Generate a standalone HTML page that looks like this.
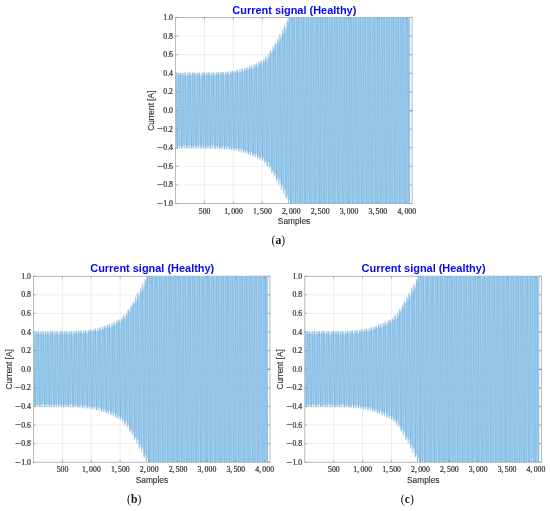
<!DOCTYPE html>
<html><head><meta charset="utf-8"><title>Current signal (Healthy)</title>
<style>
html,body{margin:0;padding:0;background:#fff;}
body{width:550px;height:511px;overflow:hidden;}
svg{display:block;}
.tk{font-family:"Liberation Serif","DejaVu Serif",serif;font-size:7.8px;fill:#2e2e2e;stroke:#2e2e2e;stroke-width:0.2;}
.lb{font-family:"Liberation Sans","DejaVu Sans",sans-serif;font-size:8.35px;fill:#2c2c2c;stroke:#2c2c2c;stroke-width:0.1;}
.tt{font-family:"Liberation Sans","DejaVu Sans",sans-serif;font-size:10.95px;font-weight:bold;fill:#0606fa;}
.cp{font-family:"Liberation Serif","DejaVu Serif",serif;font-size:11.7px;fill:#111;}
</style></head><body>
<svg width="550" height="511" viewBox="0 0 550 511">
<rect width="550" height="511" fill="#fff"/>
<g>
<path d="M204.47 17.50V203.50M233.34 17.50V203.50M262.21 17.50V203.50M291.08 17.50V203.50M319.95 17.50V203.50M348.82 17.50V203.50M377.69 17.50V203.50M406.56 17.50V203.50M175.60 36.10H412.10M175.60 54.70H412.10M175.60 73.30H412.10M175.60 91.90H412.10M175.60 110.50H412.10M175.60 129.10H412.10M175.60 147.70H412.10M175.60 166.30H412.10M175.60 184.90H412.10" stroke="#e9e9e9" stroke-width="0.6" fill="none"/>
<rect x="175.60" y="17.50" width="236.50" height="186.00" fill="none" stroke="#9c9c9c" stroke-width="0.7"/>
<clipPath id="clip1"><rect x="175.60" y="17.10" width="236.50" height="186.80"/></clipPath>
<g clip-path="url(#clip1)" stroke-linejoin="round"><polygon points="175.6,73.7 175.7,73.2 175.8,72.6 175.9,72.1 176.1,72.5 176.2,73.0 176.3,73.5 176.4,74.0 176.5,74.5 176.6,74.8 176.8,74.8 176.9,74.8 177.0,74.9 177.1,74.9 177.2,74.9 177.3,74.9 177.4,75.0 177.6,75.0 177.7,75.0 177.8,74.6 177.9,74.1 178.0,73.6 178.1,73.1 178.3,72.6 178.4,72.5 178.5,73.1 178.6,73.6 178.7,74.1 178.8,74.7 178.9,75.2 179.1,75.2 179.2,75.2 179.3,75.2 179.4,75.2 179.5,75.2 179.6,75.1 179.8,75.1 179.9,75.1 180.0,75.0 180.1,74.8 180.2,74.2 180.3,73.7 180.5,73.1 180.6,72.6 180.7,72.0 180.8,72.4 180.9,72.9 181.0,73.4 181.1,73.9 181.3,74.5 181.4,74.8 181.5,74.8 181.6,74.8 181.7,74.8 181.8,74.8 182.0,74.9 182.1,74.9 182.2,74.9 182.3,75.0 182.4,75.0 182.5,74.6 182.6,74.1 182.8,73.7 182.9,73.2 183.0,72.8 183.1,72.8 183.2,73.4 183.3,74.0 183.5,74.5 183.6,75.1 183.7,75.7 183.8,75.8 183.9,75.8 184.0,75.9 184.1,75.9 184.3,75.9 184.4,76.0 184.5,76.0 184.6,76.0 184.7,76.0 184.8,75.8 185.0,75.2 185.1,74.7 185.2,74.2 185.3,73.6 185.4,73.1 185.5,73.5 185.6,74.0 185.8,74.4 185.9,74.9 186.0,75.4 186.1,75.6 186.2,75.6 186.3,75.5 186.5,75.5 186.6,75.4 186.7,75.4 186.8,75.4 186.9,75.3 187.0,75.3 187.1,75.3 187.3,74.8 187.4,74.2 187.5,73.7 187.6,73.2 187.7,72.7 187.8,72.6 188.0,73.1 188.1,73.6 188.2,74.2 188.3,74.7 188.4,75.2 188.5,75.3 188.6,75.3 188.8,75.4 188.9,75.4 189.0,75.4 189.1,75.4 189.2,75.5 189.3,75.5 189.5,75.5 189.6,75.2 189.7,74.7 189.8,74.2 189.9,73.7 190.0,73.2 190.2,72.6 190.3,73.0 190.4,73.5 190.5,74.0 190.6,74.5 190.7,74.9 190.8,75.2 191.0,75.2 191.1,75.1 191.2,75.0 191.3,75.0 191.4,74.9 191.5,74.9 191.7,74.8 191.8,74.8 191.9,74.7 192.0,74.2 192.1,73.6 192.2,73.0 192.3,72.5 192.5,71.9 192.6,71.8 192.7,72.3 192.8,72.8 192.9,73.4 193.0,73.9 193.2,74.4 193.3,74.5 193.4,74.5 193.5,74.6 193.6,74.6 193.7,74.7 193.8,74.7 194.0,74.8 194.1,74.8 194.2,74.9 194.3,74.7 194.4,74.2 194.5,73.8 194.7,73.3 194.8,72.9 194.9,72.4 195.0,72.9 195.1,73.5 195.2,74.0 195.3,74.6 195.5,75.1 195.6,75.5 195.7,75.5 195.8,75.5 195.9,75.6 196.0,75.6 196.2,75.6 196.3,75.6 196.4,75.6 196.5,75.5 196.6,75.5 196.7,75.0 196.8,74.5 197.0,73.9 197.1,73.4 197.2,72.9 197.3,72.8 197.4,73.2 197.5,73.7 197.7,74.2 197.8,74.7 197.9,75.2 198.0,75.3 198.1,75.2 198.2,75.2 198.3,75.2 198.5,75.2 198.6,75.3 198.7,75.3 198.8,75.3 198.9,75.3 199.0,75.1 199.2,74.6 199.3,74.1 199.4,73.7 199.5,73.2 199.6,72.7 199.7,73.2 199.9,73.8 200.0,74.3 200.1,74.9 200.2,75.4 200.3,75.8 200.4,75.8 200.5,75.8 200.7,75.8 200.8,75.8 200.9,75.9 201.0,75.9 201.1,75.9 201.2,75.8 201.4,75.8 201.5,75.3 201.6,74.8 201.7,74.2 201.8,73.7 201.9,73.1 202.0,73.0 202.2,73.4 202.3,73.9 202.4,74.3 202.5,74.8 202.6,75.2 202.7,75.2 202.9,75.1 203.0,75.1 203.1,75.0 203.2,75.0 203.3,74.9 203.4,74.8 203.5,74.8 203.7,74.7 203.8,74.5 203.9,73.9 204.0,73.3 204.1,72.8 204.2,72.2 204.4,71.7 204.5,72.2 204.6,72.7 204.7,73.2 204.8,73.8 204.9,74.3 205.0,74.7 205.2,74.7 205.3,74.7 205.4,74.8 205.5,74.8 205.6,74.8 205.7,74.9 205.9,74.9 206.0,74.9 206.1,75.0 206.2,74.5 206.3,74.0 206.4,73.5 206.5,73.0 206.7,72.5 206.8,72.5 206.9,73.0 207.0,73.5 207.1,74.0 207.2,74.6 207.4,75.1 207.5,75.1 207.6,75.1 207.7,75.1 207.8,75.0 207.9,75.0 208.0,75.0 208.2,75.0 208.3,74.9 208.4,74.9 208.5,74.6 208.6,74.1 208.7,73.6 208.9,73.0 209.0,72.5 209.1,71.9 209.2,72.4 209.3,72.9 209.4,73.4 209.6,74.0 209.7,74.5 209.8,74.8 209.9,74.9 210.0,74.9 210.1,74.9 210.2,75.0 210.4,75.0 210.5,75.1 210.6,75.2 210.7,75.2 210.8,75.3 210.9,74.8 211.1,74.4 211.2,73.9 211.3,73.5 211.4,73.0 211.5,73.0 211.6,73.6 211.7,74.2 211.9,74.7 212.0,75.3 212.1,75.8 212.2,75.9 212.3,75.9 212.4,75.9 212.6,75.9 212.7,75.9 212.8,75.9 212.9,75.9 213.0,75.9 213.1,75.9 213.2,75.6 213.4,75.0 213.5,74.5 213.6,73.9 213.7,73.4 213.8,72.8 213.9,73.2 214.1,73.6 214.2,74.1 214.3,74.5 214.4,75.0 214.5,75.3 214.6,75.2 214.7,75.2 214.9,75.1 215.0,75.1 215.1,75.1 215.2,75.0 215.3,75.0 215.4,75.0 215.6,75.0 215.7,74.5 215.8,74.0 215.9,73.4 216.0,72.9 216.1,72.4 216.2,72.4 216.4,72.9 216.5,73.4 216.6,74.0 216.7,74.5 216.8,75.1 216.9,75.1 217.1,75.2 217.2,75.2 217.3,75.2 217.4,75.2 217.5,75.2 217.6,75.2 217.8,75.2 217.9,75.2 218.0,74.9 218.1,74.4 218.2,73.8 218.3,73.3 218.4,72.7 218.6,72.1 218.7,72.5 218.8,73.0 218.9,73.5 219.0,73.9 219.1,74.4 219.3,74.7 219.4,74.6 219.5,74.5 219.6,74.5 219.7,74.4 219.8,74.4 219.9,74.3 220.1,74.3 220.2,74.2 220.3,74.2 220.4,73.6 220.5,73.1 220.6,72.5 220.8,72.0 220.9,71.4 221.0,71.4 221.1,71.9 221.2,72.5 221.3,73.0 221.4,73.6 221.6,74.1 221.7,74.2 221.8,74.3 221.9,74.3 222.0,74.4 222.1,74.4 222.3,74.5 222.4,74.5 222.5,74.6 222.6,74.7 222.7,74.5 222.8,74.0 222.9,73.5 223.1,73.1 223.2,72.6 223.3,72.1 223.4,72.6 223.5,73.1 223.6,73.7 223.8,74.2 223.9,74.7 224.0,75.0 224.1,75.0 224.2,75.0 224.3,75.0 224.4,75.0 224.6,75.0 224.7,74.9 224.8,74.9 224.9,74.9 225.0,74.8 225.1,74.3 225.3,73.7 225.4,73.1 225.5,72.6 225.6,72.0 225.7,71.9 225.8,72.4 225.9,72.9 226.1,73.4 226.2,73.9 226.3,74.4 226.4,74.4 226.5,74.4 226.6,74.4 226.8,74.4 226.9,74.4 227.0,74.4 227.1,74.4 227.2,74.5 227.3,74.5 227.5,74.3 227.6,73.7 227.7,73.2 227.8,72.7 227.9,72.2 228.0,71.7 228.1,72.2 228.3,72.8 228.4,73.3 228.5,73.8 228.6,74.4 228.7,74.7 228.8,74.7 229.0,74.7 229.1,74.7 229.2,74.7 229.3,74.6 229.4,74.6 229.5,74.6 229.6,74.5 229.8,74.5 229.9,73.9 230.0,73.3 230.1,72.7 230.2,72.1 230.3,71.5 230.5,71.3 230.6,71.8 230.7,72.2 230.8,72.7 230.9,73.1 231.0,73.6 231.1,73.6 231.3,73.5 231.4,73.4 231.5,73.4 231.6,73.3 231.7,73.3 231.8,73.2 232.0,73.2 232.1,73.2 232.2,72.9 232.3,72.3 232.4,71.8 232.5,71.2 232.6,70.7 232.8,70.1 232.9,70.6 233.0,71.2 233.1,71.8 233.2,72.3 233.3,72.9 233.5,73.3 233.6,73.3 233.7,73.3 233.8,73.3 233.9,73.4 234.0,73.4 234.1,73.4 234.3,73.4 234.4,73.4 234.5,73.4 234.6,72.9 234.7,72.4 234.8,71.8 235.0,71.2 235.1,70.7 235.2,70.6 235.3,71.1 235.4,71.6 235.5,72.1 235.6,72.6 235.8,73.1 235.9,73.1 236.0,73.1 236.1,73.0 236.2,73.0 236.3,72.9 236.5,72.9 236.6,72.8 236.7,72.8 236.8,72.7 236.9,72.4 237.0,71.8 237.2,71.2 237.3,70.6 237.4,70.1 237.5,69.5 237.6,69.9 237.7,70.5 237.8,71.0 238.0,71.6 238.1,72.2 238.2,72.5 238.3,72.5 238.4,72.6 238.5,72.6 238.7,72.6 238.8,72.7 238.9,72.7 239.0,72.7 239.1,72.8 239.2,72.8 239.3,72.3 239.5,71.8 239.6,71.2 239.7,70.7 239.8,70.2 239.9,70.1 240.0,70.7 240.2,71.2 240.3,71.8 240.4,72.3 240.5,72.8 240.6,72.9 240.7,72.8 240.8,72.8 241.0,72.7 241.1,72.6 241.2,72.6 241.3,72.5 241.4,72.4 241.5,72.3 241.7,72.0 241.8,71.3 241.9,70.7 242.0,70.0 242.1,69.4 242.2,68.7 242.3,69.1 242.5,69.5 242.6,70.0 242.7,70.5 242.8,71.0 242.9,71.3 243.0,71.2 243.2,71.1 243.3,71.1 243.4,71.0 243.5,71.0 243.6,70.9 243.7,70.9 243.8,70.9 244.0,70.9 244.1,70.3 244.2,69.7 244.3,69.1 244.4,68.5 244.5,67.9 244.7,67.8 244.8,68.4 244.9,69.0 245.0,69.6 245.1,70.2 245.2,70.7 245.3,70.8 245.5,70.8 245.6,70.8 245.7,70.8 245.8,70.7 245.9,70.7 246.0,70.7 246.2,70.6 246.3,70.6 246.4,70.2 246.5,69.6 246.6,68.9 246.7,68.2 246.9,67.5 247.0,66.9 247.1,67.3 247.2,67.8 247.3,68.2 247.4,68.7 247.5,69.2 247.7,69.5 247.8,69.4 247.9,69.3 248.0,69.2 248.1,69.2 248.2,69.1 248.4,69.0 248.5,69.0 248.6,68.9 248.7,68.9 248.8,68.2 248.9,67.6 249.0,66.9 249.2,66.3 249.3,65.7 249.4,65.6 249.5,66.2 249.6,66.8 249.7,67.5 249.9,68.1 250.0,68.7 250.1,68.8 250.2,68.9 250.3,68.9 250.4,68.9 250.5,69.0 250.7,69.0 250.8,69.0 250.9,69.0 251.0,69.1 251.1,68.8 251.2,68.2 251.4,67.6 251.5,67.0 251.6,66.4 251.7,65.7 251.8,66.2 251.9,66.8 252.0,67.4 252.2,67.9 252.3,68.5 252.4,68.8 252.5,68.7 252.6,68.6 252.7,68.6 252.9,68.5 253.0,68.4 253.1,68.3 253.2,68.2 253.3,68.1 253.4,68.0 253.5,67.3 253.7,66.6 253.8,65.9 253.9,65.2 254.0,64.5 254.1,64.3 254.2,64.8 254.4,65.4 254.5,66.0 254.6,66.6 254.7,67.1 254.8,67.2 254.9,67.1 255.1,67.1 255.2,67.1 255.3,67.0 255.4,67.0 255.5,67.0 255.6,67.0 255.7,67.0 255.9,66.7 256.0,66.0 256.1,65.4 256.2,64.7 256.3,64.1 256.4,63.4 256.6,63.9 256.7,64.5 256.8,65.1 256.9,65.7 257.0,66.3 257.1,66.6 257.2,66.6 257.4,66.5 257.5,66.4 257.6,66.3 257.7,66.2 257.8,66.1 257.9,66.0 258.1,65.9 258.2,65.8 258.3,65.0 258.4,64.2 258.5,63.4 258.6,62.6 258.7,61.8 258.9,61.6 259.0,62.1 259.1,62.7 259.2,63.2 259.3,63.8 259.4,64.3 259.6,64.3 259.7,64.2 259.8,64.1 259.9,64.1 260.0,64.0 260.1,63.9 260.2,63.9 260.4,63.8 260.5,63.8 260.6,63.5 260.7,62.8 260.8,62.1 260.9,61.4 261.1,60.7 261.2,60.0 261.3,60.6 261.4,61.3 261.5,62.0 261.6,62.7 261.7,63.4 261.9,63.9 262.0,63.9 262.1,63.9 262.2,63.9 262.3,63.9 262.4,63.8 262.6,63.7 262.7,63.7 262.8,63.6 262.9,63.5 263.0,62.7 263.1,61.9 263.2,61.1 263.4,60.3 263.5,59.5 263.6,59.2 263.7,59.8 263.8,60.4 263.9,60.9 264.1,61.5 264.2,62.0 264.3,62.0 264.4,61.8 264.5,61.7 264.6,61.5 264.8,61.4 264.9,61.2 265.0,61.1 265.1,60.9 265.2,60.8 265.3,60.4 265.4,59.5 265.6,58.7 265.7,57.8 265.8,57.0 265.9,56.2 266.0,56.7 266.1,57.4 266.3,58.0 266.4,58.7 266.5,59.4 266.6,59.8 266.7,59.8 266.8,59.7 266.9,59.7 267.1,59.6 267.2,59.6 267.3,59.5 267.4,59.5 267.5,59.4 267.6,59.4 267.8,58.6 267.9,57.8 268.0,56.9 268.1,56.1 268.2,55.2 268.3,55.0 268.4,55.6 268.6,56.3 268.7,56.9 268.8,57.5 268.9,58.1 269.0,58.0 269.1,57.8 269.3,57.6 269.4,57.4 269.5,57.2 269.6,57.0 269.7,56.7 269.8,56.4 269.9,56.1 270.1,55.5 270.2,54.4 270.3,53.3 270.4,52.2 270.5,51.1 270.6,50.0 270.8,50.5 270.9,51.0 271.0,51.6 271.1,52.2 271.2,52.8 271.3,53.1 271.4,52.9 271.6,52.7 271.7,52.5 271.8,52.3 271.9,52.1 272.0,52.0 272.1,51.8 272.3,51.7 272.4,51.5 272.5,50.6 272.6,49.6 272.7,48.6 272.8,47.6 272.9,46.6 273.1,46.3 273.2,47.0 273.3,47.8 273.4,48.5 273.5,49.2 273.6,50.0 273.8,49.9 273.9,49.8 274.0,49.6 274.1,49.4 274.2,49.2 274.3,49.1 274.5,48.9 274.6,48.6 274.7,48.4 274.8,47.8 274.9,46.6 275.0,45.5 275.1,44.3 275.3,43.1 275.4,41.9 275.5,42.5 275.6,43.1 275.7,43.8 275.8,44.4 276.0,45.1 276.1,45.5 276.2,45.2 276.3,45.0 276.4,44.8 276.5,44.5 276.6,44.3 276.8,44.1 276.9,44.0 277.0,43.8 277.1,43.6 277.2,42.6 277.3,41.4 277.5,40.3 277.6,39.2 277.7,38.1 277.8,37.9 277.9,38.8 278.0,39.7 278.1,40.6 278.3,41.5 278.4,42.4 278.5,42.5 278.6,42.4 278.7,42.3 278.8,42.2 279.0,42.1 279.1,42.0 279.2,41.9 279.3,41.8 279.4,41.7 279.5,41.1 279.6,39.9 279.8,38.7 279.9,37.5 280.0,36.3 280.1,35.0 280.2,35.7 280.3,36.4 280.5,37.2 280.6,38.0 280.7,38.7 280.8,39.1 280.9,38.8 281.0,38.5 281.1,38.2 281.3,37.9 281.4,37.7 281.5,37.4 281.6,37.1 281.7,36.8 281.8,36.5 282.0,35.2 282.1,33.9 282.2,32.5 282.3,31.1 282.4,29.8 282.5,29.4 282.6,30.3 282.8,31.1 282.9,32.1 283.0,33.0 283.1,33.9 283.2,33.9 283.3,33.7 283.5,33.6 283.6,33.4 283.7,33.3 283.8,33.1 283.9,33.0 284.0,32.8 284.2,32.7 284.3,32.0 284.4,30.7 284.5,29.4 284.6,28.1 284.7,26.8 284.8,25.4 285.0,26.2 285.1,27.1 285.2,28.1 285.3,29.0 285.4,29.9 285.5,30.3 285.7,30.0 285.8,29.7 285.9,29.4 286.0,29.1 286.1,28.8 286.2,28.4 286.3,28.1 286.5,27.7 286.6,27.3 286.7,25.8 286.8,24.2 286.9,22.6 287.0,21.0 287.2,19.4 287.3,18.9 287.4,19.8 287.5,20.7 287.6,21.6 287.7,22.6 287.8,23.6 288.0,23.5 288.1,23.3 288.2,23.0 288.3,22.8 288.4,22.6 288.5,22.4 288.7,22.2 288.8,22.0 288.9,21.8 289.0,21.0 289.1,19.5 289.2,18.0 289.3,17.5 289.5,17.5 289.6,17.5 289.7,17.5 289.8,17.5 289.9,17.5 290.0,18.1 290.2,19.2 290.3,19.9 290.4,19.7 290.5,19.5 290.6,19.3 290.7,19.1 290.8,18.9 291.0,18.7 291.1,18.4 291.2,18.2 291.3,17.9 291.4,17.5 291.5,17.5 291.7,17.5 291.8,17.5 291.9,17.5 292.0,17.5 292.1,17.5 292.2,17.5 292.4,17.5 292.5,17.5 292.6,17.5 292.7,17.5 292.8,17.5 292.9,17.5 293.0,17.5 293.2,17.5 293.3,17.5 293.4,17.5 293.5,17.5 293.6,17.5 293.7,17.5 293.9,17.5 294.0,17.5 294.1,17.5 294.2,17.5 294.3,17.5 294.4,17.5 294.5,17.5 294.7,17.5 294.8,17.5 294.9,17.5 295.0,17.5 295.1,17.5 295.2,17.5 295.4,17.5 295.5,17.5 295.6,17.5 295.7,17.5 295.8,17.5 295.9,17.5 296.0,17.5 296.2,17.5 296.3,17.5 296.4,17.5 296.5,17.5 296.6,17.5 296.7,17.5 296.9,17.5 297.0,17.5 297.1,17.5 297.2,17.5 297.3,17.5 297.4,17.5 297.5,17.5 297.7,17.5 297.8,17.5 297.9,17.5 298.0,17.5 298.1,17.5 298.2,17.5 298.4,17.5 298.5,17.5 298.6,17.5 298.7,17.5 298.8,17.5 298.9,17.5 299.0,17.5 299.2,17.5 299.3,17.5 299.4,17.5 299.5,17.5 299.6,17.5 299.7,17.5 299.9,17.5 300.0,17.5 300.1,17.5 300.2,17.5 300.3,17.5 300.4,17.5 300.5,17.5 300.7,17.5 300.8,17.5 300.9,17.5 301.0,17.5 301.1,17.5 301.2,17.5 301.4,17.5 301.5,17.5 301.6,17.5 301.7,17.5 301.8,17.5 301.9,17.5 302.1,17.5 302.2,17.5 302.3,17.5 302.4,17.5 302.5,17.5 302.6,17.5 302.7,17.5 302.9,17.5 303.0,17.5 303.1,17.5 303.2,17.5 303.3,17.5 303.4,17.5 303.6,17.5 303.7,17.5 303.8,17.5 303.9,17.5 304.0,17.5 304.1,17.5 304.2,17.5 304.4,17.5 304.5,17.5 304.6,17.5 304.7,17.5 304.8,17.5 304.9,17.5 305.1,17.5 305.2,17.5 305.3,17.5 305.4,17.5 305.5,17.5 305.6,17.5 305.7,17.5 305.9,17.5 306.0,17.5 306.1,17.5 306.2,17.5 306.3,17.5 306.4,17.5 306.6,17.5 306.7,17.5 306.8,17.5 306.9,17.5 307.0,17.5 307.1,17.5 307.2,17.5 307.4,17.5 307.5,17.5 307.6,17.5 307.7,17.5 307.8,17.5 307.9,17.5 308.1,17.5 308.2,17.5 308.3,17.5 308.4,17.5 308.5,17.5 308.6,17.5 308.7,17.5 308.9,17.5 309.0,17.5 309.1,17.5 309.2,17.5 309.3,17.5 309.4,17.5 309.6,17.5 309.7,17.5 309.8,17.5 309.9,17.5 310.0,17.5 310.1,17.5 310.2,17.5 310.4,17.5 310.5,17.5 310.6,17.5 310.7,17.5 310.8,17.5 310.9,17.5 311.1,17.5 311.2,17.5 311.3,17.5 311.4,17.5 311.5,17.5 311.6,17.5 311.8,17.5 311.9,17.5 312.0,17.5 312.1,17.5 312.2,17.5 312.3,17.5 312.4,17.5 312.6,17.5 312.7,17.5 312.8,17.5 312.9,17.5 313.0,17.5 313.1,17.5 313.3,17.5 313.4,17.5 313.5,17.5 313.6,17.5 313.7,17.5 313.8,17.5 313.9,17.5 314.1,17.5 314.2,17.5 314.3,17.5 314.4,17.5 314.5,17.5 314.6,17.5 314.8,17.5 314.9,17.5 315.0,17.5 315.1,17.5 315.2,17.5 315.3,17.5 315.4,17.5 315.6,17.5 315.7,17.5 315.8,17.5 315.9,17.5 316.0,17.5 316.1,17.5 316.3,17.5 316.4,17.5 316.5,17.5 316.6,17.5 316.7,17.5 316.8,17.5 316.9,17.5 317.1,17.5 317.2,17.5 317.3,17.5 317.4,17.5 317.5,17.5 317.6,17.5 317.8,17.5 317.9,17.5 318.0,17.5 318.1,17.5 318.2,17.5 318.3,17.5 318.4,17.5 318.6,17.5 318.7,17.5 318.8,17.5 318.9,17.5 319.0,17.5 319.1,17.5 319.3,17.5 319.4,17.5 319.5,17.5 319.6,17.5 319.7,17.5 319.8,17.5 319.9,17.5 320.1,17.5 320.2,17.5 320.3,17.5 320.4,17.5 320.5,17.5 320.6,17.5 320.8,17.5 320.9,17.5 321.0,17.5 321.1,17.5 321.2,17.5 321.3,17.5 321.5,17.5 321.6,17.5 321.7,17.5 321.8,17.5 321.9,17.5 322.0,17.5 322.1,17.5 322.3,17.5 322.4,17.5 322.5,17.5 322.6,17.5 322.7,17.5 322.8,17.5 323.0,17.5 323.1,17.5 323.2,17.5 323.3,17.5 323.4,17.5 323.5,17.5 323.6,17.5 323.8,17.5 323.9,17.5 324.0,17.5 324.1,17.5 324.2,17.5 324.3,17.5 324.5,17.5 324.6,17.5 324.7,17.5 324.8,17.5 324.9,17.5 325.0,17.5 325.1,17.5 325.3,17.5 325.4,17.5 325.5,17.5 325.6,17.5 325.7,17.5 325.8,17.5 326.0,17.5 326.1,17.5 326.2,17.5 326.3,17.5 326.4,17.5 326.5,17.5 326.6,17.5 326.8,17.5 326.9,17.5 327.0,17.5 327.1,17.5 327.2,17.5 327.3,17.5 327.5,17.5 327.6,17.5 327.7,17.5 327.8,17.5 327.9,17.5 328.0,17.5 328.1,17.5 328.3,17.5 328.4,17.5 328.5,17.5 328.6,17.5 328.7,17.5 328.8,17.5 329.0,17.5 329.1,17.5 329.2,17.5 329.3,17.5 329.4,17.5 329.5,17.5 329.7,17.5 329.8,17.5 329.9,17.5 330.0,17.5 330.1,17.5 330.2,17.5 330.3,17.5 330.5,17.5 330.6,17.5 330.7,17.5 330.8,17.5 330.9,17.5 331.0,17.5 331.2,17.5 331.3,17.5 331.4,17.5 331.5,17.5 331.6,17.5 331.7,17.5 331.8,17.5 332.0,17.5 332.1,17.5 332.2,17.5 332.3,17.5 332.4,17.5 332.5,17.5 332.7,17.5 332.8,17.5 332.9,17.5 333.0,17.5 333.1,17.5 333.2,17.5 333.3,17.5 333.5,17.5 333.6,17.5 333.7,17.5 333.8,17.5 333.9,17.5 334.0,17.5 334.2,17.5 334.3,17.5 334.4,17.5 334.5,17.5 334.6,17.5 334.7,17.5 334.8,17.5 335.0,17.5 335.1,17.5 335.2,17.5 335.3,17.5 335.4,17.5 335.5,17.5 335.7,17.5 335.8,17.5 335.9,17.5 336.0,17.5 336.1,17.5 336.2,17.5 336.3,17.5 336.5,17.5 336.6,17.5 336.7,17.5 336.8,17.5 336.9,17.5 337.0,17.5 337.2,17.5 337.3,17.5 337.4,17.5 337.5,17.5 337.6,17.5 337.7,17.5 337.8,17.5 338.0,17.5 338.1,17.5 338.2,17.5 338.3,17.5 338.4,17.5 338.5,17.5 338.7,17.5 338.8,17.5 338.9,17.5 339.0,17.5 339.1,17.5 339.2,17.5 339.4,17.5 339.5,17.5 339.6,17.5 339.7,17.5 339.8,17.5 339.9,17.5 340.0,17.5 340.2,17.5 340.3,17.5 340.4,17.5 340.5,17.5 340.6,17.5 340.7,17.5 340.9,17.5 341.0,17.5 341.1,17.5 341.2,17.5 341.3,17.5 341.4,17.5 341.5,17.5 341.7,17.5 341.8,17.5 341.9,17.5 342.0,17.5 342.1,17.5 342.2,17.5 342.4,17.5 342.5,17.5 342.6,17.5 342.7,17.5 342.8,17.5 342.9,17.5 343.0,17.5 343.2,17.5 343.3,17.5 343.4,17.5 343.5,17.5 343.6,17.5 343.7,17.5 343.9,17.5 344.0,17.5 344.1,17.5 344.2,17.5 344.3,17.5 344.4,17.5 344.5,17.5 344.7,17.5 344.8,17.5 344.9,17.5 345.0,17.5 345.1,17.5 345.2,17.5 345.4,17.5 345.5,17.5 345.6,17.5 345.7,17.5 345.8,17.5 345.9,17.5 346.0,17.5 346.2,17.5 346.3,17.5 346.4,17.5 346.5,17.5 346.6,17.5 346.7,17.5 346.9,17.5 347.0,17.5 347.1,17.5 347.2,17.5 347.3,17.5 347.4,17.5 347.5,17.5 347.7,17.5 347.8,17.5 347.9,17.5 348.0,17.5 348.1,17.5 348.2,17.5 348.4,17.5 348.5,17.5 348.6,17.5 348.7,17.5 348.8,17.5 348.9,17.5 349.1,17.5 349.2,17.5 349.3,17.5 349.4,17.5 349.5,17.5 349.6,17.5 349.7,17.5 349.9,17.5 350.0,17.5 350.1,17.5 350.2,17.5 350.3,17.5 350.4,17.5 350.6,17.5 350.7,17.5 350.8,17.5 350.9,17.5 351.0,17.5 351.1,17.5 351.2,17.5 351.4,17.5 351.5,17.5 351.6,17.5 351.7,17.5 351.8,17.5 351.9,17.5 352.1,17.5 352.2,17.5 352.3,17.5 352.4,17.5 352.5,17.5 352.6,17.5 352.7,17.5 352.9,17.5 353.0,17.5 353.1,17.5 353.2,17.5 353.3,17.5 353.4,17.5 353.6,17.5 353.7,17.5 353.8,17.5 353.9,17.5 354.0,17.5 354.1,17.5 354.2,17.5 354.4,17.5 354.5,17.5 354.6,17.5 354.7,17.5 354.8,17.5 354.9,17.5 355.1,17.5 355.2,17.5 355.3,17.5 355.4,17.5 355.5,17.5 355.6,17.5 355.7,17.5 355.9,17.5 356.0,17.5 356.1,17.5 356.2,17.5 356.3,17.5 356.4,17.5 356.6,17.5 356.7,17.5 356.8,17.5 356.9,17.5 357.0,17.5 357.1,17.5 357.3,17.5 357.4,17.5 357.5,17.5 357.6,17.5 357.7,17.5 357.8,17.5 357.9,17.5 358.1,17.5 358.2,17.5 358.3,17.5 358.4,17.5 358.5,17.5 358.6,17.5 358.8,17.5 358.9,17.5 359.0,17.5 359.1,17.5 359.2,17.5 359.3,17.5 359.4,17.5 359.6,17.5 359.7,17.5 359.8,17.5 359.9,17.5 360.0,17.5 360.1,17.5 360.3,17.5 360.4,17.5 360.5,17.5 360.6,17.5 360.7,17.5 360.8,17.5 360.9,17.5 361.1,17.5 361.2,17.5 361.3,17.5 361.4,17.5 361.5,17.5 361.6,17.5 361.8,17.5 361.9,17.5 362.0,17.5 362.1,17.5 362.2,17.5 362.3,17.5 362.4,17.5 362.6,17.5 362.7,17.5 362.8,17.5 362.9,17.5 363.0,17.5 363.1,17.5 363.3,17.5 363.4,17.5 363.5,17.5 363.6,17.5 363.7,17.5 363.8,17.5 363.9,17.5 364.1,17.5 364.2,17.5 364.3,17.5 364.4,17.5 364.5,17.5 364.6,17.5 364.8,17.5 364.9,17.5 365.0,17.5 365.1,17.5 365.2,17.5 365.3,17.5 365.4,17.5 365.6,17.5 365.7,17.5 365.8,17.5 365.9,17.5 366.0,17.5 366.1,17.5 366.3,17.5 366.4,17.5 366.5,17.5 366.6,17.5 366.7,17.5 366.8,17.5 367.0,17.5 367.1,17.5 367.2,17.5 367.3,17.5 367.4,17.5 367.5,17.5 367.6,17.5 367.8,17.5 367.9,17.5 368.0,17.5 368.1,17.5 368.2,17.5 368.3,17.5 368.5,17.5 368.6,17.5 368.7,17.5 368.8,17.5 368.9,17.5 369.0,17.5 369.1,17.5 369.3,17.5 369.4,17.5 369.5,17.5 369.6,17.5 369.7,17.5 369.8,17.5 370.0,17.5 370.1,17.5 370.2,17.5 370.3,17.5 370.4,17.5 370.5,17.5 370.6,17.5 370.8,17.5 370.9,17.5 371.0,17.5 371.1,17.5 371.2,17.5 371.3,17.5 371.5,17.5 371.6,17.5 371.7,17.5 371.8,17.5 371.9,17.5 372.0,17.5 372.1,17.5 372.3,17.5 372.4,17.5 372.5,17.5 372.6,17.5 372.7,17.5 372.8,17.5 373.0,17.5 373.1,17.5 373.2,17.5 373.3,17.5 373.4,17.5 373.5,17.5 373.6,17.5 373.8,17.5 373.9,17.5 374.0,17.5 374.1,17.5 374.2,17.5 374.3,17.5 374.5,17.5 374.6,17.5 374.7,17.5 374.8,17.5 374.9,17.5 375.0,17.5 375.1,17.5 375.3,17.5 375.4,17.5 375.5,17.5 375.6,17.5 375.7,17.5 375.8,17.5 376.0,17.5 376.1,17.5 376.2,17.5 376.3,17.5 376.4,17.5 376.5,17.5 376.7,17.5 376.8,17.5 376.9,17.5 377.0,17.5 377.1,17.5 377.2,17.5 377.3,17.5 377.5,17.5 377.6,17.5 377.7,17.5 377.8,17.5 377.9,17.5 378.0,17.5 378.2,17.5 378.3,17.5 378.4,17.5 378.5,17.5 378.6,17.5 378.7,17.5 378.8,17.5 379.0,17.5 379.1,17.5 379.2,17.5 379.3,17.5 379.4,17.5 379.5,17.5 379.7,17.5 379.8,17.5 379.9,17.5 380.0,17.5 380.1,17.5 380.2,17.5 380.3,17.5 380.5,17.5 380.6,17.5 380.7,17.5 380.8,17.5 380.9,17.5 381.0,17.5 381.2,17.5 381.3,17.5 381.4,17.5 381.5,17.5 381.6,17.5 381.7,17.5 381.8,17.5 382.0,17.5 382.1,17.5 382.2,17.5 382.3,17.5 382.4,17.5 382.5,17.5 382.7,17.5 382.8,17.5 382.9,17.5 383.0,17.5 383.1,17.5 383.2,17.5 383.3,17.5 383.5,17.5 383.6,17.5 383.7,17.5 383.8,17.5 383.9,17.5 384.0,17.5 384.2,17.5 384.3,17.5 384.4,17.5 384.5,17.5 384.6,17.5 384.7,17.5 384.8,17.5 385.0,17.5 385.1,17.5 385.2,17.5 385.3,17.5 385.4,17.5 385.5,17.5 385.7,17.5 385.8,17.5 385.9,17.5 386.0,17.5 386.1,17.5 386.2,17.5 386.4,17.5 386.5,17.5 386.6,17.5 386.7,17.5 386.8,17.5 386.9,17.5 387.0,17.5 387.2,17.5 387.3,17.5 387.4,17.5 387.5,17.5 387.6,17.5 387.7,17.5 387.9,17.5 388.0,17.5 388.1,17.5 388.2,17.5 388.3,17.5 388.4,17.5 388.5,17.5 388.7,17.5 388.8,17.5 388.9,17.5 389.0,17.5 389.1,17.5 389.2,17.5 389.4,17.5 389.5,17.5 389.6,17.5 389.7,17.5 389.8,17.5 389.9,17.5 390.0,17.5 390.2,17.5 390.3,17.5 390.4,17.5 390.5,17.5 390.6,17.5 390.7,17.5 390.9,17.5 391.0,17.5 391.1,17.5 391.2,17.5 391.3,17.5 391.4,17.5 391.5,17.5 391.7,17.5 391.8,17.5 391.9,17.5 392.0,17.5 392.1,17.5 392.2,17.5 392.4,17.5 392.5,17.5 392.6,17.5 392.7,17.5 392.8,17.5 392.9,17.5 393.0,17.5 393.2,17.5 393.3,17.5 393.4,17.5 393.5,17.5 393.6,17.5 393.7,17.5 393.9,17.5 394.0,17.5 394.1,17.5 394.2,17.5 394.3,17.5 394.4,17.5 394.6,17.5 394.7,17.5 394.8,17.5 394.9,17.5 395.0,17.5 395.1,17.5 395.2,17.5 395.4,17.5 395.5,17.5 395.6,17.5 395.7,17.5 395.8,17.5 395.9,17.5 396.1,17.5 396.2,17.5 396.3,17.5 396.4,17.5 396.5,17.5 396.6,17.5 396.7,17.5 396.9,17.5 397.0,17.5 397.1,17.5 397.2,17.5 397.3,17.5 397.4,17.5 397.6,17.5 397.7,17.5 397.8,17.5 397.9,17.5 398.0,17.5 398.1,17.5 398.2,17.5 398.4,17.5 398.5,17.5 398.6,17.5 398.7,17.5 398.8,17.5 398.9,17.5 399.1,17.5 399.2,17.5 399.3,17.5 399.4,17.5 399.5,17.5 399.6,17.5 399.7,17.5 399.9,17.5 400.0,17.5 400.1,17.5 400.2,17.5 400.3,17.5 400.4,17.5 400.6,17.5 400.7,17.5 400.8,17.5 400.9,17.5 401.0,17.5 401.1,17.5 401.2,17.5 401.4,17.5 401.5,17.5 401.6,17.5 401.7,17.5 401.8,17.5 401.9,17.5 402.1,17.5 402.2,17.5 402.3,17.5 402.4,17.5 402.5,17.5 402.6,17.5 402.7,17.5 402.9,17.5 403.0,17.5 403.1,17.5 403.2,17.5 403.3,17.5 403.4,17.5 403.6,17.5 403.7,17.5 403.8,17.5 403.9,17.5 404.0,17.5 404.1,17.5 404.3,17.5 404.4,17.5 404.5,17.5 404.6,17.5 404.7,17.5 404.8,17.5 404.9,17.5 405.1,17.5 405.2,17.5 405.3,17.5 405.4,17.5 405.5,17.5 405.6,17.5 405.8,17.5 405.9,17.5 406.0,17.5 406.1,17.5 406.2,17.5 406.3,17.5 406.4,17.5 406.6,17.5 406.7,17.5 406.8,17.5 406.9,17.5 407.0,17.5 407.1,17.5 407.3,17.5 407.4,17.5 407.5,17.5 407.6,17.5 407.7,17.5 407.8,17.5 407.9,17.5 408.1,17.5 408.2,17.5 408.3,17.5 408.4,17.5 408.5,17.5 408.6,17.5 408.8,17.5 408.9,17.5 409.0,17.5 409.1,17.5 409.2,17.5 409.3,17.5 409.4,17.5 409.6,17.5 409.7,17.5 409.8,17.5 409.9,17.5 410.0,17.5 410.1,203.5 410.0,203.5 409.9,203.5 409.7,203.5 409.6,203.5 409.5,203.5 409.4,203.5 409.3,203.5 409.2,203.5 409.0,203.5 408.9,203.5 408.8,203.5 408.7,203.5 408.6,203.5 408.5,203.5 408.3,203.5 408.2,203.5 408.1,203.5 408.0,203.5 407.9,203.5 407.8,203.5 407.7,203.5 407.5,203.5 407.4,203.5 407.3,203.5 407.2,203.5 407.1,203.5 407.0,203.5 406.8,203.5 406.7,203.5 406.6,203.5 406.5,203.5 406.4,203.5 406.3,203.5 406.2,203.5 406.0,203.5 405.9,203.5 405.8,203.5 405.7,203.5 405.6,203.5 405.5,203.5 405.3,203.5 405.2,203.5 405.1,203.5 405.0,203.5 404.9,203.5 404.8,203.5 404.7,203.5 404.5,203.5 404.4,203.5 404.3,203.5 404.2,203.5 404.1,203.5 404.0,203.5 403.8,203.5 403.7,203.5 403.6,203.5 403.5,203.5 403.4,203.5 403.3,203.5 403.2,203.5 403.0,203.5 402.9,203.5 402.8,203.5 402.7,203.5 402.6,203.5 402.5,203.5 402.3,203.5 402.2,203.5 402.1,203.5 402.0,203.5 401.9,203.5 401.8,203.5 401.7,203.5 401.5,203.5 401.4,203.5 401.3,203.5 401.2,203.5 401.1,203.5 401.0,203.5 400.8,203.5 400.7,203.5 400.6,203.5 400.5,203.5 400.4,203.5 400.3,203.5 400.2,203.5 400.0,203.5 399.9,203.5 399.8,203.5 399.7,203.5 399.6,203.5 399.5,203.5 399.3,203.5 399.2,203.5 399.1,203.5 399.0,203.5 398.9,203.5 398.8,203.5 398.6,203.5 398.5,203.5 398.4,203.5 398.3,203.5 398.2,203.5 398.1,203.5 398.0,203.5 397.8,203.5 397.7,203.5 397.6,203.5 397.5,203.5 397.4,203.5 397.3,203.5 397.1,203.5 397.0,203.5 396.9,203.5 396.8,203.5 396.7,203.5 396.6,203.5 396.5,203.5 396.3,203.5 396.2,203.5 396.1,203.5 396.0,203.5 395.9,203.5 395.8,203.5 395.6,203.5 395.5,203.5 395.4,203.5 395.3,203.5 395.2,203.5 395.1,203.5 395.0,203.5 394.8,203.5 394.7,203.5 394.6,203.5 394.5,203.5 394.4,203.5 394.3,203.5 394.1,203.5 394.0,203.5 393.9,203.5 393.8,203.5 393.7,203.5 393.6,203.5 393.5,203.5 393.3,203.5 393.2,203.5 393.1,203.5 393.0,203.5 392.9,203.5 392.8,203.5 392.6,203.5 392.5,203.5 392.4,203.5 392.3,203.5 392.2,203.5 392.1,203.5 392.0,203.5 391.8,203.5 391.7,203.5 391.6,203.5 391.5,203.5 391.4,203.5 391.3,203.5 391.1,203.5 391.0,203.5 390.9,203.5 390.8,203.5 390.7,203.5 390.6,203.5 390.5,203.5 390.3,203.5 390.2,203.5 390.1,203.5 390.0,203.5 389.9,203.5 389.8,203.5 389.6,203.5 389.5,203.5 389.4,203.5 389.3,203.5 389.2,203.5 389.1,203.5 388.9,203.5 388.8,203.5 388.7,203.5 388.6,203.5 388.5,203.5 388.4,203.5 388.3,203.5 388.1,203.5 388.0,203.5 387.9,203.5 387.8,203.5 387.7,203.5 387.6,203.5 387.4,203.5 387.3,203.5 387.2,203.5 387.1,203.5 387.0,203.5 386.9,203.5 386.8,203.5 386.6,203.5 386.5,203.5 386.4,203.5 386.3,203.5 386.2,203.5 386.1,203.5 385.9,203.5 385.8,203.5 385.7,203.5 385.6,203.5 385.5,203.5 385.4,203.5 385.3,203.5 385.1,203.5 385.0,203.5 384.9,203.5 384.8,203.5 384.7,203.5 384.6,203.5 384.4,203.5 384.3,203.5 384.2,203.5 384.1,203.5 384.0,203.5 383.9,203.5 383.8,203.5 383.6,203.5 383.5,203.5 383.4,203.5 383.3,203.5 383.2,203.5 383.1,203.5 382.9,203.5 382.8,203.5 382.7,203.5 382.6,203.5 382.5,203.5 382.4,203.5 382.3,203.5 382.1,203.5 382.0,203.5 381.9,203.5 381.8,203.5 381.7,203.5 381.6,203.5 381.4,203.5 381.3,203.5 381.2,203.5 381.1,203.5 381.0,203.5 380.9,203.5 380.8,203.5 380.6,203.5 380.5,203.5 380.4,203.5 380.3,203.5 380.2,203.5 380.1,203.5 379.9,203.5 379.8,203.5 379.7,203.5 379.6,203.5 379.5,203.5 379.4,203.5 379.2,203.5 379.1,203.5 379.0,203.5 378.9,203.5 378.8,203.5 378.7,203.5 378.6,203.5 378.4,203.5 378.3,203.5 378.2,203.5 378.1,203.5 378.0,203.5 377.9,203.5 377.7,203.5 377.6,203.5 377.5,203.5 377.4,203.5 377.3,203.5 377.2,203.5 377.1,203.5 376.9,203.5 376.8,203.5 376.7,203.5 376.6,203.5 376.5,203.5 376.4,203.5 376.2,203.5 376.1,203.5 376.0,203.5 375.9,203.5 375.8,203.5 375.7,203.5 375.6,203.5 375.4,203.5 375.3,203.5 375.2,203.5 375.1,203.5 375.0,203.5 374.9,203.5 374.7,203.5 374.6,203.5 374.5,203.5 374.4,203.5 374.3,203.5 374.2,203.5 374.1,203.5 373.9,203.5 373.8,203.5 373.7,203.5 373.6,203.5 373.5,203.5 373.4,203.5 373.2,203.5 373.1,203.5 373.0,203.5 372.9,203.5 372.8,203.5 372.7,203.5 372.6,203.5 372.4,203.5 372.3,203.5 372.2,203.5 372.1,203.5 372.0,203.5 371.9,203.5 371.7,203.5 371.6,203.5 371.5,203.5 371.4,203.5 371.3,203.5 371.2,203.5 371.0,203.5 370.9,203.5 370.8,203.5 370.7,203.5 370.6,203.5 370.5,203.5 370.4,203.5 370.2,203.5 370.1,203.5 370.0,203.5 369.9,203.5 369.8,203.5 369.7,203.5 369.5,203.5 369.4,203.5 369.3,203.5 369.2,203.5 369.1,203.5 369.0,203.5 368.9,203.5 368.7,203.5 368.6,203.5 368.5,203.5 368.4,203.5 368.3,203.5 368.2,203.5 368.0,203.5 367.9,203.5 367.8,203.5 367.7,203.5 367.6,203.5 367.5,203.5 367.4,203.5 367.2,203.5 367.1,203.5 367.0,203.5 366.9,203.5 366.8,203.5 366.7,203.5 366.5,203.5 366.4,203.5 366.3,203.5 366.2,203.5 366.1,203.5 366.0,203.5 365.9,203.5 365.7,203.5 365.6,203.5 365.5,203.5 365.4,203.5 365.3,203.5 365.2,203.5 365.0,203.5 364.9,203.5 364.8,203.5 364.7,203.5 364.6,203.5 364.5,203.5 364.4,203.5 364.2,203.5 364.1,203.5 364.0,203.5 363.9,203.5 363.8,203.5 363.7,203.5 363.5,203.5 363.4,203.5 363.3,203.5 363.2,203.5 363.1,203.5 363.0,203.5 362.9,203.5 362.7,203.5 362.6,203.5 362.5,203.5 362.4,203.5 362.3,203.5 362.2,203.5 362.0,203.5 361.9,203.5 361.8,203.5 361.7,203.5 361.6,203.5 361.5,203.5 361.3,203.5 361.2,203.5 361.1,203.5 361.0,203.5 360.9,203.5 360.8,203.5 360.7,203.5 360.5,203.5 360.4,203.5 360.3,203.5 360.2,203.5 360.1,203.5 360.0,203.5 359.8,203.5 359.7,203.5 359.6,203.5 359.5,203.5 359.4,203.5 359.3,203.5 359.2,203.5 359.0,203.5 358.9,203.5 358.8,203.5 358.7,203.5 358.6,203.5 358.5,203.5 358.3,203.5 358.2,203.5 358.1,203.5 358.0,203.5 357.9,203.5 357.8,203.5 357.7,203.5 357.5,203.5 357.4,203.5 357.3,203.5 357.2,203.5 357.1,203.5 357.0,203.5 356.8,203.5 356.7,203.5 356.6,203.5 356.5,203.5 356.4,203.5 356.3,203.5 356.2,203.5 356.0,203.5 355.9,203.5 355.8,203.5 355.7,203.5 355.6,203.5 355.5,203.5 355.3,203.5 355.2,203.5 355.1,203.5 355.0,203.5 354.9,203.5 354.8,203.5 354.7,203.5 354.5,203.5 354.4,203.5 354.3,203.5 354.2,203.5 354.1,203.5 354.0,203.5 353.8,203.5 353.7,203.5 353.6,203.5 353.5,203.5 353.4,203.5 353.3,203.5 353.2,203.5 353.0,203.5 352.9,203.5 352.8,203.5 352.7,203.5 352.6,203.5 352.5,203.5 352.3,203.5 352.2,203.5 352.1,203.5 352.0,203.5 351.9,203.5 351.8,203.5 351.6,203.5 351.5,203.5 351.4,203.5 351.3,203.5 351.2,203.5 351.1,203.5 351.0,203.5 350.8,203.5 350.7,203.5 350.6,203.5 350.5,203.5 350.4,203.5 350.3,203.5 350.1,203.5 350.0,203.5 349.9,203.5 349.8,203.5 349.7,203.5 349.6,203.5 349.5,203.5 349.3,203.5 349.2,203.5 349.1,203.5 349.0,203.5 348.9,203.5 348.8,203.5 348.6,203.5 348.5,203.5 348.4,203.5 348.3,203.5 348.2,203.5 348.1,203.5 348.0,203.5 347.8,203.5 347.7,203.5 347.6,203.5 347.5,203.5 347.4,203.5 347.3,203.5 347.1,203.5 347.0,203.5 346.9,203.5 346.8,203.5 346.7,203.5 346.6,203.5 346.5,203.5 346.3,203.5 346.2,203.5 346.1,203.5 346.0,203.5 345.9,203.5 345.8,203.5 345.6,203.5 345.5,203.5 345.4,203.5 345.3,203.5 345.2,203.5 345.1,203.5 345.0,203.5 344.8,203.5 344.7,203.5 344.6,203.5 344.5,203.5 344.4,203.5 344.3,203.5 344.1,203.5 344.0,203.5 343.9,203.5 343.8,203.5 343.7,203.5 343.6,203.5 343.5,203.5 343.3,203.5 343.2,203.5 343.1,203.5 343.0,203.5 342.9,203.5 342.8,203.5 342.6,203.5 342.5,203.5 342.4,203.5 342.3,203.5 342.2,203.5 342.1,203.5 341.9,203.5 341.8,203.5 341.7,203.5 341.6,203.5 341.5,203.5 341.4,203.5 341.3,203.5 341.1,203.5 341.0,203.5 340.9,203.5 340.8,203.5 340.7,203.5 340.6,203.5 340.4,203.5 340.3,203.5 340.2,203.5 340.1,203.5 340.0,203.5 339.9,203.5 339.8,203.5 339.6,203.5 339.5,203.5 339.4,203.5 339.3,203.5 339.2,203.5 339.1,203.5 338.9,203.5 338.8,203.5 338.7,203.5 338.6,203.5 338.5,203.5 338.4,203.5 338.3,203.5 338.1,203.5 338.0,203.5 337.9,203.5 337.8,203.5 337.7,203.5 337.6,203.5 337.4,203.5 337.3,203.5 337.2,203.5 337.1,203.5 337.0,203.5 336.9,203.5 336.8,203.5 336.6,203.5 336.5,203.5 336.4,203.5 336.3,203.5 336.2,203.5 336.1,203.5 335.9,203.5 335.8,203.5 335.7,203.5 335.6,203.5 335.5,203.5 335.4,203.5 335.3,203.5 335.1,203.5 335.0,203.5 334.9,203.5 334.8,203.5 334.7,203.5 334.6,203.5 334.4,203.5 334.3,203.5 334.2,203.5 334.1,203.5 334.0,203.5 333.9,203.5 333.7,203.5 333.6,203.5 333.5,203.5 333.4,203.5 333.3,203.5 333.2,203.5 333.1,203.5 332.9,203.5 332.8,203.5 332.7,203.5 332.6,203.5 332.5,203.5 332.4,203.5 332.2,203.5 332.1,203.5 332.0,203.5 331.9,203.5 331.8,203.5 331.7,203.5 331.6,203.5 331.4,203.5 331.3,203.5 331.2,203.5 331.1,203.5 331.0,203.5 330.9,203.5 330.7,203.5 330.6,203.5 330.5,203.5 330.4,203.5 330.3,203.5 330.2,203.5 330.1,203.5 329.9,203.5 329.8,203.5 329.7,203.5 329.6,203.5 329.5,203.5 329.4,203.5 329.2,203.5 329.1,203.5 329.0,203.5 328.9,203.5 328.8,203.5 328.7,203.5 328.6,203.5 328.4,203.5 328.3,203.5 328.2,203.5 328.1,203.5 328.0,203.5 327.9,203.5 327.7,203.5 327.6,203.5 327.5,203.5 327.4,203.5 327.3,203.5 327.2,203.5 327.1,203.5 326.9,203.5 326.8,203.5 326.7,203.5 326.6,203.5 326.5,203.5 326.4,203.5 326.2,203.5 326.1,203.5 326.0,203.5 325.9,203.5 325.8,203.5 325.7,203.5 325.6,203.5 325.4,203.5 325.3,203.5 325.2,203.5 325.1,203.5 325.0,203.5 324.9,203.5 324.7,203.5 324.6,203.5 324.5,203.5 324.4,203.5 324.3,203.5 324.2,203.5 324.0,203.5 323.9,203.5 323.8,203.5 323.7,203.5 323.6,203.5 323.5,203.5 323.4,203.5 323.2,203.5 323.1,203.5 323.0,203.5 322.9,203.5 322.8,203.5 322.7,203.5 322.5,203.5 322.4,203.5 322.3,203.5 322.2,203.5 322.1,203.5 322.0,203.5 321.9,203.5 321.7,203.5 321.6,203.5 321.5,203.5 321.4,203.5 321.3,203.5 321.2,203.5 321.0,203.5 320.9,203.5 320.8,203.5 320.7,203.5 320.6,203.5 320.5,203.5 320.4,203.5 320.2,203.5 320.1,203.5 320.0,203.5 319.9,203.5 319.8,203.5 319.7,203.5 319.5,203.5 319.4,203.5 319.3,203.5 319.2,203.5 319.1,203.5 319.0,203.5 318.9,203.5 318.7,203.5 318.6,203.5 318.5,203.5 318.4,203.5 318.3,203.5 318.2,203.5 318.0,203.5 317.9,203.5 317.8,203.5 317.7,203.5 317.6,203.5 317.5,203.5 317.4,203.5 317.2,203.5 317.1,203.5 317.0,203.5 316.9,203.5 316.8,203.5 316.7,203.5 316.5,203.5 316.4,203.5 316.3,203.5 316.2,203.5 316.1,203.5 316.0,203.5 315.9,203.5 315.7,203.5 315.6,203.5 315.5,203.5 315.4,203.5 315.3,203.5 315.2,203.5 315.0,203.5 314.9,203.5 314.8,203.5 314.7,203.5 314.6,203.5 314.5,203.5 314.3,203.5 314.2,203.5 314.1,203.5 314.0,203.5 313.9,203.5 313.8,203.5 313.7,203.5 313.5,203.5 313.4,203.5 313.3,203.5 313.2,203.5 313.1,203.5 313.0,203.5 312.8,203.5 312.7,203.5 312.6,203.5 312.5,203.5 312.4,203.5 312.3,203.5 312.2,203.5 312.0,203.5 311.9,203.5 311.8,203.5 311.7,203.5 311.6,203.5 311.5,203.5 311.3,203.5 311.2,203.5 311.1,203.5 311.0,203.5 310.9,203.5 310.8,203.5 310.7,203.5 310.5,203.5 310.4,203.5 310.3,203.5 310.2,203.5 310.1,203.5 310.0,203.5 309.8,203.5 309.7,203.5 309.6,203.5 309.5,203.5 309.4,203.5 309.3,203.5 309.2,203.5 309.0,203.5 308.9,203.5 308.8,203.5 308.7,203.5 308.6,203.5 308.5,203.5 308.3,203.5 308.2,203.5 308.1,203.5 308.0,203.5 307.9,203.5 307.8,203.5 307.7,203.5 307.5,203.5 307.4,203.5 307.3,203.5 307.2,203.5 307.1,203.5 307.0,203.5 306.8,203.5 306.7,203.5 306.6,203.5 306.5,203.5 306.4,203.5 306.3,203.5 306.2,203.5 306.0,203.5 305.9,203.5 305.8,203.5 305.7,203.5 305.6,203.5 305.5,203.5 305.3,203.5 305.2,203.5 305.1,203.5 305.0,203.5 304.9,203.5 304.8,203.5 304.6,203.5 304.5,203.5 304.4,203.5 304.3,203.5 304.2,203.5 304.1,203.5 304.0,203.5 303.8,203.5 303.7,203.5 303.6,203.5 303.5,203.5 303.4,203.5 303.3,203.5 303.1,203.5 303.0,203.5 302.9,203.5 302.8,203.5 302.7,203.5 302.6,203.5 302.5,203.5 302.3,203.5 302.2,203.5 302.1,203.5 302.0,203.5 301.9,203.5 301.8,203.5 301.6,203.5 301.5,203.5 301.4,203.5 301.3,203.5 301.2,203.5 301.1,203.5 301.0,203.5 300.8,203.5 300.7,203.5 300.6,203.5 300.5,203.5 300.4,203.5 300.3,203.5 300.1,203.5 300.0,203.5 299.9,203.5 299.8,203.5 299.7,203.5 299.6,203.5 299.5,203.5 299.3,203.5 299.2,203.5 299.1,203.5 299.0,203.5 298.9,203.5 298.8,203.5 298.6,203.5 298.5,203.5 298.4,203.5 298.3,203.5 298.2,203.5 298.1,203.5 298.0,203.5 297.8,203.5 297.7,203.5 297.6,203.5 297.5,203.5 297.4,203.5 297.3,203.5 297.1,203.5 297.0,203.5 296.9,203.5 296.8,203.5 296.7,203.5 296.6,203.5 296.4,203.5 296.3,203.5 296.2,203.5 296.1,203.5 296.0,203.5 295.9,203.5 295.8,203.5 295.6,203.5 295.5,203.5 295.4,203.5 295.3,203.5 295.2,203.5 295.1,203.5 294.9,203.5 294.8,203.5 294.7,203.5 294.6,203.5 294.5,203.5 294.4,203.5 294.3,203.5 294.1,203.5 294.0,203.5 293.9,203.5 293.8,203.5 293.7,203.5 293.6,203.5 293.4,203.5 293.3,203.5 293.2,203.5 293.1,203.5 293.0,203.5 292.9,203.5 292.8,203.5 292.6,203.5 292.5,203.5 292.4,203.5 292.3,203.5 292.2,203.5 292.1,203.5 291.9,203.5 291.8,203.5 291.7,203.5 291.6,203.5 291.5,203.5 291.4,203.5 291.3,203.5 291.1,203.5 291.0,203.5 290.9,203.5 290.8,203.5 290.7,203.5 290.6,203.5 290.4,203.5 290.3,203.5 290.2,202.0 290.1,200.9 290.0,200.7 289.9,200.6 289.8,200.4 289.6,200.3 289.5,200.1 289.4,200.0 289.3,199.8 289.2,199.7 289.1,199.5 288.9,200.5 288.8,201.6 288.7,202.6 288.6,203.5 288.5,203.5 288.4,203.5 288.3,203.5 288.1,202.0 288.0,200.4 287.9,198.9 287.8,197.4 287.7,196.8 287.6,196.5 287.4,196.2 287.3,195.9 287.2,195.6 287.1,195.3 287.0,194.9 286.9,194.6 286.7,194.2 286.6,194.3 286.5,195.1 286.4,196.0 286.3,196.8 286.2,197.7 286.1,198.5 285.9,197.4 285.8,195.8 285.7,194.3 285.6,192.8 285.5,191.3 285.4,190.3 285.2,190.0 285.1,189.8 285.0,189.6 284.9,189.4 284.8,189.2 284.7,189.0 284.6,188.8 284.4,188.7 284.3,188.5 284.2,189.3 284.1,190.3 284.0,191.3 283.9,192.3 283.7,193.3 283.6,193.5 283.5,192.3 283.4,191.0 283.3,189.7 283.2,188.4 283.1,187.1 282.9,186.7 282.8,186.5 282.7,186.3 282.6,186.1 282.5,185.9 282.4,185.6 282.2,185.4 282.1,185.1 282.0,184.9 281.9,185.0 281.8,185.8 281.7,186.6 281.6,187.4 281.4,188.1 281.3,188.9 281.2,187.9 281.1,186.5 281.0,185.2 280.9,183.8 280.7,182.5 280.6,181.5 280.5,181.2 280.4,181.0 280.3,180.7 280.2,180.5 280.1,180.3 279.9,180.1 279.8,179.9 279.7,179.7 279.6,179.5 279.5,180.3 279.4,181.1 279.2,182.0 279.1,182.9 279.0,183.8 278.9,184.0 278.8,182.9 278.7,181.9 278.6,180.8 278.4,179.7 278.3,178.6 278.2,178.3 278.1,178.3 278.0,178.2 277.9,178.1 277.7,178.0 277.6,177.9 277.5,177.8 277.4,177.7 277.3,177.6 277.2,177.8 277.0,178.6 276.9,179.4 276.8,180.2 276.7,181.0 276.6,181.8 276.5,180.9 276.4,179.7 276.2,178.5 276.1,177.3 276.0,176.1 275.9,175.2 275.8,174.9 275.7,174.6 275.5,174.4 275.4,174.1 275.3,173.8 275.2,173.6 275.1,173.4 275.0,173.1 274.9,172.9 274.7,173.5 274.6,174.1 274.5,174.8 274.4,175.5 274.3,176.2 274.2,176.3 274.0,175.2 273.9,174.2 273.8,173.1 273.7,172.1 273.6,171.0 273.5,170.7 273.4,170.6 273.2,170.4 273.1,170.3 273.0,170.2 272.9,170.0 272.8,169.9 272.7,169.8 272.5,169.7 272.4,169.8 272.3,170.6 272.2,171.3 272.1,172.0 272.0,172.7 271.9,173.4 271.7,172.6 271.6,171.6 271.5,170.5 271.4,169.5 271.3,168.4 271.2,167.6 271.0,167.4 270.9,167.1 270.8,166.9 270.7,166.6 270.6,166.4 270.5,166.1 270.4,165.8 270.2,165.5 270.1,165.3 270.0,165.7 269.9,166.2 269.8,166.7 269.7,167.2 269.5,167.7 269.4,167.7 269.3,166.7 269.2,165.8 269.1,164.8 269.0,163.8 268.9,162.9 268.7,162.6 268.6,162.5 268.5,162.3 268.4,162.2 268.3,162.1 268.2,162.0 268.0,161.9 267.9,161.8 267.8,161.7 267.7,161.9 267.6,162.6 267.5,163.3 267.3,164.0 267.2,164.7 267.1,165.4 267.0,164.9 266.9,164.1 266.8,163.3 266.7,162.5 266.5,161.7 266.4,161.1 266.3,161.1 266.2,161.0 266.1,160.9 266.0,160.9 265.8,160.8 265.7,160.7 265.6,160.6 265.5,160.5 265.4,160.4 265.3,160.9 265.2,161.5 265.0,162.1 264.9,162.6 264.8,163.2 264.7,163.3 264.6,162.4 264.5,161.6 264.3,160.7 264.2,159.8 264.1,159.0 264.0,158.7 263.9,158.5 263.8,158.4 263.7,158.2 263.5,158.1 263.4,158.0 263.3,157.9 263.2,157.8 263.1,157.7 263.0,157.8 262.8,158.4 262.7,159.0 262.6,159.6 262.5,160.2 262.4,160.8 262.3,160.3 262.2,159.6 262.0,158.9 261.9,158.3 261.8,157.6 261.7,157.2 261.6,157.2 261.5,157.2 261.3,157.2 261.2,157.2 261.1,157.2 261.0,157.3 260.9,157.3 260.8,157.3 260.7,157.2 260.5,157.8 260.4,158.5 260.3,159.1 260.2,159.7 260.1,160.4 260.0,160.5 259.8,159.8 259.7,159.0 259.6,158.2 259.5,157.5 259.4,156.7 259.3,156.4 259.1,156.3 259.0,156.2 258.9,156.1 258.8,155.9 258.7,155.8 258.6,155.7 258.5,155.5 258.3,155.4 258.2,155.5 258.1,156.1 258.0,156.6 257.9,157.1 257.8,157.7 257.6,158.2 257.5,157.7 257.4,156.9 257.3,156.2 257.2,155.5 257.1,154.8 257.0,154.3 256.8,154.2 256.7,154.2 256.6,154.2 256.5,154.1 256.4,154.1 256.3,154.1 256.1,154.1 256.0,154.0 255.9,154.0 255.8,154.6 255.7,155.2 255.6,155.8 255.5,156.4 255.3,157.1 255.2,157.3 255.1,156.6 255.0,155.9 254.9,155.3 254.8,154.6 254.6,153.9 254.5,153.7 254.4,153.7 254.3,153.6 254.2,153.5 254.1,153.5 254.0,153.4 253.8,153.3 253.7,153.2 253.6,153.1 253.5,153.3 253.4,153.8 253.3,154.3 253.1,154.8 253.0,155.3 252.9,155.9 252.8,155.4 252.7,154.7 252.6,154.0 252.5,153.3 252.3,152.6 252.2,152.1 252.1,152.1 252.0,152.0 251.9,152.0 251.8,152.0 251.6,151.9 251.5,151.9 251.4,151.9 251.3,151.9 251.2,151.9 251.1,152.4 251.0,153.1 250.8,153.7 250.7,154.3 250.6,155.0 250.5,155.2 250.4,154.6 250.3,154.1 250.1,153.5 250.0,152.9 249.9,152.3 249.8,152.2 249.7,152.2 249.6,152.3 249.4,152.3 249.3,152.3 249.2,152.3 249.1,152.3 249.0,152.2 248.9,152.2 248.8,152.4 248.6,152.9 248.5,153.5 248.4,154.1 248.3,154.6 248.2,155.1 248.1,154.6 247.9,153.9 247.8,153.3 247.7,152.6 247.6,151.9 247.5,151.3 247.4,151.2 247.3,151.1 247.1,151.1 247.0,151.0 246.9,150.9 246.8,150.8 246.7,150.7 246.6,150.6 246.4,150.5 246.3,151.0 246.2,151.5 246.1,152.0 246.0,152.6 245.9,153.1 245.8,153.3 245.6,152.7 245.5,152.1 245.4,151.5 245.3,150.9 245.2,150.3 245.1,150.2 244.9,150.2 244.8,150.2 244.7,150.2 244.6,150.2 244.5,150.2 244.4,150.2 244.3,150.2 244.1,150.2 244.0,150.4 243.9,150.9 243.8,151.5 243.7,152.0 243.6,152.6 243.4,153.1 243.3,152.7 243.2,152.0 243.1,151.4 243.0,150.8 242.9,150.1 242.8,149.6 242.6,149.5 242.5,149.4 242.4,149.4 242.3,149.3 242.2,149.2 242.1,149.1 241.9,149.0 241.8,148.9 241.7,148.8 241.6,149.2 241.5,149.7 241.4,150.1 241.3,150.6 241.1,151.1 241.0,151.2 240.9,150.6 240.8,150.0 240.7,149.4 240.6,148.8 240.4,148.2 240.3,148.1 240.2,148.1 240.1,148.1 240.0,148.1 239.9,148.1 239.7,148.1 239.6,148.1 239.5,148.1 239.4,148.2 239.3,148.4 239.2,149.0 239.1,149.6 238.9,150.2 238.8,150.7 238.7,151.3 238.6,151.0 238.5,150.5 238.4,150.0 238.2,149.4 238.1,148.9 238.0,148.5 237.9,148.5 237.8,148.5 237.7,148.5 237.6,148.5 237.4,148.5 237.3,148.5 237.2,148.4 237.1,148.4 237.0,148.4 236.9,148.8 236.7,149.3 236.6,149.8 236.5,150.3 236.4,150.8 236.3,150.9 236.2,150.3 236.1,149.7 235.9,149.1 235.8,148.5 235.7,147.9 235.6,147.8 235.5,147.7 235.4,147.7 235.2,147.7 235.1,147.6 235.0,147.6 234.9,147.6 234.8,147.6 234.7,147.6 234.6,147.8 234.4,148.3 234.3,148.9 234.2,149.4 234.1,150.0 234.0,150.6 233.9,150.2 233.7,149.7 233.6,149.2 233.5,148.6 233.4,148.1 233.3,147.8 233.2,147.8 233.1,147.8 232.9,147.8 232.8,147.9 232.7,147.9 232.6,147.9 232.5,147.9 232.4,147.9 232.2,147.9 232.1,148.3 232.0,148.8 231.9,149.4 231.8,149.9 231.7,150.3 231.6,150.5 231.4,149.9 231.3,149.3 231.2,148.7 231.1,148.0 231.0,147.4 230.9,147.2 230.7,147.1 230.6,147.1 230.5,147.0 230.4,146.9 230.3,146.8 230.2,146.8 230.0,146.7 229.9,146.6 229.8,146.8 229.7,147.2 229.6,147.7 229.5,148.2 229.4,148.7 229.2,149.2 229.1,148.8 229.0,148.3 228.9,147.7 228.8,147.2 228.7,146.7 228.5,146.3 228.4,146.3 228.3,146.3 228.2,146.3 228.1,146.4 228.0,146.4 227.9,146.4 227.7,146.4 227.6,146.5 227.5,146.5 227.4,147.0 227.3,147.5 227.2,148.1 227.0,148.6 226.9,149.1 226.8,149.3 226.7,148.8 226.6,148.3 226.5,147.7 226.4,147.2 226.2,146.7 226.1,146.5 226.0,146.5 225.9,146.5 225.8,146.4 225.7,146.4 225.5,146.4 225.4,146.3 225.3,146.3 225.2,146.2 225.1,146.4 225.0,146.9 224.9,147.4 224.7,147.8 224.6,148.3 224.5,148.8 224.4,148.5 224.3,147.9 224.2,147.4 224.0,146.9 223.9,146.3 223.8,146.0 223.7,146.0 223.6,146.0 223.5,146.0 223.4,146.0 223.2,146.1 223.1,146.1 223.0,146.2 222.9,146.2 222.8,146.3 222.7,146.8 222.5,147.3 222.4,147.9 222.3,148.5 222.2,149.1 222.1,149.4 222.0,148.9 221.8,148.4 221.7,147.9 221.6,147.4 221.5,146.9 221.4,146.9 221.3,146.9 221.2,146.9 221.0,146.9 220.9,146.9 220.8,146.9 220.7,146.9 220.6,146.9 220.5,146.9 220.3,147.0 220.2,147.5 220.1,148.0 220.0,148.5 219.9,149.0 219.8,149.4 219.7,149.0 219.5,148.4 219.4,147.9 219.3,147.3 219.2,146.7 219.1,146.3 219.0,146.2 218.8,146.1 218.7,146.1 218.6,146.0 218.5,146.0 218.4,146.0 218.3,145.9 218.2,145.9 218.0,145.9 217.9,146.3 217.8,146.8 217.7,147.3 217.6,147.8 217.5,148.3 217.3,148.5 217.2,148.0 217.1,147.5 217.0,147.0 216.9,146.5 216.8,146.0 216.7,145.9 216.5,145.9 216.4,146.0 216.3,146.0 216.2,146.0 216.1,146.0 216.0,146.0 215.8,146.0 215.7,146.0 215.6,146.2 215.5,146.7 215.4,147.2 215.3,147.7 215.2,148.2 215.0,148.7 214.9,148.3 214.8,147.8 214.7,147.2 214.6,146.6 214.5,146.1 214.3,145.7 214.2,145.6 214.1,145.5 214.0,145.5 213.9,145.4 213.8,145.4 213.7,145.3 213.5,145.3 213.4,145.2 213.3,145.2 213.2,145.6 213.1,146.1 213.0,146.6 212.8,147.0 212.7,147.5 212.6,147.7 212.5,147.2 212.4,146.7 212.3,146.2 212.1,145.7 212.0,145.3 211.9,145.2 211.8,145.2 211.7,145.3 211.6,145.3 211.5,145.4 211.3,145.4 211.2,145.5 211.1,145.6 211.0,145.6 210.9,145.9 210.8,146.5 210.6,147.0 210.5,147.6 210.4,148.2 210.3,148.8 210.2,148.5 210.1,148.0 210.0,147.5 209.8,147.0 209.7,146.5 209.6,146.2 209.5,146.2 209.4,146.2 209.3,146.2 209.1,146.2 209.0,146.2 208.9,146.2 208.8,146.2 208.7,146.1 208.6,146.1 208.5,146.5 208.3,147.0 208.2,147.5 208.1,148.0 208.0,148.5 207.9,148.7 207.8,148.1 207.6,147.6 207.5,147.0 207.4,146.5 207.3,146.0 207.2,145.9 207.1,145.9 207.0,145.9 206.8,145.9 206.7,145.9 206.6,145.9 206.5,145.9 206.4,145.9 206.3,146.0 206.1,146.2 206.0,146.7 205.9,147.3 205.8,147.9 205.7,148.4 205.6,149.0 205.5,148.7 205.3,148.2 205.2,147.7 205.1,147.2 205.0,146.7 204.9,146.4 204.8,146.4 204.6,146.4 204.5,146.4 204.4,146.4 204.3,146.4 204.2,146.4 204.1,146.4 204.0,146.4 203.8,146.3 203.7,146.7 203.6,147.2 203.5,147.7 203.4,148.2 203.3,148.6 203.1,148.7 203.0,148.1 202.9,147.6 202.8,147.0 202.7,146.4 202.6,145.8 202.4,145.6 202.3,145.5 202.2,145.5 202.1,145.4 202.0,145.4 201.9,145.3 201.8,145.3 201.6,145.2 201.5,145.2 201.4,145.4 201.3,145.8 201.2,146.3 201.1,146.8 200.9,147.4 200.8,147.9 200.7,147.5 200.6,147.1 200.5,146.6 200.4,146.1 200.3,145.6 200.1,145.3 200.0,145.3 199.9,145.4 199.8,145.4 199.7,145.5 199.6,145.5 199.4,145.5 199.3,145.6 199.2,145.6 199.1,145.6 199.0,146.1 198.9,146.7 198.8,147.2 198.6,147.7 198.5,148.3 198.4,148.4 198.3,147.9 198.2,147.4 198.1,146.9 197.9,146.4 197.8,145.8 197.7,145.7 197.6,145.7 197.5,145.7 197.4,145.6 197.3,145.6 197.1,145.6 197.0,145.6 196.9,145.5 196.8,145.5 196.7,145.7 196.6,146.2 196.4,146.7 196.3,147.2 196.2,147.7 196.1,148.2 196.0,147.9 195.9,147.4 195.8,146.9 195.6,146.4 195.5,145.9 195.4,145.6 195.3,145.6 195.2,145.6 195.1,145.7 194.9,145.7 194.8,145.8 194.7,145.9 194.6,145.9 194.5,146.0 194.4,146.0 194.3,146.5 194.1,147.1 194.0,147.7 193.9,148.3 193.8,148.9 193.7,149.1 193.6,148.6 193.4,148.1 193.3,147.6 193.2,147.1 193.1,146.6 193.0,146.5 192.9,146.5 192.7,146.5 192.6,146.5 192.5,146.5 192.4,146.5 192.3,146.4 192.2,146.4 192.1,146.4 191.9,146.5 191.8,147.0 191.7,147.4 191.6,147.9 191.5,148.4 191.4,148.8 191.2,148.4 191.1,147.9 191.0,147.3 190.9,146.7 190.8,146.1 190.7,145.7 190.6,145.7 190.4,145.6 190.3,145.6 190.2,145.6 190.1,145.6 190.0,145.5 189.9,145.5 189.7,145.5 189.6,145.5 189.5,146.0 189.4,146.5 189.3,147.0 189.2,147.5 189.1,148.1 188.9,148.3 188.8,147.8 188.7,147.3 188.6,146.8 188.5,146.3 188.4,145.8 188.2,145.7 188.1,145.7 188.0,145.8 187.9,145.8 187.8,145.8 187.7,145.8 187.6,145.8 187.4,145.8 187.3,145.8 187.2,145.9 187.1,146.4 187.0,146.9 186.9,147.4 186.7,147.9 186.6,148.3 186.5,148.0 186.4,147.4 186.3,146.8 186.2,146.3 186.1,145.7 185.9,145.3 185.8,145.3 185.7,145.2 185.6,145.2 185.5,145.1 185.4,145.1 185.2,145.1 185.1,145.1 185.0,145.0 184.9,145.0 184.8,145.4 184.7,146.0 184.5,146.5 184.4,147.0 184.3,147.5 184.2,147.7 184.1,147.2 184.0,146.8 183.9,146.3 183.7,145.9 183.6,145.4 183.5,145.4 183.4,145.4 183.3,145.5 183.2,145.6 183.0,145.6 182.9,145.7 182.8,145.7 182.7,145.8 182.6,145.9 182.5,146.1 182.4,146.7 182.2,147.3 182.1,147.8 182.0,148.4 181.9,149.0 181.8,148.6 181.7,148.1 181.5,147.6 181.4,147.1 181.3,146.6 181.2,146.2 181.1,146.2 181.0,146.2 180.9,146.2 180.7,146.2 180.6,146.1 180.5,146.1 180.4,146.1 180.3,146.0 180.2,146.0 180.0,146.4 179.9,146.9 179.8,147.4 179.7,147.9 179.6,148.4 179.5,148.5 179.4,148.0 179.2,147.5 179.1,146.9 179.0,146.4 178.9,145.9 178.8,145.8 178.7,145.8 178.5,145.8 178.4,145.8 178.3,145.8 178.2,145.8 178.1,145.9 178.0,145.9 177.9,145.9 177.7,146.1 177.6,146.7 177.5,147.2 177.4,147.8 177.3,148.3 177.2,148.9 177.0,148.6 176.9,148.1 176.8,147.6 176.7,147.1 176.6,146.5 176.5,146.2 176.4,146.2 176.2,146.2 176.1,146.1 176.0,146.1 175.9,146.1 175.8,146.0 175.7,146.0" fill="#add7f2"/>
<polyline points="175.6,88.1 175.7,79.9 175.8,74.5 175.9,72.5 176.1,74.0 176.2,78.9 176.3,86.7 176.4,96.8 176.5,108.2 176.6,119.7 176.8,130.4 176.9,139.3 177.0,145.4 177.1,148.4 177.2,147.7 177.3,143.6 177.4,136.5 177.6,126.9 177.7,115.7 177.8,104.1 177.9,93.1 178.0,83.7 178.1,76.8 178.3,73.0 178.4,72.8 178.5,76.0 178.6,82.5 178.7,91.6 178.8,102.4 178.9,114.0 179.1,125.3 179.2,135.2 179.3,142.8 179.4,147.3 179.5,148.5 179.6,146.1 179.8,140.4 179.9,131.9 180.0,121.4 180.1,109.9 180.2,98.5 180.3,88.1 180.5,79.9 180.6,74.5 180.7,72.5 180.8,74.0 180.9,78.9 181.0,86.7 181.1,96.8 181.3,108.2 181.4,119.7 181.5,130.5 181.6,139.3 181.7,145.5 181.8,148.4 182.0,147.8 182.1,143.7 182.2,136.5 182.3,126.9 182.4,115.7 182.5,104.1 182.6,93.1 182.8,83.7 182.9,76.8 183.0,73.0 183.1,72.8 183.2,76.0 183.3,82.5 183.5,91.5 183.6,102.4 183.7,114.0 183.8,125.3 183.9,135.2 184.0,142.8 184.1,147.4 184.3,148.5 184.4,146.1 184.5,140.4 184.6,131.9 184.7,121.4 184.8,109.9 185.0,98.5 185.1,88.1 185.2,79.9 185.3,74.5 185.4,72.4 185.5,73.9 185.6,78.9 185.8,86.7 185.9,96.8 186.0,108.2 186.1,119.7 186.2,130.5 186.3,139.3 186.5,145.5 186.6,148.4 186.7,147.8 186.8,143.7 186.9,136.5 187.0,126.9 187.1,115.7 187.3,104.1 187.4,93.1 187.5,83.7 187.6,76.8 187.7,73.0 187.8,72.7 188.0,76.0 188.1,82.5 188.2,91.5 188.3,102.4 188.4,114.0 188.5,125.3 188.6,135.2 188.8,142.8 188.9,147.4 189.0,148.5 189.1,146.2 189.2,140.4 189.3,131.9 189.5,121.4 189.6,109.9 189.7,98.4 189.8,88.1 189.9,79.8 190.0,74.4 190.2,72.4 190.3,73.9 190.4,78.8 190.5,86.7 190.6,96.8 190.7,108.2 190.8,119.7 191.0,130.5 191.1,139.3 191.2,145.5 191.3,148.4 191.4,147.8 191.5,143.7 191.7,136.5 191.8,126.9 191.9,115.7 192.0,104.1 192.1,93.1 192.2,83.7 192.3,76.7 192.5,73.0 192.6,72.7 192.7,76.0 192.8,82.4 192.9,91.5 193.0,102.4 193.2,114.0 193.3,125.3 193.4,135.2 193.5,142.8 193.6,147.4 193.7,148.6 193.8,146.2 194.0,140.5 194.1,132.0 194.2,121.4 194.3,109.9 194.4,98.4 194.5,88.1 194.7,79.8 194.8,74.4 194.9,72.4 195.0,73.9 195.1,78.8 195.2,86.7 195.3,96.8 195.5,108.2 195.6,119.8 195.7,130.5 195.8,139.3 195.9,145.5 196.0,148.4 196.2,147.8 196.3,143.7 196.4,136.5 196.5,126.9 196.6,115.7 196.7,104.1 196.8,93.1 197.0,83.6 197.1,76.7 197.2,73.0 197.3,72.7 197.4,75.9 197.5,82.4 197.7,91.5 197.8,102.4 197.9,114.0 198.0,125.3 198.1,135.2 198.2,142.8 198.3,147.4 198.5,148.6 198.6,146.2 198.7,140.5 198.8,132.0 198.9,121.4 199.0,109.9 199.2,98.4 199.3,88.1 199.4,79.8 199.5,74.4 199.6,72.4 199.7,73.9 199.9,78.8 200.0,86.7 200.1,96.8 200.2,108.2 200.3,119.8 200.4,130.5 200.5,139.4 200.7,145.5 200.8,148.5 200.9,147.8 201.0,143.7 201.1,136.5 201.2,126.9 201.4,115.7 201.5,104.1 201.6,93.0 201.7,83.6 201.8,76.7 201.9,72.9 202.0,72.7 202.2,75.9 202.3,82.4 202.4,91.5 202.5,102.4 202.6,114.0 202.7,125.3 202.9,135.2 203.0,142.8 203.1,147.4 203.2,148.6 203.3,146.2 203.4,140.5 203.5,132.0 203.7,121.5 203.8,109.9 203.9,98.4 204.0,88.1 204.1,79.8 204.2,74.4 204.4,72.3 204.5,73.9 204.6,78.8 204.7,86.7 204.8,96.8 204.9,108.2 205.0,119.8 205.2,130.5 205.3,139.4 205.4,145.6 205.5,148.5 205.6,147.9 205.7,143.8 205.9,136.5 206.0,126.9 206.1,115.7 206.2,104.1 206.3,93.0 206.4,83.6 206.5,76.7 206.7,72.9 206.8,72.6 206.9,75.9 207.0,82.4 207.1,91.5 207.2,102.4 207.4,114.0 207.5,125.3 207.6,135.2 207.7,142.9 207.8,147.5 207.9,148.6 208.0,146.2 208.2,140.5 208.3,132.0 208.4,121.5 208.5,109.9 208.6,98.4 208.7,88.1 208.9,79.8 209.0,74.4 209.1,72.3 209.2,73.8 209.3,78.8 209.4,86.7 209.6,96.8 209.7,108.2 209.8,119.8 209.9,130.5 210.0,139.4 210.1,145.6 210.2,148.5 210.4,147.9 210.5,143.8 210.6,136.6 210.7,126.9 210.8,115.8 210.9,104.1 211.1,93.0 211.2,83.6 211.3,76.7 211.4,72.9 211.5,72.6 211.6,75.9 211.7,82.4 211.9,91.5 212.0,102.4 212.1,114.0 212.2,125.3 212.3,135.3 212.4,142.9 212.6,147.5 212.7,148.6 212.8,146.3 212.9,140.5 213.0,132.0 213.1,121.5 213.2,109.9 213.4,98.4 213.5,88.0 213.6,79.8 213.7,74.3 213.8,72.3 213.9,73.8 214.1,78.8 214.2,86.6 214.3,96.8 214.4,108.2 214.5,119.8 214.6,130.5 214.7,139.4 214.9,145.6 215.0,148.5 215.1,147.9 215.2,143.8 215.3,136.6 215.4,126.9 215.6,115.8 215.7,104.1 215.8,93.0 215.9,83.6 216.0,76.6 216.1,72.9 216.2,72.6 216.4,75.9 216.5,82.4 216.6,91.5 216.7,102.4 216.8,114.0 216.9,125.3 217.1,135.3 217.2,142.9 217.3,147.5 217.4,148.7 217.5,146.3 217.6,140.6 217.8,132.0 217.9,121.5 218.0,109.9 218.1,98.4 218.2,88.0 218.3,79.7 218.4,74.2 218.6,72.2 218.7,73.7 218.8,78.6 218.9,86.5 219.0,96.7 219.1,108.1 219.3,119.8 219.4,130.6 219.5,139.6 219.6,145.8 219.7,148.8 219.8,148.2 219.9,144.0 220.1,136.8 220.2,127.1 220.3,115.8 220.4,104.0 220.5,92.9 220.6,83.3 220.8,76.3 220.9,72.5 221.0,72.2 221.1,75.5 221.2,82.1 221.3,91.3 221.4,102.3 221.6,114.0 221.7,125.5 221.8,135.5 221.9,143.3 222.0,147.9 222.1,149.1 222.3,146.7 222.4,140.9 222.5,132.3 222.6,121.6 222.7,109.9 222.8,98.2 222.9,87.7 223.1,79.3 223.2,73.8 223.3,71.7 223.4,73.2 223.5,78.3 223.6,86.3 223.8,96.5 223.9,108.1 224.0,119.9 224.1,130.9 224.2,139.9 224.3,146.2 224.4,149.2 224.6,148.6 224.7,144.4 224.8,137.1 224.9,127.2 225.0,115.9 225.1,104.0 225.3,92.7 225.4,83.0 225.5,76.0 225.6,72.1 225.7,71.8 225.8,75.1 225.9,81.8 226.1,91.1 226.2,102.2 226.3,114.1 226.4,125.7 226.5,135.8 226.6,143.6 226.8,148.4 226.9,149.6 227.0,147.1 227.1,141.3 227.2,132.5 227.3,121.7 227.5,109.9 227.6,98.1 227.7,87.5 227.8,79.0 227.9,73.4 228.0,71.3 228.1,72.8 228.3,77.9 228.4,86.0 228.5,96.4 228.6,108.1 228.7,120.0 228.8,131.1 229.0,140.2 229.1,146.6 229.2,149.6 229.3,149.0 229.4,144.8 229.5,137.4 229.6,127.4 229.8,115.9 229.9,103.9 230.0,92.5 230.1,82.7 230.2,75.6 230.3,71.7 230.5,71.4 230.6,74.7 230.7,81.4 230.8,90.8 230.9,102.1 231.0,114.1 231.1,125.8 231.3,136.1 231.4,144.0 231.5,148.8 231.6,150.0 231.7,147.5 231.8,141.6 232.0,132.8 232.1,121.9 232.2,109.9 232.3,98.0 232.4,87.2 232.5,78.6 232.6,73.0 232.8,70.9 232.9,72.4 233.0,77.5 233.1,85.7 233.2,96.2 233.3,108.1 233.5,120.1 233.6,131.3 233.7,140.6 233.8,147.1 233.9,150.2 234.0,149.5 234.1,145.3 234.3,137.8 234.4,127.7 234.5,116.0 234.6,103.8 234.7,92.2 234.8,82.3 235.0,75.0 235.1,71.0 235.2,70.6 235.3,74.1 235.4,80.9 235.5,90.4 235.6,101.9 235.8,114.2 235.9,126.2 236.0,136.7 236.1,144.8 236.2,149.7 236.3,150.9 236.5,148.4 236.6,142.4 236.7,133.3 236.8,122.2 236.9,109.9 237.0,97.6 237.2,86.6 237.3,77.7 237.4,71.9 237.5,69.7 237.6,71.3 237.7,76.6 237.8,85.0 238.0,95.8 238.1,108.0 238.2,120.4 238.3,132.0 238.4,141.6 238.5,148.2 238.7,151.4 238.8,150.8 238.9,146.4 239.0,138.6 239.1,128.2 239.2,116.2 239.3,103.6 239.5,91.6 239.6,81.4 239.7,73.9 239.8,69.7 239.9,69.4 240.0,72.9 240.2,80.0 240.3,89.8 240.4,101.7 240.5,114.3 240.6,126.6 240.7,137.5 240.8,145.8 241.0,150.9 241.1,152.2 241.2,149.6 241.3,143.3 241.4,134.0 241.5,122.5 241.7,109.9 241.8,97.2 241.9,85.8 242.0,76.7 242.1,70.8 242.2,68.5 242.3,70.1 242.5,75.5 242.6,84.2 242.7,95.3 242.8,107.9 242.9,120.7 243.0,132.6 243.2,142.5 243.3,149.4 243.4,152.6 243.5,152.0 243.6,147.4 243.7,139.4 243.8,128.8 244.0,116.3 244.1,103.4 244.2,91.0 244.3,80.5 244.4,72.8 244.5,68.5 244.7,68.2 244.8,71.8 244.9,79.0 245.0,89.2 245.1,101.4 245.2,114.4 245.3,127.1 245.5,138.3 245.6,146.9 245.7,152.1 245.8,153.4 245.9,150.7 246.0,144.3 246.2,134.7 246.3,122.9 246.4,109.8 246.5,96.8 246.6,85.1 246.7,75.7 246.9,69.5 247.0,67.1 247.1,68.8 247.2,74.3 247.3,83.3 247.4,94.8 247.5,107.8 247.7,121.1 247.8,133.4 247.9,143.7 248.0,150.8 248.1,154.2 248.2,153.5 248.4,148.9 248.5,140.6 248.6,129.5 248.7,116.6 248.8,103.1 248.9,90.2 249.0,79.3 249.2,71.2 249.3,66.7 249.4,66.4 249.5,70.1 249.6,77.7 249.7,88.3 249.9,101.0 250.0,114.6 250.1,127.9 250.2,139.6 250.3,148.6 250.4,154.0 250.5,155.5 250.7,152.7 250.8,146.0 250.9,135.9 251.0,123.5 251.1,109.8 251.2,96.2 251.4,83.8 251.5,74.0 251.6,67.5 251.7,65.0 251.8,66.7 251.9,72.6 252.0,82.0 252.2,94.1 252.3,107.7 252.4,121.6 252.5,134.6 252.6,145.3 252.7,152.8 252.9,156.3 253.0,155.6 253.1,150.7 253.2,142.0 253.3,130.4 253.4,116.9 253.5,102.7 253.7,89.3 253.8,77.8 253.9,69.3 254.0,64.7 254.1,64.3 254.2,68.2 254.4,76.1 254.5,87.2 254.6,100.5 254.7,114.8 254.8,128.7 254.9,140.9 255.1,150.4 255.2,156.1 255.3,157.6 255.4,154.7 255.5,147.6 255.6,137.1 255.7,124.1 255.9,109.8 256.0,95.5 256.1,82.6 256.2,72.3 256.3,65.5 256.4,62.9 256.6,64.7 256.7,70.8 256.8,80.7 256.9,93.3 257.0,107.6 257.1,122.1 257.2,135.7 257.4,146.9 257.5,154.7 257.6,158.4 257.7,157.7 257.8,152.5 257.9,143.5 258.1,131.3 258.2,117.2 258.3,102.4 258.4,88.3 258.5,76.3 258.6,67.4 258.7,62.6 258.9,62.2 259.0,66.3 259.1,74.5 259.2,86.2 259.3,100.1 259.4,115.0 259.6,129.5 259.7,142.3 259.8,152.1 259.9,158.1 260.0,159.7 260.1,156.6 260.2,149.3 260.4,138.3 260.5,124.7 260.6,109.7 260.7,94.8 260.8,81.3 260.9,70.6 261.1,63.5 261.2,60.8 261.3,62.7 261.4,69.1 261.5,79.3 261.6,92.5 261.7,107.4 261.9,122.7 262.0,136.8 262.1,148.5 262.2,156.6 262.3,160.6 262.4,159.9 262.6,154.6 262.7,145.1 262.8,132.4 262.9,117.5 263.0,101.9 263.1,87.1 263.2,74.3 263.4,64.9 263.5,59.7 263.6,59.2 263.7,63.5 263.8,72.2 263.9,84.5 264.1,99.4 264.2,115.3 264.3,130.9 264.4,144.6 264.5,155.2 264.6,161.7 264.8,163.5 264.9,160.3 265.0,152.4 265.1,140.6 265.2,125.9 265.3,109.7 265.4,93.5 265.6,78.8 265.7,67.0 265.8,59.2 265.9,56.2 266.0,58.2 266.1,65.1 266.3,76.3 266.4,90.8 266.5,107.1 266.6,123.9 266.7,139.4 266.8,152.4 266.9,161.5 267.1,165.8 267.2,165.1 267.3,159.2 267.4,148.7 267.5,134.6 267.6,118.2 267.8,101.0 267.9,84.7 268.0,70.6 268.1,60.2 268.2,54.5 268.3,54.0 268.4,58.7 268.6,68.3 268.7,81.9 268.8,98.2 268.9,115.8 269.0,132.9 269.1,148.0 269.3,159.7 269.4,166.8 269.5,168.7 269.6,165.2 269.7,156.6 269.8,143.6 269.9,127.5 270.1,109.6 270.2,91.7 270.3,75.4 270.4,62.4 270.5,53.7 270.6,50.3 270.8,52.5 270.9,60.2 271.0,72.6 271.1,88.6 271.2,106.8 271.3,125.4 271.4,142.8 271.6,157.2 271.7,167.4 271.8,172.3 271.9,171.5 272.0,164.9 272.1,153.3 272.3,137.5 272.4,119.2 272.5,99.9 272.6,81.5 272.7,65.7 272.8,54.0 272.9,47.5 273.1,46.9 273.2,52.2 273.3,63.0 273.4,78.3 273.5,96.7 273.6,116.5 273.8,135.8 273.9,153.0 274.0,166.2 274.1,174.3 274.2,176.5 274.3,172.5 274.5,162.7 274.6,148.0 274.7,129.7 274.8,109.5 274.9,89.2 275.0,70.9 275.1,56.1 275.3,46.4 275.4,42.5 275.5,45.0 275.6,53.6 275.7,67.6 275.8,85.7 276.0,106.3 276.1,127.3 276.2,147.0 276.3,163.3 276.4,174.8 276.5,180.4 276.6,179.4 276.8,172.0 276.9,158.9 277.0,141.1 277.1,120.3 277.2,98.5 277.3,77.7 277.5,59.8 277.6,46.6 277.7,39.2 277.8,38.5 277.9,44.5 278.0,56.7 278.1,74.0 278.3,94.8 278.4,117.3 278.5,139.2 278.6,158.6 278.7,173.6 278.8,182.8 279.0,185.2 279.1,180.8 279.2,169.7 279.3,153.0 279.4,132.2 279.5,109.3 279.6,86.4 279.8,65.6 279.9,48.9 280.0,37.8 280.1,33.5 280.2,36.3 280.3,46.1 280.5,62.0 280.6,82.5 280.7,105.7 280.8,129.5 280.9,151.7 281.0,170.1 281.1,183.1 281.3,189.4 281.4,188.3 281.5,179.9 281.6,165.0 281.7,144.9 281.8,121.5 282.0,97.0 282.1,73.6 282.2,53.5 282.3,38.6 282.4,30.4 282.5,29.6 282.6,36.4 282.8,50.1 282.9,69.6 283.0,93.0 283.1,118.1 283.2,142.6 283.3,164.3 283.5,181.1 283.6,191.3 283.7,194.1 283.8,189.0 283.9,176.6 284.0,157.9 284.2,134.8 284.3,109.2 284.4,83.6 284.5,60.4 284.6,41.8 284.7,29.5 284.8,24.7 285.0,27.9 285.1,38.9 285.2,56.5 285.3,79.3 285.4,105.2 285.5,131.6 285.7,156.3 285.8,176.7 285.9,191.1 286.0,198.1 286.1,196.9 286.2,187.6 286.3,171.0 286.5,148.8 286.6,122.8 286.7,95.5 286.8,69.5 286.9,47.2 287.0,30.6 287.2,21.5 287.3,20.6 287.4,28.2 287.5,43.4 287.6,65.0 287.7,91.0 287.8,118.9 288.0,146.2 288.1,170.3 288.2,188.9 288.3,200.3 288.4,203.4 288.5,197.8 288.7,184.1 288.8,163.4 288.9,137.6 289.0,109.1 289.1,80.5 289.2,54.5 289.3,33.6 289.5,19.8 289.6,17.5 289.7,17.8 289.8,30.0 289.9,49.9 290.0,75.5 290.2,104.5 290.3,134.3 290.4,162.1 290.5,185.2 290.6,201.5 290.7,203.5 290.8,203.5 291.0,197.6 291.1,179.0 291.2,153.8 291.3,124.4 291.4,93.5 291.5,64.0 291.7,38.7 291.8,19.9 291.9,17.5 292.0,17.5 292.1,17.5 292.2,34.3 292.4,58.8 292.5,88.3 292.6,120.1 292.7,151.2 292.8,178.6 292.9,199.9 293.0,203.5 293.2,203.5 293.3,203.5 293.4,194.4 293.5,170.7 293.6,141.3 293.7,108.9 293.9,76.3 294.0,46.9 294.1,23.1 294.2,17.5 294.3,17.5 294.4,17.5 294.5,19.2 294.7,41.7 294.8,70.8 294.9,103.7 295.0,137.5 295.1,168.9 295.2,195.1 295.4,203.5 295.5,203.5 295.6,203.5 295.7,203.5 295.8,187.9 295.9,159.4 296.0,126.2 296.2,91.3 296.3,58.1 296.4,29.5 296.5,17.5 296.6,17.5 296.7,17.5 296.9,17.5 297.0,24.7 297.1,52.4 297.2,85.6 297.3,121.3 297.4,156.0 297.5,186.7 297.7,203.5 297.8,203.5 297.9,203.5 298.0,203.5 298.1,203.5 298.2,177.4 298.4,144.7 298.5,108.7 298.6,72.7 298.7,40.1 298.8,17.5 298.9,17.5 299.0,17.5 299.2,17.5 299.3,17.5 299.4,34.9 299.5,66.9 299.6,103.1 299.7,140.0 299.9,174.4 300.0,202.9 300.1,203.5 300.2,203.5 300.3,203.5 300.4,203.5 300.5,194.6 300.7,163.6 300.8,127.5 300.9,89.7 301.0,53.8 301.1,23.0 301.2,17.5 301.4,17.5 301.5,17.5 301.6,17.5 301.7,18.2 301.8,48.0 301.9,83.7 302.1,122.1 302.2,159.5 302.3,192.4 302.4,203.5 302.5,203.5 302.6,203.5 302.7,203.5 302.9,203.5 303.0,182.4 303.1,147.2 303.2,108.5 303.3,69.9 303.4,34.9 303.6,17.5 303.7,17.5 303.8,17.5 303.9,17.5 304.0,17.5 304.1,29.4 304.2,63.7 304.4,102.5 304.5,142.2 304.6,179.1 304.7,203.5 304.8,203.5 304.9,203.5 305.1,203.5 305.2,203.5 305.3,200.6 305.4,167.4 305.5,128.7 305.6,88.2 305.7,49.7 305.9,17.5 306.0,17.5 306.1,17.5 306.2,17.5 306.3,17.5 306.4,17.5 306.6,43.6 306.7,81.8 306.8,122.9 306.9,162.9 307.0,198.2 307.1,203.5 307.2,203.5 307.4,203.5 307.5,203.5 307.6,203.5 307.7,187.4 307.8,149.8 307.9,108.4 308.1,67.1 308.2,29.7 308.3,17.5 308.4,17.5 308.5,17.5 308.6,17.5 308.7,17.5 308.9,23.8 309.0,60.5 309.1,102.0 309.2,144.4 309.3,183.7 309.4,203.5 309.6,203.5 309.7,203.5 309.8,203.5 309.9,203.5 310.0,203.5 310.1,171.2 310.2,129.9 310.4,86.7 310.5,45.6 310.6,17.5 310.7,17.5 310.8,17.5 310.9,17.5 311.1,17.5 311.2,17.5 311.3,39.1 311.4,79.9 311.5,123.7 311.6,166.4 311.8,203.5 311.9,203.5 312.0,203.5 312.1,203.5 312.2,203.5 312.3,203.5 312.4,192.4 312.6,152.3 312.7,108.3 312.8,64.3 312.9,24.4 313.0,17.5 313.1,17.5 313.3,17.5 313.4,17.5 313.5,17.5 313.6,18.3 313.7,57.3 313.8,101.4 313.9,146.5 314.1,188.4 314.2,203.5 314.3,203.5 314.4,203.5 314.5,203.5 314.6,203.5 314.8,203.5 314.9,174.5 315.0,131.0 315.1,85.5 315.2,42.4 315.3,17.5 315.4,17.5 315.6,17.5 315.7,17.5 315.8,17.5 315.9,17.5 316.0,36.4 316.1,78.8 316.3,124.2 316.4,168.2 316.5,203.5 316.6,203.5 316.7,203.5 316.8,203.5 316.9,203.5 317.1,203.5 317.2,194.2 317.3,153.2 317.4,108.2 317.5,63.4 317.6,23.0 317.8,17.5 317.9,17.5 318.0,17.5 318.1,17.5 318.2,17.5 318.3,17.6 318.4,57.0 318.6,101.4 318.7,146.6 318.8,188.5 318.9,203.5 319.0,203.5 319.1,203.5 319.3,203.5 319.4,203.5 319.5,203.5 319.6,174.5 319.7,131.0 319.8,85.5 319.9,42.4 320.1,17.5 320.2,17.5 320.3,17.5 320.4,17.5 320.5,17.5 320.6,17.5 320.8,36.4 320.9,78.8 321.0,124.2 321.1,168.2 321.2,203.5 321.3,203.5 321.5,203.5 321.6,203.5 321.7,203.5 321.8,203.5 321.9,194.2 322.0,153.2 322.1,108.2 322.3,63.4 322.4,23.0 322.5,17.5 322.6,17.5 322.7,17.5 322.8,17.5 323.0,17.5 323.1,17.6 323.2,57.0 323.3,101.4 323.4,146.6 323.5,188.5 323.6,203.5 323.8,203.5 323.9,203.5 324.0,203.5 324.1,203.5 324.2,203.5 324.3,174.5 324.5,131.0 324.6,85.5 324.7,42.4 324.8,17.5 324.9,17.5 325.0,17.5 325.1,17.5 325.3,17.5 325.4,17.5 325.5,36.4 325.6,78.8 325.7,124.2 325.8,168.2 326.0,203.5 326.1,203.5 326.2,203.5 326.3,203.5 326.4,203.5 326.5,203.5 326.6,194.2 326.8,153.2 326.9,108.2 327.0,63.4 327.1,23.0 327.2,17.5 327.3,17.5 327.5,17.5 327.6,17.5 327.7,17.5 327.8,17.6 327.9,57.0 328.0,101.4 328.1,146.6 328.3,188.5 328.4,203.5 328.5,203.5 328.6,203.5 328.7,203.5 328.8,203.5 329.0,203.5 329.1,174.5 329.2,131.0 329.3,85.5 329.4,42.4 329.5,17.5 329.7,17.5 329.8,17.5 329.9,17.5 330.0,17.5 330.1,17.5 330.2,36.4 330.3,78.8 330.5,124.2 330.6,168.2 330.7,203.5 330.8,203.5 330.9,203.5 331.0,203.5 331.2,203.5 331.3,203.5 331.4,194.2 331.5,153.2 331.6,108.2 331.7,63.4 331.8,23.0 332.0,17.5 332.1,17.5 332.2,17.5 332.3,17.5 332.4,17.5 332.5,17.6 332.7,57.0 332.8,101.4 332.9,146.6 333.0,188.5 333.1,203.5 333.2,203.5 333.3,203.5 333.5,203.5 333.6,203.5 333.7,203.5 333.8,174.5 333.9,131.0 334.0,85.5 334.2,42.4 334.3,17.5 334.4,17.5 334.5,17.5 334.6,17.5 334.7,17.5 334.8,17.5 335.0,36.4 335.1,78.8 335.2,124.2 335.3,168.2 335.4,203.5 335.5,203.5 335.7,203.5 335.8,203.5 335.9,203.5 336.0,203.5 336.1,194.2 336.2,153.2 336.3,108.2 336.5,63.4 336.6,23.0 336.7,17.5 336.8,17.5 336.9,17.5 337.0,17.5 337.2,17.5 337.3,17.6 337.4,57.0 337.5,101.4 337.6,146.6 337.7,188.5 337.8,203.5 338.0,203.5 338.1,203.5 338.2,203.5 338.3,203.5 338.4,203.5 338.5,174.5 338.7,131.0 338.8,85.5 338.9,42.4 339.0,17.5 339.1,17.5 339.2,17.5 339.4,17.5 339.5,17.5 339.6,17.5 339.7,36.4 339.8,78.8 339.9,124.2 340.0,168.2 340.2,203.5 340.3,203.5 340.4,203.5 340.5,203.5 340.6,203.5 340.7,203.5 340.9,194.2 341.0,153.2 341.1,108.2 341.2,63.4 341.3,23.0 341.4,17.5 341.5,17.5 341.7,17.5 341.8,17.5 341.9,17.5 342.0,17.6 342.1,57.0 342.2,101.4 342.4,146.6 342.5,188.5 342.6,203.5 342.7,203.5 342.8,203.5 342.9,203.5 343.0,203.5 343.2,203.5 343.3,174.5 343.4,131.0 343.5,85.5 343.6,42.4 343.7,17.5 343.9,17.5 344.0,17.5 344.1,17.5 344.2,17.5 344.3,17.5 344.4,36.4 344.5,78.8 344.7,124.2 344.8,168.2 344.9,203.5 345.0,203.5 345.1,203.5 345.2,203.5 345.4,203.5 345.5,203.5 345.6,194.2 345.7,153.2 345.8,108.2 345.9,63.4 346.0,23.0 346.2,17.5 346.3,17.5 346.4,17.5 346.5,17.5 346.6,17.5 346.7,17.6 346.9,57.0 347.0,101.4 347.1,146.6 347.2,188.5 347.3,203.5 347.4,203.5 347.5,203.5 347.7,203.5 347.8,203.5 347.9,203.5 348.0,174.5 348.1,131.0 348.2,85.5 348.4,42.4 348.5,17.5 348.6,17.5 348.7,17.5 348.8,17.5 348.9,17.5 349.1,17.5 349.2,36.4 349.3,78.8 349.4,124.2 349.5,168.2 349.6,203.5 349.7,203.5 349.9,203.5 350.0,203.5 350.1,203.5 350.2,203.5 350.3,194.2 350.4,153.2 350.6,108.2 350.7,63.4 350.8,23.0 350.9,17.5 351.0,17.5 351.1,17.5 351.2,17.5 351.4,17.5 351.5,17.6 351.6,57.0 351.7,101.4 351.8,146.6 351.9,188.5 352.1,203.5 352.2,203.5 352.3,203.5 352.4,203.5 352.5,203.5 352.6,203.5 352.7,174.5 352.9,131.0 353.0,85.5 353.1,42.4 353.2,17.5 353.3,17.5 353.4,17.5 353.6,17.5 353.7,17.5 353.8,17.5 353.9,36.4 354.0,78.8 354.1,124.2 354.2,168.2 354.4,203.5 354.5,203.5 354.6,203.5 354.7,203.5 354.8,203.5 354.9,203.5 355.1,194.2 355.2,153.2 355.3,108.2 355.4,63.4 355.5,23.0 355.6,17.5 355.7,17.5 355.9,17.5 356.0,17.5 356.1,17.5 356.2,17.6 356.3,57.0 356.4,101.4 356.6,146.6 356.7,188.5 356.8,203.5 356.9,203.5 357.0,203.5 357.1,203.5 357.3,203.5 357.4,203.5 357.5,174.5 357.6,131.0 357.7,85.5 357.8,42.4 357.9,17.5 358.1,17.5 358.2,17.5 358.3,17.5 358.4,17.5 358.5,17.5 358.6,36.4 358.8,78.8 358.9,124.2 359.0,168.2 359.1,203.5 359.2,203.5 359.3,203.5 359.4,203.5 359.6,203.5 359.7,203.5 359.8,194.2 359.9,153.2 360.0,108.2 360.1,63.4 360.3,23.0 360.4,17.5 360.5,17.5 360.6,17.5 360.7,17.5 360.8,17.5 360.9,17.6 361.1,57.0 361.2,101.4 361.3,146.6 361.4,188.5 361.5,203.5 361.6,203.5 361.8,203.5 361.9,203.5 362.0,203.5 362.1,203.5 362.2,174.5 362.3,131.0 362.4,85.5 362.6,42.4 362.7,17.5 362.8,17.5 362.9,17.5 363.0,17.5 363.1,17.5 363.3,17.5 363.4,36.4 363.5,78.8 363.6,124.2 363.7,168.2 363.8,203.5 363.9,203.5 364.1,203.5 364.2,203.5 364.3,203.5 364.4,203.5 364.5,194.2 364.6,153.2 364.8,108.2 364.9,63.4 365.0,23.0 365.1,17.5 365.2,17.5 365.3,17.5 365.4,17.5 365.6,17.5 365.7,17.6 365.8,57.0 365.9,101.4 366.0,146.6 366.1,188.5 366.3,203.5 366.4,203.5 366.5,203.5 366.6,203.5 366.7,203.5 366.8,203.5 367.0,174.5 367.1,131.0 367.2,85.5 367.3,42.4 367.4,17.5 367.5,17.5 367.6,17.5 367.8,17.5 367.9,17.5 368.0,17.5 368.1,36.4 368.2,78.8 368.3,124.2 368.5,168.2 368.6,203.5 368.7,203.5 368.8,203.5 368.9,203.5 369.0,203.5 369.1,203.5 369.3,194.2 369.4,153.2 369.5,108.2 369.6,63.4 369.7,23.0 369.8,17.5 370.0,17.5 370.1,17.5 370.2,17.5 370.3,17.5 370.4,17.6 370.5,57.0 370.6,101.4 370.8,146.6 370.9,188.5 371.0,203.5 371.1,203.5 371.2,203.5 371.3,203.5 371.5,203.5 371.6,203.5 371.7,174.5 371.8,131.0 371.9,85.5 372.0,42.4 372.1,17.5 372.3,17.5 372.4,17.5 372.5,17.5 372.6,17.5 372.7,17.5 372.8,36.4 373.0,78.8 373.1,124.2 373.2,168.2 373.3,203.5 373.4,203.5 373.5,203.5 373.6,203.5 373.8,203.5 373.9,203.5 374.0,194.2 374.1,153.2 374.2,108.2 374.3,63.4 374.5,23.0 374.6,17.5 374.7,17.5 374.8,17.5 374.9,17.5 375.0,17.5 375.1,17.6 375.3,57.0 375.4,101.4 375.5,146.6 375.6,188.5 375.7,203.5 375.8,203.5 376.0,203.5 376.1,203.5 376.2,203.5 376.3,203.5 376.4,174.5 376.5,131.0 376.7,85.5 376.8,42.4 376.9,17.5 377.0,17.5 377.1,17.5 377.2,17.5 377.3,17.5 377.5,17.5 377.6,36.4 377.7,78.8 377.8,124.2 377.9,168.2 378.0,203.5 378.2,203.5 378.3,203.5 378.4,203.5 378.5,203.5 378.6,203.5 378.7,194.2 378.8,153.2 379.0,108.2 379.1,63.4 379.2,23.0 379.3,17.5 379.4,17.5 379.5,17.5 379.7,17.5 379.8,17.5 379.9,17.6 380.0,57.0 380.1,101.4 380.2,146.6 380.3,188.5 380.5,203.5 380.6,203.5 380.7,203.5 380.8,203.5 380.9,203.5 381.0,203.5 381.2,174.5 381.3,131.0 381.4,85.5 381.5,42.4 381.6,17.5 381.7,17.5 381.8,17.5 382.0,17.5 382.1,17.5 382.2,17.5 382.3,36.4 382.4,78.8 382.5,124.2 382.7,168.2 382.8,203.5 382.9,203.5 383.0,203.5 383.1,203.5 383.2,203.5 383.3,203.5 383.5,194.2 383.6,153.2 383.7,108.2 383.8,63.4 383.9,23.0 384.0,17.5 384.2,17.5 384.3,17.5 384.4,17.5 384.5,17.5 384.6,17.6 384.7,57.0 384.8,101.4 385.0,146.6 385.1,188.5 385.2,203.5 385.3,203.5 385.4,203.5 385.5,203.5 385.7,203.5 385.8,203.5 385.9,174.5 386.0,131.0 386.1,85.5 386.2,42.4 386.4,17.5 386.5,17.5 386.6,17.5 386.7,17.5 386.8,17.5 386.9,17.5 387.0,36.4 387.2,78.8 387.3,124.2 387.4,168.2 387.5,203.5 387.6,203.5 387.7,203.5 387.9,203.5 388.0,203.5 388.1,203.5 388.2,194.2 388.3,153.2 388.4,108.2 388.5,63.4 388.7,23.0 388.8,17.5 388.9,17.5 389.0,17.5 389.1,17.5 389.2,17.5 389.4,17.6 389.5,57.0 389.6,101.4 389.7,146.6 389.8,188.5 389.9,203.5 390.0,203.5 390.2,203.5 390.3,203.5 390.4,203.5 390.5,203.5 390.6,174.5 390.7,131.0 390.9,85.5 391.0,42.4 391.1,17.5 391.2,17.5 391.3,17.5 391.4,17.5 391.5,17.5 391.7,17.5 391.8,36.4 391.9,78.8 392.0,124.2 392.1,168.2 392.2,203.5 392.4,203.5 392.5,203.5 392.6,203.5 392.7,203.5 392.8,203.5 392.9,194.2 393.0,153.2 393.2,108.2 393.3,63.4 393.4,23.0 393.5,17.5 393.6,17.5 393.7,17.5 393.9,17.5 394.0,17.5 394.1,17.6 394.2,57.0 394.3,101.4 394.4,146.6 394.6,188.5 394.7,203.5 394.8,203.5 394.9,203.5 395.0,203.5 395.1,203.5 395.2,203.5 395.4,174.5 395.5,131.0 395.6,85.5 395.7,42.4 395.8,17.5 395.9,17.5 396.1,17.5 396.2,17.5 396.3,17.5 396.4,17.5 396.5,36.4 396.6,78.8 396.7,124.2 396.9,168.2 397.0,203.5 397.1,203.5 397.2,203.5 397.3,203.5 397.4,203.5 397.6,203.5 397.7,194.2 397.8,153.2 397.9,108.2 398.0,63.4 398.1,23.0 398.2,17.5 398.4,17.5 398.5,17.5 398.6,17.5 398.7,17.5 398.8,17.6 398.9,57.0 399.1,101.4 399.2,146.6 399.3,188.5 399.4,203.5 399.5,203.5 399.6,203.5 399.7,203.5 399.9,203.5 400.0,203.5 400.1,174.5 400.2,131.0 400.3,85.5 400.4,42.4 400.6,17.5 400.7,17.5 400.8,17.5 400.9,17.5 401.0,17.5 401.1,17.5 401.2,36.4 401.4,78.8 401.5,124.2 401.6,168.2 401.7,203.5 401.8,203.5 401.9,203.5 402.1,203.5 402.2,203.5 402.3,203.5 402.4,194.2 402.5,153.2 402.6,108.2 402.7,63.4 402.9,23.0 403.0,17.5 403.1,17.5 403.2,17.5 403.3,17.5 403.4,17.5 403.6,17.6 403.7,57.0 403.8,101.4 403.9,146.6 404.0,188.5 404.1,203.5 404.3,203.5 404.4,203.5 404.5,203.5 404.6,203.5 404.7,203.5 404.8,174.5 404.9,131.0 405.1,85.5 405.2,42.4 405.3,17.5 405.4,17.5 405.5,17.5 405.6,17.5 405.8,17.5 405.9,17.5 406.0,36.4 406.1,78.8 406.2,124.2 406.3,168.2 406.4,203.5 406.6,203.5 406.7,203.5 406.8,203.5 406.9,203.5 407.0,203.5 407.1,194.2 407.3,153.2 407.4,108.2 407.5,63.4 407.6,23.0 407.7,17.5 407.8,17.5 407.9,17.5 408.1,17.5 408.2,17.5 408.3,17.6 408.4,57.0 408.5,101.4 408.6,146.6 408.8,188.5 408.9,203.5 409.0,203.5 409.1,203.5 409.2,203.5 409.3,203.5 409.4,203.5 409.6,174.5 409.7,131.0 409.8,85.5 409.9,42.4 410.0,17.5" fill="none" stroke="#5f9fd4" stroke-opacity="0.85" stroke-width="0.32"/>
<polyline points="175.6,79.7 175.8,87.9 176.1,98.2 176.3,109.6 176.5,121.1 176.8,131.7 177.0,140.2 177.2,146.0 177.4,148.5 177.7,147.4 177.9,142.9 178.1,135.4 178.4,125.5 178.6,114.3 178.8,102.7 179.1,91.8 179.3,82.7 179.5,76.1 179.8,72.8 180.0,73.0 180.2,76.7 180.5,83.5 180.7,92.8 180.9,103.8 181.1,115.4 181.4,126.6 181.6,136.3 181.8,143.5 182.1,147.7 182.3,148.4 182.5,145.6 182.8,139.5 183.0,130.7 183.2,120.0 183.5,108.5 183.7,97.1 183.9,87.0 184.1,79.0 184.4,74.0 184.6,72.4 184.8,74.4 185.1,79.7 185.3,87.9 185.5,98.2 185.8,109.6 186.0,121.2 186.2,131.7 186.5,140.3 186.7,146.0 186.9,148.5 187.1,147.4 187.4,142.9 187.6,135.4 187.8,125.5 188.1,114.3 188.3,102.7 188.5,91.8 188.8,82.6 189.0,76.1 189.2,72.8 189.5,72.9 189.7,76.6 189.9,83.5 190.2,92.8 190.4,103.8 190.6,115.4 190.8,126.6 191.1,136.3 191.3,143.6 191.5,147.7 191.8,148.4 192.0,145.6 192.2,139.5 192.5,130.7 192.7,120.0 192.9,108.5 193.2,97.1 193.4,86.9 193.6,79.0 193.8,74.0 194.1,72.4 194.3,74.3 194.5,79.7 194.8,87.9 195.0,98.2 195.2,109.6 195.5,121.2 195.7,131.7 195.9,140.3 196.2,146.1 196.4,148.6 196.6,147.5 196.8,143.0 197.1,135.4 197.3,125.6 197.5,114.3 197.8,102.7 198.0,91.8 198.2,82.6 198.5,76.1 198.7,72.7 198.9,72.9 199.2,76.6 199.4,83.4 199.6,92.8 199.9,103.8 200.1,115.5 200.3,126.6 200.5,136.3 200.8,143.6 201.0,147.8 201.2,148.5 201.5,145.7 201.7,139.6 201.9,130.7 202.2,120.0 202.4,108.5 202.6,97.1 202.9,86.9 203.1,79.0 203.3,73.9 203.5,72.3 203.8,74.3 204.0,79.6 204.2,87.8 204.5,98.2 204.7,109.6 204.9,121.2 205.2,131.7 205.4,140.3 205.6,146.1 205.9,148.6 206.1,147.5 206.3,143.0 206.5,135.5 206.8,125.6 207.0,114.3 207.2,102.7 207.5,91.7 207.7,82.6 207.9,76.0 208.2,72.7 208.4,72.9 208.6,76.5 208.9,83.4 209.1,92.8 209.3,103.8 209.6,115.5 209.8,126.7 210.0,136.3 210.2,143.6 210.5,147.8 210.7,148.5 210.9,145.7 211.2,139.6 211.4,130.8 211.6,120.1 211.9,108.5 212.1,97.0 212.3,86.9 212.6,78.9 212.8,73.9 213.0,72.3 213.2,74.3 213.5,79.6 213.7,87.8 213.9,98.1 214.2,109.6 214.4,121.2 214.6,131.8 214.9,140.3 215.1,146.2 215.3,148.6 215.6,147.6 215.8,143.0 216.0,135.5 216.2,125.6 216.5,114.3 216.7,102.6 216.9,91.7 217.2,82.6 217.4,76.0 217.6,72.6 217.9,72.8 218.1,76.4 218.3,83.3 218.6,92.7 218.8,103.8 219.0,115.5 219.3,126.8 219.5,136.5 219.7,143.9 219.9,148.1 220.2,148.8 220.4,146.0 220.6,139.9 220.9,131.0 221.1,120.2 221.3,108.4 221.6,96.9 221.8,86.6 222.0,78.5 222.3,73.4 222.5,71.8 222.7,73.8 222.9,79.1 223.2,87.5 223.4,97.9 223.6,109.6 223.9,121.4 224.1,132.1 224.3,140.9 224.6,146.8 224.8,149.4 225.0,148.3 225.3,143.7 225.5,136.0 225.7,125.9 225.9,114.4 226.2,102.5 226.4,91.3 226.6,81.9 226.9,75.2 227.1,71.7 227.3,71.9 227.6,75.7 227.8,82.7 228.0,92.3 228.3,103.6 228.5,115.6 228.7,127.1 229.0,137.1 229.2,144.6 229.4,148.9 229.6,149.7 229.9,146.8 230.1,140.5 230.3,131.4 230.6,120.4 230.8,108.4 231.0,96.6 231.3,86.1 231.5,77.8 231.7,72.6 232.0,70.9 232.2,72.9 232.4,78.4 232.6,87.0 232.9,97.7 233.1,109.6 233.3,121.6 233.6,132.6 233.8,141.6 234.0,147.7 234.3,150.4 234.5,149.3 234.7,144.6 235.0,136.7 235.2,126.4 235.4,114.5 235.6,102.2 235.9,90.7 236.1,80.9 236.3,73.9 236.6,70.3 236.8,70.5 237.0,74.3 237.3,81.6 237.5,91.6 237.7,103.3 238.0,115.8 238.2,127.8 238.4,138.3 238.7,146.1 238.9,150.7 239.1,151.5 239.3,148.5 239.6,142.0 239.8,132.5 240.0,120.9 240.3,108.3 240.5,95.8 240.7,84.8 241.0,76.0 241.2,70.5 241.4,68.7 241.7,70.8 241.9,76.6 242.1,85.6 242.3,96.9 242.6,109.5 242.8,122.3 243.0,134.0 243.3,143.5 243.5,150.0 243.7,152.8 244.0,151.7 244.2,146.7 244.4,138.4 244.7,127.4 244.9,114.7 245.1,101.7 245.3,89.5 245.6,79.1 245.8,71.7 246.0,67.9 246.3,68.0 246.5,72.1 246.7,79.8 247.0,90.3 247.2,102.9 247.4,116.2 247.7,129.0 247.9,140.2 248.1,148.6 248.4,153.5 248.6,154.5 248.8,151.3 249.0,144.3 249.3,134.1 249.5,121.6 249.7,108.1 250.0,94.7 250.2,82.8 250.4,73.3 250.7,67.3 250.9,65.3 251.1,67.6 251.4,73.8 251.6,83.5 251.8,95.8 252.0,109.4 252.3,123.3 252.5,136.0 252.7,146.4 253.0,153.5 253.2,156.6 253.4,155.4 253.7,150.0 253.9,140.9 254.1,128.9 254.4,115.1 254.6,100.9 254.8,87.5 255.1,76.1 255.3,67.9 255.5,63.7 255.7,63.8 256.0,68.3 256.2,76.8 256.4,88.4 256.7,102.1 256.9,116.7 257.1,130.8 257.4,143.0 257.6,152.3 257.8,157.7 258.1,158.7 258.3,155.2 258.5,147.5 258.7,136.3 259.0,122.7 259.2,107.9 259.4,93.2 259.7,80.1 259.9,69.8 260.1,63.3 260.4,61.1 260.6,63.5 260.8,70.4 261.1,81.0 261.3,94.4 261.5,109.4 261.7,124.5 262.0,138.4 262.2,149.7 262.4,157.6 262.7,161.1 262.9,160.0 263.1,154.1 263.4,144.2 263.6,130.9 263.8,115.7 264.1,99.8 264.3,84.7 264.5,71.9 264.8,62.6 265.0,57.7 265.2,57.7 265.4,62.6 265.7,72.1 265.9,85.3 266.1,100.9 266.4,117.6 266.6,133.8 266.8,148.0 267.1,158.7 267.3,165.1 267.5,166.4 267.8,162.5 268.0,153.6 268.2,140.7 268.4,124.8 268.7,107.4 268.9,90.2 269.1,74.7 269.4,62.4 269.6,54.5 269.8,51.6 270.1,54.3 270.3,62.3 270.5,74.9 270.8,91.0 271.0,109.1 271.2,127.6 271.4,144.7 271.7,158.9 271.9,168.6 272.1,173.1 272.4,171.7 272.6,164.5 272.8,152.2 273.1,135.9 273.3,116.9 273.5,97.2 273.8,78.4 274.0,62.5 274.2,50.8 274.5,44.7 274.7,44.6 274.9,50.7 275.1,62.5 275.4,78.9 275.6,98.5 275.8,119.4 276.1,139.8 276.3,157.7 276.5,171.4 276.8,179.5 277.0,181.3 277.2,176.4 277.5,165.3 277.7,148.9 277.9,128.7 278.1,106.6 278.4,84.5 278.6,64.6 278.8,48.8 279.1,38.6 279.3,35.0 279.5,38.4 279.8,48.7 280.0,64.9 280.2,85.5 280.5,108.7 280.7,132.4 280.9,154.2 281.1,172.2 281.4,184.7 281.6,190.2 281.8,188.4 282.1,179.3 282.3,163.6 282.5,142.7 282.8,118.7 283.0,93.6 283.2,69.8 283.5,49.6 283.7,34.9 283.9,27.2 284.2,27.2 284.4,35.0 284.6,49.9 284.8,70.7 285.1,95.4 285.3,121.8 285.5,147.3 285.8,169.7 286.0,186.8 286.2,197.0 286.5,199.1 286.7,192.9 286.9,179.0 287.2,158.5 287.4,133.2 287.6,105.6 287.8,78.1 288.1,53.4 288.3,33.8 288.5,21.1 288.8,17.5 289.0,20.8 289.2,33.5 289.5,53.6 289.7,79.3 289.9,108.3 290.2,137.9 290.4,165.3 290.6,187.9 290.8,203.5 291.1,203.5 291.3,203.5 291.5,197.0 291.8,177.3 292.0,151.1 292.2,120.8 292.5,89.1 292.7,59.0 292.9,33.4 293.2,17.5 293.4,17.5 293.6,17.5 293.9,17.5 294.1,33.4 294.3,59.8 294.5,91.2 294.8,124.9 295.0,157.5 295.2,186.1 295.5,203.5 295.7,203.5 295.9,203.5 296.2,203.5 296.4,198.1 296.6,171.8 296.9,139.6 297.1,104.2 297.3,69.2 297.5,37.8 297.8,17.5 298.0,17.5 298.2,17.5 298.5,17.5 298.7,17.5 298.9,39.1 299.2,71.5 299.4,107.7 299.6,144.5 299.9,178.3 300.1,203.5 300.3,203.5 300.5,203.5 300.8,203.5 301.0,203.5 301.2,191.9 301.5,159.9 301.7,123.0 301.9,84.7 302.2,48.5 302.4,17.9 302.6,17.5 302.9,17.5 303.1,17.5 303.3,17.5 303.6,19.1 303.8,50.5 304.0,87.8 304.2,127.4 304.5,165.7 304.7,199.2 304.9,203.5 305.2,203.5 305.4,203.5 305.6,203.5 305.9,203.5 306.1,181.4 306.3,144.0 306.6,103.3 306.8,63.0 307.0,26.8 307.2,17.5 307.5,17.5 307.7,17.5 307.9,17.5 308.2,17.5 308.4,28.6 308.6,65.7 308.9,107.3 309.1,149.5 309.3,188.2 309.6,203.5 309.8,203.5 310.0,203.5 310.2,203.5 310.5,203.5 310.7,203.5 310.9,166.9 311.2,124.7 311.4,81.0 311.6,39.8 311.9,17.5 312.1,17.5 312.3,17.5 312.6,17.5 312.8,17.5 313.0,17.5 313.3,42.2 313.5,84.6 313.7,129.7 313.9,173.3 314.2,203.5 314.4,203.5 314.6,203.5 314.9,203.5 315.1,203.5 315.3,203.5 315.6,189.5 315.8,147.7 316.0,102.5 316.3,58.1 316.5,18.5 316.7,17.5 316.9,17.5 317.2,17.5 317.4,17.5 317.6,17.5 317.9,22.1 318.1,62.4 318.3,107.1 318.6,152.1 318.8,193.3 319.0,203.5 319.3,203.5 319.5,203.5 319.7,203.5 319.9,203.5 320.2,203.5 320.4,169.3 320.6,125.3 320.9,79.9 321.1,37.4 321.3,17.5 321.6,17.5 321.8,17.5 322.0,17.5 322.3,17.5 322.5,17.5 322.7,41.4 323.0,84.4 323.2,129.8 323.4,173.4 323.6,203.5 323.9,203.5 324.1,203.5 324.3,203.5 324.6,203.5 324.8,203.5 325.0,189.5 325.3,147.7 325.5,102.5 325.7,58.1 326.0,18.5 326.2,17.5 326.4,17.5 326.6,17.5 326.9,17.5 327.1,17.5 327.3,22.1 327.6,62.4 327.8,107.1 328.0,152.1 328.3,193.3 328.5,203.5 328.7,203.5 329.0,203.5 329.2,203.5 329.4,203.5 329.7,203.5 329.9,169.3 330.1,125.3 330.3,79.9 330.6,37.4 330.8,17.5 331.0,17.5 331.3,17.5 331.5,17.5 331.7,17.5 332.0,17.5 332.2,41.4 332.4,84.4 332.7,129.8 332.9,173.4 333.1,203.5 333.3,203.5 333.6,203.5 333.8,203.5 334.0,203.5 334.3,203.5 334.5,189.5 334.7,147.7 335.0,102.5 335.2,58.1 335.4,18.5 335.7,17.5 335.9,17.5 336.1,17.5 336.3,17.5 336.6,17.5 336.8,22.1 337.0,62.4 337.3,107.1 337.5,152.1 337.7,193.3 338.0,203.5 338.2,203.5 338.4,203.5 338.7,203.5 338.9,203.5 339.1,203.5 339.4,169.3 339.6,125.3 339.8,79.9 340.0,37.4 340.3,17.5 340.5,17.5 340.7,17.5 341.0,17.5 341.2,17.5 341.4,17.5 341.7,41.4 341.9,84.4 342.1,129.8 342.4,173.4 342.6,203.5 342.8,203.5 343.0,203.5 343.3,203.5 343.5,203.5 343.7,203.5 344.0,189.5 344.2,147.7 344.4,102.5 344.7,58.1 344.9,18.5 345.1,17.5 345.4,17.5 345.6,17.5 345.8,17.5 346.0,17.5 346.3,22.1 346.5,62.4 346.7,107.1 347.0,152.1 347.2,193.3 347.4,203.5 347.7,203.5 347.9,203.5 348.1,203.5 348.4,203.5 348.6,203.5 348.8,169.3 349.1,125.3 349.3,79.9 349.5,37.4 349.7,17.5 350.0,17.5 350.2,17.5 350.4,17.5 350.7,17.5 350.9,17.5 351.1,41.4 351.4,84.4 351.6,129.8 351.8,173.4 352.1,203.5 352.3,203.5 352.5,203.5 352.7,203.5 353.0,203.5 353.2,203.5 353.4,189.5 353.7,147.7 353.9,102.5 354.1,58.1 354.4,18.5 354.6,17.5 354.8,17.5 355.1,17.5 355.3,17.5 355.5,17.5 355.7,22.1 356.0,62.4 356.2,107.1 356.4,152.1 356.7,193.3 356.9,203.5 357.1,203.5 357.4,203.5 357.6,203.5 357.8,203.5 358.1,203.5 358.3,169.3 358.5,125.3 358.8,79.9 359.0,37.4 359.2,17.5 359.4,17.5 359.7,17.5 359.9,17.5 360.1,17.5 360.4,17.5 360.6,41.4 360.8,84.4 361.1,129.8 361.3,173.4 361.5,203.5 361.8,203.5 362.0,203.5 362.2,203.5 362.4,203.5 362.7,203.5 362.9,189.5 363.1,147.7 363.4,102.5 363.6,58.1 363.8,18.5 364.1,17.5 364.3,17.5 364.5,17.5 364.8,17.5 365.0,17.5 365.2,22.1 365.4,62.4 365.7,107.1 365.9,152.1 366.1,193.3 366.4,203.5 366.6,203.5 366.8,203.5 367.1,203.5 367.3,203.5 367.5,203.5 367.8,169.3 368.0,125.3 368.2,79.9 368.5,37.4 368.7,17.5 368.9,17.5 369.1,17.5 369.4,17.5 369.6,17.5 369.8,17.5 370.1,41.4 370.3,84.4 370.5,129.8 370.8,173.4 371.0,203.5 371.2,203.5 371.5,203.5 371.7,203.5 371.9,203.5 372.1,203.5 372.4,189.5 372.6,147.7 372.8,102.5 373.1,58.1 373.3,18.5 373.5,17.5 373.8,17.5 374.0,17.5 374.2,17.5 374.5,17.5 374.7,22.1 374.9,62.4 375.1,107.1 375.4,152.1 375.6,193.3 375.8,203.5 376.1,203.5 376.3,203.5 376.5,203.5 376.8,203.5 377.0,203.5 377.2,169.3 377.5,125.3 377.7,79.9 377.9,37.4 378.2,17.5 378.4,17.5 378.6,17.5 378.8,17.5 379.1,17.5 379.3,17.5 379.5,41.4 379.8,84.4 380.0,129.8 380.2,173.4 380.5,203.5 380.7,203.5 380.9,203.5 381.2,203.5 381.4,203.5 381.6,203.5 381.8,189.5 382.1,147.7 382.3,102.5 382.5,58.1 382.8,18.5 383.0,17.5 383.2,17.5 383.5,17.5 383.7,17.5 383.9,17.5 384.2,22.1 384.4,62.4 384.6,107.1 384.8,152.1 385.1,193.3 385.3,203.5 385.5,203.5 385.8,203.5 386.0,203.5 386.2,203.5 386.5,203.5 386.7,169.3 386.9,125.3 387.2,79.9 387.4,37.4 387.6,17.5 387.9,17.5 388.1,17.5 388.3,17.5 388.5,17.5 388.8,17.5 389.0,41.4 389.2,84.4 389.5,129.8 389.7,173.4 389.9,203.5 390.2,203.5 390.4,203.5 390.6,203.5 390.9,203.5 391.1,203.5 391.3,189.5 391.5,147.7 391.8,102.5 392.0,58.1 392.2,18.5 392.5,17.5 392.7,17.5 392.9,17.5 393.2,17.5 393.4,17.5 393.6,22.1 393.9,62.4 394.1,107.1 394.3,152.1 394.6,193.3 394.8,203.5 395.0,203.5 395.2,203.5 395.5,203.5 395.7,203.5 395.9,203.5 396.2,169.3 396.4,125.3 396.6,79.9 396.9,37.4 397.1,17.5 397.3,17.5 397.6,17.5 397.8,17.5 398.0,17.5 398.2,17.5 398.5,41.4 398.7,84.4 398.9,129.8 399.2,173.4 399.4,203.5 399.6,203.5 399.9,203.5 400.1,203.5 400.3,203.5 400.6,203.5 400.8,189.5 401.0,147.7 401.2,102.5 401.5,58.1 401.7,18.5 401.9,17.5 402.2,17.5 402.4,17.5 402.6,17.5 402.9,17.5 403.1,22.1 403.3,62.4 403.6,107.1 403.8,152.1 404.0,193.3 404.3,203.5 404.5,203.5 404.7,203.5 404.9,203.5 405.2,203.5 405.4,203.5 405.6,169.3 405.9,125.3 406.1,79.9 406.3,37.4 406.6,17.5 406.8,17.5 407.0,17.5 407.3,17.5 407.5,17.5 407.7,17.5 407.9,41.4 408.2,84.4 408.4,129.8 408.6,173.4 408.9,203.5 409.1,203.5 409.3,203.5 409.6,203.5 409.8,203.5 410.0,203.5" fill="none" stroke="#5f9fd4" stroke-opacity="0.45" stroke-width="0.5"/>
</g>
<path clip-path="url(#clip1)" d="M204.47 17.50V203.50M233.34 17.50V203.50M262.21 17.50V203.50M291.08 17.50V203.50M319.95 17.50V203.50M348.82 17.50V203.50M377.69 17.50V203.50M406.56 17.50V203.50M175.60 36.10H412.10M175.60 54.70H412.10M175.60 73.30H412.10M175.60 91.90H412.10M175.60 110.50H412.10M175.60 129.10H412.10M175.60 147.70H412.10M175.60 166.30H412.10M175.60 184.90H412.10" stroke="#3c78aa" stroke-opacity="0.05" stroke-width="0.6" fill="none"/>
<path d="M204.47 203.50v-2.3M204.47 17.50v2.3M233.34 203.50v-2.3M233.34 17.50v2.3M262.21 203.50v-2.3M262.21 17.50v2.3M291.08 203.50v-2.3M291.08 17.50v2.3M319.95 203.50v-2.3M319.95 17.50v2.3M348.82 203.50v-2.3M348.82 17.50v2.3M377.69 203.50v-2.3M377.69 17.50v2.3M406.56 203.50v-2.3M406.56 17.50v2.3M175.60 17.50h2.3M412.10 17.50h-2.3M175.60 36.10h2.3M412.10 36.10h-2.3M175.60 54.70h2.3M412.10 54.70h-2.3M175.60 73.30h2.3M412.10 73.30h-2.3M175.60 91.90h2.3M412.10 91.90h-2.3M175.60 110.50h2.3M412.10 110.50h-2.3M175.60 129.10h2.3M412.10 129.10h-2.3M175.60 147.70h2.3M412.10 147.70h-2.3M175.60 166.30h2.3M412.10 166.30h-2.3M175.60 184.90h2.3M412.10 184.90h-2.3M175.60 203.50h2.3M412.10 203.50h-2.3" stroke="#8c8c8c" stroke-width="0.7" fill="none"/>
<rect x="410.20" y="110.20" width="1.9" height="1.1" fill="#4a8fc8"/>
<g class="tk" text-anchor="end">
<text x="173.00" y="20.05">1.0</text>
<text x="173.00" y="38.65">0.8</text>
<text x="173.00" y="57.25">0.6</text>
<text x="173.00" y="75.85">0.4</text>
<text x="173.00" y="94.45">0.2</text>
<text x="173.00" y="113.05">0.0</text>
<text x="173.00" y="131.65"><tspan font-size="10.6px" dy="0.75">−</tspan><tspan dy="-0.75">0.2</tspan></text>
<text x="173.00" y="150.25"><tspan font-size="10.6px" dy="0.75">−</tspan><tspan dy="-0.75">0.4</tspan></text>
<text x="173.00" y="168.85"><tspan font-size="10.6px" dy="0.75">−</tspan><tspan dy="-0.75">0.6</tspan></text>
<text x="173.00" y="187.45"><tspan font-size="10.6px" dy="0.75">−</tspan><tspan dy="-0.75">0.8</tspan></text>
<text x="173.00" y="206.05"><tspan font-size="10.6px" dy="0.75">−</tspan><tspan dy="-0.75">1.0</tspan></text>
</g>
<g class="tk" text-anchor="middle">
<text x="204.67" y="213.50">500</text>
<text x="233.54" y="213.50">1,<tspan dx="1.2">000</tspan></text>
<text x="262.41" y="213.50">1,<tspan dx="1.2">500</tspan></text>
<text x="291.28" y="213.50">2,<tspan dx="1.2">000</tspan></text>
<text x="320.15" y="213.50">2,<tspan dx="1.2">500</tspan></text>
<text x="349.02" y="213.50">3,<tspan dx="1.2">000</tspan></text>
<text x="377.89" y="213.50">3,<tspan dx="1.2">500</tspan></text>
<text x="406.76" y="213.50">4,<tspan dx="1.2">000</tspan></text>
</g>
<text class="lb" text-anchor="middle" x="294.05" y="224.40">Samples</text>
<text class="lb" text-anchor="middle" transform="translate(154.10 110.70) rotate(-90)">Current [A]</text>
<text class="tt" text-anchor="middle" x="294.35" y="13.50">Current signal (Healthy)</text>
<text class="cp" text-anchor="middle" x="278.40" y="243.90">(<tspan font-weight="bold">a</tspan>)</text>
</g>
<g>
<path d="M62.37 276.20V462.20M91.24 276.20V462.20M120.11 276.20V462.20M148.98 276.20V462.20M177.85 276.20V462.20M206.72 276.20V462.20M235.59 276.20V462.20M264.46 276.20V462.20M33.50 294.80H270.00M33.50 313.40H270.00M33.50 332.00H270.00M33.50 350.60H270.00M33.50 369.20H270.00M33.50 387.80H270.00M33.50 406.40H270.00M33.50 425.00H270.00M33.50 443.60H270.00" stroke="#e9e9e9" stroke-width="0.6" fill="none"/>
<rect x="33.50" y="276.20" width="236.50" height="186.00" fill="none" stroke="#9c9c9c" stroke-width="0.7"/>
<clipPath id="clip2"><rect x="33.50" y="275.80" width="236.50" height="186.80"/></clipPath>
<g clip-path="url(#clip2)" stroke-linejoin="round"><polygon points="33.5,332.4 33.6,331.9 33.7,331.3 33.8,330.8 34.0,331.2 34.1,331.7 34.2,332.2 34.3,332.7 34.4,333.2 34.5,333.5 34.7,333.5 34.8,333.5 34.9,333.6 35.0,333.6 35.1,333.6 35.2,333.6 35.3,333.7 35.5,333.7 35.6,333.7 35.7,333.3 35.8,332.8 35.9,332.3 36.0,331.8 36.2,331.3 36.3,331.2 36.4,331.8 36.5,332.3 36.6,332.8 36.7,333.4 36.8,333.9 37.0,333.9 37.1,333.9 37.2,333.9 37.3,333.9 37.4,333.9 37.5,333.8 37.7,333.8 37.8,333.8 37.9,333.7 38.0,333.5 38.1,332.9 38.2,332.4 38.4,331.8 38.5,331.3 38.6,330.7 38.7,331.1 38.8,331.6 38.9,332.1 39.0,332.6 39.2,333.2 39.3,333.5 39.4,333.5 39.5,333.5 39.6,333.5 39.7,333.5 39.9,333.6 40.0,333.6 40.1,333.6 40.2,333.7 40.3,333.7 40.4,333.3 40.5,332.8 40.7,332.4 40.8,331.9 40.9,331.5 41.0,331.5 41.1,332.1 41.2,332.7 41.4,333.2 41.5,333.8 41.6,334.4 41.7,334.5 41.8,334.5 41.9,334.6 42.0,334.6 42.2,334.6 42.3,334.7 42.4,334.7 42.5,334.7 42.6,334.7 42.7,334.5 42.9,333.9 43.0,333.4 43.1,332.9 43.2,332.3 43.3,331.8 43.4,332.2 43.5,332.7 43.7,333.1 43.8,333.6 43.9,334.1 44.0,334.3 44.1,334.3 44.2,334.2 44.4,334.2 44.5,334.1 44.6,334.1 44.7,334.1 44.8,334.0 44.9,334.0 45.0,334.0 45.2,333.5 45.3,332.9 45.4,332.4 45.5,331.9 45.6,331.4 45.7,331.3 45.9,331.8 46.0,332.3 46.1,332.9 46.2,333.4 46.3,333.9 46.4,334.0 46.5,334.0 46.7,334.1 46.8,334.1 46.9,334.1 47.0,334.1 47.1,334.2 47.2,334.2 47.4,334.2 47.5,333.9 47.6,333.4 47.7,332.9 47.8,332.4 47.9,331.9 48.1,331.3 48.2,331.7 48.3,332.2 48.4,332.7 48.5,333.2 48.6,333.6 48.7,333.9 48.9,333.9 49.0,333.8 49.1,333.7 49.2,333.7 49.3,333.6 49.4,333.6 49.6,333.5 49.7,333.5 49.8,333.4 49.9,332.9 50.0,332.3 50.1,331.7 50.2,331.2 50.4,330.6 50.5,330.5 50.6,331.0 50.7,331.5 50.8,332.1 50.9,332.6 51.1,333.1 51.2,333.2 51.3,333.2 51.4,333.3 51.5,333.3 51.6,333.4 51.7,333.4 51.9,333.5 52.0,333.5 52.1,333.6 52.2,333.4 52.3,332.9 52.4,332.5 52.6,332.0 52.7,331.6 52.8,331.1 52.9,331.6 53.0,332.2 53.1,332.7 53.2,333.3 53.4,333.8 53.5,334.2 53.6,334.2 53.7,334.2 53.8,334.3 53.9,334.3 54.1,334.3 54.2,334.3 54.3,334.3 54.4,334.2 54.5,334.2 54.6,333.7 54.7,333.2 54.9,332.6 55.0,332.1 55.1,331.6 55.2,331.5 55.3,331.9 55.4,332.4 55.6,332.9 55.7,333.4 55.8,333.9 55.9,334.0 56.0,333.9 56.1,333.9 56.2,333.9 56.4,333.9 56.5,334.0 56.6,334.0 56.7,334.0 56.8,334.0 56.9,333.8 57.1,333.3 57.2,332.8 57.3,332.4 57.4,331.9 57.5,331.4 57.6,331.9 57.8,332.5 57.9,333.0 58.0,333.6 58.1,334.1 58.2,334.5 58.3,334.5 58.4,334.5 58.6,334.5 58.7,334.5 58.8,334.6 58.9,334.6 59.0,334.6 59.1,334.5 59.3,334.5 59.4,334.0 59.5,333.5 59.6,332.9 59.7,332.4 59.8,331.8 59.9,331.7 60.1,332.1 60.2,332.6 60.3,333.0 60.4,333.5 60.5,333.9 60.6,333.9 60.8,333.8 60.9,333.8 61.0,333.7 61.1,333.7 61.2,333.6 61.3,333.5 61.4,333.5 61.6,333.4 61.7,333.2 61.8,332.6 61.9,332.0 62.0,331.5 62.1,330.9 62.3,330.4 62.4,330.9 62.5,331.4 62.6,331.9 62.7,332.5 62.8,333.0 62.9,333.4 63.1,333.4 63.2,333.4 63.3,333.5 63.4,333.5 63.5,333.5 63.6,333.6 63.8,333.6 63.9,333.6 64.0,333.7 64.1,333.2 64.2,332.7 64.3,332.2 64.4,331.7 64.6,331.2 64.7,331.2 64.8,331.7 64.9,332.2 65.0,332.7 65.1,333.3 65.3,333.8 65.4,333.8 65.5,333.8 65.6,333.8 65.7,333.7 65.8,333.7 65.9,333.7 66.1,333.7 66.2,333.6 66.3,333.6 66.4,333.3 66.5,332.8 66.6,332.3 66.8,331.7 66.9,331.2 67.0,330.6 67.1,331.1 67.2,331.6 67.3,332.1 67.5,332.7 67.6,333.2 67.7,333.5 67.8,333.6 67.9,333.6 68.0,333.6 68.1,333.7 68.3,333.7 68.4,333.8 68.5,333.9 68.6,333.9 68.7,334.0 68.8,333.5 69.0,333.1 69.1,332.6 69.2,332.2 69.3,331.7 69.4,331.7 69.5,332.3 69.6,332.9 69.8,333.4 69.9,334.0 70.0,334.5 70.1,334.6 70.2,334.6 70.3,334.6 70.5,334.6 70.6,334.6 70.7,334.6 70.8,334.6 70.9,334.6 71.0,334.6 71.1,334.3 71.3,333.7 71.4,333.2 71.5,332.6 71.6,332.1 71.7,331.5 71.8,331.9 72.0,332.3 72.1,332.8 72.2,333.2 72.3,333.7 72.4,334.0 72.5,333.9 72.6,333.9 72.8,333.8 72.9,333.8 73.0,333.8 73.1,333.7 73.2,333.7 73.3,333.7 73.5,333.7 73.6,333.2 73.7,332.7 73.8,332.1 73.9,331.6 74.0,331.1 74.1,331.1 74.3,331.6 74.4,332.1 74.5,332.7 74.6,333.2 74.7,333.8 74.8,333.8 75.0,333.9 75.1,333.9 75.2,333.9 75.3,333.9 75.4,333.9 75.5,333.9 75.7,333.9 75.8,333.9 75.9,333.6 76.0,333.1 76.1,332.5 76.2,332.0 76.3,331.4 76.5,330.8 76.6,331.2 76.7,331.7 76.8,332.2 76.9,332.6 77.0,333.1 77.2,333.4 77.3,333.3 77.4,333.2 77.5,333.2 77.6,333.1 77.7,333.1 77.8,333.0 78.0,333.0 78.1,332.9 78.2,332.9 78.3,332.3 78.4,331.8 78.5,331.2 78.7,330.7 78.8,330.1 78.9,330.1 79.0,330.6 79.1,331.2 79.2,331.7 79.3,332.3 79.5,332.8 79.6,332.9 79.7,333.0 79.8,333.0 79.9,333.1 80.0,333.1 80.2,333.2 80.3,333.2 80.4,333.3 80.5,333.4 80.6,333.2 80.7,332.7 80.8,332.2 81.0,331.8 81.1,331.3 81.2,330.8 81.3,331.3 81.4,331.8 81.5,332.4 81.7,332.9 81.8,333.4 81.9,333.7 82.0,333.7 82.1,333.7 82.2,333.7 82.3,333.7 82.5,333.7 82.6,333.6 82.7,333.6 82.8,333.6 82.9,333.5 83.0,333.0 83.2,332.4 83.3,331.8 83.4,331.3 83.5,330.7 83.6,330.6 83.7,331.1 83.8,331.6 84.0,332.1 84.1,332.6 84.2,333.1 84.3,333.1 84.4,333.1 84.5,333.1 84.7,333.1 84.8,333.1 84.9,333.1 85.0,333.1 85.1,333.2 85.2,333.2 85.4,333.0 85.5,332.4 85.6,331.9 85.7,331.4 85.8,330.9 85.9,330.4 86.0,330.9 86.2,331.5 86.3,332.0 86.4,332.5 86.5,333.1 86.6,333.4 86.7,333.4 86.9,333.4 87.0,333.4 87.1,333.4 87.2,333.3 87.3,333.3 87.4,333.3 87.5,333.2 87.7,333.2 87.8,332.6 87.9,332.0 88.0,331.4 88.1,330.8 88.2,330.2 88.4,330.0 88.5,330.5 88.6,330.9 88.7,331.4 88.8,331.8 88.9,332.3 89.0,332.3 89.2,332.2 89.3,332.1 89.4,332.1 89.5,332.0 89.6,332.0 89.7,331.9 89.9,331.9 90.0,331.9 90.1,331.6 90.2,331.0 90.3,330.5 90.4,329.9 90.5,329.4 90.7,328.8 90.8,329.3 90.9,329.9 91.0,330.5 91.1,331.0 91.2,331.6 91.4,332.0 91.5,332.0 91.6,332.0 91.7,332.0 91.8,332.1 91.9,332.1 92.0,332.1 92.2,332.1 92.3,332.1 92.4,332.1 92.5,331.6 92.6,331.1 92.7,330.5 92.9,329.9 93.0,329.4 93.1,329.3 93.2,329.8 93.3,330.3 93.4,330.8 93.5,331.3 93.7,331.8 93.8,331.8 93.9,331.8 94.0,331.7 94.1,331.7 94.2,331.6 94.4,331.6 94.5,331.5 94.6,331.5 94.7,331.4 94.8,331.1 94.9,330.5 95.1,329.9 95.2,329.3 95.3,328.8 95.4,328.2 95.5,328.6 95.6,329.2 95.7,329.7 95.9,330.3 96.0,330.9 96.1,331.2 96.2,331.2 96.3,331.3 96.4,331.3 96.6,331.3 96.7,331.4 96.8,331.4 96.9,331.4 97.0,331.5 97.1,331.5 97.2,331.0 97.4,330.5 97.5,329.9 97.6,329.4 97.7,328.9 97.8,328.8 97.9,329.4 98.1,329.9 98.2,330.5 98.3,331.0 98.4,331.5 98.5,331.6 98.6,331.5 98.7,331.5 98.9,331.4 99.0,331.3 99.1,331.3 99.2,331.2 99.3,331.1 99.4,331.0 99.6,330.7 99.7,330.0 99.8,329.4 99.9,328.7 100.0,328.1 100.1,327.4 100.2,327.8 100.4,328.2 100.5,328.7 100.6,329.2 100.7,329.7 100.8,330.0 100.9,329.9 101.1,329.8 101.2,329.8 101.3,329.7 101.4,329.7 101.5,329.6 101.6,329.6 101.7,329.6 101.9,329.6 102.0,329.0 102.1,328.4 102.2,327.8 102.3,327.2 102.4,326.6 102.6,326.5 102.7,327.1 102.8,327.7 102.9,328.3 103.0,328.9 103.1,329.4 103.2,329.5 103.4,329.5 103.5,329.5 103.6,329.5 103.7,329.4 103.8,329.4 103.9,329.4 104.1,329.3 104.2,329.3 104.3,328.9 104.4,328.3 104.5,327.6 104.6,326.9 104.8,326.2 104.9,325.6 105.0,326.0 105.1,326.5 105.2,326.9 105.3,327.4 105.4,327.9 105.6,328.2 105.7,328.1 105.8,328.0 105.9,327.9 106.0,327.9 106.1,327.8 106.3,327.7 106.4,327.7 106.5,327.6 106.6,327.6 106.7,326.9 106.8,326.3 106.9,325.6 107.1,325.0 107.2,324.4 107.3,324.3 107.4,324.9 107.5,325.5 107.6,326.2 107.8,326.8 107.9,327.4 108.0,327.5 108.1,327.6 108.2,327.6 108.3,327.6 108.4,327.7 108.6,327.7 108.7,327.7 108.8,327.7 108.9,327.8 109.0,327.5 109.1,326.9 109.3,326.3 109.4,325.7 109.5,325.1 109.6,324.4 109.7,324.9 109.8,325.5 109.9,326.1 110.1,326.6 110.2,327.2 110.3,327.5 110.4,327.4 110.5,327.3 110.6,327.3 110.8,327.2 110.9,327.1 111.0,327.0 111.1,326.9 111.2,326.8 111.3,326.7 111.4,326.0 111.6,325.3 111.7,324.6 111.8,323.9 111.9,323.2 112.0,323.0 112.1,323.5 112.3,324.1 112.4,324.7 112.5,325.3 112.6,325.8 112.7,325.9 112.8,325.8 113.0,325.8 113.1,325.8 113.2,325.7 113.3,325.7 113.4,325.7 113.5,325.7 113.6,325.7 113.8,325.4 113.9,324.7 114.0,324.1 114.1,323.4 114.2,322.8 114.3,322.1 114.5,322.6 114.6,323.2 114.7,323.8 114.8,324.4 114.9,325.0 115.0,325.3 115.1,325.3 115.3,325.2 115.4,325.1 115.5,325.0 115.6,324.9 115.7,324.8 115.8,324.7 116.0,324.6 116.1,324.5 116.2,323.7 116.3,322.9 116.4,322.1 116.5,321.3 116.6,320.5 116.8,320.3 116.9,320.8 117.0,321.4 117.1,321.9 117.2,322.5 117.3,323.0 117.5,323.0 117.6,322.9 117.7,322.8 117.8,322.8 117.9,322.7 118.0,322.6 118.1,322.6 118.3,322.5 118.4,322.5 118.5,322.2 118.6,321.5 118.7,320.8 118.8,320.1 119.0,319.4 119.1,318.7 119.2,319.3 119.3,320.0 119.4,320.7 119.5,321.4 119.6,322.1 119.8,322.6 119.9,322.6 120.0,322.6 120.1,322.6 120.2,322.6 120.3,322.5 120.5,322.4 120.6,322.4 120.7,322.3 120.8,322.2 120.9,321.4 121.0,320.6 121.1,319.8 121.3,319.0 121.4,318.2 121.5,317.9 121.6,318.5 121.7,319.1 121.8,319.6 122.0,320.2 122.1,320.7 122.2,320.7 122.3,320.5 122.4,320.4 122.5,320.2 122.7,320.1 122.8,319.9 122.9,319.8 123.0,319.6 123.1,319.5 123.2,319.1 123.3,318.2 123.5,317.4 123.6,316.5 123.7,315.7 123.8,314.9 123.9,315.4 124.0,316.1 124.2,316.7 124.3,317.4 124.4,318.1 124.5,318.5 124.6,318.5 124.7,318.4 124.8,318.4 125.0,318.3 125.1,318.3 125.2,318.2 125.3,318.2 125.4,318.1 125.5,318.1 125.7,317.3 125.8,316.5 125.9,315.6 126.0,314.8 126.1,313.9 126.2,313.7 126.3,314.3 126.5,315.0 126.6,315.6 126.7,316.2 126.8,316.8 126.9,316.7 127.0,316.5 127.2,316.3 127.3,316.1 127.4,315.9 127.5,315.7 127.6,315.4 127.7,315.1 127.8,314.8 128.0,314.2 128.1,313.1 128.2,312.0 128.3,310.9 128.4,309.8 128.5,308.7 128.7,309.2 128.8,309.7 128.9,310.3 129.0,310.9 129.1,311.5 129.2,311.8 129.3,311.6 129.5,311.4 129.6,311.2 129.7,311.0 129.8,310.8 129.9,310.7 130.0,310.5 130.2,310.4 130.3,310.2 130.4,309.3 130.5,308.3 130.6,307.3 130.7,306.3 130.8,305.3 131.0,305.0 131.1,305.7 131.2,306.5 131.3,307.2 131.4,307.9 131.5,308.7 131.7,308.6 131.8,308.5 131.9,308.3 132.0,308.1 132.1,307.9 132.2,307.8 132.4,307.6 132.5,307.3 132.6,307.1 132.7,306.5 132.8,305.3 132.9,304.2 133.0,303.0 133.2,301.8 133.3,300.6 133.4,301.2 133.5,301.8 133.6,302.5 133.7,303.1 133.9,303.8 134.0,304.2 134.1,303.9 134.2,303.7 134.3,303.5 134.4,303.2 134.5,303.0 134.7,302.8 134.8,302.7 134.9,302.5 135.0,302.3 135.1,301.3 135.2,300.1 135.4,299.0 135.5,297.9 135.6,296.8 135.7,296.6 135.8,297.5 135.9,298.4 136.0,299.3 136.2,300.2 136.3,301.1 136.4,301.2 136.5,301.1 136.6,301.0 136.7,300.9 136.9,300.8 137.0,300.7 137.1,300.6 137.2,300.5 137.3,300.4 137.4,299.8 137.5,298.6 137.7,297.4 137.8,296.2 137.9,295.0 138.0,293.7 138.1,294.4 138.2,295.1 138.4,295.9 138.5,296.7 138.6,297.4 138.7,297.8 138.8,297.5 138.9,297.2 139.0,296.9 139.2,296.6 139.3,296.4 139.4,296.1 139.5,295.8 139.6,295.5 139.7,295.2 139.9,293.9 140.0,292.6 140.1,291.2 140.2,289.8 140.3,288.5 140.4,288.1 140.5,289.0 140.7,289.8 140.8,290.8 140.9,291.7 141.0,292.6 141.1,292.6 141.2,292.4 141.4,292.3 141.5,292.1 141.6,292.0 141.7,291.8 141.8,291.7 141.9,291.5 142.1,291.4 142.2,290.7 142.3,289.4 142.4,288.1 142.5,286.8 142.6,285.5 142.7,284.1 142.9,284.9 143.0,285.8 143.1,286.8 143.2,287.7 143.3,288.6 143.4,289.0 143.6,288.7 143.7,288.4 143.8,288.1 143.9,287.8 144.0,287.5 144.1,287.1 144.2,286.8 144.4,286.4 144.5,286.0 144.6,284.5 144.7,282.9 144.8,281.3 144.9,279.7 145.1,278.1 145.2,277.6 145.3,278.5 145.4,279.4 145.5,280.3 145.6,281.3 145.7,282.3 145.9,282.2 146.0,282.0 146.1,281.7 146.2,281.5 146.3,281.3 146.4,281.1 146.6,280.9 146.7,280.7 146.8,280.5 146.9,279.7 147.0,278.2 147.1,276.7 147.2,276.2 147.4,276.2 147.5,276.2 147.6,276.2 147.7,276.2 147.8,276.2 147.9,276.8 148.1,277.9 148.2,278.6 148.3,278.4 148.4,278.2 148.5,278.0 148.6,277.8 148.7,277.6 148.9,277.4 149.0,277.1 149.1,276.9 149.2,276.6 149.3,276.2 149.4,276.2 149.6,276.2 149.7,276.2 149.8,276.2 149.9,276.2 150.0,276.2 150.1,276.2 150.3,276.2 150.4,276.2 150.5,276.2 150.6,276.2 150.7,276.2 150.8,276.2 150.9,276.2 151.1,276.2 151.2,276.2 151.3,276.2 151.4,276.2 151.5,276.2 151.6,276.2 151.8,276.2 151.9,276.2 152.0,276.2 152.1,276.2 152.2,276.2 152.3,276.2 152.4,276.2 152.6,276.2 152.7,276.2 152.8,276.2 152.9,276.2 153.0,276.2 153.1,276.2 153.3,276.2 153.4,276.2 153.5,276.2 153.6,276.2 153.7,276.2 153.8,276.2 153.9,276.2 154.1,276.2 154.2,276.2 154.3,276.2 154.4,276.2 154.5,276.2 154.6,276.2 154.8,276.2 154.9,276.2 155.0,276.2 155.1,276.2 155.2,276.2 155.3,276.2 155.4,276.2 155.6,276.2 155.7,276.2 155.8,276.2 155.9,276.2 156.0,276.2 156.1,276.2 156.3,276.2 156.4,276.2 156.5,276.2 156.6,276.2 156.7,276.2 156.8,276.2 156.9,276.2 157.1,276.2 157.2,276.2 157.3,276.2 157.4,276.2 157.5,276.2 157.6,276.2 157.8,276.2 157.9,276.2 158.0,276.2 158.1,276.2 158.2,276.2 158.3,276.2 158.4,276.2 158.6,276.2 158.7,276.2 158.8,276.2 158.9,276.2 159.0,276.2 159.1,276.2 159.3,276.2 159.4,276.2 159.5,276.2 159.6,276.2 159.7,276.2 159.8,276.2 160.0,276.2 160.1,276.2 160.2,276.2 160.3,276.2 160.4,276.2 160.5,276.2 160.6,276.2 160.8,276.2 160.9,276.2 161.0,276.2 161.1,276.2 161.2,276.2 161.3,276.2 161.5,276.2 161.6,276.2 161.7,276.2 161.8,276.2 161.9,276.2 162.0,276.2 162.1,276.2 162.3,276.2 162.4,276.2 162.5,276.2 162.6,276.2 162.7,276.2 162.8,276.2 163.0,276.2 163.1,276.2 163.2,276.2 163.3,276.2 163.4,276.2 163.5,276.2 163.6,276.2 163.8,276.2 163.9,276.2 164.0,276.2 164.1,276.2 164.2,276.2 164.3,276.2 164.5,276.2 164.6,276.2 164.7,276.2 164.8,276.2 164.9,276.2 165.0,276.2 165.1,276.2 165.3,276.2 165.4,276.2 165.5,276.2 165.6,276.2 165.7,276.2 165.8,276.2 166.0,276.2 166.1,276.2 166.2,276.2 166.3,276.2 166.4,276.2 166.5,276.2 166.6,276.2 166.8,276.2 166.9,276.2 167.0,276.2 167.1,276.2 167.2,276.2 167.3,276.2 167.5,276.2 167.6,276.2 167.7,276.2 167.8,276.2 167.9,276.2 168.0,276.2 168.1,276.2 168.3,276.2 168.4,276.2 168.5,276.2 168.6,276.2 168.7,276.2 168.8,276.2 169.0,276.2 169.1,276.2 169.2,276.2 169.3,276.2 169.4,276.2 169.5,276.2 169.7,276.2 169.8,276.2 169.9,276.2 170.0,276.2 170.1,276.2 170.2,276.2 170.3,276.2 170.5,276.2 170.6,276.2 170.7,276.2 170.8,276.2 170.9,276.2 171.0,276.2 171.2,276.2 171.3,276.2 171.4,276.2 171.5,276.2 171.6,276.2 171.7,276.2 171.8,276.2 172.0,276.2 172.1,276.2 172.2,276.2 172.3,276.2 172.4,276.2 172.5,276.2 172.7,276.2 172.8,276.2 172.9,276.2 173.0,276.2 173.1,276.2 173.2,276.2 173.3,276.2 173.5,276.2 173.6,276.2 173.7,276.2 173.8,276.2 173.9,276.2 174.0,276.2 174.2,276.2 174.3,276.2 174.4,276.2 174.5,276.2 174.6,276.2 174.7,276.2 174.8,276.2 175.0,276.2 175.1,276.2 175.2,276.2 175.3,276.2 175.4,276.2 175.5,276.2 175.7,276.2 175.8,276.2 175.9,276.2 176.0,276.2 176.1,276.2 176.2,276.2 176.3,276.2 176.5,276.2 176.6,276.2 176.7,276.2 176.8,276.2 176.9,276.2 177.0,276.2 177.2,276.2 177.3,276.2 177.4,276.2 177.5,276.2 177.6,276.2 177.7,276.2 177.8,276.2 178.0,276.2 178.1,276.2 178.2,276.2 178.3,276.2 178.4,276.2 178.5,276.2 178.7,276.2 178.8,276.2 178.9,276.2 179.0,276.2 179.1,276.2 179.2,276.2 179.4,276.2 179.5,276.2 179.6,276.2 179.7,276.2 179.8,276.2 179.9,276.2 180.0,276.2 180.2,276.2 180.3,276.2 180.4,276.2 180.5,276.2 180.6,276.2 180.7,276.2 180.9,276.2 181.0,276.2 181.1,276.2 181.2,276.2 181.3,276.2 181.4,276.2 181.5,276.2 181.7,276.2 181.8,276.2 181.9,276.2 182.0,276.2 182.1,276.2 182.2,276.2 182.4,276.2 182.5,276.2 182.6,276.2 182.7,276.2 182.8,276.2 182.9,276.2 183.0,276.2 183.2,276.2 183.3,276.2 183.4,276.2 183.5,276.2 183.6,276.2 183.7,276.2 183.9,276.2 184.0,276.2 184.1,276.2 184.2,276.2 184.3,276.2 184.4,276.2 184.5,276.2 184.7,276.2 184.8,276.2 184.9,276.2 185.0,276.2 185.1,276.2 185.2,276.2 185.4,276.2 185.5,276.2 185.6,276.2 185.7,276.2 185.8,276.2 185.9,276.2 186.0,276.2 186.2,276.2 186.3,276.2 186.4,276.2 186.5,276.2 186.6,276.2 186.7,276.2 186.9,276.2 187.0,276.2 187.1,276.2 187.2,276.2 187.3,276.2 187.4,276.2 187.6,276.2 187.7,276.2 187.8,276.2 187.9,276.2 188.0,276.2 188.1,276.2 188.2,276.2 188.4,276.2 188.5,276.2 188.6,276.2 188.7,276.2 188.8,276.2 188.9,276.2 189.1,276.2 189.2,276.2 189.3,276.2 189.4,276.2 189.5,276.2 189.6,276.2 189.7,276.2 189.9,276.2 190.0,276.2 190.1,276.2 190.2,276.2 190.3,276.2 190.4,276.2 190.6,276.2 190.7,276.2 190.8,276.2 190.9,276.2 191.0,276.2 191.1,276.2 191.2,276.2 191.4,276.2 191.5,276.2 191.6,276.2 191.7,276.2 191.8,276.2 191.9,276.2 192.1,276.2 192.2,276.2 192.3,276.2 192.4,276.2 192.5,276.2 192.6,276.2 192.7,276.2 192.9,276.2 193.0,276.2 193.1,276.2 193.2,276.2 193.3,276.2 193.4,276.2 193.6,276.2 193.7,276.2 193.8,276.2 193.9,276.2 194.0,276.2 194.1,276.2 194.2,276.2 194.4,276.2 194.5,276.2 194.6,276.2 194.7,276.2 194.8,276.2 194.9,276.2 195.1,276.2 195.2,276.2 195.3,276.2 195.4,276.2 195.5,276.2 195.6,276.2 195.7,276.2 195.9,276.2 196.0,276.2 196.1,276.2 196.2,276.2 196.3,276.2 196.4,276.2 196.6,276.2 196.7,276.2 196.8,276.2 196.9,276.2 197.0,276.2 197.1,276.2 197.3,276.2 197.4,276.2 197.5,276.2 197.6,276.2 197.7,276.2 197.8,276.2 197.9,276.2 198.1,276.2 198.2,276.2 198.3,276.2 198.4,276.2 198.5,276.2 198.6,276.2 198.8,276.2 198.9,276.2 199.0,276.2 199.1,276.2 199.2,276.2 199.3,276.2 199.4,276.2 199.6,276.2 199.7,276.2 199.8,276.2 199.9,276.2 200.0,276.2 200.1,276.2 200.3,276.2 200.4,276.2 200.5,276.2 200.6,276.2 200.7,276.2 200.8,276.2 200.9,276.2 201.1,276.2 201.2,276.2 201.3,276.2 201.4,276.2 201.5,276.2 201.6,276.2 201.8,276.2 201.9,276.2 202.0,276.2 202.1,276.2 202.2,276.2 202.3,276.2 202.4,276.2 202.6,276.2 202.7,276.2 202.8,276.2 202.9,276.2 203.0,276.2 203.1,276.2 203.3,276.2 203.4,276.2 203.5,276.2 203.6,276.2 203.7,276.2 203.8,276.2 203.9,276.2 204.1,276.2 204.2,276.2 204.3,276.2 204.4,276.2 204.5,276.2 204.6,276.2 204.8,276.2 204.9,276.2 205.0,276.2 205.1,276.2 205.2,276.2 205.3,276.2 205.4,276.2 205.6,276.2 205.7,276.2 205.8,276.2 205.9,276.2 206.0,276.2 206.1,276.2 206.3,276.2 206.4,276.2 206.5,276.2 206.6,276.2 206.7,276.2 206.8,276.2 207.0,276.2 207.1,276.2 207.2,276.2 207.3,276.2 207.4,276.2 207.5,276.2 207.6,276.2 207.8,276.2 207.9,276.2 208.0,276.2 208.1,276.2 208.2,276.2 208.3,276.2 208.5,276.2 208.6,276.2 208.7,276.2 208.8,276.2 208.9,276.2 209.0,276.2 209.1,276.2 209.3,276.2 209.4,276.2 209.5,276.2 209.6,276.2 209.7,276.2 209.8,276.2 210.0,276.2 210.1,276.2 210.2,276.2 210.3,276.2 210.4,276.2 210.5,276.2 210.6,276.2 210.8,276.2 210.9,276.2 211.0,276.2 211.1,276.2 211.2,276.2 211.3,276.2 211.5,276.2 211.6,276.2 211.7,276.2 211.8,276.2 211.9,276.2 212.0,276.2 212.1,276.2 212.3,276.2 212.4,276.2 212.5,276.2 212.6,276.2 212.7,276.2 212.8,276.2 213.0,276.2 213.1,276.2 213.2,276.2 213.3,276.2 213.4,276.2 213.5,276.2 213.6,276.2 213.8,276.2 213.9,276.2 214.0,276.2 214.1,276.2 214.2,276.2 214.3,276.2 214.5,276.2 214.6,276.2 214.7,276.2 214.8,276.2 214.9,276.2 215.0,276.2 215.2,276.2 215.3,276.2 215.4,276.2 215.5,276.2 215.6,276.2 215.7,276.2 215.8,276.2 216.0,276.2 216.1,276.2 216.2,276.2 216.3,276.2 216.4,276.2 216.5,276.2 216.7,276.2 216.8,276.2 216.9,276.2 217.0,276.2 217.1,276.2 217.2,276.2 217.3,276.2 217.5,276.2 217.6,276.2 217.7,276.2 217.8,276.2 217.9,276.2 218.0,276.2 218.2,276.2 218.3,276.2 218.4,276.2 218.5,276.2 218.6,276.2 218.7,276.2 218.8,276.2 219.0,276.2 219.1,276.2 219.2,276.2 219.3,276.2 219.4,276.2 219.5,276.2 219.7,276.2 219.8,276.2 219.9,276.2 220.0,276.2 220.1,276.2 220.2,276.2 220.3,276.2 220.5,276.2 220.6,276.2 220.7,276.2 220.8,276.2 220.9,276.2 221.0,276.2 221.2,276.2 221.3,276.2 221.4,276.2 221.5,276.2 221.6,276.2 221.7,276.2 221.8,276.2 222.0,276.2 222.1,276.2 222.2,276.2 222.3,276.2 222.4,276.2 222.5,276.2 222.7,276.2 222.8,276.2 222.9,276.2 223.0,276.2 223.1,276.2 223.2,276.2 223.3,276.2 223.5,276.2 223.6,276.2 223.7,276.2 223.8,276.2 223.9,276.2 224.0,276.2 224.2,276.2 224.3,276.2 224.4,276.2 224.5,276.2 224.6,276.2 224.7,276.2 224.9,276.2 225.0,276.2 225.1,276.2 225.2,276.2 225.3,276.2 225.4,276.2 225.5,276.2 225.7,276.2 225.8,276.2 225.9,276.2 226.0,276.2 226.1,276.2 226.2,276.2 226.4,276.2 226.5,276.2 226.6,276.2 226.7,276.2 226.8,276.2 226.9,276.2 227.0,276.2 227.2,276.2 227.3,276.2 227.4,276.2 227.5,276.2 227.6,276.2 227.7,276.2 227.9,276.2 228.0,276.2 228.1,276.2 228.2,276.2 228.3,276.2 228.4,276.2 228.5,276.2 228.7,276.2 228.8,276.2 228.9,276.2 229.0,276.2 229.1,276.2 229.2,276.2 229.4,276.2 229.5,276.2 229.6,276.2 229.7,276.2 229.8,276.2 229.9,276.2 230.0,276.2 230.2,276.2 230.3,276.2 230.4,276.2 230.5,276.2 230.6,276.2 230.7,276.2 230.9,276.2 231.0,276.2 231.1,276.2 231.2,276.2 231.3,276.2 231.4,276.2 231.5,276.2 231.7,276.2 231.8,276.2 231.9,276.2 232.0,276.2 232.1,276.2 232.2,276.2 232.4,276.2 232.5,276.2 232.6,276.2 232.7,276.2 232.8,276.2 232.9,276.2 233.0,276.2 233.2,276.2 233.3,276.2 233.4,276.2 233.5,276.2 233.6,276.2 233.7,276.2 233.9,276.2 234.0,276.2 234.1,276.2 234.2,276.2 234.3,276.2 234.4,276.2 234.6,276.2 234.7,276.2 234.8,276.2 234.9,276.2 235.0,276.2 235.1,276.2 235.2,276.2 235.4,276.2 235.5,276.2 235.6,276.2 235.7,276.2 235.8,276.2 235.9,276.2 236.1,276.2 236.2,276.2 236.3,276.2 236.4,276.2 236.5,276.2 236.6,276.2 236.7,276.2 236.9,276.2 237.0,276.2 237.1,276.2 237.2,276.2 237.3,276.2 237.4,276.2 237.6,276.2 237.7,276.2 237.8,276.2 237.9,276.2 238.0,276.2 238.1,276.2 238.2,276.2 238.4,276.2 238.5,276.2 238.6,276.2 238.7,276.2 238.8,276.2 238.9,276.2 239.1,276.2 239.2,276.2 239.3,276.2 239.4,276.2 239.5,276.2 239.6,276.2 239.7,276.2 239.9,276.2 240.0,276.2 240.1,276.2 240.2,276.2 240.3,276.2 240.4,276.2 240.6,276.2 240.7,276.2 240.8,276.2 240.9,276.2 241.0,276.2 241.1,276.2 241.2,276.2 241.4,276.2 241.5,276.2 241.6,276.2 241.7,276.2 241.8,276.2 241.9,276.2 242.1,276.2 242.2,276.2 242.3,276.2 242.4,276.2 242.5,276.2 242.6,276.2 242.7,276.2 242.9,276.2 243.0,276.2 243.1,276.2 243.2,276.2 243.3,276.2 243.4,276.2 243.6,276.2 243.7,276.2 243.8,276.2 243.9,276.2 244.0,276.2 244.1,276.2 244.3,276.2 244.4,276.2 244.5,276.2 244.6,276.2 244.7,276.2 244.8,276.2 244.9,276.2 245.1,276.2 245.2,276.2 245.3,276.2 245.4,276.2 245.5,276.2 245.6,276.2 245.8,276.2 245.9,276.2 246.0,276.2 246.1,276.2 246.2,276.2 246.3,276.2 246.4,276.2 246.6,276.2 246.7,276.2 246.8,276.2 246.9,276.2 247.0,276.2 247.1,276.2 247.3,276.2 247.4,276.2 247.5,276.2 247.6,276.2 247.7,276.2 247.8,276.2 247.9,276.2 248.1,276.2 248.2,276.2 248.3,276.2 248.4,276.2 248.5,276.2 248.6,276.2 248.8,276.2 248.9,276.2 249.0,276.2 249.1,276.2 249.2,276.2 249.3,276.2 249.4,276.2 249.6,276.2 249.7,276.2 249.8,276.2 249.9,276.2 250.0,276.2 250.1,276.2 250.3,276.2 250.4,276.2 250.5,276.2 250.6,276.2 250.7,276.2 250.8,276.2 250.9,276.2 251.1,276.2 251.2,276.2 251.3,276.2 251.4,276.2 251.5,276.2 251.6,276.2 251.8,276.2 251.9,276.2 252.0,276.2 252.1,276.2 252.2,276.2 252.3,276.2 252.5,276.2 252.6,276.2 252.7,276.2 252.8,276.2 252.9,276.2 253.0,276.2 253.1,276.2 253.3,276.2 253.4,276.2 253.5,276.2 253.6,276.2 253.7,276.2 253.8,276.2 254.0,276.2 254.1,276.2 254.2,276.2 254.3,276.2 254.4,276.2 254.5,276.2 254.6,276.2 254.8,276.2 254.9,276.2 255.0,276.2 255.1,276.2 255.2,276.2 255.3,276.2 255.5,276.2 255.6,276.2 255.7,276.2 255.8,276.2 255.9,276.2 256.0,276.2 256.1,276.2 256.3,276.2 256.4,276.2 256.5,276.2 256.6,276.2 256.7,276.2 256.8,276.2 257.0,276.2 257.1,276.2 257.2,276.2 257.3,276.2 257.4,276.2 257.5,276.2 257.6,276.2 257.8,276.2 257.9,276.2 258.0,276.2 258.1,276.2 258.2,276.2 258.3,276.2 258.5,276.2 258.6,276.2 258.7,276.2 258.8,276.2 258.9,276.2 259.0,276.2 259.1,276.2 259.3,276.2 259.4,276.2 259.5,276.2 259.6,276.2 259.7,276.2 259.8,276.2 260.0,276.2 260.1,276.2 260.2,276.2 260.3,276.2 260.4,276.2 260.5,276.2 260.6,276.2 260.8,276.2 260.9,276.2 261.0,276.2 261.1,276.2 261.2,276.2 261.3,276.2 261.5,276.2 261.6,276.2 261.7,276.2 261.8,276.2 261.9,276.2 262.0,276.2 262.2,276.2 262.3,276.2 262.4,276.2 262.5,276.2 262.6,276.2 262.7,276.2 262.8,276.2 263.0,276.2 263.1,276.2 263.2,276.2 263.3,276.2 263.4,276.2 263.5,276.2 263.7,276.2 263.8,276.2 263.9,276.2 264.0,276.2 264.1,276.2 264.2,276.2 264.3,276.2 264.5,276.2 264.6,276.2 264.7,276.2 264.8,276.2 264.9,276.2 265.0,276.2 265.2,276.2 265.3,276.2 265.4,276.2 265.5,276.2 265.6,276.2 265.7,276.2 265.8,276.2 266.0,276.2 266.1,276.2 266.2,276.2 266.3,276.2 266.4,276.2 266.5,276.2 266.7,276.2 266.8,276.2 266.9,276.2 267.0,276.2 267.1,276.2 267.2,276.2 267.3,276.2 267.5,276.2 267.6,276.2 267.7,276.2 267.8,276.2 267.9,276.2 268.0,462.2 267.9,462.2 267.8,462.2 267.6,462.2 267.5,462.2 267.4,462.2 267.3,462.2 267.2,462.2 267.1,462.2 266.9,462.2 266.8,462.2 266.7,462.2 266.6,462.2 266.5,462.2 266.4,462.2 266.2,462.2 266.1,462.2 266.0,462.2 265.9,462.2 265.8,462.2 265.7,462.2 265.6,462.2 265.4,462.2 265.3,462.2 265.2,462.2 265.1,462.2 265.0,462.2 264.9,462.2 264.7,462.2 264.6,462.2 264.5,462.2 264.4,462.2 264.3,462.2 264.2,462.2 264.1,462.2 263.9,462.2 263.8,462.2 263.7,462.2 263.6,462.2 263.5,462.2 263.4,462.2 263.2,462.2 263.1,462.2 263.0,462.2 262.9,462.2 262.8,462.2 262.7,462.2 262.6,462.2 262.4,462.2 262.3,462.2 262.2,462.2 262.1,462.2 262.0,462.2 261.9,462.2 261.7,462.2 261.6,462.2 261.5,462.2 261.4,462.2 261.3,462.2 261.2,462.2 261.1,462.2 260.9,462.2 260.8,462.2 260.7,462.2 260.6,462.2 260.5,462.2 260.4,462.2 260.2,462.2 260.1,462.2 260.0,462.2 259.9,462.2 259.8,462.2 259.7,462.2 259.6,462.2 259.4,462.2 259.3,462.2 259.2,462.2 259.1,462.2 259.0,462.2 258.9,462.2 258.7,462.2 258.6,462.2 258.5,462.2 258.4,462.2 258.3,462.2 258.2,462.2 258.1,462.2 257.9,462.2 257.8,462.2 257.7,462.2 257.6,462.2 257.5,462.2 257.4,462.2 257.2,462.2 257.1,462.2 257.0,462.2 256.9,462.2 256.8,462.2 256.7,462.2 256.5,462.2 256.4,462.2 256.3,462.2 256.2,462.2 256.1,462.2 256.0,462.2 255.9,462.2 255.7,462.2 255.6,462.2 255.5,462.2 255.4,462.2 255.3,462.2 255.2,462.2 255.0,462.2 254.9,462.2 254.8,462.2 254.7,462.2 254.6,462.2 254.5,462.2 254.4,462.2 254.2,462.2 254.1,462.2 254.0,462.2 253.9,462.2 253.8,462.2 253.7,462.2 253.5,462.2 253.4,462.2 253.3,462.2 253.2,462.2 253.1,462.2 253.0,462.2 252.9,462.2 252.7,462.2 252.6,462.2 252.5,462.2 252.4,462.2 252.3,462.2 252.2,462.2 252.0,462.2 251.9,462.2 251.8,462.2 251.7,462.2 251.6,462.2 251.5,462.2 251.4,462.2 251.2,462.2 251.1,462.2 251.0,462.2 250.9,462.2 250.8,462.2 250.7,462.2 250.5,462.2 250.4,462.2 250.3,462.2 250.2,462.2 250.1,462.2 250.0,462.2 249.9,462.2 249.7,462.2 249.6,462.2 249.5,462.2 249.4,462.2 249.3,462.2 249.2,462.2 249.0,462.2 248.9,462.2 248.8,462.2 248.7,462.2 248.6,462.2 248.5,462.2 248.4,462.2 248.2,462.2 248.1,462.2 248.0,462.2 247.9,462.2 247.8,462.2 247.7,462.2 247.5,462.2 247.4,462.2 247.3,462.2 247.2,462.2 247.1,462.2 247.0,462.2 246.8,462.2 246.7,462.2 246.6,462.2 246.5,462.2 246.4,462.2 246.3,462.2 246.2,462.2 246.0,462.2 245.9,462.2 245.8,462.2 245.7,462.2 245.6,462.2 245.5,462.2 245.3,462.2 245.2,462.2 245.1,462.2 245.0,462.2 244.9,462.2 244.8,462.2 244.7,462.2 244.5,462.2 244.4,462.2 244.3,462.2 244.2,462.2 244.1,462.2 244.0,462.2 243.8,462.2 243.7,462.2 243.6,462.2 243.5,462.2 243.4,462.2 243.3,462.2 243.2,462.2 243.0,462.2 242.9,462.2 242.8,462.2 242.7,462.2 242.6,462.2 242.5,462.2 242.3,462.2 242.2,462.2 242.1,462.2 242.0,462.2 241.9,462.2 241.8,462.2 241.7,462.2 241.5,462.2 241.4,462.2 241.3,462.2 241.2,462.2 241.1,462.2 241.0,462.2 240.8,462.2 240.7,462.2 240.6,462.2 240.5,462.2 240.4,462.2 240.3,462.2 240.2,462.2 240.0,462.2 239.9,462.2 239.8,462.2 239.7,462.2 239.6,462.2 239.5,462.2 239.3,462.2 239.2,462.2 239.1,462.2 239.0,462.2 238.9,462.2 238.8,462.2 238.7,462.2 238.5,462.2 238.4,462.2 238.3,462.2 238.2,462.2 238.1,462.2 238.0,462.2 237.8,462.2 237.7,462.2 237.6,462.2 237.5,462.2 237.4,462.2 237.3,462.2 237.1,462.2 237.0,462.2 236.9,462.2 236.8,462.2 236.7,462.2 236.6,462.2 236.5,462.2 236.3,462.2 236.2,462.2 236.1,462.2 236.0,462.2 235.9,462.2 235.8,462.2 235.6,462.2 235.5,462.2 235.4,462.2 235.3,462.2 235.2,462.2 235.1,462.2 235.0,462.2 234.8,462.2 234.7,462.2 234.6,462.2 234.5,462.2 234.4,462.2 234.3,462.2 234.1,462.2 234.0,462.2 233.9,462.2 233.8,462.2 233.7,462.2 233.6,462.2 233.5,462.2 233.3,462.2 233.2,462.2 233.1,462.2 233.0,462.2 232.9,462.2 232.8,462.2 232.6,462.2 232.5,462.2 232.4,462.2 232.3,462.2 232.2,462.2 232.1,462.2 232.0,462.2 231.8,462.2 231.7,462.2 231.6,462.2 231.5,462.2 231.4,462.2 231.3,462.2 231.1,462.2 231.0,462.2 230.9,462.2 230.8,462.2 230.7,462.2 230.6,462.2 230.5,462.2 230.3,462.2 230.2,462.2 230.1,462.2 230.0,462.2 229.9,462.2 229.8,462.2 229.6,462.2 229.5,462.2 229.4,462.2 229.3,462.2 229.2,462.2 229.1,462.2 228.9,462.2 228.8,462.2 228.7,462.2 228.6,462.2 228.5,462.2 228.4,462.2 228.3,462.2 228.1,462.2 228.0,462.2 227.9,462.2 227.8,462.2 227.7,462.2 227.6,462.2 227.4,462.2 227.3,462.2 227.2,462.2 227.1,462.2 227.0,462.2 226.9,462.2 226.8,462.2 226.6,462.2 226.5,462.2 226.4,462.2 226.3,462.2 226.2,462.2 226.1,462.2 225.9,462.2 225.8,462.2 225.7,462.2 225.6,462.2 225.5,462.2 225.4,462.2 225.3,462.2 225.1,462.2 225.0,462.2 224.9,462.2 224.8,462.2 224.7,462.2 224.6,462.2 224.4,462.2 224.3,462.2 224.2,462.2 224.1,462.2 224.0,462.2 223.9,462.2 223.8,462.2 223.6,462.2 223.5,462.2 223.4,462.2 223.3,462.2 223.2,462.2 223.1,462.2 222.9,462.2 222.8,462.2 222.7,462.2 222.6,462.2 222.5,462.2 222.4,462.2 222.3,462.2 222.1,462.2 222.0,462.2 221.9,462.2 221.8,462.2 221.7,462.2 221.6,462.2 221.4,462.2 221.3,462.2 221.2,462.2 221.1,462.2 221.0,462.2 220.9,462.2 220.8,462.2 220.6,462.2 220.5,462.2 220.4,462.2 220.3,462.2 220.2,462.2 220.1,462.2 219.9,462.2 219.8,462.2 219.7,462.2 219.6,462.2 219.5,462.2 219.4,462.2 219.2,462.2 219.1,462.2 219.0,462.2 218.9,462.2 218.8,462.2 218.7,462.2 218.6,462.2 218.4,462.2 218.3,462.2 218.2,462.2 218.1,462.2 218.0,462.2 217.9,462.2 217.7,462.2 217.6,462.2 217.5,462.2 217.4,462.2 217.3,462.2 217.2,462.2 217.1,462.2 216.9,462.2 216.8,462.2 216.7,462.2 216.6,462.2 216.5,462.2 216.4,462.2 216.2,462.2 216.1,462.2 216.0,462.2 215.9,462.2 215.8,462.2 215.7,462.2 215.6,462.2 215.4,462.2 215.3,462.2 215.2,462.2 215.1,462.2 215.0,462.2 214.9,462.2 214.7,462.2 214.6,462.2 214.5,462.2 214.4,462.2 214.3,462.2 214.2,462.2 214.1,462.2 213.9,462.2 213.8,462.2 213.7,462.2 213.6,462.2 213.5,462.2 213.4,462.2 213.2,462.2 213.1,462.2 213.0,462.2 212.9,462.2 212.8,462.2 212.7,462.2 212.6,462.2 212.4,462.2 212.3,462.2 212.2,462.2 212.1,462.2 212.0,462.2 211.9,462.2 211.7,462.2 211.6,462.2 211.5,462.2 211.4,462.2 211.3,462.2 211.2,462.2 211.1,462.2 210.9,462.2 210.8,462.2 210.7,462.2 210.6,462.2 210.5,462.2 210.4,462.2 210.2,462.2 210.1,462.2 210.0,462.2 209.9,462.2 209.8,462.2 209.7,462.2 209.5,462.2 209.4,462.2 209.3,462.2 209.2,462.2 209.1,462.2 209.0,462.2 208.9,462.2 208.7,462.2 208.6,462.2 208.5,462.2 208.4,462.2 208.3,462.2 208.2,462.2 208.0,462.2 207.9,462.2 207.8,462.2 207.7,462.2 207.6,462.2 207.5,462.2 207.4,462.2 207.2,462.2 207.1,462.2 207.0,462.2 206.9,462.2 206.8,462.2 206.7,462.2 206.5,462.2 206.4,462.2 206.3,462.2 206.2,462.2 206.1,462.2 206.0,462.2 205.9,462.2 205.7,462.2 205.6,462.2 205.5,462.2 205.4,462.2 205.3,462.2 205.2,462.2 205.0,462.2 204.9,462.2 204.8,462.2 204.7,462.2 204.6,462.2 204.5,462.2 204.4,462.2 204.2,462.2 204.1,462.2 204.0,462.2 203.9,462.2 203.8,462.2 203.7,462.2 203.5,462.2 203.4,462.2 203.3,462.2 203.2,462.2 203.1,462.2 203.0,462.2 202.9,462.2 202.7,462.2 202.6,462.2 202.5,462.2 202.4,462.2 202.3,462.2 202.2,462.2 202.0,462.2 201.9,462.2 201.8,462.2 201.7,462.2 201.6,462.2 201.5,462.2 201.4,462.2 201.2,462.2 201.1,462.2 201.0,462.2 200.9,462.2 200.8,462.2 200.7,462.2 200.5,462.2 200.4,462.2 200.3,462.2 200.2,462.2 200.1,462.2 200.0,462.2 199.8,462.2 199.7,462.2 199.6,462.2 199.5,462.2 199.4,462.2 199.3,462.2 199.2,462.2 199.0,462.2 198.9,462.2 198.8,462.2 198.7,462.2 198.6,462.2 198.5,462.2 198.3,462.2 198.2,462.2 198.1,462.2 198.0,462.2 197.9,462.2 197.8,462.2 197.7,462.2 197.5,462.2 197.4,462.2 197.3,462.2 197.2,462.2 197.1,462.2 197.0,462.2 196.8,462.2 196.7,462.2 196.6,462.2 196.5,462.2 196.4,462.2 196.3,462.2 196.2,462.2 196.0,462.2 195.9,462.2 195.8,462.2 195.7,462.2 195.6,462.2 195.5,462.2 195.3,462.2 195.2,462.2 195.1,462.2 195.0,462.2 194.9,462.2 194.8,462.2 194.7,462.2 194.5,462.2 194.4,462.2 194.3,462.2 194.2,462.2 194.1,462.2 194.0,462.2 193.8,462.2 193.7,462.2 193.6,462.2 193.5,462.2 193.4,462.2 193.3,462.2 193.2,462.2 193.0,462.2 192.9,462.2 192.8,462.2 192.7,462.2 192.6,462.2 192.5,462.2 192.3,462.2 192.2,462.2 192.1,462.2 192.0,462.2 191.9,462.2 191.8,462.2 191.6,462.2 191.5,462.2 191.4,462.2 191.3,462.2 191.2,462.2 191.1,462.2 191.0,462.2 190.8,462.2 190.7,462.2 190.6,462.2 190.5,462.2 190.4,462.2 190.3,462.2 190.1,462.2 190.0,462.2 189.9,462.2 189.8,462.2 189.7,462.2 189.6,462.2 189.5,462.2 189.3,462.2 189.2,462.2 189.1,462.2 189.0,462.2 188.9,462.2 188.8,462.2 188.6,462.2 188.5,462.2 188.4,462.2 188.3,462.2 188.2,462.2 188.1,462.2 188.0,462.2 187.8,462.2 187.7,462.2 187.6,462.2 187.5,462.2 187.4,462.2 187.3,462.2 187.1,462.2 187.0,462.2 186.9,462.2 186.8,462.2 186.7,462.2 186.6,462.2 186.5,462.2 186.3,462.2 186.2,462.2 186.1,462.2 186.0,462.2 185.9,462.2 185.8,462.2 185.6,462.2 185.5,462.2 185.4,462.2 185.3,462.2 185.2,462.2 185.1,462.2 185.0,462.2 184.8,462.2 184.7,462.2 184.6,462.2 184.5,462.2 184.4,462.2 184.3,462.2 184.1,462.2 184.0,462.2 183.9,462.2 183.8,462.2 183.7,462.2 183.6,462.2 183.5,462.2 183.3,462.2 183.2,462.2 183.1,462.2 183.0,462.2 182.9,462.2 182.8,462.2 182.6,462.2 182.5,462.2 182.4,462.2 182.3,462.2 182.2,462.2 182.1,462.2 181.9,462.2 181.8,462.2 181.7,462.2 181.6,462.2 181.5,462.2 181.4,462.2 181.3,462.2 181.1,462.2 181.0,462.2 180.9,462.2 180.8,462.2 180.7,462.2 180.6,462.2 180.4,462.2 180.3,462.2 180.2,462.2 180.1,462.2 180.0,462.2 179.9,462.2 179.8,462.2 179.6,462.2 179.5,462.2 179.4,462.2 179.3,462.2 179.2,462.2 179.1,462.2 178.9,462.2 178.8,462.2 178.7,462.2 178.6,462.2 178.5,462.2 178.4,462.2 178.3,462.2 178.1,462.2 178.0,462.2 177.9,462.2 177.8,462.2 177.7,462.2 177.6,462.2 177.4,462.2 177.3,462.2 177.2,462.2 177.1,462.2 177.0,462.2 176.9,462.2 176.8,462.2 176.6,462.2 176.5,462.2 176.4,462.2 176.3,462.2 176.2,462.2 176.1,462.2 175.9,462.2 175.8,462.2 175.7,462.2 175.6,462.2 175.5,462.2 175.4,462.2 175.3,462.2 175.1,462.2 175.0,462.2 174.9,462.2 174.8,462.2 174.7,462.2 174.6,462.2 174.4,462.2 174.3,462.2 174.2,462.2 174.1,462.2 174.0,462.2 173.9,462.2 173.8,462.2 173.6,462.2 173.5,462.2 173.4,462.2 173.3,462.2 173.2,462.2 173.1,462.2 172.9,462.2 172.8,462.2 172.7,462.2 172.6,462.2 172.5,462.2 172.4,462.2 172.2,462.2 172.1,462.2 172.0,462.2 171.9,462.2 171.8,462.2 171.7,462.2 171.6,462.2 171.4,462.2 171.3,462.2 171.2,462.2 171.1,462.2 171.0,462.2 170.9,462.2 170.7,462.2 170.6,462.2 170.5,462.2 170.4,462.2 170.3,462.2 170.2,462.2 170.1,462.2 169.9,462.2 169.8,462.2 169.7,462.2 169.6,462.2 169.5,462.2 169.4,462.2 169.2,462.2 169.1,462.2 169.0,462.2 168.9,462.2 168.8,462.2 168.7,462.2 168.6,462.2 168.4,462.2 168.3,462.2 168.2,462.2 168.1,462.2 168.0,462.2 167.9,462.2 167.7,462.2 167.6,462.2 167.5,462.2 167.4,462.2 167.3,462.2 167.2,462.2 167.1,462.2 166.9,462.2 166.8,462.2 166.7,462.2 166.6,462.2 166.5,462.2 166.4,462.2 166.2,462.2 166.1,462.2 166.0,462.2 165.9,462.2 165.8,462.2 165.7,462.2 165.6,462.2 165.4,462.2 165.3,462.2 165.2,462.2 165.1,462.2 165.0,462.2 164.9,462.2 164.7,462.2 164.6,462.2 164.5,462.2 164.4,462.2 164.3,462.2 164.2,462.2 164.1,462.2 163.9,462.2 163.8,462.2 163.7,462.2 163.6,462.2 163.5,462.2 163.4,462.2 163.2,462.2 163.1,462.2 163.0,462.2 162.9,462.2 162.8,462.2 162.7,462.2 162.5,462.2 162.4,462.2 162.3,462.2 162.2,462.2 162.1,462.2 162.0,462.2 161.9,462.2 161.7,462.2 161.6,462.2 161.5,462.2 161.4,462.2 161.3,462.2 161.2,462.2 161.0,462.2 160.9,462.2 160.8,462.2 160.7,462.2 160.6,462.2 160.5,462.2 160.4,462.2 160.2,462.2 160.1,462.2 160.0,462.2 159.9,462.2 159.8,462.2 159.7,462.2 159.5,462.2 159.4,462.2 159.3,462.2 159.2,462.2 159.1,462.2 159.0,462.2 158.9,462.2 158.7,462.2 158.6,462.2 158.5,462.2 158.4,462.2 158.3,462.2 158.2,462.2 158.0,462.2 157.9,462.2 157.8,462.2 157.7,462.2 157.6,462.2 157.5,462.2 157.4,462.2 157.2,462.2 157.1,462.2 157.0,462.2 156.9,462.2 156.8,462.2 156.7,462.2 156.5,462.2 156.4,462.2 156.3,462.2 156.2,462.2 156.1,462.2 156.0,462.2 155.9,462.2 155.7,462.2 155.6,462.2 155.5,462.2 155.4,462.2 155.3,462.2 155.2,462.2 155.0,462.2 154.9,462.2 154.8,462.2 154.7,462.2 154.6,462.2 154.5,462.2 154.3,462.2 154.2,462.2 154.1,462.2 154.0,462.2 153.9,462.2 153.8,462.2 153.7,462.2 153.5,462.2 153.4,462.2 153.3,462.2 153.2,462.2 153.1,462.2 153.0,462.2 152.8,462.2 152.7,462.2 152.6,462.2 152.5,462.2 152.4,462.2 152.3,462.2 152.2,462.2 152.0,462.2 151.9,462.2 151.8,462.2 151.7,462.2 151.6,462.2 151.5,462.2 151.3,462.2 151.2,462.2 151.1,462.2 151.0,462.2 150.9,462.2 150.8,462.2 150.7,462.2 150.5,462.2 150.4,462.2 150.3,462.2 150.2,462.2 150.1,462.2 150.0,462.2 149.8,462.2 149.7,462.2 149.6,462.2 149.5,462.2 149.4,462.2 149.3,462.2 149.2,462.2 149.0,462.2 148.9,462.2 148.8,462.2 148.7,462.2 148.6,462.2 148.5,462.2 148.3,462.2 148.2,462.2 148.1,460.7 148.0,459.6 147.9,459.4 147.8,459.3 147.7,459.1 147.5,459.0 147.4,458.8 147.3,458.7 147.2,458.5 147.1,458.4 147.0,458.2 146.8,459.2 146.7,460.3 146.6,461.3 146.5,462.2 146.4,462.2 146.3,462.2 146.2,462.2 146.0,460.7 145.9,459.1 145.8,457.6 145.7,456.1 145.6,455.5 145.5,455.2 145.3,454.9 145.2,454.6 145.1,454.3 145.0,454.0 144.9,453.6 144.8,453.3 144.6,452.9 144.5,453.0 144.4,453.8 144.3,454.7 144.2,455.5 144.1,456.4 144.0,457.2 143.8,456.1 143.7,454.5 143.6,453.0 143.5,451.5 143.4,450.0 143.3,449.0 143.1,448.7 143.0,448.5 142.9,448.3 142.8,448.1 142.7,447.9 142.6,447.7 142.5,447.5 142.3,447.4 142.2,447.2 142.1,448.0 142.0,449.0 141.9,450.0 141.8,451.0 141.6,452.0 141.5,452.2 141.4,451.0 141.3,449.7 141.2,448.4 141.1,447.1 141.0,445.8 140.8,445.4 140.7,445.2 140.6,445.0 140.5,444.8 140.4,444.6 140.3,444.3 140.1,444.1 140.0,443.8 139.9,443.6 139.8,443.7 139.7,444.5 139.6,445.3 139.5,446.1 139.3,446.8 139.2,447.6 139.1,446.6 139.0,445.2 138.9,443.9 138.8,442.5 138.6,441.2 138.5,440.2 138.4,439.9 138.3,439.7 138.2,439.4 138.1,439.2 138.0,439.0 137.8,438.8 137.7,438.6 137.6,438.4 137.5,438.2 137.4,439.0 137.3,439.8 137.1,440.7 137.0,441.6 136.9,442.5 136.8,442.7 136.7,441.6 136.6,440.6 136.5,439.5 136.3,438.4 136.2,437.3 136.1,437.0 136.0,437.0 135.9,436.9 135.8,436.8 135.6,436.7 135.5,436.6 135.4,436.5 135.3,436.4 135.2,436.3 135.1,436.5 134.9,437.3 134.8,438.1 134.7,438.9 134.6,439.7 134.5,440.5 134.4,439.6 134.3,438.4 134.1,437.2 134.0,436.0 133.9,434.8 133.8,433.9 133.7,433.6 133.6,433.3 133.4,433.1 133.3,432.8 133.2,432.5 133.1,432.3 133.0,432.1 132.9,431.8 132.8,431.6 132.6,432.2 132.5,432.8 132.4,433.5 132.3,434.2 132.2,434.9 132.1,435.0 131.9,433.9 131.8,432.9 131.7,431.8 131.6,430.8 131.5,429.7 131.4,429.4 131.3,429.3 131.1,429.1 131.0,429.0 130.9,428.9 130.8,428.7 130.7,428.6 130.6,428.5 130.4,428.4 130.3,428.5 130.2,429.3 130.1,430.0 130.0,430.7 129.9,431.4 129.8,432.1 129.6,431.3 129.5,430.3 129.4,429.2 129.3,428.2 129.2,427.1 129.1,426.3 128.9,426.1 128.8,425.8 128.7,425.6 128.6,425.3 128.5,425.1 128.4,424.8 128.3,424.5 128.1,424.2 128.0,424.0 127.9,424.4 127.8,424.9 127.7,425.4 127.6,425.9 127.4,426.4 127.3,426.4 127.2,425.4 127.1,424.5 127.0,423.5 126.9,422.5 126.8,421.6 126.6,421.3 126.5,421.2 126.4,421.0 126.3,420.9 126.2,420.8 126.1,420.7 125.9,420.6 125.8,420.5 125.7,420.4 125.6,420.6 125.5,421.3 125.4,422.0 125.2,422.7 125.1,423.4 125.0,424.1 124.9,423.6 124.8,422.8 124.7,422.0 124.6,421.2 124.4,420.4 124.3,419.8 124.2,419.8 124.1,419.7 124.0,419.6 123.9,419.6 123.7,419.5 123.6,419.4 123.5,419.3 123.4,419.2 123.3,419.1 123.2,419.6 123.1,420.2 122.9,420.8 122.8,421.3 122.7,421.9 122.6,422.0 122.5,421.1 122.4,420.3 122.2,419.4 122.1,418.5 122.0,417.7 121.9,417.4 121.8,417.2 121.7,417.1 121.6,416.9 121.4,416.8 121.3,416.7 121.2,416.6 121.1,416.5 121.0,416.4 120.9,416.5 120.7,417.1 120.6,417.7 120.5,418.3 120.4,418.9 120.3,419.5 120.2,419.0 120.1,418.3 119.9,417.6 119.8,417.0 119.7,416.3 119.6,415.9 119.5,415.9 119.4,415.9 119.2,415.9 119.1,415.9 119.0,415.9 118.9,416.0 118.8,416.0 118.7,416.0 118.6,415.9 118.4,416.5 118.3,417.2 118.2,417.8 118.1,418.4 118.0,419.1 117.9,419.2 117.7,418.5 117.6,417.7 117.5,416.9 117.4,416.2 117.3,415.4 117.2,415.1 117.0,415.0 116.9,414.9 116.8,414.8 116.7,414.6 116.6,414.5 116.5,414.4 116.4,414.2 116.2,414.1 116.1,414.2 116.0,414.8 115.9,415.3 115.8,415.8 115.7,416.4 115.5,416.9 115.4,416.4 115.3,415.6 115.2,414.9 115.1,414.2 115.0,413.5 114.9,413.0 114.7,412.9 114.6,412.9 114.5,412.9 114.4,412.8 114.3,412.8 114.2,412.8 114.0,412.8 113.9,412.7 113.8,412.7 113.7,413.3 113.6,413.9 113.5,414.5 113.4,415.1 113.2,415.8 113.1,416.0 113.0,415.3 112.9,414.6 112.8,414.0 112.7,413.3 112.5,412.6 112.4,412.4 112.3,412.4 112.2,412.3 112.1,412.2 112.0,412.2 111.9,412.1 111.7,412.0 111.6,411.9 111.5,411.8 111.4,412.0 111.3,412.5 111.2,413.0 111.0,413.5 110.9,414.0 110.8,414.6 110.7,414.1 110.6,413.4 110.5,412.7 110.4,412.0 110.2,411.3 110.1,410.8 110.0,410.8 109.9,410.7 109.8,410.7 109.7,410.7 109.5,410.6 109.4,410.6 109.3,410.6 109.2,410.6 109.1,410.6 109.0,411.1 108.9,411.8 108.7,412.4 108.6,413.0 108.5,413.7 108.4,413.9 108.3,413.3 108.2,412.8 108.0,412.2 107.9,411.6 107.8,411.0 107.7,410.9 107.6,410.9 107.5,411.0 107.3,411.0 107.2,411.0 107.1,411.0 107.0,411.0 106.9,410.9 106.8,410.9 106.7,411.1 106.5,411.6 106.4,412.2 106.3,412.8 106.2,413.3 106.1,413.8 106.0,413.3 105.8,412.6 105.7,412.0 105.6,411.3 105.5,410.6 105.4,410.0 105.3,409.9 105.2,409.8 105.0,409.8 104.9,409.7 104.8,409.6 104.7,409.5 104.6,409.4 104.5,409.3 104.3,409.2 104.2,409.7 104.1,410.2 104.0,410.7 103.9,411.3 103.8,411.8 103.7,412.0 103.5,411.4 103.4,410.8 103.3,410.2 103.2,409.6 103.1,409.0 103.0,408.9 102.8,408.9 102.7,408.9 102.6,408.9 102.5,408.9 102.4,408.9 102.3,408.9 102.2,408.9 102.0,408.9 101.9,409.1 101.8,409.6 101.7,410.2 101.6,410.7 101.5,411.3 101.3,411.8 101.2,411.4 101.1,410.7 101.0,410.1 100.9,409.5 100.8,408.8 100.7,408.3 100.5,408.2 100.4,408.1 100.3,408.1 100.2,408.0 100.1,407.9 100.0,407.8 99.8,407.7 99.7,407.6 99.6,407.5 99.5,407.9 99.4,408.4 99.3,408.8 99.2,409.3 99.0,409.8 98.9,409.9 98.8,409.3 98.7,408.7 98.6,408.1 98.5,407.5 98.3,406.9 98.2,406.8 98.1,406.8 98.0,406.8 97.9,406.8 97.8,406.8 97.6,406.8 97.5,406.8 97.4,406.8 97.3,406.9 97.2,407.1 97.1,407.7 97.0,408.3 96.8,408.9 96.7,409.4 96.6,410.0 96.5,409.7 96.4,409.2 96.3,408.7 96.1,408.1 96.0,407.6 95.9,407.2 95.8,407.2 95.7,407.2 95.6,407.2 95.5,407.2 95.3,407.2 95.2,407.2 95.1,407.1 95.0,407.1 94.9,407.1 94.8,407.5 94.6,408.0 94.5,408.5 94.4,409.0 94.3,409.5 94.2,409.6 94.1,409.0 94.0,408.4 93.8,407.8 93.7,407.2 93.6,406.6 93.5,406.5 93.4,406.4 93.3,406.4 93.1,406.4 93.0,406.3 92.9,406.3 92.8,406.3 92.7,406.3 92.6,406.3 92.5,406.5 92.3,407.0 92.2,407.6 92.1,408.1 92.0,408.7 91.9,409.3 91.8,408.9 91.6,408.4 91.5,407.9 91.4,407.3 91.3,406.8 91.2,406.5 91.1,406.5 91.0,406.5 90.8,406.5 90.7,406.6 90.6,406.6 90.5,406.6 90.4,406.6 90.3,406.6 90.1,406.6 90.0,407.0 89.9,407.5 89.8,408.1 89.7,408.6 89.6,409.0 89.5,409.2 89.3,408.6 89.2,408.0 89.1,407.4 89.0,406.7 88.9,406.1 88.8,405.9 88.6,405.8 88.5,405.8 88.4,405.7 88.3,405.6 88.2,405.5 88.1,405.5 87.9,405.4 87.8,405.3 87.7,405.5 87.6,405.9 87.5,406.4 87.4,406.9 87.3,407.4 87.1,407.9 87.0,407.5 86.9,407.0 86.8,406.4 86.7,405.9 86.6,405.4 86.4,405.0 86.3,405.0 86.2,405.0 86.1,405.0 86.0,405.1 85.9,405.1 85.8,405.1 85.6,405.1 85.5,405.2 85.4,405.2 85.3,405.7 85.2,406.2 85.1,406.8 84.9,407.3 84.8,407.8 84.7,408.0 84.6,407.5 84.5,407.0 84.4,406.4 84.3,405.9 84.1,405.4 84.0,405.2 83.9,405.2 83.8,405.2 83.7,405.1 83.6,405.1 83.4,405.1 83.3,405.0 83.2,405.0 83.1,404.9 83.0,405.1 82.9,405.6 82.8,406.1 82.6,406.5 82.5,407.0 82.4,407.5 82.3,407.2 82.2,406.6 82.1,406.1 81.9,405.6 81.8,405.0 81.7,404.7 81.6,404.7 81.5,404.7 81.4,404.7 81.3,404.7 81.1,404.8 81.0,404.8 80.9,404.9 80.8,404.9 80.7,405.0 80.6,405.5 80.4,406.0 80.3,406.6 80.2,407.2 80.1,407.8 80.0,408.1 79.9,407.6 79.7,407.1 79.6,406.6 79.5,406.1 79.4,405.6 79.3,405.6 79.2,405.6 79.1,405.6 78.9,405.6 78.8,405.6 78.7,405.6 78.6,405.6 78.5,405.6 78.4,405.6 78.2,405.7 78.1,406.2 78.0,406.7 77.9,407.2 77.8,407.7 77.7,408.1 77.6,407.7 77.4,407.1 77.3,406.6 77.2,406.0 77.1,405.4 77.0,405.0 76.9,404.9 76.7,404.8 76.6,404.8 76.5,404.7 76.4,404.7 76.3,404.7 76.2,404.6 76.1,404.6 75.9,404.6 75.8,405.0 75.7,405.5 75.6,406.0 75.5,406.5 75.4,407.0 75.2,407.2 75.1,406.7 75.0,406.2 74.9,405.7 74.8,405.2 74.7,404.7 74.6,404.6 74.4,404.6 74.3,404.7 74.2,404.7 74.1,404.7 74.0,404.7 73.9,404.7 73.7,404.7 73.6,404.7 73.5,404.9 73.4,405.4 73.3,405.9 73.2,406.4 73.1,406.9 72.9,407.4 72.8,407.0 72.7,406.5 72.6,405.9 72.5,405.3 72.4,404.8 72.2,404.4 72.1,404.3 72.0,404.2 71.9,404.2 71.8,404.1 71.7,404.1 71.6,404.0 71.4,404.0 71.3,403.9 71.2,403.9 71.1,404.3 71.0,404.8 70.9,405.3 70.7,405.7 70.6,406.2 70.5,406.4 70.4,405.9 70.3,405.4 70.2,404.9 70.0,404.4 69.9,404.0 69.8,403.9 69.7,403.9 69.6,404.0 69.5,404.0 69.4,404.1 69.2,404.1 69.1,404.2 69.0,404.3 68.9,404.3 68.8,404.6 68.7,405.2 68.5,405.7 68.4,406.3 68.3,406.9 68.2,407.5 68.1,407.2 68.0,406.7 67.9,406.2 67.7,405.7 67.6,405.2 67.5,404.9 67.4,404.9 67.3,404.9 67.2,404.9 67.0,404.9 66.9,404.9 66.8,404.9 66.7,404.9 66.6,404.8 66.5,404.8 66.4,405.2 66.2,405.7 66.1,406.2 66.0,406.7 65.9,407.2 65.8,407.4 65.7,406.8 65.5,406.3 65.4,405.7 65.3,405.2 65.2,404.7 65.1,404.6 65.0,404.6 64.9,404.6 64.7,404.6 64.6,404.6 64.5,404.6 64.4,404.6 64.3,404.6 64.2,404.7 64.0,404.9 63.9,405.4 63.8,406.0 63.7,406.6 63.6,407.1 63.5,407.7 63.4,407.4 63.2,406.9 63.1,406.4 63.0,405.9 62.9,405.4 62.8,405.1 62.7,405.1 62.5,405.1 62.4,405.1 62.3,405.1 62.2,405.1 62.1,405.1 62.0,405.1 61.9,405.1 61.7,405.0 61.6,405.4 61.5,405.9 61.4,406.4 61.3,406.9 61.2,407.3 61.0,407.4 60.9,406.8 60.8,406.3 60.7,405.7 60.6,405.1 60.5,404.5 60.3,404.3 60.2,404.2 60.1,404.2 60.0,404.1 59.9,404.1 59.8,404.0 59.7,404.0 59.5,403.9 59.4,403.9 59.3,404.1 59.2,404.5 59.1,405.0 59.0,405.5 58.8,406.1 58.7,406.6 58.6,406.2 58.5,405.8 58.4,405.3 58.3,404.8 58.2,404.3 58.0,404.0 57.9,404.0 57.8,404.1 57.7,404.1 57.6,404.2 57.5,404.2 57.3,404.2 57.2,404.3 57.1,404.3 57.0,404.3 56.9,404.8 56.8,405.4 56.7,405.9 56.5,406.4 56.4,407.0 56.3,407.1 56.2,406.6 56.1,406.1 56.0,405.6 55.8,405.1 55.7,404.5 55.6,404.4 55.5,404.4 55.4,404.4 55.3,404.3 55.2,404.3 55.0,404.3 54.9,404.3 54.8,404.2 54.7,404.2 54.6,404.4 54.5,404.9 54.3,405.4 54.2,405.9 54.1,406.4 54.0,406.9 53.9,406.6 53.8,406.1 53.7,405.6 53.5,405.1 53.4,404.6 53.3,404.3 53.2,404.3 53.1,404.3 53.0,404.4 52.8,404.4 52.7,404.5 52.6,404.6 52.5,404.6 52.4,404.7 52.3,404.7 52.2,405.2 52.0,405.8 51.9,406.4 51.8,407.0 51.7,407.6 51.6,407.8 51.5,407.3 51.3,406.8 51.2,406.3 51.1,405.8 51.0,405.3 50.9,405.2 50.8,405.2 50.6,405.2 50.5,405.2 50.4,405.2 50.3,405.2 50.2,405.1 50.1,405.1 50.0,405.1 49.8,405.2 49.7,405.7 49.6,406.1 49.5,406.6 49.4,407.1 49.3,407.5 49.1,407.1 49.0,406.6 48.9,406.0 48.8,405.4 48.7,404.8 48.6,404.4 48.5,404.4 48.3,404.3 48.2,404.3 48.1,404.3 48.0,404.3 47.9,404.2 47.8,404.2 47.6,404.2 47.5,404.2 47.4,404.7 47.3,405.2 47.2,405.7 47.1,406.2 47.0,406.8 46.8,407.0 46.7,406.5 46.6,406.0 46.5,405.5 46.4,405.0 46.3,404.5 46.1,404.4 46.0,404.4 45.9,404.5 45.8,404.5 45.7,404.5 45.6,404.5 45.5,404.5 45.3,404.5 45.2,404.5 45.1,404.6 45.0,405.1 44.9,405.6 44.8,406.1 44.6,406.6 44.5,407.0 44.4,406.7 44.3,406.1 44.2,405.5 44.1,405.0 44.0,404.4 43.8,404.0 43.7,404.0 43.6,403.9 43.5,403.9 43.4,403.8 43.3,403.8 43.1,403.8 43.0,403.8 42.9,403.7 42.8,403.7 42.7,404.1 42.6,404.7 42.4,405.2 42.3,405.7 42.2,406.2 42.1,406.4 42.0,405.9 41.9,405.5 41.8,405.0 41.6,404.6 41.5,404.1 41.4,404.1 41.3,404.1 41.2,404.2 41.1,404.3 40.9,404.3 40.8,404.4 40.7,404.4 40.6,404.5 40.5,404.6 40.4,404.8 40.3,405.4 40.1,406.0 40.0,406.5 39.9,407.1 39.8,407.7 39.7,407.3 39.6,406.8 39.4,406.3 39.3,405.8 39.2,405.3 39.1,404.9 39.0,404.9 38.9,404.9 38.8,404.9 38.6,404.9 38.5,404.8 38.4,404.8 38.3,404.8 38.2,404.7 38.1,404.7 37.9,405.1 37.8,405.6 37.7,406.1 37.6,406.6 37.5,407.1 37.4,407.2 37.3,406.7 37.1,406.2 37.0,405.6 36.9,405.1 36.8,404.6 36.7,404.5 36.6,404.5 36.4,404.5 36.3,404.5 36.2,404.5 36.1,404.5 36.0,404.6 35.9,404.6 35.8,404.6 35.6,404.8 35.5,405.4 35.4,405.9 35.3,406.5 35.2,407.0 35.1,407.6 34.9,407.3 34.8,406.8 34.7,406.3 34.6,405.8 34.5,405.2 34.4,404.9 34.3,404.9 34.1,404.9 34.0,404.8 33.9,404.8 33.8,404.8 33.7,404.7 33.6,404.7" fill="#add7f2"/>
<polyline points="33.5,346.8 33.6,338.6 33.7,333.2 33.8,331.2 34.0,332.7 34.1,337.6 34.2,345.4 34.3,355.5 34.4,366.9 34.5,378.4 34.7,389.1 34.8,398.0 34.9,404.1 35.0,407.1 35.1,406.4 35.2,402.3 35.3,395.2 35.5,385.6 35.6,374.4 35.7,362.8 35.8,351.8 35.9,342.4 36.0,335.5 36.2,331.7 36.3,331.5 36.4,334.7 36.5,341.2 36.6,350.3 36.7,361.1 36.8,372.7 37.0,384.0 37.1,393.9 37.2,401.5 37.3,406.0 37.4,407.2 37.5,404.8 37.7,399.1 37.8,390.6 37.9,380.1 38.0,368.6 38.1,357.2 38.2,346.8 38.4,338.6 38.5,333.2 38.6,331.2 38.7,332.7 38.8,337.6 38.9,345.4 39.0,355.5 39.2,366.9 39.3,378.4 39.4,389.2 39.5,398.0 39.6,404.2 39.7,407.1 39.9,406.5 40.0,402.4 40.1,395.2 40.2,385.6 40.3,374.4 40.4,362.8 40.5,351.8 40.7,342.4 40.8,335.5 40.9,331.7 41.0,331.5 41.1,334.7 41.2,341.2 41.4,350.2 41.5,361.1 41.6,372.7 41.7,384.0 41.8,393.9 41.9,401.5 42.0,406.1 42.2,407.2 42.3,404.8 42.4,399.1 42.5,390.6 42.6,380.1 42.7,368.6 42.9,357.2 43.0,346.8 43.1,338.6 43.2,333.2 43.3,331.1 43.4,332.6 43.5,337.6 43.7,345.4 43.8,355.5 43.9,366.9 44.0,378.4 44.1,389.2 44.2,398.0 44.4,404.2 44.5,407.1 44.6,406.5 44.7,402.4 44.8,395.2 44.9,385.6 45.0,374.4 45.2,362.8 45.3,351.8 45.4,342.4 45.5,335.5 45.6,331.7 45.7,331.4 45.9,334.7 46.0,341.2 46.1,350.2 46.2,361.1 46.3,372.7 46.4,384.0 46.5,393.9 46.7,401.5 46.8,406.1 46.9,407.2 47.0,404.9 47.1,399.1 47.2,390.6 47.4,380.1 47.5,368.6 47.6,357.1 47.7,346.8 47.8,338.5 47.9,333.1 48.1,331.1 48.2,332.6 48.3,337.5 48.4,345.4 48.5,355.5 48.6,366.9 48.7,378.4 48.9,389.2 49.0,398.0 49.1,404.2 49.2,407.1 49.3,406.5 49.4,402.4 49.6,395.2 49.7,385.6 49.8,374.4 49.9,362.8 50.0,351.8 50.1,342.4 50.2,335.4 50.4,331.7 50.5,331.4 50.6,334.7 50.7,341.1 50.8,350.2 50.9,361.1 51.1,372.7 51.2,384.0 51.3,393.9 51.4,401.5 51.5,406.1 51.6,407.3 51.7,404.9 51.9,399.2 52.0,390.7 52.1,380.1 52.2,368.6 52.3,357.1 52.4,346.8 52.6,338.5 52.7,333.1 52.8,331.1 52.9,332.6 53.0,337.5 53.1,345.4 53.2,355.5 53.4,366.9 53.5,378.5 53.6,389.2 53.7,398.0 53.8,404.2 53.9,407.1 54.1,406.5 54.2,402.4 54.3,395.2 54.4,385.6 54.5,374.4 54.6,362.8 54.7,351.8 54.9,342.3 55.0,335.4 55.1,331.7 55.2,331.4 55.3,334.6 55.4,341.1 55.6,350.2 55.7,361.1 55.8,372.7 55.9,384.0 56.0,393.9 56.1,401.5 56.2,406.1 56.4,407.3 56.5,404.9 56.6,399.2 56.7,390.7 56.8,380.1 56.9,368.6 57.1,357.1 57.2,346.8 57.3,338.5 57.4,333.1 57.5,331.1 57.6,332.6 57.8,337.5 57.9,345.4 58.0,355.5 58.1,366.9 58.2,378.5 58.3,389.2 58.4,398.1 58.6,404.2 58.7,407.2 58.8,406.5 58.9,402.4 59.0,395.2 59.1,385.6 59.3,374.4 59.4,362.8 59.5,351.7 59.6,342.3 59.7,335.4 59.8,331.6 59.9,331.4 60.1,334.6 60.2,341.1 60.3,350.2 60.4,361.1 60.5,372.7 60.6,384.0 60.8,393.9 60.9,401.5 61.0,406.1 61.1,407.3 61.2,404.9 61.3,399.2 61.4,390.7 61.6,380.2 61.7,368.6 61.8,357.1 61.9,346.8 62.0,338.5 62.1,333.1 62.3,331.0 62.4,332.6 62.5,337.5 62.6,345.4 62.7,355.5 62.8,366.9 62.9,378.5 63.1,389.2 63.2,398.1 63.3,404.3 63.4,407.2 63.5,406.6 63.6,402.5 63.8,395.2 63.9,385.6 64.0,374.4 64.1,362.8 64.2,351.7 64.3,342.3 64.4,335.4 64.6,331.6 64.7,331.3 64.8,334.6 64.9,341.1 65.0,350.2 65.1,361.1 65.3,372.7 65.4,384.0 65.5,393.9 65.6,401.6 65.7,406.2 65.8,407.3 65.9,404.9 66.1,399.2 66.2,390.7 66.3,380.2 66.4,368.6 66.5,357.1 66.6,346.8 66.8,338.5 66.9,333.1 67.0,331.0 67.1,332.5 67.2,337.5 67.3,345.4 67.5,355.5 67.6,366.9 67.7,378.5 67.8,389.2 67.9,398.1 68.0,404.3 68.1,407.2 68.3,406.6 68.4,402.5 68.5,395.3 68.6,385.6 68.7,374.5 68.8,362.8 69.0,351.7 69.1,342.3 69.2,335.4 69.3,331.6 69.4,331.3 69.5,334.6 69.6,341.1 69.8,350.2 69.9,361.1 70.0,372.7 70.1,384.0 70.2,394.0 70.3,401.6 70.5,406.2 70.6,407.3 70.7,405.0 70.8,399.2 70.9,390.7 71.0,380.2 71.1,368.6 71.3,357.1 71.4,346.7 71.5,338.5 71.6,333.0 71.7,331.0 71.8,332.5 72.0,337.5 72.1,345.3 72.2,355.5 72.3,366.9 72.4,378.5 72.5,389.2 72.6,398.1 72.8,404.3 72.9,407.2 73.0,406.6 73.1,402.5 73.2,395.3 73.3,385.6 73.5,374.5 73.6,362.8 73.7,351.7 73.8,342.3 73.9,335.3 74.0,331.6 74.1,331.3 74.3,334.6 74.4,341.1 74.5,350.2 74.6,361.1 74.7,372.7 74.8,384.0 75.0,394.0 75.1,401.6 75.2,406.2 75.3,407.4 75.4,405.0 75.5,399.3 75.7,390.7 75.8,380.2 75.9,368.6 76.0,357.1 76.1,346.7 76.2,338.4 76.3,332.9 76.5,330.9 76.6,332.4 76.7,337.3 76.8,345.2 76.9,355.4 77.0,366.8 77.2,378.5 77.3,389.3 77.4,398.3 77.5,404.5 77.6,407.5 77.7,406.9 77.8,402.7 78.0,395.5 78.1,385.8 78.2,374.5 78.3,362.7 78.4,351.6 78.5,342.0 78.7,335.0 78.8,331.2 78.9,330.9 79.0,334.2 79.1,340.8 79.2,350.0 79.3,361.0 79.5,372.7 79.6,384.2 79.7,394.2 79.8,402.0 79.9,406.6 80.0,407.8 80.2,405.4 80.3,399.6 80.4,391.0 80.5,380.3 80.6,368.6 80.7,356.9 80.8,346.4 81.0,338.0 81.1,332.5 81.2,330.4 81.3,331.9 81.4,337.0 81.5,345.0 81.7,355.2 81.8,366.8 81.9,378.6 82.0,389.6 82.1,398.6 82.2,404.9 82.3,407.9 82.5,407.3 82.6,403.1 82.7,395.8 82.8,385.9 82.9,374.6 83.0,362.7 83.2,351.4 83.3,341.7 83.4,334.7 83.5,330.8 83.6,330.5 83.7,333.8 83.8,340.5 84.0,349.8 84.1,360.9 84.2,372.8 84.3,384.4 84.4,394.5 84.5,402.3 84.7,407.1 84.8,408.3 84.9,405.8 85.0,400.0 85.1,391.2 85.2,380.4 85.4,368.6 85.5,356.8 85.6,346.2 85.7,337.7 85.8,332.1 85.9,330.0 86.0,331.5 86.2,336.6 86.3,344.7 86.4,355.1 86.5,366.8 86.6,378.7 86.7,389.8 86.9,398.9 87.0,405.3 87.1,408.3 87.2,407.7 87.3,403.5 87.4,396.1 87.5,386.1 87.7,374.6 87.8,362.6 87.9,351.2 88.0,341.4 88.1,334.3 88.2,330.4 88.4,330.1 88.5,333.4 88.6,340.1 88.7,349.5 88.8,360.8 88.9,372.8 89.0,384.5 89.2,394.8 89.3,402.7 89.4,407.5 89.5,408.7 89.6,406.2 89.7,400.3 89.9,391.5 90.0,380.6 90.1,368.6 90.2,356.7 90.3,345.9 90.4,337.3 90.5,331.7 90.7,329.6 90.8,331.1 90.9,336.2 91.0,344.4 91.1,354.9 91.2,366.8 91.4,378.8 91.5,390.0 91.6,399.3 91.7,405.8 91.8,408.9 91.9,408.2 92.0,404.0 92.2,396.5 92.3,386.4 92.4,374.7 92.5,362.5 92.6,350.9 92.7,341.0 92.9,333.7 93.0,329.7 93.1,329.3 93.2,332.8 93.3,339.6 93.4,349.1 93.5,360.6 93.7,372.9 93.8,384.9 93.9,395.4 94.0,403.5 94.1,408.4 94.2,409.6 94.4,407.1 94.5,401.1 94.6,392.0 94.7,380.9 94.8,368.6 94.9,356.3 95.1,345.3 95.2,336.4 95.3,330.6 95.4,328.4 95.5,330.0 95.6,335.3 95.7,343.7 95.9,354.5 96.0,366.7 96.1,379.1 96.2,390.7 96.3,400.3 96.4,406.9 96.6,410.1 96.7,409.5 96.8,405.1 96.9,397.3 97.0,386.9 97.1,374.9 97.2,362.3 97.4,350.3 97.5,340.1 97.6,332.6 97.7,328.4 97.8,328.1 97.9,331.6 98.1,338.7 98.2,348.5 98.3,360.4 98.4,373.0 98.5,385.3 98.6,396.2 98.7,404.5 98.9,409.6 99.0,410.9 99.1,408.3 99.2,402.0 99.3,392.7 99.4,381.2 99.6,368.6 99.7,355.9 99.8,344.5 99.9,335.4 100.0,329.5 100.1,327.2 100.2,328.8 100.4,334.2 100.5,342.9 100.6,354.0 100.7,366.6 100.8,379.4 100.9,391.3 101.1,401.2 101.2,408.1 101.3,411.3 101.4,410.7 101.5,406.1 101.6,398.1 101.7,387.5 101.9,375.0 102.0,362.1 102.1,349.7 102.2,339.2 102.3,331.5 102.4,327.2 102.6,326.9 102.7,330.5 102.8,337.7 102.9,347.9 103.0,360.1 103.1,373.1 103.2,385.8 103.4,397.0 103.5,405.6 103.6,410.8 103.7,412.1 103.8,409.4 103.9,403.0 104.1,393.4 104.2,381.6 104.3,368.5 104.4,355.5 104.5,343.8 104.6,334.4 104.8,328.2 104.9,325.8 105.0,327.5 105.1,333.0 105.2,342.0 105.3,353.5 105.4,366.5 105.6,379.8 105.7,392.1 105.8,402.4 105.9,409.5 106.0,412.9 106.1,412.2 106.3,407.6 106.4,399.3 106.5,388.2 106.6,375.3 106.7,361.8 106.8,348.9 106.9,338.0 107.1,329.9 107.2,325.4 107.3,325.1 107.4,328.8 107.5,336.4 107.6,347.0 107.8,359.7 107.9,373.3 108.0,386.6 108.1,398.3 108.2,407.3 108.3,412.7 108.4,414.2 108.6,411.4 108.7,404.7 108.8,394.6 108.9,382.2 109.0,368.5 109.1,354.9 109.3,342.5 109.4,332.7 109.5,326.2 109.6,323.7 109.7,325.4 109.8,331.3 109.9,340.7 110.1,352.8 110.2,366.4 110.3,380.3 110.4,393.3 110.5,404.0 110.6,411.5 110.8,415.0 110.9,414.3 111.0,409.4 111.1,400.7 111.2,389.1 111.3,375.6 111.4,361.4 111.6,348.0 111.7,336.5 111.8,328.0 111.9,323.4 112.0,323.0 112.1,326.9 112.3,334.8 112.4,345.9 112.5,359.2 112.6,373.5 112.7,387.4 112.8,399.6 113.0,409.1 113.1,414.8 113.2,416.3 113.3,413.4 113.4,406.3 113.5,395.8 113.6,382.8 113.8,368.5 113.9,354.2 114.0,341.3 114.1,331.0 114.2,324.2 114.3,321.6 114.5,323.4 114.6,329.5 114.7,339.4 114.8,352.0 114.9,366.3 115.0,380.8 115.1,394.4 115.3,405.6 115.4,413.4 115.5,417.1 115.6,416.4 115.7,411.2 115.8,402.2 116.0,390.0 116.1,375.9 116.2,361.1 116.3,347.0 116.4,335.0 116.5,326.1 116.6,321.3 116.8,320.9 116.9,325.0 117.0,333.2 117.1,344.9 117.2,358.8 117.3,373.7 117.5,388.2 117.6,401.0 117.7,410.8 117.8,416.8 117.9,418.4 118.0,415.3 118.1,408.0 118.3,397.0 118.4,383.4 118.5,368.4 118.6,353.5 118.7,340.0 118.8,329.3 119.0,322.2 119.1,319.5 119.2,321.4 119.3,327.8 119.4,338.0 119.5,351.2 119.6,366.1 119.8,381.4 119.9,395.5 120.0,407.2 120.1,415.3 120.2,419.3 120.3,418.6 120.5,413.3 120.6,403.8 120.7,391.1 120.8,376.2 120.9,360.6 121.0,345.8 121.1,333.0 121.3,323.6 121.4,318.4 121.5,317.9 121.6,322.2 121.7,330.9 121.8,343.2 122.0,358.1 122.1,374.0 122.2,389.6 122.3,403.3 122.4,413.9 122.5,420.4 122.7,422.2 122.8,419.0 122.9,411.1 123.0,399.3 123.1,384.6 123.2,368.4 123.3,352.2 123.5,337.5 123.6,325.7 123.7,317.9 123.8,314.9 123.9,316.9 124.0,323.8 124.2,335.0 124.3,349.5 124.4,365.8 124.5,382.6 124.6,398.1 124.7,411.1 124.8,420.2 125.0,424.5 125.1,423.8 125.2,417.9 125.3,407.4 125.4,393.3 125.5,376.9 125.7,359.7 125.8,343.4 125.9,329.3 126.0,318.9 126.1,313.2 126.2,312.7 126.3,317.4 126.5,327.0 126.6,340.6 126.7,356.9 126.8,374.5 126.9,391.6 127.0,406.7 127.2,418.4 127.3,425.5 127.4,427.4 127.5,423.9 127.6,415.3 127.7,402.3 127.8,386.2 128.0,368.3 128.1,350.4 128.2,334.1 128.3,321.1 128.4,312.4 128.5,309.0 128.7,311.2 128.8,318.9 128.9,331.3 129.0,347.3 129.1,365.5 129.2,384.1 129.3,401.5 129.5,415.9 129.6,426.1 129.7,431.0 129.8,430.2 129.9,423.6 130.0,412.0 130.2,396.2 130.3,377.9 130.4,358.6 130.5,340.2 130.6,324.4 130.7,312.7 130.8,306.2 131.0,305.6 131.1,310.9 131.2,321.7 131.3,337.0 131.4,355.4 131.5,375.2 131.7,394.5 131.8,411.7 131.9,424.9 132.0,433.0 132.1,435.2 132.2,431.2 132.4,421.4 132.5,406.7 132.6,388.4 132.7,368.2 132.8,347.9 132.9,329.6 133.0,314.8 133.2,305.1 133.3,301.2 133.4,303.7 133.5,312.3 133.6,326.3 133.7,344.4 133.9,365.0 134.0,386.0 134.1,405.7 134.2,422.0 134.3,433.5 134.4,439.1 134.5,438.1 134.7,430.7 134.8,417.6 134.9,399.8 135.0,379.0 135.1,357.2 135.2,336.4 135.4,318.5 135.5,305.3 135.6,297.9 135.7,297.2 135.8,303.2 135.9,315.4 136.0,332.7 136.2,353.5 136.3,376.0 136.4,397.9 136.5,417.3 136.6,432.3 136.7,441.5 136.9,443.9 137.0,439.5 137.1,428.4 137.2,411.7 137.3,390.9 137.4,368.0 137.5,345.1 137.7,324.3 137.8,307.6 137.9,296.5 138.0,292.2 138.1,295.0 138.2,304.8 138.4,320.7 138.5,341.2 138.6,364.4 138.7,388.2 138.8,410.4 138.9,428.8 139.0,441.8 139.2,448.1 139.3,447.0 139.4,438.6 139.5,423.7 139.6,403.6 139.7,380.2 139.9,355.7 140.0,332.3 140.1,312.2 140.2,297.3 140.3,289.1 140.4,288.3 140.5,295.1 140.7,308.8 140.8,328.3 140.9,351.7 141.0,376.8 141.1,401.3 141.2,423.0 141.4,439.8 141.5,450.0 141.6,452.8 141.7,447.7 141.8,435.3 141.9,416.6 142.1,393.5 142.2,367.9 142.3,342.3 142.4,319.1 142.5,300.5 142.6,288.2 142.7,283.4 142.9,286.6 143.0,297.6 143.1,315.2 143.2,338.0 143.3,363.9 143.4,390.3 143.6,415.0 143.7,435.4 143.8,449.8 143.9,456.8 144.0,455.6 144.1,446.3 144.2,429.7 144.4,407.5 144.5,381.5 144.6,354.2 144.7,328.2 144.8,305.9 144.9,289.3 145.1,280.2 145.2,279.3 145.3,286.9 145.4,302.1 145.5,323.7 145.6,349.7 145.7,377.6 145.9,404.9 146.0,429.0 146.1,447.6 146.2,459.0 146.3,462.1 146.4,456.5 146.6,442.8 146.7,422.1 146.8,396.3 146.9,367.8 147.0,339.2 147.1,313.2 147.2,292.3 147.4,278.5 147.5,276.2 147.6,276.5 147.7,288.7 147.8,308.6 147.9,334.2 148.1,363.2 148.2,393.0 148.3,420.8 148.4,443.9 148.5,460.2 148.6,462.2 148.7,462.2 148.9,456.3 149.0,437.7 149.1,412.5 149.2,383.1 149.3,352.2 149.4,322.7 149.6,297.4 149.7,278.6 149.8,276.2 149.9,276.2 150.0,276.2 150.1,293.0 150.3,317.5 150.4,347.0 150.5,378.8 150.6,409.9 150.7,437.3 150.8,458.6 150.9,462.2 151.1,462.2 151.2,462.2 151.3,453.1 151.4,429.4 151.5,400.0 151.6,367.6 151.8,335.0 151.9,305.6 152.0,281.8 152.1,276.2 152.2,276.2 152.3,276.2 152.4,277.9 152.6,300.4 152.7,329.5 152.8,362.4 152.9,396.2 153.0,427.6 153.1,453.8 153.3,462.2 153.4,462.2 153.5,462.2 153.6,462.2 153.7,446.6 153.8,418.1 153.9,384.9 154.1,350.0 154.2,316.8 154.3,288.2 154.4,276.2 154.5,276.2 154.6,276.2 154.8,276.2 154.9,283.4 155.0,311.1 155.1,344.3 155.2,380.0 155.3,414.7 155.4,445.4 155.6,462.2 155.7,462.2 155.8,462.2 155.9,462.2 156.0,462.2 156.1,436.1 156.3,403.4 156.4,367.4 156.5,331.4 156.6,298.8 156.7,276.2 156.8,276.2 156.9,276.2 157.1,276.2 157.2,276.2 157.3,293.6 157.4,325.6 157.5,361.8 157.6,398.7 157.8,433.1 157.9,461.6 158.0,462.2 158.1,462.2 158.2,462.2 158.3,462.2 158.4,453.3 158.6,422.3 158.7,386.2 158.8,348.4 158.9,312.5 159.0,281.7 159.1,276.2 159.3,276.2 159.4,276.2 159.5,276.2 159.6,276.9 159.7,306.7 159.8,342.4 160.0,380.8 160.1,418.2 160.2,451.1 160.3,462.2 160.4,462.2 160.5,462.2 160.6,462.2 160.8,462.2 160.9,441.1 161.0,405.9 161.1,367.2 161.2,328.6 161.3,293.6 161.5,276.2 161.6,276.2 161.7,276.2 161.8,276.2 161.9,276.2 162.0,288.1 162.1,322.4 162.3,361.2 162.4,400.9 162.5,437.8 162.6,462.2 162.7,462.2 162.8,462.2 163.0,462.2 163.1,462.2 163.2,459.3 163.3,426.1 163.4,387.4 163.5,346.9 163.6,308.4 163.8,276.2 163.9,276.2 164.0,276.2 164.1,276.2 164.2,276.2 164.3,276.2 164.5,302.3 164.6,340.5 164.7,381.6 164.8,421.6 164.9,456.9 165.0,462.2 165.1,462.2 165.3,462.2 165.4,462.2 165.5,462.2 165.6,446.1 165.7,408.5 165.8,367.1 166.0,325.8 166.1,288.4 166.2,276.2 166.3,276.2 166.4,276.2 166.5,276.2 166.6,276.2 166.8,282.5 166.9,319.2 167.0,360.7 167.1,403.1 167.2,442.4 167.3,462.2 167.5,462.2 167.6,462.2 167.7,462.2 167.8,462.2 167.9,462.2 168.0,429.9 168.1,388.6 168.3,345.4 168.4,304.3 168.5,276.2 168.6,276.2 168.7,276.2 168.8,276.2 169.0,276.2 169.1,276.2 169.2,297.8 169.3,338.6 169.4,382.4 169.5,425.1 169.7,462.2 169.8,462.2 169.9,462.2 170.0,462.2 170.1,462.2 170.2,462.2 170.3,451.1 170.5,411.0 170.6,367.0 170.7,323.0 170.8,283.1 170.9,276.2 171.0,276.2 171.2,276.2 171.3,276.2 171.4,276.2 171.5,277.0 171.6,316.0 171.7,360.1 171.8,405.2 172.0,447.1 172.1,462.2 172.2,462.2 172.3,462.2 172.4,462.2 172.5,462.2 172.7,462.2 172.8,433.2 172.9,389.7 173.0,344.2 173.1,301.1 173.2,276.2 173.3,276.2 173.5,276.2 173.6,276.2 173.7,276.2 173.8,276.2 173.9,295.1 174.0,337.5 174.2,382.9 174.3,426.9 174.4,462.2 174.5,462.2 174.6,462.2 174.7,462.2 174.8,462.2 175.0,462.2 175.1,452.9 175.2,411.9 175.3,366.9 175.4,322.1 175.5,281.7 175.7,276.2 175.8,276.2 175.9,276.2 176.0,276.2 176.1,276.2 176.2,276.3 176.3,315.7 176.5,360.1 176.6,405.3 176.7,447.2 176.8,462.2 176.9,462.2 177.0,462.2 177.2,462.2 177.3,462.2 177.4,462.2 177.5,433.2 177.6,389.7 177.7,344.2 177.8,301.1 178.0,276.2 178.1,276.2 178.2,276.2 178.3,276.2 178.4,276.2 178.5,276.2 178.7,295.1 178.8,337.5 178.9,382.9 179.0,426.9 179.1,462.2 179.2,462.2 179.4,462.2 179.5,462.2 179.6,462.2 179.7,462.2 179.8,452.9 179.9,411.9 180.0,366.9 180.2,322.1 180.3,281.7 180.4,276.2 180.5,276.2 180.6,276.2 180.7,276.2 180.9,276.2 181.0,276.3 181.1,315.7 181.2,360.1 181.3,405.3 181.4,447.2 181.5,462.2 181.7,462.2 181.8,462.2 181.9,462.2 182.0,462.2 182.1,462.2 182.2,433.2 182.4,389.7 182.5,344.2 182.6,301.1 182.7,276.2 182.8,276.2 182.9,276.2 183.0,276.2 183.2,276.2 183.3,276.2 183.4,295.1 183.5,337.5 183.6,382.9 183.7,426.9 183.9,462.2 184.0,462.2 184.1,462.2 184.2,462.2 184.3,462.2 184.4,462.2 184.5,452.9 184.7,411.9 184.8,366.9 184.9,322.1 185.0,281.7 185.1,276.2 185.2,276.2 185.4,276.2 185.5,276.2 185.6,276.2 185.7,276.3 185.8,315.7 185.9,360.1 186.0,405.3 186.2,447.2 186.3,462.2 186.4,462.2 186.5,462.2 186.6,462.2 186.7,462.2 186.9,462.2 187.0,433.2 187.1,389.7 187.2,344.2 187.3,301.1 187.4,276.2 187.6,276.2 187.7,276.2 187.8,276.2 187.9,276.2 188.0,276.2 188.1,295.1 188.2,337.5 188.4,382.9 188.5,426.9 188.6,462.2 188.7,462.2 188.8,462.2 188.9,462.2 189.1,462.2 189.2,462.2 189.3,452.9 189.4,411.9 189.5,366.9 189.6,322.1 189.7,281.7 189.9,276.2 190.0,276.2 190.1,276.2 190.2,276.2 190.3,276.2 190.4,276.3 190.6,315.7 190.7,360.1 190.8,405.3 190.9,447.2 191.0,462.2 191.1,462.2 191.2,462.2 191.4,462.2 191.5,462.2 191.6,462.2 191.7,433.2 191.8,389.7 191.9,344.2 192.1,301.1 192.2,276.2 192.3,276.2 192.4,276.2 192.5,276.2 192.6,276.2 192.7,276.2 192.9,295.1 193.0,337.5 193.1,382.9 193.2,426.9 193.3,462.2 193.4,462.2 193.6,462.2 193.7,462.2 193.8,462.2 193.9,462.2 194.0,452.9 194.1,411.9 194.2,366.9 194.4,322.1 194.5,281.7 194.6,276.2 194.7,276.2 194.8,276.2 194.9,276.2 195.1,276.2 195.2,276.3 195.3,315.7 195.4,360.1 195.5,405.3 195.6,447.2 195.7,462.2 195.9,462.2 196.0,462.2 196.1,462.2 196.2,462.2 196.3,462.2 196.4,433.2 196.6,389.7 196.7,344.2 196.8,301.1 196.9,276.2 197.0,276.2 197.1,276.2 197.3,276.2 197.4,276.2 197.5,276.2 197.6,295.1 197.7,337.5 197.8,382.9 197.9,426.9 198.1,462.2 198.2,462.2 198.3,462.2 198.4,462.2 198.5,462.2 198.6,462.2 198.8,452.9 198.9,411.9 199.0,366.9 199.1,322.1 199.2,281.7 199.3,276.2 199.4,276.2 199.6,276.2 199.7,276.2 199.8,276.2 199.9,276.3 200.0,315.7 200.1,360.1 200.3,405.3 200.4,447.2 200.5,462.2 200.6,462.2 200.7,462.2 200.8,462.2 200.9,462.2 201.1,462.2 201.2,433.2 201.3,389.7 201.4,344.2 201.5,301.1 201.6,276.2 201.8,276.2 201.9,276.2 202.0,276.2 202.1,276.2 202.2,276.2 202.3,295.1 202.4,337.5 202.6,382.9 202.7,426.9 202.8,462.2 202.9,462.2 203.0,462.2 203.1,462.2 203.3,462.2 203.4,462.2 203.5,452.9 203.6,411.9 203.7,366.9 203.8,322.1 203.9,281.7 204.1,276.2 204.2,276.2 204.3,276.2 204.4,276.2 204.5,276.2 204.6,276.3 204.8,315.7 204.9,360.1 205.0,405.3 205.1,447.2 205.2,462.2 205.3,462.2 205.4,462.2 205.6,462.2 205.7,462.2 205.8,462.2 205.9,433.2 206.0,389.7 206.1,344.2 206.3,301.1 206.4,276.2 206.5,276.2 206.6,276.2 206.7,276.2 206.8,276.2 207.0,276.2 207.1,295.1 207.2,337.5 207.3,382.9 207.4,426.9 207.5,462.2 207.6,462.2 207.8,462.2 207.9,462.2 208.0,462.2 208.1,462.2 208.2,452.9 208.3,411.9 208.5,366.9 208.6,322.1 208.7,281.7 208.8,276.2 208.9,276.2 209.0,276.2 209.1,276.2 209.3,276.2 209.4,276.3 209.5,315.7 209.6,360.1 209.7,405.3 209.8,447.2 210.0,462.2 210.1,462.2 210.2,462.2 210.3,462.2 210.4,462.2 210.5,462.2 210.6,433.2 210.8,389.7 210.9,344.2 211.0,301.1 211.1,276.2 211.2,276.2 211.3,276.2 211.5,276.2 211.6,276.2 211.7,276.2 211.8,295.1 211.9,337.5 212.0,382.9 212.1,426.9 212.3,462.2 212.4,462.2 212.5,462.2 212.6,462.2 212.7,462.2 212.8,462.2 213.0,452.9 213.1,411.9 213.2,366.9 213.3,322.1 213.4,281.7 213.5,276.2 213.6,276.2 213.8,276.2 213.9,276.2 214.0,276.2 214.1,276.3 214.2,315.7 214.3,360.1 214.5,405.3 214.6,447.2 214.7,462.2 214.8,462.2 214.9,462.2 215.0,462.2 215.2,462.2 215.3,462.2 215.4,433.2 215.5,389.7 215.6,344.2 215.7,301.1 215.8,276.2 216.0,276.2 216.1,276.2 216.2,276.2 216.3,276.2 216.4,276.2 216.5,295.1 216.7,337.5 216.8,382.9 216.9,426.9 217.0,462.2 217.1,462.2 217.2,462.2 217.3,462.2 217.5,462.2 217.6,462.2 217.7,452.9 217.8,411.9 217.9,366.9 218.0,322.1 218.2,281.7 218.3,276.2 218.4,276.2 218.5,276.2 218.6,276.2 218.7,276.2 218.8,276.3 219.0,315.7 219.1,360.1 219.2,405.3 219.3,447.2 219.4,462.2 219.5,462.2 219.7,462.2 219.8,462.2 219.9,462.2 220.0,462.2 220.1,433.2 220.2,389.7 220.3,344.2 220.5,301.1 220.6,276.2 220.7,276.2 220.8,276.2 220.9,276.2 221.0,276.2 221.2,276.2 221.3,295.1 221.4,337.5 221.5,382.9 221.6,426.9 221.7,462.2 221.8,462.2 222.0,462.2 222.1,462.2 222.2,462.2 222.3,462.2 222.4,452.9 222.5,411.9 222.7,366.9 222.8,322.1 222.9,281.7 223.0,276.2 223.1,276.2 223.2,276.2 223.3,276.2 223.5,276.2 223.6,276.3 223.7,315.7 223.8,360.1 223.9,405.3 224.0,447.2 224.2,462.2 224.3,462.2 224.4,462.2 224.5,462.2 224.6,462.2 224.7,462.2 224.9,433.2 225.0,389.7 225.1,344.2 225.2,301.1 225.3,276.2 225.4,276.2 225.5,276.2 225.7,276.2 225.8,276.2 225.9,276.2 226.0,295.1 226.1,337.5 226.2,382.9 226.4,426.9 226.5,462.2 226.6,462.2 226.7,462.2 226.8,462.2 226.9,462.2 227.0,462.2 227.2,452.9 227.3,411.9 227.4,366.9 227.5,322.1 227.6,281.7 227.7,276.2 227.9,276.2 228.0,276.2 228.1,276.2 228.2,276.2 228.3,276.3 228.4,315.7 228.5,360.1 228.7,405.3 228.8,447.2 228.9,462.2 229.0,462.2 229.1,462.2 229.2,462.2 229.4,462.2 229.5,462.2 229.6,433.2 229.7,389.7 229.8,344.2 229.9,301.1 230.0,276.2 230.2,276.2 230.3,276.2 230.4,276.2 230.5,276.2 230.6,276.2 230.7,295.1 230.9,337.5 231.0,382.9 231.1,426.9 231.2,462.2 231.3,462.2 231.4,462.2 231.5,462.2 231.7,462.2 231.8,462.2 231.9,452.9 232.0,411.9 232.1,366.9 232.2,322.1 232.4,281.7 232.5,276.2 232.6,276.2 232.7,276.2 232.8,276.2 232.9,276.2 233.0,276.3 233.2,315.7 233.3,360.1 233.4,405.3 233.5,447.2 233.6,462.2 233.7,462.2 233.9,462.2 234.0,462.2 234.1,462.2 234.2,462.2 234.3,433.2 234.4,389.7 234.6,344.2 234.7,301.1 234.8,276.2 234.9,276.2 235.0,276.2 235.1,276.2 235.2,276.2 235.4,276.2 235.5,295.1 235.6,337.5 235.7,382.9 235.8,426.9 235.9,462.2 236.1,462.2 236.2,462.2 236.3,462.2 236.4,462.2 236.5,462.2 236.6,452.9 236.7,411.9 236.9,366.9 237.0,322.1 237.1,281.7 237.2,276.2 237.3,276.2 237.4,276.2 237.6,276.2 237.7,276.2 237.8,276.3 237.9,315.7 238.0,360.1 238.1,405.3 238.2,447.2 238.4,462.2 238.5,462.2 238.6,462.2 238.7,462.2 238.8,462.2 238.9,462.2 239.1,433.2 239.2,389.7 239.3,344.2 239.4,301.1 239.5,276.2 239.6,276.2 239.7,276.2 239.9,276.2 240.0,276.2 240.1,276.2 240.2,295.1 240.3,337.5 240.4,382.9 240.6,426.9 240.7,462.2 240.8,462.2 240.9,462.2 241.0,462.2 241.1,462.2 241.2,462.2 241.4,452.9 241.5,411.9 241.6,366.9 241.7,322.1 241.8,281.7 241.9,276.2 242.1,276.2 242.2,276.2 242.3,276.2 242.4,276.2 242.5,276.3 242.6,315.7 242.7,360.1 242.9,405.3 243.0,447.2 243.1,462.2 243.2,462.2 243.3,462.2 243.4,462.2 243.6,462.2 243.7,462.2 243.8,433.2 243.9,389.7 244.0,344.2 244.1,301.1 244.3,276.2 244.4,276.2 244.5,276.2 244.6,276.2 244.7,276.2 244.8,276.2 244.9,295.1 245.1,337.5 245.2,382.9 245.3,426.9 245.4,462.2 245.5,462.2 245.6,462.2 245.8,462.2 245.9,462.2 246.0,462.2 246.1,452.9 246.2,411.9 246.3,366.9 246.4,322.1 246.6,281.7 246.7,276.2 246.8,276.2 246.9,276.2 247.0,276.2 247.1,276.2 247.3,276.3 247.4,315.7 247.5,360.1 247.6,405.3 247.7,447.2 247.8,462.2 247.9,462.2 248.1,462.2 248.2,462.2 248.3,462.2 248.4,462.2 248.5,433.2 248.6,389.7 248.8,344.2 248.9,301.1 249.0,276.2 249.1,276.2 249.2,276.2 249.3,276.2 249.4,276.2 249.6,276.2 249.7,295.1 249.8,337.5 249.9,382.9 250.0,426.9 250.1,462.2 250.3,462.2 250.4,462.2 250.5,462.2 250.6,462.2 250.7,462.2 250.8,452.9 250.9,411.9 251.1,366.9 251.2,322.1 251.3,281.7 251.4,276.2 251.5,276.2 251.6,276.2 251.8,276.2 251.9,276.2 252.0,276.3 252.1,315.7 252.2,360.1 252.3,405.3 252.5,447.2 252.6,462.2 252.7,462.2 252.8,462.2 252.9,462.2 253.0,462.2 253.1,462.2 253.3,433.2 253.4,389.7 253.5,344.2 253.6,301.1 253.7,276.2 253.8,276.2 254.0,276.2 254.1,276.2 254.2,276.2 254.3,276.2 254.4,295.1 254.5,337.5 254.6,382.9 254.8,426.9 254.9,462.2 255.0,462.2 255.1,462.2 255.2,462.2 255.3,462.2 255.5,462.2 255.6,452.9 255.7,411.9 255.8,366.9 255.9,322.1 256.0,281.7 256.1,276.2 256.3,276.2 256.4,276.2 256.5,276.2 256.6,276.2 256.7,276.3 256.8,315.7 257.0,360.1 257.1,405.3 257.2,447.2 257.3,462.2 257.4,462.2 257.5,462.2 257.6,462.2 257.8,462.2 257.9,462.2 258.0,433.2 258.1,389.7 258.2,344.2 258.3,301.1 258.5,276.2 258.6,276.2 258.7,276.2 258.8,276.2 258.9,276.2 259.0,276.2 259.1,295.1 259.3,337.5 259.4,382.9 259.5,426.9 259.6,462.2 259.7,462.2 259.8,462.2 260.0,462.2 260.1,462.2 260.2,462.2 260.3,452.9 260.4,411.9 260.5,366.9 260.6,322.1 260.8,281.7 260.9,276.2 261.0,276.2 261.1,276.2 261.2,276.2 261.3,276.2 261.5,276.3 261.6,315.7 261.7,360.1 261.8,405.3 261.9,447.2 262.0,462.2 262.2,462.2 262.3,462.2 262.4,462.2 262.5,462.2 262.6,462.2 262.7,433.2 262.8,389.7 263.0,344.2 263.1,301.1 263.2,276.2 263.3,276.2 263.4,276.2 263.5,276.2 263.7,276.2 263.8,276.2 263.9,295.1 264.0,337.5 264.1,382.9 264.2,426.9 264.3,462.2 264.5,462.2 264.6,462.2 264.7,462.2 264.8,462.2 264.9,462.2 265.0,452.9 265.2,411.9 265.3,366.9 265.4,322.1 265.5,281.7 265.6,276.2 265.7,276.2 265.8,276.2 266.0,276.2 266.1,276.2 266.2,276.3 266.3,315.7 266.4,360.1 266.5,405.3 266.7,447.2 266.8,462.2 266.9,462.2 267.0,462.2 267.1,462.2 267.2,462.2 267.3,462.2 267.5,433.2 267.6,389.7 267.7,344.2 267.8,301.1 267.9,276.2" fill="none" stroke="#5f9fd4" stroke-opacity="0.85" stroke-width="0.32"/>
<polyline points="33.5,338.4 33.7,346.6 34.0,356.9 34.2,368.3 34.4,379.8 34.7,390.4 34.9,398.9 35.1,404.7 35.3,407.2 35.6,406.1 35.8,401.6 36.0,394.1 36.3,384.2 36.5,373.0 36.7,361.4 37.0,350.5 37.2,341.4 37.4,334.8 37.7,331.5 37.9,331.7 38.1,335.4 38.4,342.2 38.6,351.5 38.8,362.5 39.0,374.1 39.3,385.3 39.5,395.0 39.7,402.2 40.0,406.4 40.2,407.1 40.4,404.3 40.7,398.2 40.9,389.4 41.1,378.7 41.4,367.2 41.6,355.8 41.8,345.7 42.0,337.7 42.3,332.7 42.5,331.1 42.7,333.1 43.0,338.4 43.2,346.6 43.4,356.9 43.7,368.3 43.9,379.9 44.1,390.4 44.4,399.0 44.6,404.7 44.8,407.2 45.0,406.1 45.3,401.6 45.5,394.1 45.7,384.2 46.0,373.0 46.2,361.4 46.4,350.5 46.7,341.3 46.9,334.8 47.1,331.5 47.4,331.6 47.6,335.3 47.8,342.2 48.1,351.5 48.3,362.5 48.5,374.1 48.7,385.3 49.0,395.0 49.2,402.3 49.4,406.4 49.7,407.1 49.9,404.3 50.1,398.2 50.4,389.4 50.6,378.7 50.8,367.2 51.1,355.8 51.3,345.6 51.5,337.7 51.7,332.7 52.0,331.1 52.2,333.0 52.4,338.4 52.7,346.6 52.9,356.9 53.1,368.3 53.4,379.9 53.6,390.4 53.8,399.0 54.1,404.8 54.3,407.3 54.5,406.2 54.7,401.7 55.0,394.1 55.2,384.3 55.4,373.0 55.7,361.4 55.9,350.5 56.1,341.3 56.4,334.8 56.6,331.4 56.8,331.6 57.1,335.3 57.3,342.1 57.5,351.5 57.8,362.5 58.0,374.2 58.2,385.3 58.4,395.0 58.7,402.3 58.9,406.5 59.1,407.2 59.4,404.4 59.6,398.3 59.8,389.4 60.1,378.7 60.3,367.2 60.5,355.8 60.8,345.6 61.0,337.7 61.2,332.6 61.4,331.0 61.7,333.0 61.9,338.3 62.1,346.5 62.4,356.9 62.6,368.3 62.8,379.9 63.1,390.4 63.3,399.0 63.5,404.8 63.8,407.3 64.0,406.2 64.2,401.7 64.4,394.2 64.7,384.3 64.9,373.0 65.1,361.4 65.4,350.4 65.6,341.3 65.8,334.7 66.1,331.4 66.3,331.6 66.5,335.2 66.8,342.1 67.0,351.5 67.2,362.5 67.5,374.2 67.7,385.4 67.9,395.0 68.1,402.3 68.4,406.5 68.6,407.2 68.8,404.4 69.1,398.3 69.3,389.5 69.5,378.8 69.8,367.2 70.0,355.7 70.2,345.6 70.5,337.6 70.7,332.6 70.9,331.0 71.1,333.0 71.4,338.3 71.6,346.5 71.8,356.8 72.1,368.3 72.3,379.9 72.5,390.5 72.8,399.0 73.0,404.9 73.2,407.3 73.5,406.3 73.7,401.7 73.9,394.2 74.1,384.3 74.4,373.0 74.6,361.3 74.8,350.4 75.1,341.3 75.3,334.7 75.5,331.3 75.8,331.5 76.0,335.1 76.2,342.0 76.5,351.4 76.7,362.5 76.9,374.2 77.2,385.5 77.4,395.2 77.6,402.6 77.8,406.8 78.1,407.5 78.3,404.7 78.5,398.6 78.8,389.7 79.0,378.9 79.2,367.1 79.5,355.6 79.7,345.3 79.9,337.2 80.2,332.1 80.4,330.5 80.6,332.5 80.8,337.8 81.1,346.2 81.3,356.6 81.5,368.3 81.8,380.1 82.0,390.8 82.2,399.6 82.5,405.5 82.7,408.1 82.9,407.0 83.2,402.4 83.4,394.7 83.6,384.6 83.8,373.1 84.1,361.2 84.3,350.0 84.5,340.6 84.8,333.9 85.0,330.4 85.2,330.6 85.5,334.4 85.7,341.4 85.9,351.0 86.2,362.3 86.4,374.3 86.6,385.8 86.9,395.8 87.1,403.3 87.3,407.6 87.5,408.4 87.8,405.5 88.0,399.2 88.2,390.1 88.5,379.1 88.7,367.1 88.9,355.3 89.2,344.8 89.4,336.5 89.6,331.3 89.9,329.6 90.1,331.6 90.3,337.1 90.5,345.7 90.8,356.4 91.0,368.3 91.2,380.3 91.5,391.3 91.7,400.3 91.9,406.4 92.2,409.1 92.4,408.0 92.6,403.3 92.9,395.4 93.1,385.1 93.3,373.2 93.5,360.9 93.8,349.4 94.0,339.6 94.2,332.6 94.5,329.0 94.7,329.2 94.9,333.0 95.2,340.3 95.4,350.3 95.6,362.0 95.9,374.5 96.1,386.5 96.3,397.0 96.6,404.8 96.8,409.4 97.0,410.2 97.2,407.2 97.5,400.7 97.7,391.2 97.9,379.6 98.2,367.0 98.4,354.5 98.6,343.5 98.9,334.7 99.1,329.2 99.3,327.4 99.6,329.5 99.8,335.3 100.0,344.3 100.2,355.6 100.5,368.2 100.7,381.0 100.9,392.7 101.2,402.2 101.4,408.7 101.6,411.5 101.9,410.4 102.1,405.4 102.3,397.1 102.6,386.1 102.8,373.4 103.0,360.4 103.2,348.2 103.5,337.8 103.7,330.4 103.9,326.6 104.2,326.7 104.4,330.8 104.6,338.5 104.9,349.0 105.1,361.6 105.3,374.9 105.6,387.7 105.8,398.9 106.0,407.3 106.3,412.2 106.5,413.2 106.7,410.0 106.9,403.0 107.2,392.8 107.4,380.3 107.6,366.8 107.9,353.4 108.1,341.5 108.3,332.0 108.6,326.0 108.8,324.0 109.0,326.3 109.3,332.5 109.5,342.2 109.7,354.5 109.9,368.1 110.2,382.0 110.4,394.7 110.6,405.1 110.9,412.2 111.1,415.3 111.3,414.1 111.6,408.7 111.8,399.6 112.0,387.6 112.3,373.8 112.5,359.6 112.7,346.2 113.0,334.8 113.2,326.6 113.4,322.4 113.6,322.5 113.9,327.0 114.1,335.5 114.3,347.1 114.6,360.8 114.8,375.4 115.0,389.5 115.3,401.7 115.5,411.0 115.7,416.4 116.0,417.4 116.2,413.9 116.4,406.2 116.6,395.0 116.9,381.4 117.1,366.6 117.3,351.9 117.6,338.8 117.8,328.5 118.0,322.0 118.3,319.8 118.5,322.2 118.7,329.1 119.0,339.7 119.2,353.1 119.4,368.1 119.6,383.2 119.9,397.1 120.1,408.4 120.3,416.3 120.6,419.8 120.8,418.7 121.0,412.8 121.3,402.9 121.5,389.6 121.7,374.4 122.0,358.5 122.2,343.4 122.4,330.6 122.7,321.3 122.9,316.4 123.1,316.4 123.3,321.3 123.6,330.8 123.8,344.0 124.0,359.6 124.3,376.3 124.5,392.5 124.7,406.7 125.0,417.4 125.2,423.8 125.4,425.1 125.7,421.2 125.9,412.3 126.1,399.4 126.3,383.5 126.6,366.1 126.8,348.9 127.0,333.4 127.3,321.1 127.5,313.2 127.7,310.3 128.0,313.0 128.2,321.0 128.4,333.6 128.7,349.7 128.9,367.8 129.1,386.3 129.3,403.4 129.6,417.6 129.8,427.3 130.0,431.8 130.3,430.4 130.5,423.2 130.7,410.9 131.0,394.6 131.2,375.6 131.4,355.9 131.7,337.1 131.9,321.2 132.1,309.5 132.4,303.4 132.6,303.3 132.8,309.4 133.0,321.2 133.3,337.6 133.5,357.2 133.7,378.1 134.0,398.5 134.2,416.4 134.4,430.1 134.7,438.2 134.9,440.0 135.1,435.1 135.4,424.0 135.6,407.6 135.8,387.4 136.0,365.3 136.3,343.2 136.5,323.3 136.7,307.5 137.0,297.3 137.2,293.7 137.4,297.1 137.7,307.4 137.9,323.6 138.1,344.2 138.4,367.4 138.6,391.1 138.8,412.9 139.0,430.9 139.3,443.4 139.5,448.9 139.7,447.1 140.0,438.0 140.2,422.3 140.4,401.4 140.7,377.4 140.9,352.3 141.1,328.5 141.4,308.3 141.6,293.6 141.8,285.9 142.1,285.9 142.3,293.7 142.5,308.6 142.7,329.4 143.0,354.1 143.2,380.5 143.4,406.0 143.7,428.4 143.9,445.5 144.1,455.7 144.4,457.8 144.6,451.6 144.8,437.7 145.1,417.2 145.3,391.9 145.5,364.3 145.7,336.8 146.0,312.1 146.2,292.5 146.4,279.8 146.7,276.2 146.9,279.5 147.1,292.2 147.4,312.3 147.6,338.0 147.8,367.0 148.1,396.6 148.3,424.0 148.5,446.6 148.7,462.2 149.0,462.2 149.2,462.2 149.4,455.7 149.7,436.0 149.9,409.8 150.1,379.5 150.4,347.8 150.6,317.7 150.8,292.1 151.1,276.2 151.3,276.2 151.5,276.2 151.8,276.2 152.0,292.1 152.2,318.5 152.4,349.9 152.7,383.6 152.9,416.2 153.1,444.8 153.4,462.2 153.6,462.2 153.8,462.2 154.1,462.2 154.3,456.8 154.5,430.5 154.8,398.3 155.0,362.9 155.2,327.9 155.4,296.5 155.7,276.2 155.9,276.2 156.1,276.2 156.4,276.2 156.6,276.2 156.8,297.8 157.1,330.2 157.3,366.4 157.5,403.2 157.8,437.0 158.0,462.2 158.2,462.2 158.4,462.2 158.7,462.2 158.9,462.2 159.1,450.6 159.4,418.6 159.6,381.7 159.8,343.4 160.1,307.2 160.3,276.6 160.5,276.2 160.8,276.2 161.0,276.2 161.2,276.2 161.5,277.8 161.7,309.2 161.9,346.5 162.1,386.1 162.4,424.4 162.6,457.9 162.8,462.2 163.1,462.2 163.3,462.2 163.5,462.2 163.8,462.2 164.0,440.1 164.2,402.7 164.5,362.0 164.7,321.7 164.9,285.5 165.1,276.2 165.4,276.2 165.6,276.2 165.8,276.2 166.1,276.2 166.3,287.3 166.5,324.4 166.8,366.0 167.0,408.2 167.2,446.9 167.5,462.2 167.7,462.2 167.9,462.2 168.1,462.2 168.4,462.2 168.6,462.2 168.8,425.6 169.1,383.4 169.3,339.7 169.5,298.5 169.8,276.2 170.0,276.2 170.2,276.2 170.5,276.2 170.7,276.2 170.9,276.2 171.2,300.9 171.4,343.3 171.6,388.4 171.8,432.0 172.1,462.2 172.3,462.2 172.5,462.2 172.8,462.2 173.0,462.2 173.2,462.2 173.5,448.2 173.7,406.4 173.9,361.2 174.2,316.8 174.4,277.2 174.6,276.2 174.8,276.2 175.1,276.2 175.3,276.2 175.5,276.2 175.8,280.8 176.0,321.1 176.2,365.8 176.5,410.8 176.7,452.0 176.9,462.2 177.2,462.2 177.4,462.2 177.6,462.2 177.8,462.2 178.1,462.2 178.3,428.0 178.5,384.0 178.8,338.6 179.0,296.1 179.2,276.2 179.5,276.2 179.7,276.2 179.9,276.2 180.2,276.2 180.4,276.2 180.6,300.1 180.9,343.1 181.1,388.5 181.3,432.1 181.5,462.2 181.8,462.2 182.0,462.2 182.2,462.2 182.5,462.2 182.7,462.2 182.9,448.2 183.2,406.4 183.4,361.2 183.6,316.8 183.9,277.2 184.1,276.2 184.3,276.2 184.5,276.2 184.8,276.2 185.0,276.2 185.2,280.8 185.5,321.1 185.7,365.8 185.9,410.8 186.2,452.0 186.4,462.2 186.6,462.2 186.9,462.2 187.1,462.2 187.3,462.2 187.6,462.2 187.8,428.0 188.0,384.0 188.2,338.6 188.5,296.1 188.7,276.2 188.9,276.2 189.2,276.2 189.4,276.2 189.6,276.2 189.9,276.2 190.1,300.1 190.3,343.1 190.6,388.5 190.8,432.1 191.0,462.2 191.2,462.2 191.5,462.2 191.7,462.2 191.9,462.2 192.2,462.2 192.4,448.2 192.6,406.4 192.9,361.2 193.1,316.8 193.3,277.2 193.6,276.2 193.8,276.2 194.0,276.2 194.2,276.2 194.5,276.2 194.7,280.8 194.9,321.1 195.2,365.8 195.4,410.8 195.6,452.0 195.9,462.2 196.1,462.2 196.3,462.2 196.6,462.2 196.8,462.2 197.0,462.2 197.3,428.0 197.5,384.0 197.7,338.6 197.9,296.1 198.2,276.2 198.4,276.2 198.6,276.2 198.9,276.2 199.1,276.2 199.3,276.2 199.6,300.1 199.8,343.1 200.0,388.5 200.3,432.1 200.5,462.2 200.7,462.2 200.9,462.2 201.2,462.2 201.4,462.2 201.6,462.2 201.9,448.2 202.1,406.4 202.3,361.2 202.6,316.8 202.8,277.2 203.0,276.2 203.3,276.2 203.5,276.2 203.7,276.2 203.9,276.2 204.2,280.8 204.4,321.1 204.6,365.8 204.9,410.8 205.1,452.0 205.3,462.2 205.6,462.2 205.8,462.2 206.0,462.2 206.3,462.2 206.5,462.2 206.7,428.0 207.0,384.0 207.2,338.6 207.4,296.1 207.6,276.2 207.9,276.2 208.1,276.2 208.3,276.2 208.6,276.2 208.8,276.2 209.0,300.1 209.3,343.1 209.5,388.5 209.7,432.1 210.0,462.2 210.2,462.2 210.4,462.2 210.6,462.2 210.9,462.2 211.1,462.2 211.3,448.2 211.6,406.4 211.8,361.2 212.0,316.8 212.3,277.2 212.5,276.2 212.7,276.2 213.0,276.2 213.2,276.2 213.4,276.2 213.6,280.8 213.9,321.1 214.1,365.8 214.3,410.8 214.6,452.0 214.8,462.2 215.0,462.2 215.3,462.2 215.5,462.2 215.7,462.2 216.0,462.2 216.2,428.0 216.4,384.0 216.7,338.6 216.9,296.1 217.1,276.2 217.3,276.2 217.6,276.2 217.8,276.2 218.0,276.2 218.3,276.2 218.5,300.1 218.7,343.1 219.0,388.5 219.2,432.1 219.4,462.2 219.7,462.2 219.9,462.2 220.1,462.2 220.3,462.2 220.6,462.2 220.8,448.2 221.0,406.4 221.3,361.2 221.5,316.8 221.7,277.2 222.0,276.2 222.2,276.2 222.4,276.2 222.7,276.2 222.9,276.2 223.1,280.8 223.3,321.1 223.6,365.8 223.8,410.8 224.0,452.0 224.3,462.2 224.5,462.2 224.7,462.2 225.0,462.2 225.2,462.2 225.4,462.2 225.7,428.0 225.9,384.0 226.1,338.6 226.4,296.1 226.6,276.2 226.8,276.2 227.0,276.2 227.3,276.2 227.5,276.2 227.7,276.2 228.0,300.1 228.2,343.1 228.4,388.5 228.7,432.1 228.9,462.2 229.1,462.2 229.4,462.2 229.6,462.2 229.8,462.2 230.0,462.2 230.3,448.2 230.5,406.4 230.7,361.2 231.0,316.8 231.2,277.2 231.4,276.2 231.7,276.2 231.9,276.2 232.1,276.2 232.4,276.2 232.6,280.8 232.8,321.1 233.0,365.8 233.3,410.8 233.5,452.0 233.7,462.2 234.0,462.2 234.2,462.2 234.4,462.2 234.7,462.2 234.9,462.2 235.1,428.0 235.4,384.0 235.6,338.6 235.8,296.1 236.1,276.2 236.3,276.2 236.5,276.2 236.7,276.2 237.0,276.2 237.2,276.2 237.4,300.1 237.7,343.1 237.9,388.5 238.1,432.1 238.4,462.2 238.6,462.2 238.8,462.2 239.1,462.2 239.3,462.2 239.5,462.2 239.7,448.2 240.0,406.4 240.2,361.2 240.4,316.8 240.7,277.2 240.9,276.2 241.1,276.2 241.4,276.2 241.6,276.2 241.8,276.2 242.1,280.8 242.3,321.1 242.5,365.8 242.7,410.8 243.0,452.0 243.2,462.2 243.4,462.2 243.7,462.2 243.9,462.2 244.1,462.2 244.4,462.2 244.6,428.0 244.8,384.0 245.1,338.6 245.3,296.1 245.5,276.2 245.8,276.2 246.0,276.2 246.2,276.2 246.4,276.2 246.7,276.2 246.9,300.1 247.1,343.1 247.4,388.5 247.6,432.1 247.8,462.2 248.1,462.2 248.3,462.2 248.5,462.2 248.8,462.2 249.0,462.2 249.2,448.2 249.4,406.4 249.7,361.2 249.9,316.8 250.1,277.2 250.4,276.2 250.6,276.2 250.8,276.2 251.1,276.2 251.3,276.2 251.5,280.8 251.8,321.1 252.0,365.8 252.2,410.8 252.5,452.0 252.7,462.2 252.9,462.2 253.1,462.2 253.4,462.2 253.6,462.2 253.8,462.2 254.1,428.0 254.3,384.0 254.5,338.6 254.8,296.1 255.0,276.2 255.2,276.2 255.5,276.2 255.7,276.2 255.9,276.2 256.1,276.2 256.4,300.1 256.6,343.1 256.8,388.5 257.1,432.1 257.3,462.2 257.5,462.2 257.8,462.2 258.0,462.2 258.2,462.2 258.5,462.2 258.7,448.2 258.9,406.4 259.1,361.2 259.4,316.8 259.6,277.2 259.8,276.2 260.1,276.2 260.3,276.2 260.5,276.2 260.8,276.2 261.0,280.8 261.2,321.1 261.5,365.8 261.7,410.8 261.9,452.0 262.2,462.2 262.4,462.2 262.6,462.2 262.8,462.2 263.1,462.2 263.3,462.2 263.5,428.0 263.8,384.0 264.0,338.6 264.2,296.1 264.5,276.2 264.7,276.2 264.9,276.2 265.2,276.2 265.4,276.2 265.6,276.2 265.8,300.1 266.1,343.1 266.3,388.5 266.5,432.1 266.8,462.2 267.0,462.2 267.2,462.2 267.5,462.2 267.7,462.2 267.9,462.2" fill="none" stroke="#5f9fd4" stroke-opacity="0.45" stroke-width="0.5"/>
</g>
<path clip-path="url(#clip2)" d="M62.37 276.20V462.20M91.24 276.20V462.20M120.11 276.20V462.20M148.98 276.20V462.20M177.85 276.20V462.20M206.72 276.20V462.20M235.59 276.20V462.20M264.46 276.20V462.20M33.50 294.80H270.00M33.50 313.40H270.00M33.50 332.00H270.00M33.50 350.60H270.00M33.50 369.20H270.00M33.50 387.80H270.00M33.50 406.40H270.00M33.50 425.00H270.00M33.50 443.60H270.00" stroke="#3c78aa" stroke-opacity="0.05" stroke-width="0.6" fill="none"/>
<path d="M62.37 462.20v-2.3M62.37 276.20v2.3M91.24 462.20v-2.3M91.24 276.20v2.3M120.11 462.20v-2.3M120.11 276.20v2.3M148.98 462.20v-2.3M148.98 276.20v2.3M177.85 462.20v-2.3M177.85 276.20v2.3M206.72 462.20v-2.3M206.72 276.20v2.3M235.59 462.20v-2.3M235.59 276.20v2.3M264.46 462.20v-2.3M264.46 276.20v2.3M33.50 276.20h2.3M270.00 276.20h-2.3M33.50 294.80h2.3M270.00 294.80h-2.3M33.50 313.40h2.3M270.00 313.40h-2.3M33.50 332.00h2.3M270.00 332.00h-2.3M33.50 350.60h2.3M270.00 350.60h-2.3M33.50 369.20h2.3M270.00 369.20h-2.3M33.50 387.80h2.3M270.00 387.80h-2.3M33.50 406.40h2.3M270.00 406.40h-2.3M33.50 425.00h2.3M270.00 425.00h-2.3M33.50 443.60h2.3M270.00 443.60h-2.3M33.50 462.20h2.3M270.00 462.20h-2.3" stroke="#8c8c8c" stroke-width="0.7" fill="none"/>
<rect x="268.10" y="368.90" width="1.9" height="1.1" fill="#4a8fc8"/>
<g class="tk" text-anchor="end">
<text x="30.90" y="278.75">1.0</text>
<text x="30.90" y="297.35">0.8</text>
<text x="30.90" y="315.95">0.6</text>
<text x="30.90" y="334.55">0.4</text>
<text x="30.90" y="353.15">0.2</text>
<text x="30.90" y="371.75">0.0</text>
<text x="30.90" y="390.35"><tspan font-size="10.6px" dy="0.75">−</tspan><tspan dy="-0.75">0.2</tspan></text>
<text x="30.90" y="408.95"><tspan font-size="10.6px" dy="0.75">−</tspan><tspan dy="-0.75">0.4</tspan></text>
<text x="30.90" y="427.55"><tspan font-size="10.6px" dy="0.75">−</tspan><tspan dy="-0.75">0.6</tspan></text>
<text x="30.90" y="446.15"><tspan font-size="10.6px" dy="0.75">−</tspan><tspan dy="-0.75">0.8</tspan></text>
<text x="30.90" y="464.75"><tspan font-size="10.6px" dy="0.75">−</tspan><tspan dy="-0.75">1.0</tspan></text>
</g>
<g class="tk" text-anchor="middle">
<text x="62.57" y="472.20">500</text>
<text x="91.44" y="472.20">1,<tspan dx="1.2">000</tspan></text>
<text x="120.31" y="472.20">1,<tspan dx="1.2">500</tspan></text>
<text x="149.18" y="472.20">2,<tspan dx="1.2">000</tspan></text>
<text x="178.05" y="472.20">2,<tspan dx="1.2">500</tspan></text>
<text x="206.92" y="472.20">3,<tspan dx="1.2">000</tspan></text>
<text x="235.79" y="472.20">3,<tspan dx="1.2">500</tspan></text>
<text x="264.66" y="472.20">4,<tspan dx="1.2">000</tspan></text>
</g>
<text class="lb" text-anchor="middle" x="151.95" y="483.10">Samples</text>
<text class="lb" text-anchor="middle" transform="translate(12.00 369.40) rotate(-90)">Current [A]</text>
<text class="tt" text-anchor="middle" x="152.25" y="272.20">Current signal (Healthy)</text>
<text class="cp" text-anchor="middle" x="134.25" y="502.60">(<tspan font-weight="bold">b</tspan>)</text>
</g>
<g>
<path d="M333.67 276.20V462.20M362.54 276.20V462.20M391.41 276.20V462.20M420.28 276.20V462.20M449.15 276.20V462.20M478.02 276.20V462.20M506.89 276.20V462.20M535.76 276.20V462.20M304.80 294.80H541.30M304.80 313.40H541.30M304.80 332.00H541.30M304.80 350.60H541.30M304.80 369.20H541.30M304.80 387.80H541.30M304.80 406.40H541.30M304.80 425.00H541.30M304.80 443.60H541.30" stroke="#e9e9e9" stroke-width="0.6" fill="none"/>
<rect x="304.80" y="276.20" width="236.50" height="186.00" fill="none" stroke="#9c9c9c" stroke-width="0.7"/>
<clipPath id="clip3"><rect x="304.80" y="275.80" width="236.50" height="186.80"/></clipPath>
<g clip-path="url(#clip3)" stroke-linejoin="round"><polygon points="304.8,332.4 304.9,331.9 305.0,331.3 305.1,330.8 305.3,331.2 305.4,331.7 305.5,332.2 305.6,332.7 305.7,333.2 305.8,333.5 306.0,333.5 306.1,333.5 306.2,333.6 306.3,333.6 306.4,333.6 306.5,333.6 306.6,333.7 306.8,333.7 306.9,333.7 307.0,333.3 307.1,332.8 307.2,332.3 307.3,331.8 307.5,331.3 307.6,331.2 307.7,331.8 307.8,332.3 307.9,332.8 308.0,333.4 308.1,333.9 308.3,333.9 308.4,333.9 308.5,333.9 308.6,333.9 308.7,333.9 308.8,333.8 309.0,333.8 309.1,333.8 309.2,333.7 309.3,333.5 309.4,332.9 309.5,332.4 309.7,331.8 309.8,331.3 309.9,330.7 310.0,331.1 310.1,331.6 310.2,332.1 310.3,332.6 310.5,333.2 310.6,333.5 310.7,333.5 310.8,333.5 310.9,333.5 311.0,333.5 311.2,333.6 311.3,333.6 311.4,333.6 311.5,333.7 311.6,333.7 311.7,333.3 311.8,332.8 312.0,332.4 312.1,331.9 312.2,331.5 312.3,331.5 312.4,332.1 312.5,332.7 312.7,333.2 312.8,333.8 312.9,334.4 313.0,334.5 313.1,334.5 313.2,334.6 313.3,334.6 313.5,334.6 313.6,334.7 313.7,334.7 313.8,334.7 313.9,334.7 314.0,334.5 314.2,333.9 314.3,333.4 314.4,332.9 314.5,332.3 314.6,331.8 314.7,332.2 314.8,332.7 315.0,333.1 315.1,333.6 315.2,334.1 315.3,334.3 315.4,334.3 315.5,334.2 315.7,334.2 315.8,334.1 315.9,334.1 316.0,334.1 316.1,334.0 316.2,334.0 316.3,334.0 316.5,333.5 316.6,332.9 316.7,332.4 316.8,331.9 316.9,331.4 317.0,331.3 317.2,331.8 317.3,332.3 317.4,332.9 317.5,333.4 317.6,333.9 317.7,334.0 317.8,334.0 318.0,334.1 318.1,334.1 318.2,334.1 318.3,334.1 318.4,334.2 318.5,334.2 318.7,334.2 318.8,333.9 318.9,333.4 319.0,332.9 319.1,332.4 319.2,331.9 319.4,331.3 319.5,331.7 319.6,332.2 319.7,332.7 319.8,333.2 319.9,333.6 320.0,333.9 320.2,333.9 320.3,333.8 320.4,333.7 320.5,333.7 320.6,333.6 320.7,333.6 320.9,333.5 321.0,333.5 321.1,333.4 321.2,332.9 321.3,332.3 321.4,331.7 321.5,331.2 321.7,330.6 321.8,330.5 321.9,331.0 322.0,331.5 322.1,332.1 322.2,332.6 322.4,333.1 322.5,333.2 322.6,333.2 322.7,333.3 322.8,333.3 322.9,333.4 323.0,333.4 323.2,333.5 323.3,333.5 323.4,333.6 323.5,333.4 323.6,332.9 323.7,332.5 323.9,332.0 324.0,331.6 324.1,331.1 324.2,331.6 324.3,332.2 324.4,332.7 324.5,333.3 324.7,333.8 324.8,334.2 324.9,334.2 325.0,334.2 325.1,334.3 325.2,334.3 325.4,334.3 325.5,334.3 325.6,334.3 325.7,334.2 325.8,334.2 325.9,333.7 326.0,333.2 326.2,332.6 326.3,332.1 326.4,331.6 326.5,331.5 326.6,331.9 326.7,332.4 326.9,332.9 327.0,333.4 327.1,333.9 327.2,334.0 327.3,333.9 327.4,333.9 327.5,333.9 327.7,333.9 327.8,334.0 327.9,334.0 328.0,334.0 328.1,334.0 328.2,333.8 328.4,333.3 328.5,332.8 328.6,332.4 328.7,331.9 328.8,331.4 328.9,331.9 329.1,332.5 329.2,333.0 329.3,333.6 329.4,334.1 329.5,334.5 329.6,334.5 329.7,334.5 329.9,334.5 330.0,334.5 330.1,334.6 330.2,334.6 330.3,334.6 330.4,334.5 330.6,334.5 330.7,334.0 330.8,333.5 330.9,332.9 331.0,332.4 331.1,331.8 331.2,331.7 331.4,332.1 331.5,332.6 331.6,333.0 331.7,333.5 331.8,333.9 331.9,333.9 332.1,333.8 332.2,333.8 332.3,333.7 332.4,333.7 332.5,333.6 332.6,333.5 332.7,333.5 332.9,333.4 333.0,333.2 333.1,332.6 333.2,332.0 333.3,331.5 333.4,330.9 333.6,330.4 333.7,330.9 333.8,331.4 333.9,331.9 334.0,332.5 334.1,333.0 334.2,333.4 334.4,333.4 334.5,333.4 334.6,333.5 334.7,333.5 334.8,333.5 334.9,333.6 335.1,333.6 335.2,333.6 335.3,333.7 335.4,333.2 335.5,332.7 335.6,332.2 335.7,331.7 335.9,331.2 336.0,331.2 336.1,331.7 336.2,332.2 336.3,332.7 336.4,333.3 336.6,333.8 336.7,333.8 336.8,333.8 336.9,333.8 337.0,333.7 337.1,333.7 337.2,333.7 337.4,333.7 337.5,333.6 337.6,333.6 337.7,333.3 337.8,332.8 337.9,332.3 338.1,331.7 338.2,331.2 338.3,330.6 338.4,331.1 338.5,331.6 338.6,332.1 338.8,332.7 338.9,333.2 339.0,333.5 339.1,333.6 339.2,333.6 339.3,333.6 339.4,333.7 339.6,333.7 339.7,333.8 339.8,333.9 339.9,333.9 340.0,334.0 340.1,333.5 340.3,333.1 340.4,332.6 340.5,332.2 340.6,331.7 340.7,331.7 340.8,332.3 340.9,332.9 341.1,333.4 341.2,334.0 341.3,334.5 341.4,334.6 341.5,334.6 341.6,334.6 341.8,334.6 341.9,334.6 342.0,334.6 342.1,334.6 342.2,334.6 342.3,334.6 342.4,334.3 342.6,333.7 342.7,333.2 342.8,332.6 342.9,332.1 343.0,331.5 343.1,331.9 343.3,332.3 343.4,332.8 343.5,333.2 343.6,333.7 343.7,334.0 343.8,333.9 343.9,333.9 344.1,333.8 344.2,333.8 344.3,333.8 344.4,333.7 344.5,333.7 344.6,333.7 344.8,333.7 344.9,333.2 345.0,332.7 345.1,332.1 345.2,331.6 345.3,331.1 345.4,331.1 345.6,331.6 345.7,332.1 345.8,332.7 345.9,333.2 346.0,333.8 346.1,333.8 346.3,333.9 346.4,333.9 346.5,333.9 346.6,333.9 346.7,333.9 346.8,333.9 347.0,333.9 347.1,333.9 347.2,333.6 347.3,333.1 347.4,332.5 347.5,332.0 347.6,331.4 347.8,330.8 347.9,331.2 348.0,331.7 348.1,332.2 348.2,332.6 348.3,333.1 348.5,333.4 348.6,333.3 348.7,333.2 348.8,333.2 348.9,333.1 349.0,333.1 349.1,333.0 349.3,333.0 349.4,332.9 349.5,332.9 349.6,332.3 349.7,331.8 349.8,331.2 350.0,330.7 350.1,330.1 350.2,330.1 350.3,330.6 350.4,331.2 350.5,331.7 350.6,332.3 350.8,332.8 350.9,332.9 351.0,333.0 351.1,333.0 351.2,333.1 351.3,333.1 351.5,333.2 351.6,333.2 351.7,333.3 351.8,333.4 351.9,333.2 352.0,332.7 352.1,332.2 352.3,331.8 352.4,331.3 352.5,330.8 352.6,331.3 352.7,331.8 352.8,332.4 353.0,332.9 353.1,333.4 353.2,333.7 353.3,333.7 353.4,333.7 353.5,333.7 353.6,333.7 353.8,333.7 353.9,333.6 354.0,333.6 354.1,333.6 354.2,333.5 354.3,333.0 354.5,332.4 354.6,331.8 354.7,331.3 354.8,330.7 354.9,330.6 355.0,331.1 355.1,331.6 355.3,332.1 355.4,332.6 355.5,333.1 355.6,333.1 355.7,333.1 355.8,333.1 356.0,333.1 356.1,333.1 356.2,333.1 356.3,333.1 356.4,333.2 356.5,333.2 356.7,333.0 356.8,332.4 356.9,331.9 357.0,331.4 357.1,330.9 357.2,330.4 357.3,330.9 357.5,331.5 357.6,332.0 357.7,332.5 357.8,333.1 357.9,333.4 358.0,333.4 358.2,333.4 358.3,333.4 358.4,333.4 358.5,333.3 358.6,333.3 358.7,333.3 358.8,333.2 359.0,333.2 359.1,332.6 359.2,332.0 359.3,331.4 359.4,330.8 359.5,330.2 359.7,330.0 359.8,330.5 359.9,330.9 360.0,331.4 360.1,331.8 360.2,332.3 360.3,332.3 360.5,332.2 360.6,332.1 360.7,332.1 360.8,332.0 360.9,332.0 361.0,331.9 361.2,331.9 361.3,331.9 361.4,331.6 361.5,331.0 361.6,330.5 361.7,329.9 361.8,329.4 362.0,328.8 362.1,329.3 362.2,329.9 362.3,330.5 362.4,331.0 362.5,331.6 362.7,332.0 362.8,332.0 362.9,332.0 363.0,332.0 363.1,332.1 363.2,332.1 363.3,332.1 363.5,332.1 363.6,332.1 363.7,332.1 363.8,331.6 363.9,331.1 364.0,330.5 364.2,329.9 364.3,329.4 364.4,329.3 364.5,329.8 364.6,330.3 364.7,330.8 364.8,331.3 365.0,331.8 365.1,331.8 365.2,331.8 365.3,331.7 365.4,331.7 365.5,331.6 365.7,331.6 365.8,331.5 365.9,331.5 366.0,331.4 366.1,331.1 366.2,330.5 366.4,329.9 366.5,329.3 366.6,328.8 366.7,328.2 366.8,328.6 366.9,329.2 367.0,329.7 367.2,330.3 367.3,330.9 367.4,331.2 367.5,331.2 367.6,331.3 367.7,331.3 367.9,331.3 368.0,331.4 368.1,331.4 368.2,331.4 368.3,331.5 368.4,331.5 368.5,331.0 368.7,330.5 368.8,329.9 368.9,329.4 369.0,328.9 369.1,328.8 369.2,329.4 369.4,329.9 369.5,330.5 369.6,331.0 369.7,331.5 369.8,331.6 369.9,331.5 370.0,331.5 370.2,331.4 370.3,331.3 370.4,331.3 370.5,331.2 370.6,331.1 370.7,331.0 370.9,330.7 371.0,330.0 371.1,329.4 371.2,328.7 371.3,328.1 371.4,327.4 371.5,327.8 371.7,328.2 371.8,328.7 371.9,329.2 372.0,329.7 372.1,330.0 372.2,329.9 372.4,329.8 372.5,329.8 372.6,329.7 372.7,329.7 372.8,329.6 372.9,329.6 373.0,329.6 373.2,329.6 373.3,329.0 373.4,328.4 373.5,327.8 373.6,327.2 373.7,326.6 373.9,326.5 374.0,327.1 374.1,327.7 374.2,328.3 374.3,328.9 374.4,329.4 374.5,329.5 374.7,329.5 374.8,329.5 374.9,329.5 375.0,329.4 375.1,329.4 375.2,329.4 375.4,329.3 375.5,329.3 375.6,328.9 375.7,328.3 375.8,327.6 375.9,326.9 376.1,326.2 376.2,325.6 376.3,326.0 376.4,326.5 376.5,326.9 376.6,327.4 376.7,327.9 376.9,328.2 377.0,328.1 377.1,328.0 377.2,327.9 377.3,327.9 377.4,327.8 377.6,327.7 377.7,327.7 377.8,327.6 377.9,327.6 378.0,326.9 378.1,326.3 378.2,325.6 378.4,325.0 378.5,324.4 378.6,324.3 378.7,324.9 378.8,325.5 378.9,326.2 379.1,326.8 379.2,327.4 379.3,327.5 379.4,327.6 379.5,327.6 379.6,327.6 379.7,327.7 379.9,327.7 380.0,327.7 380.1,327.7 380.2,327.8 380.3,327.5 380.4,326.9 380.6,326.3 380.7,325.7 380.8,325.1 380.9,324.4 381.0,324.9 381.1,325.5 381.2,326.1 381.4,326.6 381.5,327.2 381.6,327.5 381.7,327.4 381.8,327.3 381.9,327.3 382.1,327.2 382.2,327.1 382.3,327.0 382.4,326.9 382.5,326.8 382.6,326.7 382.7,326.0 382.9,325.3 383.0,324.6 383.1,323.9 383.2,323.2 383.3,323.0 383.4,323.5 383.6,324.1 383.7,324.7 383.8,325.3 383.9,325.8 384.0,325.9 384.1,325.8 384.3,325.8 384.4,325.8 384.5,325.7 384.6,325.7 384.7,325.7 384.8,325.7 384.9,325.7 385.1,325.4 385.2,324.7 385.3,324.1 385.4,323.4 385.5,322.8 385.6,322.1 385.8,322.6 385.9,323.2 386.0,323.8 386.1,324.4 386.2,325.0 386.3,325.3 386.4,325.3 386.6,325.2 386.7,325.1 386.8,325.0 386.9,324.9 387.0,324.8 387.1,324.7 387.3,324.6 387.4,324.5 387.5,323.7 387.6,322.9 387.7,322.1 387.8,321.3 387.9,320.5 388.1,320.3 388.2,320.8 388.3,321.4 388.4,321.9 388.5,322.5 388.6,323.0 388.8,323.0 388.9,322.9 389.0,322.8 389.1,322.8 389.2,322.7 389.3,322.6 389.4,322.6 389.6,322.5 389.7,322.5 389.8,322.2 389.9,321.5 390.0,320.8 390.1,320.1 390.3,319.4 390.4,318.7 390.5,319.3 390.6,320.0 390.7,320.7 390.8,321.4 390.9,322.1 391.1,322.6 391.2,322.6 391.3,322.6 391.4,322.6 391.5,322.6 391.6,322.5 391.8,322.4 391.9,322.4 392.0,322.3 392.1,322.2 392.2,321.4 392.3,320.6 392.4,319.8 392.6,319.0 392.7,318.2 392.8,317.9 392.9,318.5 393.0,319.1 393.1,319.6 393.3,320.2 393.4,320.7 393.5,320.7 393.6,320.5 393.7,320.4 393.8,320.2 394.0,320.1 394.1,319.9 394.2,319.8 394.3,319.6 394.4,319.5 394.5,319.1 394.6,318.2 394.8,317.4 394.9,316.5 395.0,315.7 395.1,314.9 395.2,315.4 395.3,316.1 395.5,316.7 395.6,317.4 395.7,318.1 395.8,318.5 395.9,318.5 396.0,318.4 396.1,318.4 396.3,318.3 396.4,318.3 396.5,318.2 396.6,318.2 396.7,318.1 396.8,318.1 397.0,317.3 397.1,316.5 397.2,315.6 397.3,314.8 397.4,313.9 397.5,313.7 397.6,314.3 397.8,315.0 397.9,315.6 398.0,316.2 398.1,316.8 398.2,316.7 398.3,316.5 398.5,316.3 398.6,316.1 398.7,315.9 398.8,315.7 398.9,315.4 399.0,315.1 399.1,314.8 399.3,314.2 399.4,313.1 399.5,312.0 399.6,310.9 399.7,309.8 399.8,308.7 400.0,309.2 400.1,309.7 400.2,310.3 400.3,310.9 400.4,311.5 400.5,311.8 400.6,311.6 400.8,311.4 400.9,311.2 401.0,311.0 401.1,310.8 401.2,310.7 401.3,310.5 401.5,310.4 401.6,310.2 401.7,309.3 401.8,308.3 401.9,307.3 402.0,306.3 402.1,305.3 402.3,305.0 402.4,305.7 402.5,306.5 402.6,307.2 402.7,307.9 402.8,308.7 403.0,308.6 403.1,308.5 403.2,308.3 403.3,308.1 403.4,307.9 403.5,307.8 403.7,307.6 403.8,307.3 403.9,307.1 404.0,306.5 404.1,305.3 404.2,304.2 404.3,303.0 404.5,301.8 404.6,300.6 404.7,301.2 404.8,301.8 404.9,302.5 405.0,303.1 405.2,303.8 405.3,304.2 405.4,303.9 405.5,303.7 405.6,303.5 405.7,303.2 405.8,303.0 406.0,302.8 406.1,302.7 406.2,302.5 406.3,302.3 406.4,301.3 406.5,300.1 406.7,299.0 406.8,297.9 406.9,296.8 407.0,296.6 407.1,297.5 407.2,298.4 407.3,299.3 407.5,300.2 407.6,301.1 407.7,301.2 407.8,301.1 407.9,301.0 408.0,300.9 408.2,300.8 408.3,300.7 408.4,300.6 408.5,300.5 408.6,300.4 408.7,299.8 408.8,298.6 409.0,297.4 409.1,296.2 409.2,295.0 409.3,293.7 409.4,294.4 409.5,295.1 409.7,295.9 409.8,296.7 409.9,297.4 410.0,297.8 410.1,297.5 410.2,297.2 410.3,296.9 410.5,296.6 410.6,296.4 410.7,296.1 410.8,295.8 410.9,295.5 411.0,295.2 411.2,293.9 411.3,292.6 411.4,291.2 411.5,289.8 411.6,288.5 411.7,288.1 411.8,289.0 412.0,289.8 412.1,290.8 412.2,291.7 412.3,292.6 412.4,292.6 412.5,292.4 412.7,292.3 412.8,292.1 412.9,292.0 413.0,291.8 413.1,291.7 413.2,291.5 413.4,291.4 413.5,290.7 413.6,289.4 413.7,288.1 413.8,286.8 413.9,285.5 414.0,284.1 414.2,284.9 414.3,285.8 414.4,286.8 414.5,287.7 414.6,288.6 414.7,289.0 414.9,288.7 415.0,288.4 415.1,288.1 415.2,287.8 415.3,287.5 415.4,287.1 415.5,286.8 415.7,286.4 415.8,286.0 415.9,284.5 416.0,282.9 416.1,281.3 416.2,279.7 416.4,278.1 416.5,277.6 416.6,278.5 416.7,279.4 416.8,280.3 416.9,281.3 417.0,282.3 417.2,282.2 417.3,282.0 417.4,281.7 417.5,281.5 417.6,281.3 417.7,281.1 417.9,280.9 418.0,280.7 418.1,280.5 418.2,279.7 418.3,278.2 418.4,276.7 418.5,276.2 418.7,276.2 418.8,276.2 418.9,276.2 419.0,276.2 419.1,276.2 419.2,276.8 419.4,277.9 419.5,278.6 419.6,278.4 419.7,278.2 419.8,278.0 419.9,277.8 420.0,277.6 420.2,277.4 420.3,277.1 420.4,276.9 420.5,276.6 420.6,276.2 420.7,276.2 420.9,276.2 421.0,276.2 421.1,276.2 421.2,276.2 421.3,276.2 421.4,276.2 421.6,276.2 421.7,276.2 421.8,276.2 421.9,276.2 422.0,276.2 422.1,276.2 422.2,276.2 422.4,276.2 422.5,276.2 422.6,276.2 422.7,276.2 422.8,276.2 422.9,276.2 423.1,276.2 423.2,276.2 423.3,276.2 423.4,276.2 423.5,276.2 423.6,276.2 423.7,276.2 423.9,276.2 424.0,276.2 424.1,276.2 424.2,276.2 424.3,276.2 424.4,276.2 424.6,276.2 424.7,276.2 424.8,276.2 424.9,276.2 425.0,276.2 425.1,276.2 425.2,276.2 425.4,276.2 425.5,276.2 425.6,276.2 425.7,276.2 425.8,276.2 425.9,276.2 426.1,276.2 426.2,276.2 426.3,276.2 426.4,276.2 426.5,276.2 426.6,276.2 426.7,276.2 426.9,276.2 427.0,276.2 427.1,276.2 427.2,276.2 427.3,276.2 427.4,276.2 427.6,276.2 427.7,276.2 427.8,276.2 427.9,276.2 428.0,276.2 428.1,276.2 428.2,276.2 428.4,276.2 428.5,276.2 428.6,276.2 428.7,276.2 428.8,276.2 428.9,276.2 429.1,276.2 429.2,276.2 429.3,276.2 429.4,276.2 429.5,276.2 429.6,276.2 429.7,276.2 429.9,276.2 430.0,276.2 430.1,276.2 430.2,276.2 430.3,276.2 430.4,276.2 430.6,276.2 430.7,276.2 430.8,276.2 430.9,276.2 431.0,276.2 431.1,276.2 431.3,276.2 431.4,276.2 431.5,276.2 431.6,276.2 431.7,276.2 431.8,276.2 431.9,276.2 432.1,276.2 432.2,276.2 432.3,276.2 432.4,276.2 432.5,276.2 432.6,276.2 432.8,276.2 432.9,276.2 433.0,276.2 433.1,276.2 433.2,276.2 433.3,276.2 433.4,276.2 433.6,276.2 433.7,276.2 433.8,276.2 433.9,276.2 434.0,276.2 434.1,276.2 434.3,276.2 434.4,276.2 434.5,276.2 434.6,276.2 434.7,276.2 434.8,276.2 434.9,276.2 435.1,276.2 435.2,276.2 435.3,276.2 435.4,276.2 435.5,276.2 435.6,276.2 435.8,276.2 435.9,276.2 436.0,276.2 436.1,276.2 436.2,276.2 436.3,276.2 436.4,276.2 436.6,276.2 436.7,276.2 436.8,276.2 436.9,276.2 437.0,276.2 437.1,276.2 437.3,276.2 437.4,276.2 437.5,276.2 437.6,276.2 437.7,276.2 437.8,276.2 437.9,276.2 438.1,276.2 438.2,276.2 438.3,276.2 438.4,276.2 438.5,276.2 438.6,276.2 438.8,276.2 438.9,276.2 439.0,276.2 439.1,276.2 439.2,276.2 439.3,276.2 439.4,276.2 439.6,276.2 439.7,276.2 439.8,276.2 439.9,276.2 440.0,276.2 440.1,276.2 440.3,276.2 440.4,276.2 440.5,276.2 440.6,276.2 440.7,276.2 440.8,276.2 441.0,276.2 441.1,276.2 441.2,276.2 441.3,276.2 441.4,276.2 441.5,276.2 441.6,276.2 441.8,276.2 441.9,276.2 442.0,276.2 442.1,276.2 442.2,276.2 442.3,276.2 442.5,276.2 442.6,276.2 442.7,276.2 442.8,276.2 442.9,276.2 443.0,276.2 443.1,276.2 443.3,276.2 443.4,276.2 443.5,276.2 443.6,276.2 443.7,276.2 443.8,276.2 444.0,276.2 444.1,276.2 444.2,276.2 444.3,276.2 444.4,276.2 444.5,276.2 444.6,276.2 444.8,276.2 444.9,276.2 445.0,276.2 445.1,276.2 445.2,276.2 445.3,276.2 445.5,276.2 445.6,276.2 445.7,276.2 445.8,276.2 445.9,276.2 446.0,276.2 446.1,276.2 446.3,276.2 446.4,276.2 446.5,276.2 446.6,276.2 446.7,276.2 446.8,276.2 447.0,276.2 447.1,276.2 447.2,276.2 447.3,276.2 447.4,276.2 447.5,276.2 447.6,276.2 447.8,276.2 447.9,276.2 448.0,276.2 448.1,276.2 448.2,276.2 448.3,276.2 448.5,276.2 448.6,276.2 448.7,276.2 448.8,276.2 448.9,276.2 449.0,276.2 449.1,276.2 449.3,276.2 449.4,276.2 449.5,276.2 449.6,276.2 449.7,276.2 449.8,276.2 450.0,276.2 450.1,276.2 450.2,276.2 450.3,276.2 450.4,276.2 450.5,276.2 450.7,276.2 450.8,276.2 450.9,276.2 451.0,276.2 451.1,276.2 451.2,276.2 451.3,276.2 451.5,276.2 451.6,276.2 451.7,276.2 451.8,276.2 451.9,276.2 452.0,276.2 452.2,276.2 452.3,276.2 452.4,276.2 452.5,276.2 452.6,276.2 452.7,276.2 452.8,276.2 453.0,276.2 453.1,276.2 453.2,276.2 453.3,276.2 453.4,276.2 453.5,276.2 453.7,276.2 453.8,276.2 453.9,276.2 454.0,276.2 454.1,276.2 454.2,276.2 454.3,276.2 454.5,276.2 454.6,276.2 454.7,276.2 454.8,276.2 454.9,276.2 455.0,276.2 455.2,276.2 455.3,276.2 455.4,276.2 455.5,276.2 455.6,276.2 455.7,276.2 455.8,276.2 456.0,276.2 456.1,276.2 456.2,276.2 456.3,276.2 456.4,276.2 456.5,276.2 456.7,276.2 456.8,276.2 456.9,276.2 457.0,276.2 457.1,276.2 457.2,276.2 457.3,276.2 457.5,276.2 457.6,276.2 457.7,276.2 457.8,276.2 457.9,276.2 458.0,276.2 458.2,276.2 458.3,276.2 458.4,276.2 458.5,276.2 458.6,276.2 458.7,276.2 458.9,276.2 459.0,276.2 459.1,276.2 459.2,276.2 459.3,276.2 459.4,276.2 459.5,276.2 459.7,276.2 459.8,276.2 459.9,276.2 460.0,276.2 460.1,276.2 460.2,276.2 460.4,276.2 460.5,276.2 460.6,276.2 460.7,276.2 460.8,276.2 460.9,276.2 461.0,276.2 461.2,276.2 461.3,276.2 461.4,276.2 461.5,276.2 461.6,276.2 461.7,276.2 461.9,276.2 462.0,276.2 462.1,276.2 462.2,276.2 462.3,276.2 462.4,276.2 462.5,276.2 462.7,276.2 462.8,276.2 462.9,276.2 463.0,276.2 463.1,276.2 463.2,276.2 463.4,276.2 463.5,276.2 463.6,276.2 463.7,276.2 463.8,276.2 463.9,276.2 464.0,276.2 464.2,276.2 464.3,276.2 464.4,276.2 464.5,276.2 464.6,276.2 464.7,276.2 464.9,276.2 465.0,276.2 465.1,276.2 465.2,276.2 465.3,276.2 465.4,276.2 465.5,276.2 465.7,276.2 465.8,276.2 465.9,276.2 466.0,276.2 466.1,276.2 466.2,276.2 466.4,276.2 466.5,276.2 466.6,276.2 466.7,276.2 466.8,276.2 466.9,276.2 467.0,276.2 467.2,276.2 467.3,276.2 467.4,276.2 467.5,276.2 467.6,276.2 467.7,276.2 467.9,276.2 468.0,276.2 468.1,276.2 468.2,276.2 468.3,276.2 468.4,276.2 468.6,276.2 468.7,276.2 468.8,276.2 468.9,276.2 469.0,276.2 469.1,276.2 469.2,276.2 469.4,276.2 469.5,276.2 469.6,276.2 469.7,276.2 469.8,276.2 469.9,276.2 470.1,276.2 470.2,276.2 470.3,276.2 470.4,276.2 470.5,276.2 470.6,276.2 470.7,276.2 470.9,276.2 471.0,276.2 471.1,276.2 471.2,276.2 471.3,276.2 471.4,276.2 471.6,276.2 471.7,276.2 471.8,276.2 471.9,276.2 472.0,276.2 472.1,276.2 472.2,276.2 472.4,276.2 472.5,276.2 472.6,276.2 472.7,276.2 472.8,276.2 472.9,276.2 473.1,276.2 473.2,276.2 473.3,276.2 473.4,276.2 473.5,276.2 473.6,276.2 473.7,276.2 473.9,276.2 474.0,276.2 474.1,276.2 474.2,276.2 474.3,276.2 474.4,276.2 474.6,276.2 474.7,276.2 474.8,276.2 474.9,276.2 475.0,276.2 475.1,276.2 475.2,276.2 475.4,276.2 475.5,276.2 475.6,276.2 475.7,276.2 475.8,276.2 475.9,276.2 476.1,276.2 476.2,276.2 476.3,276.2 476.4,276.2 476.5,276.2 476.6,276.2 476.7,276.2 476.9,276.2 477.0,276.2 477.1,276.2 477.2,276.2 477.3,276.2 477.4,276.2 477.6,276.2 477.7,276.2 477.8,276.2 477.9,276.2 478.0,276.2 478.1,276.2 478.3,276.2 478.4,276.2 478.5,276.2 478.6,276.2 478.7,276.2 478.8,276.2 478.9,276.2 479.1,276.2 479.2,276.2 479.3,276.2 479.4,276.2 479.5,276.2 479.6,276.2 479.8,276.2 479.9,276.2 480.0,276.2 480.1,276.2 480.2,276.2 480.3,276.2 480.4,276.2 480.6,276.2 480.7,276.2 480.8,276.2 480.9,276.2 481.0,276.2 481.1,276.2 481.3,276.2 481.4,276.2 481.5,276.2 481.6,276.2 481.7,276.2 481.8,276.2 481.9,276.2 482.1,276.2 482.2,276.2 482.3,276.2 482.4,276.2 482.5,276.2 482.6,276.2 482.8,276.2 482.9,276.2 483.0,276.2 483.1,276.2 483.2,276.2 483.3,276.2 483.4,276.2 483.6,276.2 483.7,276.2 483.8,276.2 483.9,276.2 484.0,276.2 484.1,276.2 484.3,276.2 484.4,276.2 484.5,276.2 484.6,276.2 484.7,276.2 484.8,276.2 484.9,276.2 485.1,276.2 485.2,276.2 485.3,276.2 485.4,276.2 485.5,276.2 485.6,276.2 485.8,276.2 485.9,276.2 486.0,276.2 486.1,276.2 486.2,276.2 486.3,276.2 486.5,276.2 486.6,276.2 486.7,276.2 486.8,276.2 486.9,276.2 487.0,276.2 487.1,276.2 487.3,276.2 487.4,276.2 487.5,276.2 487.6,276.2 487.7,276.2 487.8,276.2 488.0,276.2 488.1,276.2 488.2,276.2 488.3,276.2 488.4,276.2 488.5,276.2 488.6,276.2 488.8,276.2 488.9,276.2 489.0,276.2 489.1,276.2 489.2,276.2 489.3,276.2 489.5,276.2 489.6,276.2 489.7,276.2 489.8,276.2 489.9,276.2 490.0,276.2 490.1,276.2 490.3,276.2 490.4,276.2 490.5,276.2 490.6,276.2 490.7,276.2 490.8,276.2 491.0,276.2 491.1,276.2 491.2,276.2 491.3,276.2 491.4,276.2 491.5,276.2 491.6,276.2 491.8,276.2 491.9,276.2 492.0,276.2 492.1,276.2 492.2,276.2 492.3,276.2 492.5,276.2 492.6,276.2 492.7,276.2 492.8,276.2 492.9,276.2 493.0,276.2 493.1,276.2 493.3,276.2 493.4,276.2 493.5,276.2 493.6,276.2 493.7,276.2 493.8,276.2 494.0,276.2 494.1,276.2 494.2,276.2 494.3,276.2 494.4,276.2 494.5,276.2 494.6,276.2 494.8,276.2 494.9,276.2 495.0,276.2 495.1,276.2 495.2,276.2 495.3,276.2 495.5,276.2 495.6,276.2 495.7,276.2 495.8,276.2 495.9,276.2 496.0,276.2 496.2,276.2 496.3,276.2 496.4,276.2 496.5,276.2 496.6,276.2 496.7,276.2 496.8,276.2 497.0,276.2 497.1,276.2 497.2,276.2 497.3,276.2 497.4,276.2 497.5,276.2 497.7,276.2 497.8,276.2 497.9,276.2 498.0,276.2 498.1,276.2 498.2,276.2 498.3,276.2 498.5,276.2 498.6,276.2 498.7,276.2 498.8,276.2 498.9,276.2 499.0,276.2 499.2,276.2 499.3,276.2 499.4,276.2 499.5,276.2 499.6,276.2 499.7,276.2 499.8,276.2 500.0,276.2 500.1,276.2 500.2,276.2 500.3,276.2 500.4,276.2 500.5,276.2 500.7,276.2 500.8,276.2 500.9,276.2 501.0,276.2 501.1,276.2 501.2,276.2 501.3,276.2 501.5,276.2 501.6,276.2 501.7,276.2 501.8,276.2 501.9,276.2 502.0,276.2 502.2,276.2 502.3,276.2 502.4,276.2 502.5,276.2 502.6,276.2 502.7,276.2 502.8,276.2 503.0,276.2 503.1,276.2 503.2,276.2 503.3,276.2 503.4,276.2 503.5,276.2 503.7,276.2 503.8,276.2 503.9,276.2 504.0,276.2 504.1,276.2 504.2,276.2 504.3,276.2 504.5,276.2 504.6,276.2 504.7,276.2 504.8,276.2 504.9,276.2 505.0,276.2 505.2,276.2 505.3,276.2 505.4,276.2 505.5,276.2 505.6,276.2 505.7,276.2 505.9,276.2 506.0,276.2 506.1,276.2 506.2,276.2 506.3,276.2 506.4,276.2 506.5,276.2 506.7,276.2 506.8,276.2 506.9,276.2 507.0,276.2 507.1,276.2 507.2,276.2 507.4,276.2 507.5,276.2 507.6,276.2 507.7,276.2 507.8,276.2 507.9,276.2 508.0,276.2 508.2,276.2 508.3,276.2 508.4,276.2 508.5,276.2 508.6,276.2 508.7,276.2 508.9,276.2 509.0,276.2 509.1,276.2 509.2,276.2 509.3,276.2 509.4,276.2 509.5,276.2 509.7,276.2 509.8,276.2 509.9,276.2 510.0,276.2 510.1,276.2 510.2,276.2 510.4,276.2 510.5,276.2 510.6,276.2 510.7,276.2 510.8,276.2 510.9,276.2 511.0,276.2 511.2,276.2 511.3,276.2 511.4,276.2 511.5,276.2 511.6,276.2 511.7,276.2 511.9,276.2 512.0,276.2 512.1,276.2 512.2,276.2 512.3,276.2 512.4,276.2 512.5,276.2 512.7,276.2 512.8,276.2 512.9,276.2 513.0,276.2 513.1,276.2 513.2,276.2 513.4,276.2 513.5,276.2 513.6,276.2 513.7,276.2 513.8,276.2 513.9,276.2 514.0,276.2 514.2,276.2 514.3,276.2 514.4,276.2 514.5,276.2 514.6,276.2 514.7,276.2 514.9,276.2 515.0,276.2 515.1,276.2 515.2,276.2 515.3,276.2 515.4,276.2 515.6,276.2 515.7,276.2 515.8,276.2 515.9,276.2 516.0,276.2 516.1,276.2 516.2,276.2 516.4,276.2 516.5,276.2 516.6,276.2 516.7,276.2 516.8,276.2 516.9,276.2 517.1,276.2 517.2,276.2 517.3,276.2 517.4,276.2 517.5,276.2 517.6,276.2 517.7,276.2 517.9,276.2 518.0,276.2 518.1,276.2 518.2,276.2 518.3,276.2 518.4,276.2 518.6,276.2 518.7,276.2 518.8,276.2 518.9,276.2 519.0,276.2 519.1,276.2 519.2,276.2 519.4,276.2 519.5,276.2 519.6,276.2 519.7,276.2 519.8,276.2 519.9,276.2 520.1,276.2 520.2,276.2 520.3,276.2 520.4,276.2 520.5,276.2 520.6,276.2 520.7,276.2 520.9,276.2 521.0,276.2 521.1,276.2 521.2,276.2 521.3,276.2 521.4,276.2 521.6,276.2 521.7,276.2 521.8,276.2 521.9,276.2 522.0,276.2 522.1,276.2 522.2,276.2 522.4,276.2 522.5,276.2 522.6,276.2 522.7,276.2 522.8,276.2 522.9,276.2 523.1,276.2 523.2,276.2 523.3,276.2 523.4,276.2 523.5,276.2 523.6,276.2 523.8,276.2 523.9,276.2 524.0,276.2 524.1,276.2 524.2,276.2 524.3,276.2 524.4,276.2 524.6,276.2 524.7,276.2 524.8,276.2 524.9,276.2 525.0,276.2 525.1,276.2 525.3,276.2 525.4,276.2 525.5,276.2 525.6,276.2 525.7,276.2 525.8,276.2 525.9,276.2 526.1,276.2 526.2,276.2 526.3,276.2 526.4,276.2 526.5,276.2 526.6,276.2 526.8,276.2 526.9,276.2 527.0,276.2 527.1,276.2 527.2,276.2 527.3,276.2 527.4,276.2 527.6,276.2 527.7,276.2 527.8,276.2 527.9,276.2 528.0,276.2 528.1,276.2 528.3,276.2 528.4,276.2 528.5,276.2 528.6,276.2 528.7,276.2 528.8,276.2 528.9,276.2 529.1,276.2 529.2,276.2 529.3,276.2 529.4,276.2 529.5,276.2 529.6,276.2 529.8,276.2 529.9,276.2 530.0,276.2 530.1,276.2 530.2,276.2 530.3,276.2 530.4,276.2 530.6,276.2 530.7,276.2 530.8,276.2 530.9,276.2 531.0,276.2 531.1,276.2 531.3,276.2 531.4,276.2 531.5,276.2 531.6,276.2 531.7,276.2 531.8,276.2 531.9,276.2 532.1,276.2 532.2,276.2 532.3,276.2 532.4,276.2 532.5,276.2 532.6,276.2 532.8,276.2 532.9,276.2 533.0,276.2 533.1,276.2 533.2,276.2 533.3,276.2 533.5,276.2 533.6,276.2 533.7,276.2 533.8,276.2 533.9,276.2 534.0,276.2 534.1,276.2 534.3,276.2 534.4,276.2 534.5,276.2 534.6,276.2 534.7,276.2 534.8,276.2 535.0,276.2 535.1,276.2 535.2,276.2 535.3,276.2 535.4,276.2 535.5,276.2 535.6,276.2 535.8,276.2 535.9,276.2 536.0,276.2 536.1,276.2 536.2,276.2 536.3,276.2 536.5,276.2 536.6,276.2 536.7,276.2 536.8,276.2 536.9,276.2 537.0,276.2 537.1,276.2 537.3,276.2 537.4,276.2 537.5,276.2 537.6,276.2 537.7,276.2 537.8,276.2 538.0,276.2 538.1,276.2 538.2,276.2 538.3,276.2 538.4,276.2 538.5,276.2 538.6,276.2 538.8,276.2 538.9,276.2 539.0,276.2 539.1,276.2 539.2,276.2 539.3,462.2 539.2,462.2 539.1,462.2 538.9,462.2 538.8,462.2 538.7,462.2 538.6,462.2 538.5,462.2 538.4,462.2 538.2,462.2 538.1,462.2 538.0,462.2 537.9,462.2 537.8,462.2 537.7,462.2 537.5,462.2 537.4,462.2 537.3,462.2 537.2,462.2 537.1,462.2 537.0,462.2 536.9,462.2 536.7,462.2 536.6,462.2 536.5,462.2 536.4,462.2 536.3,462.2 536.2,462.2 536.0,462.2 535.9,462.2 535.8,462.2 535.7,462.2 535.6,462.2 535.5,462.2 535.4,462.2 535.2,462.2 535.1,462.2 535.0,462.2 534.9,462.2 534.8,462.2 534.7,462.2 534.5,462.2 534.4,462.2 534.3,462.2 534.2,462.2 534.1,462.2 534.0,462.2 533.9,462.2 533.7,462.2 533.6,462.2 533.5,462.2 533.4,462.2 533.3,462.2 533.2,462.2 533.0,462.2 532.9,462.2 532.8,462.2 532.7,462.2 532.6,462.2 532.5,462.2 532.4,462.2 532.2,462.2 532.1,462.2 532.0,462.2 531.9,462.2 531.8,462.2 531.7,462.2 531.5,462.2 531.4,462.2 531.3,462.2 531.2,462.2 531.1,462.2 531.0,462.2 530.9,462.2 530.7,462.2 530.6,462.2 530.5,462.2 530.4,462.2 530.3,462.2 530.2,462.2 530.0,462.2 529.9,462.2 529.8,462.2 529.7,462.2 529.6,462.2 529.5,462.2 529.4,462.2 529.2,462.2 529.1,462.2 529.0,462.2 528.9,462.2 528.8,462.2 528.7,462.2 528.5,462.2 528.4,462.2 528.3,462.2 528.2,462.2 528.1,462.2 528.0,462.2 527.8,462.2 527.7,462.2 527.6,462.2 527.5,462.2 527.4,462.2 527.3,462.2 527.2,462.2 527.0,462.2 526.9,462.2 526.8,462.2 526.7,462.2 526.6,462.2 526.5,462.2 526.3,462.2 526.2,462.2 526.1,462.2 526.0,462.2 525.9,462.2 525.8,462.2 525.7,462.2 525.5,462.2 525.4,462.2 525.3,462.2 525.2,462.2 525.1,462.2 525.0,462.2 524.8,462.2 524.7,462.2 524.6,462.2 524.5,462.2 524.4,462.2 524.3,462.2 524.2,462.2 524.0,462.2 523.9,462.2 523.8,462.2 523.7,462.2 523.6,462.2 523.5,462.2 523.3,462.2 523.2,462.2 523.1,462.2 523.0,462.2 522.9,462.2 522.8,462.2 522.7,462.2 522.5,462.2 522.4,462.2 522.3,462.2 522.2,462.2 522.1,462.2 522.0,462.2 521.8,462.2 521.7,462.2 521.6,462.2 521.5,462.2 521.4,462.2 521.3,462.2 521.2,462.2 521.0,462.2 520.9,462.2 520.8,462.2 520.7,462.2 520.6,462.2 520.5,462.2 520.3,462.2 520.2,462.2 520.1,462.2 520.0,462.2 519.9,462.2 519.8,462.2 519.7,462.2 519.5,462.2 519.4,462.2 519.3,462.2 519.2,462.2 519.1,462.2 519.0,462.2 518.8,462.2 518.7,462.2 518.6,462.2 518.5,462.2 518.4,462.2 518.3,462.2 518.1,462.2 518.0,462.2 517.9,462.2 517.8,462.2 517.7,462.2 517.6,462.2 517.5,462.2 517.3,462.2 517.2,462.2 517.1,462.2 517.0,462.2 516.9,462.2 516.8,462.2 516.6,462.2 516.5,462.2 516.4,462.2 516.3,462.2 516.2,462.2 516.1,462.2 516.0,462.2 515.8,462.2 515.7,462.2 515.6,462.2 515.5,462.2 515.4,462.2 515.3,462.2 515.1,462.2 515.0,462.2 514.9,462.2 514.8,462.2 514.7,462.2 514.6,462.2 514.5,462.2 514.3,462.2 514.2,462.2 514.1,462.2 514.0,462.2 513.9,462.2 513.8,462.2 513.6,462.2 513.5,462.2 513.4,462.2 513.3,462.2 513.2,462.2 513.1,462.2 513.0,462.2 512.8,462.2 512.7,462.2 512.6,462.2 512.5,462.2 512.4,462.2 512.3,462.2 512.1,462.2 512.0,462.2 511.9,462.2 511.8,462.2 511.7,462.2 511.6,462.2 511.5,462.2 511.3,462.2 511.2,462.2 511.1,462.2 511.0,462.2 510.9,462.2 510.8,462.2 510.6,462.2 510.5,462.2 510.4,462.2 510.3,462.2 510.2,462.2 510.1,462.2 510.0,462.2 509.8,462.2 509.7,462.2 509.6,462.2 509.5,462.2 509.4,462.2 509.3,462.2 509.1,462.2 509.0,462.2 508.9,462.2 508.8,462.2 508.7,462.2 508.6,462.2 508.4,462.2 508.3,462.2 508.2,462.2 508.1,462.2 508.0,462.2 507.9,462.2 507.8,462.2 507.6,462.2 507.5,462.2 507.4,462.2 507.3,462.2 507.2,462.2 507.1,462.2 506.9,462.2 506.8,462.2 506.7,462.2 506.6,462.2 506.5,462.2 506.4,462.2 506.3,462.2 506.1,462.2 506.0,462.2 505.9,462.2 505.8,462.2 505.7,462.2 505.6,462.2 505.4,462.2 505.3,462.2 505.2,462.2 505.1,462.2 505.0,462.2 504.9,462.2 504.8,462.2 504.6,462.2 504.5,462.2 504.4,462.2 504.3,462.2 504.2,462.2 504.1,462.2 503.9,462.2 503.8,462.2 503.7,462.2 503.6,462.2 503.5,462.2 503.4,462.2 503.3,462.2 503.1,462.2 503.0,462.2 502.9,462.2 502.8,462.2 502.7,462.2 502.6,462.2 502.4,462.2 502.3,462.2 502.2,462.2 502.1,462.2 502.0,462.2 501.9,462.2 501.8,462.2 501.6,462.2 501.5,462.2 501.4,462.2 501.3,462.2 501.2,462.2 501.1,462.2 500.9,462.2 500.8,462.2 500.7,462.2 500.6,462.2 500.5,462.2 500.4,462.2 500.2,462.2 500.1,462.2 500.0,462.2 499.9,462.2 499.8,462.2 499.7,462.2 499.6,462.2 499.4,462.2 499.3,462.2 499.2,462.2 499.1,462.2 499.0,462.2 498.9,462.2 498.7,462.2 498.6,462.2 498.5,462.2 498.4,462.2 498.3,462.2 498.2,462.2 498.1,462.2 497.9,462.2 497.8,462.2 497.7,462.2 497.6,462.2 497.5,462.2 497.4,462.2 497.2,462.2 497.1,462.2 497.0,462.2 496.9,462.2 496.8,462.2 496.7,462.2 496.6,462.2 496.4,462.2 496.3,462.2 496.2,462.2 496.1,462.2 496.0,462.2 495.9,462.2 495.7,462.2 495.6,462.2 495.5,462.2 495.4,462.2 495.3,462.2 495.2,462.2 495.1,462.2 494.9,462.2 494.8,462.2 494.7,462.2 494.6,462.2 494.5,462.2 494.4,462.2 494.2,462.2 494.1,462.2 494.0,462.2 493.9,462.2 493.8,462.2 493.7,462.2 493.6,462.2 493.4,462.2 493.3,462.2 493.2,462.2 493.1,462.2 493.0,462.2 492.9,462.2 492.7,462.2 492.6,462.2 492.5,462.2 492.4,462.2 492.3,462.2 492.2,462.2 492.1,462.2 491.9,462.2 491.8,462.2 491.7,462.2 491.6,462.2 491.5,462.2 491.4,462.2 491.2,462.2 491.1,462.2 491.0,462.2 490.9,462.2 490.8,462.2 490.7,462.2 490.5,462.2 490.4,462.2 490.3,462.2 490.2,462.2 490.1,462.2 490.0,462.2 489.9,462.2 489.7,462.2 489.6,462.2 489.5,462.2 489.4,462.2 489.3,462.2 489.2,462.2 489.0,462.2 488.9,462.2 488.8,462.2 488.7,462.2 488.6,462.2 488.5,462.2 488.4,462.2 488.2,462.2 488.1,462.2 488.0,462.2 487.9,462.2 487.8,462.2 487.7,462.2 487.5,462.2 487.4,462.2 487.3,462.2 487.2,462.2 487.1,462.2 487.0,462.2 486.9,462.2 486.7,462.2 486.6,462.2 486.5,462.2 486.4,462.2 486.3,462.2 486.2,462.2 486.0,462.2 485.9,462.2 485.8,462.2 485.7,462.2 485.6,462.2 485.5,462.2 485.4,462.2 485.2,462.2 485.1,462.2 485.0,462.2 484.9,462.2 484.8,462.2 484.7,462.2 484.5,462.2 484.4,462.2 484.3,462.2 484.2,462.2 484.1,462.2 484.0,462.2 483.9,462.2 483.7,462.2 483.6,462.2 483.5,462.2 483.4,462.2 483.3,462.2 483.2,462.2 483.0,462.2 482.9,462.2 482.8,462.2 482.7,462.2 482.6,462.2 482.5,462.2 482.4,462.2 482.2,462.2 482.1,462.2 482.0,462.2 481.9,462.2 481.8,462.2 481.7,462.2 481.5,462.2 481.4,462.2 481.3,462.2 481.2,462.2 481.1,462.2 481.0,462.2 480.8,462.2 480.7,462.2 480.6,462.2 480.5,462.2 480.4,462.2 480.3,462.2 480.2,462.2 480.0,462.2 479.9,462.2 479.8,462.2 479.7,462.2 479.6,462.2 479.5,462.2 479.3,462.2 479.2,462.2 479.1,462.2 479.0,462.2 478.9,462.2 478.8,462.2 478.7,462.2 478.5,462.2 478.4,462.2 478.3,462.2 478.2,462.2 478.1,462.2 478.0,462.2 477.8,462.2 477.7,462.2 477.6,462.2 477.5,462.2 477.4,462.2 477.3,462.2 477.2,462.2 477.0,462.2 476.9,462.2 476.8,462.2 476.7,462.2 476.6,462.2 476.5,462.2 476.3,462.2 476.2,462.2 476.1,462.2 476.0,462.2 475.9,462.2 475.8,462.2 475.7,462.2 475.5,462.2 475.4,462.2 475.3,462.2 475.2,462.2 475.1,462.2 475.0,462.2 474.8,462.2 474.7,462.2 474.6,462.2 474.5,462.2 474.4,462.2 474.3,462.2 474.2,462.2 474.0,462.2 473.9,462.2 473.8,462.2 473.7,462.2 473.6,462.2 473.5,462.2 473.3,462.2 473.2,462.2 473.1,462.2 473.0,462.2 472.9,462.2 472.8,462.2 472.7,462.2 472.5,462.2 472.4,462.2 472.3,462.2 472.2,462.2 472.1,462.2 472.0,462.2 471.8,462.2 471.7,462.2 471.6,462.2 471.5,462.2 471.4,462.2 471.3,462.2 471.1,462.2 471.0,462.2 470.9,462.2 470.8,462.2 470.7,462.2 470.6,462.2 470.5,462.2 470.3,462.2 470.2,462.2 470.1,462.2 470.0,462.2 469.9,462.2 469.8,462.2 469.6,462.2 469.5,462.2 469.4,462.2 469.3,462.2 469.2,462.2 469.1,462.2 469.0,462.2 468.8,462.2 468.7,462.2 468.6,462.2 468.5,462.2 468.4,462.2 468.3,462.2 468.1,462.2 468.0,462.2 467.9,462.2 467.8,462.2 467.7,462.2 467.6,462.2 467.5,462.2 467.3,462.2 467.2,462.2 467.1,462.2 467.0,462.2 466.9,462.2 466.8,462.2 466.6,462.2 466.5,462.2 466.4,462.2 466.3,462.2 466.2,462.2 466.1,462.2 466.0,462.2 465.8,462.2 465.7,462.2 465.6,462.2 465.5,462.2 465.4,462.2 465.3,462.2 465.1,462.2 465.0,462.2 464.9,462.2 464.8,462.2 464.7,462.2 464.6,462.2 464.5,462.2 464.3,462.2 464.2,462.2 464.1,462.2 464.0,462.2 463.9,462.2 463.8,462.2 463.6,462.2 463.5,462.2 463.4,462.2 463.3,462.2 463.2,462.2 463.1,462.2 462.9,462.2 462.8,462.2 462.7,462.2 462.6,462.2 462.5,462.2 462.4,462.2 462.3,462.2 462.1,462.2 462.0,462.2 461.9,462.2 461.8,462.2 461.7,462.2 461.6,462.2 461.4,462.2 461.3,462.2 461.2,462.2 461.1,462.2 461.0,462.2 460.9,462.2 460.8,462.2 460.6,462.2 460.5,462.2 460.4,462.2 460.3,462.2 460.2,462.2 460.1,462.2 459.9,462.2 459.8,462.2 459.7,462.2 459.6,462.2 459.5,462.2 459.4,462.2 459.3,462.2 459.1,462.2 459.0,462.2 458.9,462.2 458.8,462.2 458.7,462.2 458.6,462.2 458.4,462.2 458.3,462.2 458.2,462.2 458.1,462.2 458.0,462.2 457.9,462.2 457.8,462.2 457.6,462.2 457.5,462.2 457.4,462.2 457.3,462.2 457.2,462.2 457.1,462.2 456.9,462.2 456.8,462.2 456.7,462.2 456.6,462.2 456.5,462.2 456.4,462.2 456.3,462.2 456.1,462.2 456.0,462.2 455.9,462.2 455.8,462.2 455.7,462.2 455.6,462.2 455.4,462.2 455.3,462.2 455.2,462.2 455.1,462.2 455.0,462.2 454.9,462.2 454.8,462.2 454.6,462.2 454.5,462.2 454.4,462.2 454.3,462.2 454.2,462.2 454.1,462.2 453.9,462.2 453.8,462.2 453.7,462.2 453.6,462.2 453.5,462.2 453.4,462.2 453.2,462.2 453.1,462.2 453.0,462.2 452.9,462.2 452.8,462.2 452.7,462.2 452.6,462.2 452.4,462.2 452.3,462.2 452.2,462.2 452.1,462.2 452.0,462.2 451.9,462.2 451.7,462.2 451.6,462.2 451.5,462.2 451.4,462.2 451.3,462.2 451.2,462.2 451.1,462.2 450.9,462.2 450.8,462.2 450.7,462.2 450.6,462.2 450.5,462.2 450.4,462.2 450.2,462.2 450.1,462.2 450.0,462.2 449.9,462.2 449.8,462.2 449.7,462.2 449.6,462.2 449.4,462.2 449.3,462.2 449.2,462.2 449.1,462.2 449.0,462.2 448.9,462.2 448.7,462.2 448.6,462.2 448.5,462.2 448.4,462.2 448.3,462.2 448.2,462.2 448.1,462.2 447.9,462.2 447.8,462.2 447.7,462.2 447.6,462.2 447.5,462.2 447.4,462.2 447.2,462.2 447.1,462.2 447.0,462.2 446.9,462.2 446.8,462.2 446.7,462.2 446.6,462.2 446.4,462.2 446.3,462.2 446.2,462.2 446.1,462.2 446.0,462.2 445.9,462.2 445.7,462.2 445.6,462.2 445.5,462.2 445.4,462.2 445.3,462.2 445.2,462.2 445.1,462.2 444.9,462.2 444.8,462.2 444.7,462.2 444.6,462.2 444.5,462.2 444.4,462.2 444.2,462.2 444.1,462.2 444.0,462.2 443.9,462.2 443.8,462.2 443.7,462.2 443.5,462.2 443.4,462.2 443.3,462.2 443.2,462.2 443.1,462.2 443.0,462.2 442.9,462.2 442.7,462.2 442.6,462.2 442.5,462.2 442.4,462.2 442.3,462.2 442.2,462.2 442.0,462.2 441.9,462.2 441.8,462.2 441.7,462.2 441.6,462.2 441.5,462.2 441.4,462.2 441.2,462.2 441.1,462.2 441.0,462.2 440.9,462.2 440.8,462.2 440.7,462.2 440.5,462.2 440.4,462.2 440.3,462.2 440.2,462.2 440.1,462.2 440.0,462.2 439.9,462.2 439.7,462.2 439.6,462.2 439.5,462.2 439.4,462.2 439.3,462.2 439.2,462.2 439.0,462.2 438.9,462.2 438.8,462.2 438.7,462.2 438.6,462.2 438.5,462.2 438.4,462.2 438.2,462.2 438.1,462.2 438.0,462.2 437.9,462.2 437.8,462.2 437.7,462.2 437.5,462.2 437.4,462.2 437.3,462.2 437.2,462.2 437.1,462.2 437.0,462.2 436.9,462.2 436.7,462.2 436.6,462.2 436.5,462.2 436.4,462.2 436.3,462.2 436.2,462.2 436.0,462.2 435.9,462.2 435.8,462.2 435.7,462.2 435.6,462.2 435.5,462.2 435.4,462.2 435.2,462.2 435.1,462.2 435.0,462.2 434.9,462.2 434.8,462.2 434.7,462.2 434.5,462.2 434.4,462.2 434.3,462.2 434.2,462.2 434.1,462.2 434.0,462.2 433.8,462.2 433.7,462.2 433.6,462.2 433.5,462.2 433.4,462.2 433.3,462.2 433.2,462.2 433.0,462.2 432.9,462.2 432.8,462.2 432.7,462.2 432.6,462.2 432.5,462.2 432.3,462.2 432.2,462.2 432.1,462.2 432.0,462.2 431.9,462.2 431.8,462.2 431.7,462.2 431.5,462.2 431.4,462.2 431.3,462.2 431.2,462.2 431.1,462.2 431.0,462.2 430.8,462.2 430.7,462.2 430.6,462.2 430.5,462.2 430.4,462.2 430.3,462.2 430.2,462.2 430.0,462.2 429.9,462.2 429.8,462.2 429.7,462.2 429.6,462.2 429.5,462.2 429.3,462.2 429.2,462.2 429.1,462.2 429.0,462.2 428.9,462.2 428.8,462.2 428.7,462.2 428.5,462.2 428.4,462.2 428.3,462.2 428.2,462.2 428.1,462.2 428.0,462.2 427.8,462.2 427.7,462.2 427.6,462.2 427.5,462.2 427.4,462.2 427.3,462.2 427.2,462.2 427.0,462.2 426.9,462.2 426.8,462.2 426.7,462.2 426.6,462.2 426.5,462.2 426.3,462.2 426.2,462.2 426.1,462.2 426.0,462.2 425.9,462.2 425.8,462.2 425.6,462.2 425.5,462.2 425.4,462.2 425.3,462.2 425.2,462.2 425.1,462.2 425.0,462.2 424.8,462.2 424.7,462.2 424.6,462.2 424.5,462.2 424.4,462.2 424.3,462.2 424.1,462.2 424.0,462.2 423.9,462.2 423.8,462.2 423.7,462.2 423.6,462.2 423.5,462.2 423.3,462.2 423.2,462.2 423.1,462.2 423.0,462.2 422.9,462.2 422.8,462.2 422.6,462.2 422.5,462.2 422.4,462.2 422.3,462.2 422.2,462.2 422.1,462.2 422.0,462.2 421.8,462.2 421.7,462.2 421.6,462.2 421.5,462.2 421.4,462.2 421.3,462.2 421.1,462.2 421.0,462.2 420.9,462.2 420.8,462.2 420.7,462.2 420.6,462.2 420.5,462.2 420.3,462.2 420.2,462.2 420.1,462.2 420.0,462.2 419.9,462.2 419.8,462.2 419.6,462.2 419.5,462.2 419.4,460.7 419.3,459.6 419.2,459.4 419.1,459.3 419.0,459.1 418.8,459.0 418.7,458.8 418.6,458.7 418.5,458.5 418.4,458.4 418.3,458.2 418.1,459.2 418.0,460.3 417.9,461.3 417.8,462.2 417.7,462.2 417.6,462.2 417.5,462.2 417.3,460.7 417.2,459.1 417.1,457.6 417.0,456.1 416.9,455.5 416.8,455.2 416.6,454.9 416.5,454.6 416.4,454.3 416.3,454.0 416.2,453.6 416.1,453.3 415.9,452.9 415.8,453.0 415.7,453.8 415.6,454.7 415.5,455.5 415.4,456.4 415.3,457.2 415.1,456.1 415.0,454.5 414.9,453.0 414.8,451.5 414.7,450.0 414.6,449.0 414.4,448.7 414.3,448.5 414.2,448.3 414.1,448.1 414.0,447.9 413.9,447.7 413.8,447.5 413.6,447.4 413.5,447.2 413.4,448.0 413.3,449.0 413.2,450.0 413.1,451.0 412.9,452.0 412.8,452.2 412.7,451.0 412.6,449.7 412.5,448.4 412.4,447.1 412.3,445.8 412.1,445.4 412.0,445.2 411.9,445.0 411.8,444.8 411.7,444.6 411.6,444.3 411.4,444.1 411.3,443.8 411.2,443.6 411.1,443.7 411.0,444.5 410.9,445.3 410.8,446.1 410.6,446.8 410.5,447.6 410.4,446.6 410.3,445.2 410.2,443.9 410.1,442.5 409.9,441.2 409.8,440.2 409.7,439.9 409.6,439.7 409.5,439.4 409.4,439.2 409.3,439.0 409.1,438.8 409.0,438.6 408.9,438.4 408.8,438.2 408.7,439.0 408.6,439.8 408.4,440.7 408.3,441.6 408.2,442.5 408.1,442.7 408.0,441.6 407.9,440.6 407.8,439.5 407.6,438.4 407.5,437.3 407.4,437.0 407.3,437.0 407.2,436.9 407.1,436.8 406.9,436.7 406.8,436.6 406.7,436.5 406.6,436.4 406.5,436.3 406.4,436.5 406.2,437.3 406.1,438.1 406.0,438.9 405.9,439.7 405.8,440.5 405.7,439.6 405.6,438.4 405.4,437.2 405.3,436.0 405.2,434.8 405.1,433.9 405.0,433.6 404.9,433.3 404.7,433.1 404.6,432.8 404.5,432.5 404.4,432.3 404.3,432.1 404.2,431.8 404.1,431.6 403.9,432.2 403.8,432.8 403.7,433.5 403.6,434.2 403.5,434.9 403.4,435.0 403.2,433.9 403.1,432.9 403.0,431.8 402.9,430.8 402.8,429.7 402.7,429.4 402.6,429.3 402.4,429.1 402.3,429.0 402.2,428.9 402.1,428.7 402.0,428.6 401.9,428.5 401.7,428.4 401.6,428.5 401.5,429.3 401.4,430.0 401.3,430.7 401.2,431.4 401.1,432.1 400.9,431.3 400.8,430.3 400.7,429.2 400.6,428.2 400.5,427.1 400.4,426.3 400.2,426.1 400.1,425.8 400.0,425.6 399.9,425.3 399.8,425.1 399.7,424.8 399.6,424.5 399.4,424.2 399.3,424.0 399.2,424.4 399.1,424.9 399.0,425.4 398.9,425.9 398.7,426.4 398.6,426.4 398.5,425.4 398.4,424.5 398.3,423.5 398.2,422.5 398.1,421.6 397.9,421.3 397.8,421.2 397.7,421.0 397.6,420.9 397.5,420.8 397.4,420.7 397.2,420.6 397.1,420.5 397.0,420.4 396.9,420.6 396.8,421.3 396.7,422.0 396.5,422.7 396.4,423.4 396.3,424.1 396.2,423.6 396.1,422.8 396.0,422.0 395.9,421.2 395.7,420.4 395.6,419.8 395.5,419.8 395.4,419.7 395.3,419.6 395.2,419.6 395.0,419.5 394.9,419.4 394.8,419.3 394.7,419.2 394.6,419.1 394.5,419.6 394.4,420.2 394.2,420.8 394.1,421.3 394.0,421.9 393.9,422.0 393.8,421.1 393.7,420.3 393.5,419.4 393.4,418.5 393.3,417.7 393.2,417.4 393.1,417.2 393.0,417.1 392.9,416.9 392.7,416.8 392.6,416.7 392.5,416.6 392.4,416.5 392.3,416.4 392.2,416.5 392.0,417.1 391.9,417.7 391.8,418.3 391.7,418.9 391.6,419.5 391.5,419.0 391.4,418.3 391.2,417.6 391.1,417.0 391.0,416.3 390.9,415.9 390.8,415.9 390.7,415.9 390.5,415.9 390.4,415.9 390.3,415.9 390.2,416.0 390.1,416.0 390.0,416.0 389.9,415.9 389.7,416.5 389.6,417.2 389.5,417.8 389.4,418.4 389.3,419.1 389.2,419.2 389.0,418.5 388.9,417.7 388.8,416.9 388.7,416.2 388.6,415.4 388.5,415.1 388.3,415.0 388.2,414.9 388.1,414.8 388.0,414.6 387.9,414.5 387.8,414.4 387.7,414.2 387.5,414.1 387.4,414.2 387.3,414.8 387.2,415.3 387.1,415.8 387.0,416.4 386.8,416.9 386.7,416.4 386.6,415.6 386.5,414.9 386.4,414.2 386.3,413.5 386.2,413.0 386.0,412.9 385.9,412.9 385.8,412.9 385.7,412.8 385.6,412.8 385.5,412.8 385.3,412.8 385.2,412.7 385.1,412.7 385.0,413.3 384.9,413.9 384.8,414.5 384.7,415.1 384.5,415.8 384.4,416.0 384.3,415.3 384.2,414.6 384.1,414.0 384.0,413.3 383.8,412.6 383.7,412.4 383.6,412.4 383.5,412.3 383.4,412.2 383.3,412.2 383.2,412.1 383.0,412.0 382.9,411.9 382.8,411.8 382.7,412.0 382.6,412.5 382.5,413.0 382.3,413.5 382.2,414.0 382.1,414.6 382.0,414.1 381.9,413.4 381.8,412.7 381.7,412.0 381.5,411.3 381.4,410.8 381.3,410.8 381.2,410.7 381.1,410.7 381.0,410.7 380.8,410.6 380.7,410.6 380.6,410.6 380.5,410.6 380.4,410.6 380.3,411.1 380.2,411.8 380.0,412.4 379.9,413.0 379.8,413.7 379.7,413.9 379.6,413.3 379.5,412.8 379.3,412.2 379.2,411.6 379.1,411.0 379.0,410.9 378.9,410.9 378.8,411.0 378.6,411.0 378.5,411.0 378.4,411.0 378.3,411.0 378.2,410.9 378.1,410.9 378.0,411.1 377.8,411.6 377.7,412.2 377.6,412.8 377.5,413.3 377.4,413.8 377.3,413.3 377.1,412.6 377.0,412.0 376.9,411.3 376.8,410.6 376.7,410.0 376.6,409.9 376.5,409.8 376.3,409.8 376.2,409.7 376.1,409.6 376.0,409.5 375.9,409.4 375.8,409.3 375.6,409.2 375.5,409.7 375.4,410.2 375.3,410.7 375.2,411.3 375.1,411.8 375.0,412.0 374.8,411.4 374.7,410.8 374.6,410.2 374.5,409.6 374.4,409.0 374.3,408.9 374.1,408.9 374.0,408.9 373.9,408.9 373.8,408.9 373.7,408.9 373.6,408.9 373.5,408.9 373.3,408.9 373.2,409.1 373.1,409.6 373.0,410.2 372.9,410.7 372.8,411.3 372.6,411.8 372.5,411.4 372.4,410.7 372.3,410.1 372.2,409.5 372.1,408.8 372.0,408.3 371.8,408.2 371.7,408.1 371.6,408.1 371.5,408.0 371.4,407.9 371.3,407.8 371.1,407.7 371.0,407.6 370.9,407.5 370.8,407.9 370.7,408.4 370.6,408.8 370.5,409.3 370.3,409.8 370.2,409.9 370.1,409.3 370.0,408.7 369.9,408.1 369.8,407.5 369.6,406.9 369.5,406.8 369.4,406.8 369.3,406.8 369.2,406.8 369.1,406.8 368.9,406.8 368.8,406.8 368.7,406.8 368.6,406.9 368.5,407.1 368.4,407.7 368.3,408.3 368.1,408.9 368.0,409.4 367.9,410.0 367.8,409.7 367.7,409.2 367.6,408.7 367.4,408.1 367.3,407.6 367.2,407.2 367.1,407.2 367.0,407.2 366.9,407.2 366.8,407.2 366.6,407.2 366.5,407.2 366.4,407.1 366.3,407.1 366.2,407.1 366.1,407.5 365.9,408.0 365.8,408.5 365.7,409.0 365.6,409.5 365.5,409.6 365.4,409.0 365.3,408.4 365.1,407.8 365.0,407.2 364.9,406.6 364.8,406.5 364.7,406.4 364.6,406.4 364.4,406.4 364.3,406.3 364.2,406.3 364.1,406.3 364.0,406.3 363.9,406.3 363.8,406.5 363.6,407.0 363.5,407.6 363.4,408.1 363.3,408.7 363.2,409.3 363.1,408.9 362.9,408.4 362.8,407.9 362.7,407.3 362.6,406.8 362.5,406.5 362.4,406.5 362.3,406.5 362.1,406.5 362.0,406.6 361.9,406.6 361.8,406.6 361.7,406.6 361.6,406.6 361.4,406.6 361.3,407.0 361.2,407.5 361.1,408.1 361.0,408.6 360.9,409.0 360.8,409.2 360.6,408.6 360.5,408.0 360.4,407.4 360.3,406.7 360.2,406.1 360.1,405.9 359.9,405.8 359.8,405.8 359.7,405.7 359.6,405.6 359.5,405.5 359.4,405.5 359.2,405.4 359.1,405.3 359.0,405.5 358.9,405.9 358.8,406.4 358.7,406.9 358.6,407.4 358.4,407.9 358.3,407.5 358.2,407.0 358.1,406.4 358.0,405.9 357.9,405.4 357.7,405.0 357.6,405.0 357.5,405.0 357.4,405.0 357.3,405.1 357.2,405.1 357.1,405.1 356.9,405.1 356.8,405.2 356.7,405.2 356.6,405.7 356.5,406.2 356.4,406.8 356.2,407.3 356.1,407.8 356.0,408.0 355.9,407.5 355.8,407.0 355.7,406.4 355.6,405.9 355.4,405.4 355.3,405.2 355.2,405.2 355.1,405.2 355.0,405.1 354.9,405.1 354.7,405.1 354.6,405.0 354.5,405.0 354.4,404.9 354.3,405.1 354.2,405.6 354.1,406.1 353.9,406.5 353.8,407.0 353.7,407.5 353.6,407.2 353.5,406.6 353.4,406.1 353.2,405.6 353.1,405.0 353.0,404.7 352.9,404.7 352.8,404.7 352.7,404.7 352.6,404.7 352.4,404.8 352.3,404.8 352.2,404.9 352.1,404.9 352.0,405.0 351.9,405.5 351.7,406.0 351.6,406.6 351.5,407.2 351.4,407.8 351.3,408.1 351.2,407.6 351.0,407.1 350.9,406.6 350.8,406.1 350.7,405.6 350.6,405.6 350.5,405.6 350.4,405.6 350.2,405.6 350.1,405.6 350.0,405.6 349.9,405.6 349.8,405.6 349.7,405.6 349.5,405.7 349.4,406.2 349.3,406.7 349.2,407.2 349.1,407.7 349.0,408.1 348.9,407.7 348.7,407.1 348.6,406.6 348.5,406.0 348.4,405.4 348.3,405.0 348.2,404.9 348.0,404.8 347.9,404.8 347.8,404.7 347.7,404.7 347.6,404.7 347.5,404.6 347.4,404.6 347.2,404.6 347.1,405.0 347.0,405.5 346.9,406.0 346.8,406.5 346.7,407.0 346.5,407.2 346.4,406.7 346.3,406.2 346.2,405.7 346.1,405.2 346.0,404.7 345.9,404.6 345.7,404.6 345.6,404.7 345.5,404.7 345.4,404.7 345.3,404.7 345.2,404.7 345.0,404.7 344.9,404.7 344.8,404.9 344.7,405.4 344.6,405.9 344.5,406.4 344.4,406.9 344.2,407.4 344.1,407.0 344.0,406.5 343.9,405.9 343.8,405.3 343.7,404.8 343.5,404.4 343.4,404.3 343.3,404.2 343.2,404.2 343.1,404.1 343.0,404.1 342.9,404.0 342.7,404.0 342.6,403.9 342.5,403.9 342.4,404.3 342.3,404.8 342.2,405.3 342.0,405.7 341.9,406.2 341.8,406.4 341.7,405.9 341.6,405.4 341.5,404.9 341.3,404.4 341.2,404.0 341.1,403.9 341.0,403.9 340.9,404.0 340.8,404.0 340.7,404.1 340.5,404.1 340.4,404.2 340.3,404.3 340.2,404.3 340.1,404.6 340.0,405.2 339.8,405.7 339.7,406.3 339.6,406.9 339.5,407.5 339.4,407.2 339.3,406.7 339.2,406.2 339.0,405.7 338.9,405.2 338.8,404.9 338.7,404.9 338.6,404.9 338.5,404.9 338.3,404.9 338.2,404.9 338.1,404.9 338.0,404.9 337.9,404.8 337.8,404.8 337.7,405.2 337.5,405.7 337.4,406.2 337.3,406.7 337.2,407.2 337.1,407.4 337.0,406.8 336.8,406.3 336.7,405.7 336.6,405.2 336.5,404.7 336.4,404.6 336.3,404.6 336.2,404.6 336.0,404.6 335.9,404.6 335.8,404.6 335.7,404.6 335.6,404.6 335.5,404.7 335.3,404.9 335.2,405.4 335.1,406.0 335.0,406.6 334.9,407.1 334.8,407.7 334.7,407.4 334.5,406.9 334.4,406.4 334.3,405.9 334.2,405.4 334.1,405.1 334.0,405.1 333.8,405.1 333.7,405.1 333.6,405.1 333.5,405.1 333.4,405.1 333.3,405.1 333.2,405.1 333.0,405.0 332.9,405.4 332.8,405.9 332.7,406.4 332.6,406.9 332.5,407.3 332.3,407.4 332.2,406.8 332.1,406.3 332.0,405.7 331.9,405.1 331.8,404.5 331.6,404.3 331.5,404.2 331.4,404.2 331.3,404.1 331.2,404.1 331.1,404.0 331.0,404.0 330.8,403.9 330.7,403.9 330.6,404.1 330.5,404.5 330.4,405.0 330.3,405.5 330.1,406.1 330.0,406.6 329.9,406.2 329.8,405.8 329.7,405.3 329.6,404.8 329.5,404.3 329.3,404.0 329.2,404.0 329.1,404.1 329.0,404.1 328.9,404.2 328.8,404.2 328.6,404.2 328.5,404.3 328.4,404.3 328.3,404.3 328.2,404.8 328.1,405.4 328.0,405.9 327.8,406.4 327.7,407.0 327.6,407.1 327.5,406.6 327.4,406.1 327.3,405.6 327.1,405.1 327.0,404.5 326.9,404.4 326.8,404.4 326.7,404.4 326.6,404.3 326.5,404.3 326.3,404.3 326.2,404.3 326.1,404.2 326.0,404.2 325.9,404.4 325.8,404.9 325.6,405.4 325.5,405.9 325.4,406.4 325.3,406.9 325.2,406.6 325.1,406.1 325.0,405.6 324.8,405.1 324.7,404.6 324.6,404.3 324.5,404.3 324.4,404.3 324.3,404.4 324.1,404.4 324.0,404.5 323.9,404.6 323.8,404.6 323.7,404.7 323.6,404.7 323.5,405.2 323.3,405.8 323.2,406.4 323.1,407.0 323.0,407.6 322.9,407.8 322.8,407.3 322.6,406.8 322.5,406.3 322.4,405.8 322.3,405.3 322.2,405.2 322.1,405.2 321.9,405.2 321.8,405.2 321.7,405.2 321.6,405.2 321.5,405.1 321.4,405.1 321.3,405.1 321.1,405.2 321.0,405.7 320.9,406.1 320.8,406.6 320.7,407.1 320.6,407.5 320.4,407.1 320.3,406.6 320.2,406.0 320.1,405.4 320.0,404.8 319.9,404.4 319.8,404.4 319.6,404.3 319.5,404.3 319.4,404.3 319.3,404.3 319.2,404.2 319.1,404.2 318.9,404.2 318.8,404.2 318.7,404.7 318.6,405.2 318.5,405.7 318.4,406.2 318.3,406.8 318.1,407.0 318.0,406.5 317.9,406.0 317.8,405.5 317.7,405.0 317.6,404.5 317.4,404.4 317.3,404.4 317.2,404.5 317.1,404.5 317.0,404.5 316.9,404.5 316.8,404.5 316.6,404.5 316.5,404.5 316.4,404.6 316.3,405.1 316.2,405.6 316.1,406.1 315.9,406.6 315.8,407.0 315.7,406.7 315.6,406.1 315.5,405.5 315.4,405.0 315.3,404.4 315.1,404.0 315.0,404.0 314.9,403.9 314.8,403.9 314.7,403.8 314.6,403.8 314.4,403.8 314.3,403.8 314.2,403.7 314.1,403.7 314.0,404.1 313.9,404.7 313.7,405.2 313.6,405.7 313.5,406.2 313.4,406.4 313.3,405.9 313.2,405.5 313.1,405.0 312.9,404.6 312.8,404.1 312.7,404.1 312.6,404.1 312.5,404.2 312.4,404.3 312.2,404.3 312.1,404.4 312.0,404.4 311.9,404.5 311.8,404.6 311.7,404.8 311.6,405.4 311.4,406.0 311.3,406.5 311.2,407.1 311.1,407.7 311.0,407.3 310.9,406.8 310.7,406.3 310.6,405.8 310.5,405.3 310.4,404.9 310.3,404.9 310.2,404.9 310.1,404.9 309.9,404.9 309.8,404.8 309.7,404.8 309.6,404.8 309.5,404.7 309.4,404.7 309.2,405.1 309.1,405.6 309.0,406.1 308.9,406.6 308.8,407.1 308.7,407.2 308.6,406.7 308.4,406.2 308.3,405.6 308.2,405.1 308.1,404.6 308.0,404.5 307.9,404.5 307.7,404.5 307.6,404.5 307.5,404.5 307.4,404.5 307.3,404.6 307.2,404.6 307.1,404.6 306.9,404.8 306.8,405.4 306.7,405.9 306.6,406.5 306.5,407.0 306.4,407.6 306.2,407.3 306.1,406.8 306.0,406.3 305.9,405.8 305.8,405.2 305.7,404.9 305.6,404.9 305.4,404.9 305.3,404.8 305.2,404.8 305.1,404.8 305.0,404.7 304.9,404.7" fill="#add7f2"/>
<polyline points="304.8,346.8 304.9,338.6 305.0,333.2 305.1,331.2 305.3,332.7 305.4,337.6 305.5,345.4 305.6,355.5 305.7,366.9 305.8,378.4 306.0,389.1 306.1,398.0 306.2,404.1 306.3,407.1 306.4,406.4 306.5,402.3 306.6,395.2 306.8,385.6 306.9,374.4 307.0,362.8 307.1,351.8 307.2,342.4 307.3,335.5 307.5,331.7 307.6,331.5 307.7,334.7 307.8,341.2 307.9,350.3 308.0,361.1 308.1,372.7 308.3,384.0 308.4,393.9 308.5,401.5 308.6,406.0 308.7,407.2 308.8,404.8 309.0,399.1 309.1,390.6 309.2,380.1 309.3,368.6 309.4,357.2 309.5,346.8 309.7,338.6 309.8,333.2 309.9,331.2 310.0,332.7 310.1,337.6 310.2,345.4 310.3,355.5 310.5,366.9 310.6,378.4 310.7,389.2 310.8,398.0 310.9,404.2 311.0,407.1 311.2,406.5 311.3,402.4 311.4,395.2 311.5,385.6 311.6,374.4 311.7,362.8 311.8,351.8 312.0,342.4 312.1,335.5 312.2,331.7 312.3,331.5 312.4,334.7 312.5,341.2 312.7,350.2 312.8,361.1 312.9,372.7 313.0,384.0 313.1,393.9 313.2,401.5 313.3,406.1 313.5,407.2 313.6,404.8 313.7,399.1 313.8,390.6 313.9,380.1 314.0,368.6 314.2,357.2 314.3,346.8 314.4,338.6 314.5,333.2 314.6,331.1 314.7,332.6 314.8,337.6 315.0,345.4 315.1,355.5 315.2,366.9 315.3,378.4 315.4,389.2 315.5,398.0 315.7,404.2 315.8,407.1 315.9,406.5 316.0,402.4 316.1,395.2 316.2,385.6 316.3,374.4 316.5,362.8 316.6,351.8 316.7,342.4 316.8,335.5 316.9,331.7 317.0,331.4 317.2,334.7 317.3,341.2 317.4,350.2 317.5,361.1 317.6,372.7 317.7,384.0 317.8,393.9 318.0,401.5 318.1,406.1 318.2,407.2 318.3,404.9 318.4,399.1 318.5,390.6 318.7,380.1 318.8,368.6 318.9,357.1 319.0,346.8 319.1,338.5 319.2,333.1 319.4,331.1 319.5,332.6 319.6,337.5 319.7,345.4 319.8,355.5 319.9,366.9 320.0,378.4 320.2,389.2 320.3,398.0 320.4,404.2 320.5,407.1 320.6,406.5 320.7,402.4 320.9,395.2 321.0,385.6 321.1,374.4 321.2,362.8 321.3,351.8 321.4,342.4 321.5,335.4 321.7,331.7 321.8,331.4 321.9,334.7 322.0,341.1 322.1,350.2 322.2,361.1 322.4,372.7 322.5,384.0 322.6,393.9 322.7,401.5 322.8,406.1 322.9,407.3 323.0,404.9 323.2,399.2 323.3,390.7 323.4,380.1 323.5,368.6 323.6,357.1 323.7,346.8 323.9,338.5 324.0,333.1 324.1,331.1 324.2,332.6 324.3,337.5 324.4,345.4 324.5,355.5 324.7,366.9 324.8,378.5 324.9,389.2 325.0,398.0 325.1,404.2 325.2,407.1 325.4,406.5 325.5,402.4 325.6,395.2 325.7,385.6 325.8,374.4 325.9,362.8 326.0,351.8 326.2,342.3 326.3,335.4 326.4,331.7 326.5,331.4 326.6,334.6 326.7,341.1 326.9,350.2 327.0,361.1 327.1,372.7 327.2,384.0 327.3,393.9 327.4,401.5 327.5,406.1 327.7,407.3 327.8,404.9 327.9,399.2 328.0,390.7 328.1,380.1 328.2,368.6 328.4,357.1 328.5,346.8 328.6,338.5 328.7,333.1 328.8,331.1 328.9,332.6 329.1,337.5 329.2,345.4 329.3,355.5 329.4,366.9 329.5,378.5 329.6,389.2 329.7,398.1 329.9,404.2 330.0,407.2 330.1,406.5 330.2,402.4 330.3,395.2 330.4,385.6 330.6,374.4 330.7,362.8 330.8,351.7 330.9,342.3 331.0,335.4 331.1,331.6 331.2,331.4 331.4,334.6 331.5,341.1 331.6,350.2 331.7,361.1 331.8,372.7 331.9,384.0 332.1,393.9 332.2,401.5 332.3,406.1 332.4,407.3 332.5,404.9 332.6,399.2 332.7,390.7 332.9,380.2 333.0,368.6 333.1,357.1 333.2,346.8 333.3,338.5 333.4,333.1 333.6,331.0 333.7,332.6 333.8,337.5 333.9,345.4 334.0,355.5 334.1,366.9 334.2,378.5 334.4,389.2 334.5,398.1 334.6,404.3 334.7,407.2 334.8,406.6 334.9,402.5 335.1,395.2 335.2,385.6 335.3,374.4 335.4,362.8 335.5,351.7 335.6,342.3 335.7,335.4 335.9,331.6 336.0,331.3 336.1,334.6 336.2,341.1 336.3,350.2 336.4,361.1 336.6,372.7 336.7,384.0 336.8,393.9 336.9,401.6 337.0,406.2 337.1,407.3 337.2,404.9 337.4,399.2 337.5,390.7 337.6,380.2 337.7,368.6 337.8,357.1 337.9,346.8 338.1,338.5 338.2,333.1 338.3,331.0 338.4,332.5 338.5,337.5 338.6,345.4 338.8,355.5 338.9,366.9 339.0,378.5 339.1,389.2 339.2,398.1 339.3,404.3 339.4,407.2 339.6,406.6 339.7,402.5 339.8,395.3 339.9,385.6 340.0,374.5 340.1,362.8 340.3,351.7 340.4,342.3 340.5,335.4 340.6,331.6 340.7,331.3 340.8,334.6 340.9,341.1 341.1,350.2 341.2,361.1 341.3,372.7 341.4,384.0 341.5,394.0 341.6,401.6 341.8,406.2 341.9,407.3 342.0,405.0 342.1,399.2 342.2,390.7 342.3,380.2 342.4,368.6 342.6,357.1 342.7,346.7 342.8,338.5 342.9,333.0 343.0,331.0 343.1,332.5 343.3,337.5 343.4,345.3 343.5,355.5 343.6,366.9 343.7,378.5 343.8,389.2 343.9,398.1 344.1,404.3 344.2,407.2 344.3,406.6 344.4,402.5 344.5,395.3 344.6,385.6 344.8,374.5 344.9,362.8 345.0,351.7 345.1,342.3 345.2,335.3 345.3,331.6 345.4,331.3 345.6,334.6 345.7,341.1 345.8,350.2 345.9,361.1 346.0,372.7 346.1,384.0 346.3,394.0 346.4,401.6 346.5,406.2 346.6,407.4 346.7,405.0 346.8,399.3 347.0,390.7 347.1,380.2 347.2,368.6 347.3,357.1 347.4,346.7 347.5,338.4 347.6,332.9 347.8,330.9 347.9,332.4 348.0,337.3 348.1,345.2 348.2,355.4 348.3,366.8 348.5,378.5 348.6,389.3 348.7,398.3 348.8,404.5 348.9,407.5 349.0,406.9 349.1,402.7 349.3,395.5 349.4,385.8 349.5,374.5 349.6,362.7 349.7,351.6 349.8,342.0 350.0,335.0 350.1,331.2 350.2,330.9 350.3,334.2 350.4,340.8 350.5,350.0 350.6,361.0 350.8,372.7 350.9,384.2 351.0,394.2 351.1,402.0 351.2,406.6 351.3,407.8 351.5,405.4 351.6,399.6 351.7,391.0 351.8,380.3 351.9,368.6 352.0,356.9 352.1,346.4 352.3,338.0 352.4,332.5 352.5,330.4 352.6,331.9 352.7,337.0 352.8,345.0 353.0,355.2 353.1,366.8 353.2,378.6 353.3,389.6 353.4,398.6 353.5,404.9 353.6,407.9 353.8,407.3 353.9,403.1 354.0,395.8 354.1,385.9 354.2,374.6 354.3,362.7 354.5,351.4 354.6,341.7 354.7,334.7 354.8,330.8 354.9,330.5 355.0,333.8 355.1,340.5 355.3,349.8 355.4,360.9 355.5,372.8 355.6,384.4 355.7,394.5 355.8,402.3 356.0,407.1 356.1,408.3 356.2,405.8 356.3,400.0 356.4,391.2 356.5,380.4 356.7,368.6 356.8,356.8 356.9,346.2 357.0,337.7 357.1,332.1 357.2,330.0 357.3,331.5 357.5,336.6 357.6,344.7 357.7,355.1 357.8,366.8 357.9,378.7 358.0,389.8 358.2,398.9 358.3,405.3 358.4,408.3 358.5,407.7 358.6,403.5 358.7,396.1 358.8,386.1 359.0,374.6 359.1,362.6 359.2,351.2 359.3,341.4 359.4,334.3 359.5,330.4 359.7,330.1 359.8,333.4 359.9,340.1 360.0,349.5 360.1,360.8 360.2,372.8 360.3,384.5 360.5,394.8 360.6,402.7 360.7,407.5 360.8,408.7 360.9,406.2 361.0,400.3 361.2,391.5 361.3,380.6 361.4,368.6 361.5,356.7 361.6,345.9 361.7,337.3 361.8,331.7 362.0,329.6 362.1,331.1 362.2,336.2 362.3,344.4 362.4,354.9 362.5,366.8 362.7,378.8 362.8,390.0 362.9,399.3 363.0,405.8 363.1,408.9 363.2,408.2 363.3,404.0 363.5,396.5 363.6,386.4 363.7,374.7 363.8,362.5 363.9,350.9 364.0,341.0 364.2,333.7 364.3,329.7 364.4,329.3 364.5,332.8 364.6,339.6 364.7,349.1 364.8,360.6 365.0,372.9 365.1,384.9 365.2,395.4 365.3,403.5 365.4,408.4 365.5,409.6 365.7,407.1 365.8,401.1 365.9,392.0 366.0,380.9 366.1,368.6 366.2,356.3 366.4,345.3 366.5,336.4 366.6,330.6 366.7,328.4 366.8,330.0 366.9,335.3 367.0,343.7 367.2,354.5 367.3,366.7 367.4,379.1 367.5,390.7 367.6,400.3 367.7,406.9 367.9,410.1 368.0,409.5 368.1,405.1 368.2,397.3 368.3,386.9 368.4,374.9 368.5,362.3 368.7,350.3 368.8,340.1 368.9,332.6 369.0,328.4 369.1,328.1 369.2,331.6 369.4,338.7 369.5,348.5 369.6,360.4 369.7,373.0 369.8,385.3 369.9,396.2 370.0,404.5 370.2,409.6 370.3,410.9 370.4,408.3 370.5,402.0 370.6,392.7 370.7,381.2 370.9,368.6 371.0,355.9 371.1,344.5 371.2,335.4 371.3,329.5 371.4,327.2 371.5,328.8 371.7,334.2 371.8,342.9 371.9,354.0 372.0,366.6 372.1,379.4 372.2,391.3 372.4,401.2 372.5,408.1 372.6,411.3 372.7,410.7 372.8,406.1 372.9,398.1 373.0,387.5 373.2,375.0 373.3,362.1 373.4,349.7 373.5,339.2 373.6,331.5 373.7,327.2 373.9,326.9 374.0,330.5 374.1,337.7 374.2,347.9 374.3,360.1 374.4,373.1 374.5,385.8 374.7,397.0 374.8,405.6 374.9,410.8 375.0,412.1 375.1,409.4 375.2,403.0 375.4,393.4 375.5,381.6 375.6,368.5 375.7,355.5 375.8,343.8 375.9,334.4 376.1,328.2 376.2,325.8 376.3,327.5 376.4,333.0 376.5,342.0 376.6,353.5 376.7,366.5 376.9,379.8 377.0,392.1 377.1,402.4 377.2,409.5 377.3,412.9 377.4,412.2 377.6,407.6 377.7,399.3 377.8,388.2 377.9,375.3 378.0,361.8 378.1,348.9 378.2,338.0 378.4,329.9 378.5,325.4 378.6,325.1 378.7,328.8 378.8,336.4 378.9,347.0 379.1,359.7 379.2,373.3 379.3,386.6 379.4,398.3 379.5,407.3 379.6,412.7 379.7,414.2 379.9,411.4 380.0,404.7 380.1,394.6 380.2,382.2 380.3,368.5 380.4,354.9 380.6,342.5 380.7,332.7 380.8,326.2 380.9,323.7 381.0,325.4 381.1,331.3 381.2,340.7 381.4,352.8 381.5,366.4 381.6,380.3 381.7,393.3 381.8,404.0 381.9,411.5 382.1,415.0 382.2,414.3 382.3,409.4 382.4,400.7 382.5,389.1 382.6,375.6 382.7,361.4 382.9,348.0 383.0,336.5 383.1,328.0 383.2,323.4 383.3,323.0 383.4,326.9 383.6,334.8 383.7,345.9 383.8,359.2 383.9,373.5 384.0,387.4 384.1,399.6 384.3,409.1 384.4,414.8 384.5,416.3 384.6,413.4 384.7,406.3 384.8,395.8 384.9,382.8 385.1,368.5 385.2,354.2 385.3,341.3 385.4,331.0 385.5,324.2 385.6,321.6 385.8,323.4 385.9,329.5 386.0,339.4 386.1,352.0 386.2,366.3 386.3,380.8 386.4,394.4 386.6,405.6 386.7,413.4 386.8,417.1 386.9,416.4 387.0,411.2 387.1,402.2 387.3,390.0 387.4,375.9 387.5,361.1 387.6,347.0 387.7,335.0 387.8,326.1 387.9,321.3 388.1,320.9 388.2,325.0 388.3,333.2 388.4,344.9 388.5,358.8 388.6,373.7 388.8,388.2 388.9,401.0 389.0,410.8 389.1,416.8 389.2,418.4 389.3,415.3 389.4,408.0 389.6,397.0 389.7,383.4 389.8,368.4 389.9,353.5 390.0,340.0 390.1,329.3 390.3,322.2 390.4,319.5 390.5,321.4 390.6,327.8 390.7,338.0 390.8,351.2 390.9,366.1 391.1,381.4 391.2,395.5 391.3,407.2 391.4,415.3 391.5,419.3 391.6,418.6 391.8,413.3 391.9,403.8 392.0,391.1 392.1,376.2 392.2,360.6 392.3,345.8 392.4,333.0 392.6,323.6 392.7,318.4 392.8,317.9 392.9,322.2 393.0,330.9 393.1,343.2 393.3,358.1 393.4,374.0 393.5,389.6 393.6,403.3 393.7,413.9 393.8,420.4 394.0,422.2 394.1,419.0 394.2,411.1 394.3,399.3 394.4,384.6 394.5,368.4 394.6,352.2 394.8,337.5 394.9,325.7 395.0,317.9 395.1,314.9 395.2,316.9 395.3,323.8 395.5,335.0 395.6,349.5 395.7,365.8 395.8,382.6 395.9,398.1 396.0,411.1 396.1,420.2 396.3,424.5 396.4,423.8 396.5,417.9 396.6,407.4 396.7,393.3 396.8,376.9 397.0,359.7 397.1,343.4 397.2,329.3 397.3,318.9 397.4,313.2 397.5,312.7 397.6,317.4 397.8,327.0 397.9,340.6 398.0,356.9 398.1,374.5 398.2,391.6 398.3,406.7 398.5,418.4 398.6,425.5 398.7,427.4 398.8,423.9 398.9,415.3 399.0,402.3 399.1,386.2 399.3,368.3 399.4,350.4 399.5,334.1 399.6,321.1 399.7,312.4 399.8,309.0 400.0,311.2 400.1,318.9 400.2,331.3 400.3,347.3 400.4,365.5 400.5,384.1 400.6,401.5 400.8,415.9 400.9,426.1 401.0,431.0 401.1,430.2 401.2,423.6 401.3,412.0 401.5,396.2 401.6,377.9 401.7,358.6 401.8,340.2 401.9,324.4 402.0,312.7 402.1,306.2 402.3,305.6 402.4,310.9 402.5,321.7 402.6,337.0 402.7,355.4 402.8,375.2 403.0,394.5 403.1,411.7 403.2,424.9 403.3,433.0 403.4,435.2 403.5,431.2 403.7,421.4 403.8,406.7 403.9,388.4 404.0,368.2 404.1,347.9 404.2,329.6 404.3,314.8 404.5,305.1 404.6,301.2 404.7,303.7 404.8,312.3 404.9,326.3 405.0,344.4 405.2,365.0 405.3,386.0 405.4,405.7 405.5,422.0 405.6,433.5 405.7,439.1 405.8,438.1 406.0,430.7 406.1,417.6 406.2,399.8 406.3,379.0 406.4,357.2 406.5,336.4 406.7,318.5 406.8,305.3 406.9,297.9 407.0,297.2 407.1,303.2 407.2,315.4 407.3,332.7 407.5,353.5 407.6,376.0 407.7,397.9 407.8,417.3 407.9,432.3 408.0,441.5 408.2,443.9 408.3,439.5 408.4,428.4 408.5,411.7 408.6,390.9 408.7,368.0 408.8,345.1 409.0,324.3 409.1,307.6 409.2,296.5 409.3,292.2 409.4,295.0 409.5,304.8 409.7,320.7 409.8,341.2 409.9,364.4 410.0,388.2 410.1,410.4 410.2,428.8 410.3,441.8 410.5,448.1 410.6,447.0 410.7,438.6 410.8,423.7 410.9,403.6 411.0,380.2 411.2,355.7 411.3,332.3 411.4,312.2 411.5,297.3 411.6,289.1 411.7,288.3 411.8,295.1 412.0,308.8 412.1,328.3 412.2,351.7 412.3,376.8 412.4,401.3 412.5,423.0 412.7,439.8 412.8,450.0 412.9,452.8 413.0,447.7 413.1,435.3 413.2,416.6 413.4,393.5 413.5,367.9 413.6,342.3 413.7,319.1 413.8,300.5 413.9,288.2 414.0,283.4 414.2,286.6 414.3,297.6 414.4,315.2 414.5,338.0 414.6,363.9 414.7,390.3 414.9,415.0 415.0,435.4 415.1,449.8 415.2,456.8 415.3,455.6 415.4,446.3 415.5,429.7 415.7,407.5 415.8,381.5 415.9,354.2 416.0,328.2 416.1,305.9 416.2,289.3 416.4,280.2 416.5,279.3 416.6,286.9 416.7,302.1 416.8,323.7 416.9,349.7 417.0,377.6 417.2,404.9 417.3,429.0 417.4,447.6 417.5,459.0 417.6,462.1 417.7,456.5 417.9,442.8 418.0,422.1 418.1,396.3 418.2,367.8 418.3,339.2 418.4,313.2 418.5,292.3 418.7,278.5 418.8,276.2 418.9,276.5 419.0,288.7 419.1,308.6 419.2,334.2 419.4,363.2 419.5,393.0 419.6,420.8 419.7,443.9 419.8,460.2 419.9,462.2 420.0,462.2 420.2,456.3 420.3,437.7 420.4,412.5 420.5,383.1 420.6,352.2 420.7,322.7 420.9,297.4 421.0,278.6 421.1,276.2 421.2,276.2 421.3,276.2 421.4,293.0 421.6,317.5 421.7,347.0 421.8,378.8 421.9,409.9 422.0,437.3 422.1,458.6 422.2,462.2 422.4,462.2 422.5,462.2 422.6,453.1 422.7,429.4 422.8,400.0 422.9,367.6 423.1,335.0 423.2,305.6 423.3,281.8 423.4,276.2 423.5,276.2 423.6,276.2 423.7,277.9 423.9,300.4 424.0,329.5 424.1,362.4 424.2,396.2 424.3,427.6 424.4,453.8 424.6,462.2 424.7,462.2 424.8,462.2 424.9,462.2 425.0,446.6 425.1,418.1 425.2,384.9 425.4,350.0 425.5,316.8 425.6,288.2 425.7,276.2 425.8,276.2 425.9,276.2 426.1,276.2 426.2,283.4 426.3,311.1 426.4,344.3 426.5,380.0 426.6,414.7 426.7,445.4 426.9,462.2 427.0,462.2 427.1,462.2 427.2,462.2 427.3,462.2 427.4,436.1 427.6,403.4 427.7,367.4 427.8,331.4 427.9,298.8 428.0,276.2 428.1,276.2 428.2,276.2 428.4,276.2 428.5,276.2 428.6,293.6 428.7,325.6 428.8,361.8 428.9,398.7 429.1,433.1 429.2,461.6 429.3,462.2 429.4,462.2 429.5,462.2 429.6,462.2 429.7,453.3 429.9,422.3 430.0,386.2 430.1,348.4 430.2,312.5 430.3,281.7 430.4,276.2 430.6,276.2 430.7,276.2 430.8,276.2 430.9,276.9 431.0,306.7 431.1,342.4 431.3,380.8 431.4,418.2 431.5,451.1 431.6,462.2 431.7,462.2 431.8,462.2 431.9,462.2 432.1,462.2 432.2,441.1 432.3,405.9 432.4,367.2 432.5,328.6 432.6,293.6 432.8,276.2 432.9,276.2 433.0,276.2 433.1,276.2 433.2,276.2 433.3,288.1 433.4,322.4 433.6,361.2 433.7,400.9 433.8,437.8 433.9,462.2 434.0,462.2 434.1,462.2 434.3,462.2 434.4,462.2 434.5,459.3 434.6,426.1 434.7,387.4 434.8,346.9 434.9,308.4 435.1,276.2 435.2,276.2 435.3,276.2 435.4,276.2 435.5,276.2 435.6,276.2 435.8,302.3 435.9,340.5 436.0,381.6 436.1,421.6 436.2,456.9 436.3,462.2 436.4,462.2 436.6,462.2 436.7,462.2 436.8,462.2 436.9,446.1 437.0,408.5 437.1,367.1 437.3,325.8 437.4,288.4 437.5,276.2 437.6,276.2 437.7,276.2 437.8,276.2 437.9,276.2 438.1,282.5 438.2,319.2 438.3,360.7 438.4,403.1 438.5,442.4 438.6,462.2 438.8,462.2 438.9,462.2 439.0,462.2 439.1,462.2 439.2,462.2 439.3,429.9 439.4,388.6 439.6,345.4 439.7,304.3 439.8,276.2 439.9,276.2 440.0,276.2 440.1,276.2 440.3,276.2 440.4,276.2 440.5,297.8 440.6,338.6 440.7,382.4 440.8,425.1 441.0,462.2 441.1,462.2 441.2,462.2 441.3,462.2 441.4,462.2 441.5,462.2 441.6,451.1 441.8,411.0 441.9,367.0 442.0,323.0 442.1,283.1 442.2,276.2 442.3,276.2 442.5,276.2 442.6,276.2 442.7,276.2 442.8,277.0 442.9,316.0 443.0,360.1 443.1,405.2 443.3,447.1 443.4,462.2 443.5,462.2 443.6,462.2 443.7,462.2 443.8,462.2 444.0,462.2 444.1,433.2 444.2,389.7 444.3,344.2 444.4,301.1 444.5,276.2 444.6,276.2 444.8,276.2 444.9,276.2 445.0,276.2 445.1,276.2 445.2,295.1 445.3,337.5 445.5,382.9 445.6,426.9 445.7,462.2 445.8,462.2 445.9,462.2 446.0,462.2 446.1,462.2 446.3,462.2 446.4,452.9 446.5,411.9 446.6,366.9 446.7,322.1 446.8,281.7 447.0,276.2 447.1,276.2 447.2,276.2 447.3,276.2 447.4,276.2 447.5,276.3 447.6,315.7 447.8,360.1 447.9,405.3 448.0,447.2 448.1,462.2 448.2,462.2 448.3,462.2 448.5,462.2 448.6,462.2 448.7,462.2 448.8,433.2 448.9,389.7 449.0,344.2 449.1,301.1 449.3,276.2 449.4,276.2 449.5,276.2 449.6,276.2 449.7,276.2 449.8,276.2 450.0,295.1 450.1,337.5 450.2,382.9 450.3,426.9 450.4,462.2 450.5,462.2 450.7,462.2 450.8,462.2 450.9,462.2 451.0,462.2 451.1,452.9 451.2,411.9 451.3,366.9 451.5,322.1 451.6,281.7 451.7,276.2 451.8,276.2 451.9,276.2 452.0,276.2 452.2,276.2 452.3,276.3 452.4,315.7 452.5,360.1 452.6,405.3 452.7,447.2 452.8,462.2 453.0,462.2 453.1,462.2 453.2,462.2 453.3,462.2 453.4,462.2 453.5,433.2 453.7,389.7 453.8,344.2 453.9,301.1 454.0,276.2 454.1,276.2 454.2,276.2 454.3,276.2 454.5,276.2 454.6,276.2 454.7,295.1 454.8,337.5 454.9,382.9 455.0,426.9 455.2,462.2 455.3,462.2 455.4,462.2 455.5,462.2 455.6,462.2 455.7,462.2 455.8,452.9 456.0,411.9 456.1,366.9 456.2,322.1 456.3,281.7 456.4,276.2 456.5,276.2 456.7,276.2 456.8,276.2 456.9,276.2 457.0,276.3 457.1,315.7 457.2,360.1 457.3,405.3 457.5,447.2 457.6,462.2 457.7,462.2 457.8,462.2 457.9,462.2 458.0,462.2 458.2,462.2 458.3,433.2 458.4,389.7 458.5,344.2 458.6,301.1 458.7,276.2 458.9,276.2 459.0,276.2 459.1,276.2 459.2,276.2 459.3,276.2 459.4,295.1 459.5,337.5 459.7,382.9 459.8,426.9 459.9,462.2 460.0,462.2 460.1,462.2 460.2,462.2 460.4,462.2 460.5,462.2 460.6,452.9 460.7,411.9 460.8,366.9 460.9,322.1 461.0,281.7 461.2,276.2 461.3,276.2 461.4,276.2 461.5,276.2 461.6,276.2 461.7,276.3 461.9,315.7 462.0,360.1 462.1,405.3 462.2,447.2 462.3,462.2 462.4,462.2 462.5,462.2 462.7,462.2 462.8,462.2 462.9,462.2 463.0,433.2 463.1,389.7 463.2,344.2 463.4,301.1 463.5,276.2 463.6,276.2 463.7,276.2 463.8,276.2 463.9,276.2 464.0,276.2 464.2,295.1 464.3,337.5 464.4,382.9 464.5,426.9 464.6,462.2 464.7,462.2 464.9,462.2 465.0,462.2 465.1,462.2 465.2,462.2 465.3,452.9 465.4,411.9 465.5,366.9 465.7,322.1 465.8,281.7 465.9,276.2 466.0,276.2 466.1,276.2 466.2,276.2 466.4,276.2 466.5,276.3 466.6,315.7 466.7,360.1 466.8,405.3 466.9,447.2 467.0,462.2 467.2,462.2 467.3,462.2 467.4,462.2 467.5,462.2 467.6,462.2 467.7,433.2 467.9,389.7 468.0,344.2 468.1,301.1 468.2,276.2 468.3,276.2 468.4,276.2 468.6,276.2 468.7,276.2 468.8,276.2 468.9,295.1 469.0,337.5 469.1,382.9 469.2,426.9 469.4,462.2 469.5,462.2 469.6,462.2 469.7,462.2 469.8,462.2 469.9,462.2 470.1,452.9 470.2,411.9 470.3,366.9 470.4,322.1 470.5,281.7 470.6,276.2 470.7,276.2 470.9,276.2 471.0,276.2 471.1,276.2 471.2,276.3 471.3,315.7 471.4,360.1 471.6,405.3 471.7,447.2 471.8,462.2 471.9,462.2 472.0,462.2 472.1,462.2 472.2,462.2 472.4,462.2 472.5,433.2 472.6,389.7 472.7,344.2 472.8,301.1 472.9,276.2 473.1,276.2 473.2,276.2 473.3,276.2 473.4,276.2 473.5,276.2 473.6,295.1 473.7,337.5 473.9,382.9 474.0,426.9 474.1,462.2 474.2,462.2 474.3,462.2 474.4,462.2 474.6,462.2 474.7,462.2 474.8,452.9 474.9,411.9 475.0,366.9 475.1,322.1 475.2,281.7 475.4,276.2 475.5,276.2 475.6,276.2 475.7,276.2 475.8,276.2 475.9,276.3 476.1,315.7 476.2,360.1 476.3,405.3 476.4,447.2 476.5,462.2 476.6,462.2 476.7,462.2 476.9,462.2 477.0,462.2 477.1,462.2 477.2,433.2 477.3,389.7 477.4,344.2 477.6,301.1 477.7,276.2 477.8,276.2 477.9,276.2 478.0,276.2 478.1,276.2 478.3,276.2 478.4,295.1 478.5,337.5 478.6,382.9 478.7,426.9 478.8,462.2 478.9,462.2 479.1,462.2 479.2,462.2 479.3,462.2 479.4,462.2 479.5,452.9 479.6,411.9 479.8,366.9 479.9,322.1 480.0,281.7 480.1,276.2 480.2,276.2 480.3,276.2 480.4,276.2 480.6,276.2 480.7,276.3 480.8,315.7 480.9,360.1 481.0,405.3 481.1,447.2 481.3,462.2 481.4,462.2 481.5,462.2 481.6,462.2 481.7,462.2 481.8,462.2 481.9,433.2 482.1,389.7 482.2,344.2 482.3,301.1 482.4,276.2 482.5,276.2 482.6,276.2 482.8,276.2 482.9,276.2 483.0,276.2 483.1,295.1 483.2,337.5 483.3,382.9 483.4,426.9 483.6,462.2 483.7,462.2 483.8,462.2 483.9,462.2 484.0,462.2 484.1,462.2 484.3,452.9 484.4,411.9 484.5,366.9 484.6,322.1 484.7,281.7 484.8,276.2 484.9,276.2 485.1,276.2 485.2,276.2 485.3,276.2 485.4,276.3 485.5,315.7 485.6,360.1 485.8,405.3 485.9,447.2 486.0,462.2 486.1,462.2 486.2,462.2 486.3,462.2 486.5,462.2 486.6,462.2 486.7,433.2 486.8,389.7 486.9,344.2 487.0,301.1 487.1,276.2 487.3,276.2 487.4,276.2 487.5,276.2 487.6,276.2 487.7,276.2 487.8,295.1 488.0,337.5 488.1,382.9 488.2,426.9 488.3,462.2 488.4,462.2 488.5,462.2 488.6,462.2 488.8,462.2 488.9,462.2 489.0,452.9 489.1,411.9 489.2,366.9 489.3,322.1 489.5,281.7 489.6,276.2 489.7,276.2 489.8,276.2 489.9,276.2 490.0,276.2 490.1,276.3 490.3,315.7 490.4,360.1 490.5,405.3 490.6,447.2 490.7,462.2 490.8,462.2 491.0,462.2 491.1,462.2 491.2,462.2 491.3,462.2 491.4,433.2 491.5,389.7 491.6,344.2 491.8,301.1 491.9,276.2 492.0,276.2 492.1,276.2 492.2,276.2 492.3,276.2 492.5,276.2 492.6,295.1 492.7,337.5 492.8,382.9 492.9,426.9 493.0,462.2 493.1,462.2 493.3,462.2 493.4,462.2 493.5,462.2 493.6,462.2 493.7,452.9 493.8,411.9 494.0,366.9 494.1,322.1 494.2,281.7 494.3,276.2 494.4,276.2 494.5,276.2 494.6,276.2 494.8,276.2 494.9,276.3 495.0,315.7 495.1,360.1 495.2,405.3 495.3,447.2 495.5,462.2 495.6,462.2 495.7,462.2 495.8,462.2 495.9,462.2 496.0,462.2 496.2,433.2 496.3,389.7 496.4,344.2 496.5,301.1 496.6,276.2 496.7,276.2 496.8,276.2 497.0,276.2 497.1,276.2 497.2,276.2 497.3,295.1 497.4,337.5 497.5,382.9 497.7,426.9 497.8,462.2 497.9,462.2 498.0,462.2 498.1,462.2 498.2,462.2 498.3,462.2 498.5,452.9 498.6,411.9 498.7,366.9 498.8,322.1 498.9,281.7 499.0,276.2 499.2,276.2 499.3,276.2 499.4,276.2 499.5,276.2 499.6,276.3 499.7,315.7 499.8,360.1 500.0,405.3 500.1,447.2 500.2,462.2 500.3,462.2 500.4,462.2 500.5,462.2 500.7,462.2 500.8,462.2 500.9,433.2 501.0,389.7 501.1,344.2 501.2,301.1 501.3,276.2 501.5,276.2 501.6,276.2 501.7,276.2 501.8,276.2 501.9,276.2 502.0,295.1 502.2,337.5 502.3,382.9 502.4,426.9 502.5,462.2 502.6,462.2 502.7,462.2 502.8,462.2 503.0,462.2 503.1,462.2 503.2,452.9 503.3,411.9 503.4,366.9 503.5,322.1 503.7,281.7 503.8,276.2 503.9,276.2 504.0,276.2 504.1,276.2 504.2,276.2 504.3,276.3 504.5,315.7 504.6,360.1 504.7,405.3 504.8,447.2 504.9,462.2 505.0,462.2 505.2,462.2 505.3,462.2 505.4,462.2 505.5,462.2 505.6,433.2 505.7,389.7 505.9,344.2 506.0,301.1 506.1,276.2 506.2,276.2 506.3,276.2 506.4,276.2 506.5,276.2 506.7,276.2 506.8,295.1 506.9,337.5 507.0,382.9 507.1,426.9 507.2,462.2 507.4,462.2 507.5,462.2 507.6,462.2 507.7,462.2 507.8,462.2 507.9,452.9 508.0,411.9 508.2,366.9 508.3,322.1 508.4,281.7 508.5,276.2 508.6,276.2 508.7,276.2 508.9,276.2 509.0,276.2 509.1,276.3 509.2,315.7 509.3,360.1 509.4,405.3 509.5,447.2 509.7,462.2 509.8,462.2 509.9,462.2 510.0,462.2 510.1,462.2 510.2,462.2 510.4,433.2 510.5,389.7 510.6,344.2 510.7,301.1 510.8,276.2 510.9,276.2 511.0,276.2 511.2,276.2 511.3,276.2 511.4,276.2 511.5,295.1 511.6,337.5 511.7,382.9 511.9,426.9 512.0,462.2 512.1,462.2 512.2,462.2 512.3,462.2 512.4,462.2 512.5,462.2 512.7,452.9 512.8,411.9 512.9,366.9 513.0,322.1 513.1,281.7 513.2,276.2 513.4,276.2 513.5,276.2 513.6,276.2 513.7,276.2 513.8,276.3 513.9,315.7 514.0,360.1 514.2,405.3 514.3,447.2 514.4,462.2 514.5,462.2 514.6,462.2 514.7,462.2 514.9,462.2 515.0,462.2 515.1,433.2 515.2,389.7 515.3,344.2 515.4,301.1 515.6,276.2 515.7,276.2 515.8,276.2 515.9,276.2 516.0,276.2 516.1,276.2 516.2,295.1 516.4,337.5 516.5,382.9 516.6,426.9 516.7,462.2 516.8,462.2 516.9,462.2 517.1,462.2 517.2,462.2 517.3,462.2 517.4,452.9 517.5,411.9 517.6,366.9 517.7,322.1 517.9,281.7 518.0,276.2 518.1,276.2 518.2,276.2 518.3,276.2 518.4,276.2 518.6,276.3 518.7,315.7 518.8,360.1 518.9,405.3 519.0,447.2 519.1,462.2 519.2,462.2 519.4,462.2 519.5,462.2 519.6,462.2 519.7,462.2 519.8,433.2 519.9,389.7 520.1,344.2 520.2,301.1 520.3,276.2 520.4,276.2 520.5,276.2 520.6,276.2 520.7,276.2 520.9,276.2 521.0,295.1 521.1,337.5 521.2,382.9 521.3,426.9 521.4,462.2 521.6,462.2 521.7,462.2 521.8,462.2 521.9,462.2 522.0,462.2 522.1,452.9 522.2,411.9 522.4,366.9 522.5,322.1 522.6,281.7 522.7,276.2 522.8,276.2 522.9,276.2 523.1,276.2 523.2,276.2 523.3,276.3 523.4,315.7 523.5,360.1 523.6,405.3 523.8,447.2 523.9,462.2 524.0,462.2 524.1,462.2 524.2,462.2 524.3,462.2 524.4,462.2 524.6,433.2 524.7,389.7 524.8,344.2 524.9,301.1 525.0,276.2 525.1,276.2 525.3,276.2 525.4,276.2 525.5,276.2 525.6,276.2 525.7,295.1 525.8,337.5 525.9,382.9 526.1,426.9 526.2,462.2 526.3,462.2 526.4,462.2 526.5,462.2 526.6,462.2 526.8,462.2 526.9,452.9 527.0,411.9 527.1,366.9 527.2,322.1 527.3,281.7 527.4,276.2 527.6,276.2 527.7,276.2 527.8,276.2 527.9,276.2 528.0,276.3 528.1,315.7 528.3,360.1 528.4,405.3 528.5,447.2 528.6,462.2 528.7,462.2 528.8,462.2 528.9,462.2 529.1,462.2 529.2,462.2 529.3,433.2 529.4,389.7 529.5,344.2 529.6,301.1 529.8,276.2 529.9,276.2 530.0,276.2 530.1,276.2 530.2,276.2 530.3,276.2 530.4,295.1 530.6,337.5 530.7,382.9 530.8,426.9 530.9,462.2 531.0,462.2 531.1,462.2 531.3,462.2 531.4,462.2 531.5,462.2 531.6,452.9 531.7,411.9 531.8,366.9 531.9,322.1 532.1,281.7 532.2,276.2 532.3,276.2 532.4,276.2 532.5,276.2 532.6,276.2 532.8,276.3 532.9,315.7 533.0,360.1 533.1,405.3 533.2,447.2 533.3,462.2 533.5,462.2 533.6,462.2 533.7,462.2 533.8,462.2 533.9,462.2 534.0,433.2 534.1,389.7 534.3,344.2 534.4,301.1 534.5,276.2 534.6,276.2 534.7,276.2 534.8,276.2 535.0,276.2 535.1,276.2 535.2,295.1 535.3,337.5 535.4,382.9 535.5,426.9 535.6,462.2 535.8,462.2 535.9,462.2 536.0,462.2 536.1,462.2 536.2,462.2 536.3,452.9 536.5,411.9 536.6,366.9 536.7,322.1 536.8,281.7 536.9,276.2 537.0,276.2 537.1,276.2 537.3,276.2 537.4,276.2 537.5,276.3 537.6,315.7 537.7,360.1 537.8,405.3 538.0,447.2 538.1,462.2 538.2,462.2 538.3,462.2 538.4,462.2 538.5,462.2 538.6,462.2 538.8,433.2 538.9,389.7 539.0,344.2 539.1,301.1 539.2,276.2" fill="none" stroke="#5f9fd4" stroke-opacity="0.85" stroke-width="0.32"/>
<polyline points="304.8,338.4 305.0,346.6 305.3,356.9 305.5,368.3 305.7,379.8 306.0,390.4 306.2,398.9 306.4,404.7 306.6,407.2 306.9,406.1 307.1,401.6 307.3,394.1 307.6,384.2 307.8,373.0 308.0,361.4 308.3,350.5 308.5,341.4 308.7,334.8 309.0,331.5 309.2,331.7 309.4,335.4 309.7,342.2 309.9,351.5 310.1,362.5 310.3,374.1 310.6,385.3 310.8,395.0 311.0,402.2 311.3,406.4 311.5,407.1 311.7,404.3 312.0,398.2 312.2,389.4 312.4,378.7 312.7,367.2 312.9,355.8 313.1,345.7 313.3,337.7 313.6,332.7 313.8,331.1 314.0,333.1 314.3,338.4 314.5,346.6 314.7,356.9 315.0,368.3 315.2,379.9 315.4,390.4 315.7,399.0 315.9,404.7 316.1,407.2 316.3,406.1 316.6,401.6 316.8,394.1 317.0,384.2 317.3,373.0 317.5,361.4 317.7,350.5 318.0,341.3 318.2,334.8 318.4,331.5 318.7,331.6 318.9,335.3 319.1,342.2 319.4,351.5 319.6,362.5 319.8,374.1 320.0,385.3 320.3,395.0 320.5,402.3 320.7,406.4 321.0,407.1 321.2,404.3 321.4,398.2 321.7,389.4 321.9,378.7 322.1,367.2 322.4,355.8 322.6,345.6 322.8,337.7 323.0,332.7 323.3,331.1 323.5,333.0 323.7,338.4 324.0,346.6 324.2,356.9 324.4,368.3 324.7,379.9 324.9,390.4 325.1,399.0 325.4,404.8 325.6,407.3 325.8,406.2 326.0,401.7 326.3,394.1 326.5,384.3 326.7,373.0 327.0,361.4 327.2,350.5 327.4,341.3 327.7,334.8 327.9,331.4 328.1,331.6 328.4,335.3 328.6,342.1 328.8,351.5 329.1,362.5 329.3,374.2 329.5,385.3 329.7,395.0 330.0,402.3 330.2,406.5 330.4,407.2 330.7,404.4 330.9,398.3 331.1,389.4 331.4,378.7 331.6,367.2 331.8,355.8 332.1,345.6 332.3,337.7 332.5,332.6 332.7,331.0 333.0,333.0 333.2,338.3 333.4,346.5 333.7,356.9 333.9,368.3 334.1,379.9 334.4,390.4 334.6,399.0 334.8,404.8 335.1,407.3 335.3,406.2 335.5,401.7 335.7,394.2 336.0,384.3 336.2,373.0 336.4,361.4 336.7,350.4 336.9,341.3 337.1,334.7 337.4,331.4 337.6,331.6 337.8,335.2 338.1,342.1 338.3,351.5 338.5,362.5 338.8,374.2 339.0,385.4 339.2,395.0 339.4,402.3 339.7,406.5 339.9,407.2 340.1,404.4 340.4,398.3 340.6,389.5 340.8,378.8 341.1,367.2 341.3,355.7 341.5,345.6 341.8,337.6 342.0,332.6 342.2,331.0 342.4,333.0 342.7,338.3 342.9,346.5 343.1,356.8 343.4,368.3 343.6,379.9 343.8,390.5 344.1,399.0 344.3,404.9 344.5,407.3 344.8,406.3 345.0,401.7 345.2,394.2 345.4,384.3 345.7,373.0 345.9,361.3 346.1,350.4 346.4,341.3 346.6,334.7 346.8,331.3 347.1,331.5 347.3,335.1 347.5,342.0 347.8,351.4 348.0,362.5 348.2,374.2 348.5,385.5 348.7,395.2 348.9,402.6 349.1,406.8 349.4,407.5 349.6,404.7 349.8,398.6 350.1,389.7 350.3,378.9 350.5,367.1 350.8,355.6 351.0,345.3 351.2,337.2 351.5,332.1 351.7,330.5 351.9,332.5 352.1,337.8 352.4,346.2 352.6,356.6 352.8,368.3 353.1,380.1 353.3,390.8 353.5,399.6 353.8,405.5 354.0,408.1 354.2,407.0 354.5,402.4 354.7,394.7 354.9,384.6 355.1,373.1 355.4,361.2 355.6,350.0 355.8,340.6 356.1,333.9 356.3,330.4 356.5,330.6 356.8,334.4 357.0,341.4 357.2,351.0 357.5,362.3 357.7,374.3 357.9,385.8 358.2,395.8 358.4,403.3 358.6,407.6 358.8,408.4 359.1,405.5 359.3,399.2 359.5,390.1 359.8,379.1 360.0,367.1 360.2,355.3 360.5,344.8 360.7,336.5 360.9,331.3 361.2,329.6 361.4,331.6 361.6,337.1 361.8,345.7 362.1,356.4 362.3,368.3 362.5,380.3 362.8,391.3 363.0,400.3 363.2,406.4 363.5,409.1 363.7,408.0 363.9,403.3 364.2,395.4 364.4,385.1 364.6,373.2 364.8,360.9 365.1,349.4 365.3,339.6 365.5,332.6 365.8,329.0 366.0,329.2 366.2,333.0 366.5,340.3 366.7,350.3 366.9,362.0 367.2,374.5 367.4,386.5 367.6,397.0 367.9,404.8 368.1,409.4 368.3,410.2 368.5,407.2 368.8,400.7 369.0,391.2 369.2,379.6 369.5,367.0 369.7,354.5 369.9,343.5 370.2,334.7 370.4,329.2 370.6,327.4 370.9,329.5 371.1,335.3 371.3,344.3 371.5,355.6 371.8,368.2 372.0,381.0 372.2,392.7 372.5,402.2 372.7,408.7 372.9,411.5 373.2,410.4 373.4,405.4 373.6,397.1 373.9,386.1 374.1,373.4 374.3,360.4 374.5,348.2 374.8,337.8 375.0,330.4 375.2,326.6 375.5,326.7 375.7,330.8 375.9,338.5 376.2,349.0 376.4,361.6 376.6,374.9 376.9,387.7 377.1,398.9 377.3,407.3 377.6,412.2 377.8,413.2 378.0,410.0 378.2,403.0 378.5,392.8 378.7,380.3 378.9,366.8 379.2,353.4 379.4,341.5 379.6,332.0 379.9,326.0 380.1,324.0 380.3,326.3 380.6,332.5 380.8,342.2 381.0,354.5 381.2,368.1 381.5,382.0 381.7,394.7 381.9,405.1 382.2,412.2 382.4,415.3 382.6,414.1 382.9,408.7 383.1,399.6 383.3,387.6 383.6,373.8 383.8,359.6 384.0,346.2 384.3,334.8 384.5,326.6 384.7,322.4 384.9,322.5 385.2,327.0 385.4,335.5 385.6,347.1 385.9,360.8 386.1,375.4 386.3,389.5 386.6,401.7 386.8,411.0 387.0,416.4 387.3,417.4 387.5,413.9 387.7,406.2 387.9,395.0 388.2,381.4 388.4,366.6 388.6,351.9 388.9,338.8 389.1,328.5 389.3,322.0 389.6,319.8 389.8,322.2 390.0,329.1 390.3,339.7 390.5,353.1 390.7,368.1 390.9,383.2 391.2,397.1 391.4,408.4 391.6,416.3 391.9,419.8 392.1,418.7 392.3,412.8 392.6,402.9 392.8,389.6 393.0,374.4 393.3,358.5 393.5,343.4 393.7,330.6 394.0,321.3 394.2,316.4 394.4,316.4 394.6,321.3 394.9,330.8 395.1,344.0 395.3,359.6 395.6,376.3 395.8,392.5 396.0,406.7 396.3,417.4 396.5,423.8 396.7,425.1 397.0,421.2 397.2,412.3 397.4,399.4 397.6,383.5 397.9,366.1 398.1,348.9 398.3,333.4 398.6,321.1 398.8,313.2 399.0,310.3 399.3,313.0 399.5,321.0 399.7,333.6 400.0,349.7 400.2,367.8 400.4,386.3 400.6,403.4 400.9,417.6 401.1,427.3 401.3,431.8 401.6,430.4 401.8,423.2 402.0,410.9 402.3,394.6 402.5,375.6 402.7,355.9 403.0,337.1 403.2,321.2 403.4,309.5 403.7,303.4 403.9,303.3 404.1,309.4 404.3,321.2 404.6,337.6 404.8,357.2 405.0,378.1 405.3,398.5 405.5,416.4 405.7,430.1 406.0,438.2 406.2,440.0 406.4,435.1 406.7,424.0 406.9,407.6 407.1,387.4 407.3,365.3 407.6,343.2 407.8,323.3 408.0,307.5 408.3,297.3 408.5,293.7 408.7,297.1 409.0,307.4 409.2,323.6 409.4,344.2 409.7,367.4 409.9,391.1 410.1,412.9 410.3,430.9 410.6,443.4 410.8,448.9 411.0,447.1 411.3,438.0 411.5,422.3 411.7,401.4 412.0,377.4 412.2,352.3 412.4,328.5 412.7,308.3 412.9,293.6 413.1,285.9 413.4,285.9 413.6,293.7 413.8,308.6 414.0,329.4 414.3,354.1 414.5,380.5 414.7,406.0 415.0,428.4 415.2,445.5 415.4,455.7 415.7,457.8 415.9,451.6 416.1,437.7 416.4,417.2 416.6,391.9 416.8,364.3 417.0,336.8 417.3,312.1 417.5,292.5 417.7,279.8 418.0,276.2 418.2,279.5 418.4,292.2 418.7,312.3 418.9,338.0 419.1,367.0 419.4,396.6 419.6,424.0 419.8,446.6 420.0,462.2 420.3,462.2 420.5,462.2 420.7,455.7 421.0,436.0 421.2,409.8 421.4,379.5 421.7,347.8 421.9,317.7 422.1,292.1 422.4,276.2 422.6,276.2 422.8,276.2 423.1,276.2 423.3,292.1 423.5,318.5 423.7,349.9 424.0,383.6 424.2,416.2 424.4,444.8 424.7,462.2 424.9,462.2 425.1,462.2 425.4,462.2 425.6,456.8 425.8,430.5 426.1,398.3 426.3,362.9 426.5,327.9 426.7,296.5 427.0,276.2 427.2,276.2 427.4,276.2 427.7,276.2 427.9,276.2 428.1,297.8 428.4,330.2 428.6,366.4 428.8,403.2 429.1,437.0 429.3,462.2 429.5,462.2 429.7,462.2 430.0,462.2 430.2,462.2 430.4,450.6 430.7,418.6 430.9,381.7 431.1,343.4 431.4,307.2 431.6,276.6 431.8,276.2 432.1,276.2 432.3,276.2 432.5,276.2 432.8,277.8 433.0,309.2 433.2,346.5 433.4,386.1 433.7,424.4 433.9,457.9 434.1,462.2 434.4,462.2 434.6,462.2 434.8,462.2 435.1,462.2 435.3,440.1 435.5,402.7 435.8,362.0 436.0,321.7 436.2,285.5 436.4,276.2 436.7,276.2 436.9,276.2 437.1,276.2 437.4,276.2 437.6,287.3 437.8,324.4 438.1,366.0 438.3,408.2 438.5,446.9 438.8,462.2 439.0,462.2 439.2,462.2 439.4,462.2 439.7,462.2 439.9,462.2 440.1,425.6 440.4,383.4 440.6,339.7 440.8,298.5 441.1,276.2 441.3,276.2 441.5,276.2 441.8,276.2 442.0,276.2 442.2,276.2 442.5,300.9 442.7,343.3 442.9,388.4 443.1,432.0 443.4,462.2 443.6,462.2 443.8,462.2 444.1,462.2 444.3,462.2 444.5,462.2 444.8,448.2 445.0,406.4 445.2,361.2 445.5,316.8 445.7,277.2 445.9,276.2 446.1,276.2 446.4,276.2 446.6,276.2 446.8,276.2 447.1,280.8 447.3,321.1 447.5,365.8 447.8,410.8 448.0,452.0 448.2,462.2 448.5,462.2 448.7,462.2 448.9,462.2 449.1,462.2 449.4,462.2 449.6,428.0 449.8,384.0 450.1,338.6 450.3,296.1 450.5,276.2 450.8,276.2 451.0,276.2 451.2,276.2 451.5,276.2 451.7,276.2 451.9,300.1 452.2,343.1 452.4,388.5 452.6,432.1 452.8,462.2 453.1,462.2 453.3,462.2 453.5,462.2 453.8,462.2 454.0,462.2 454.2,448.2 454.5,406.4 454.7,361.2 454.9,316.8 455.2,277.2 455.4,276.2 455.6,276.2 455.8,276.2 456.1,276.2 456.3,276.2 456.5,280.8 456.8,321.1 457.0,365.8 457.2,410.8 457.5,452.0 457.7,462.2 457.9,462.2 458.2,462.2 458.4,462.2 458.6,462.2 458.9,462.2 459.1,428.0 459.3,384.0 459.5,338.6 459.8,296.1 460.0,276.2 460.2,276.2 460.5,276.2 460.7,276.2 460.9,276.2 461.2,276.2 461.4,300.1 461.6,343.1 461.9,388.5 462.1,432.1 462.3,462.2 462.5,462.2 462.8,462.2 463.0,462.2 463.2,462.2 463.5,462.2 463.7,448.2 463.9,406.4 464.2,361.2 464.4,316.8 464.6,277.2 464.9,276.2 465.1,276.2 465.3,276.2 465.5,276.2 465.8,276.2 466.0,280.8 466.2,321.1 466.5,365.8 466.7,410.8 466.9,452.0 467.2,462.2 467.4,462.2 467.6,462.2 467.9,462.2 468.1,462.2 468.3,462.2 468.6,428.0 468.8,384.0 469.0,338.6 469.2,296.1 469.5,276.2 469.7,276.2 469.9,276.2 470.2,276.2 470.4,276.2 470.6,276.2 470.9,300.1 471.1,343.1 471.3,388.5 471.6,432.1 471.8,462.2 472.0,462.2 472.2,462.2 472.5,462.2 472.7,462.2 472.9,462.2 473.2,448.2 473.4,406.4 473.6,361.2 473.9,316.8 474.1,277.2 474.3,276.2 474.6,276.2 474.8,276.2 475.0,276.2 475.2,276.2 475.5,280.8 475.7,321.1 475.9,365.8 476.2,410.8 476.4,452.0 476.6,462.2 476.9,462.2 477.1,462.2 477.3,462.2 477.6,462.2 477.8,462.2 478.0,428.0 478.3,384.0 478.5,338.6 478.7,296.1 478.9,276.2 479.2,276.2 479.4,276.2 479.6,276.2 479.9,276.2 480.1,276.2 480.3,300.1 480.6,343.1 480.8,388.5 481.0,432.1 481.3,462.2 481.5,462.2 481.7,462.2 481.9,462.2 482.2,462.2 482.4,462.2 482.6,448.2 482.9,406.4 483.1,361.2 483.3,316.8 483.6,277.2 483.8,276.2 484.0,276.2 484.3,276.2 484.5,276.2 484.7,276.2 484.9,280.8 485.2,321.1 485.4,365.8 485.6,410.8 485.9,452.0 486.1,462.2 486.3,462.2 486.6,462.2 486.8,462.2 487.0,462.2 487.3,462.2 487.5,428.0 487.7,384.0 488.0,338.6 488.2,296.1 488.4,276.2 488.6,276.2 488.9,276.2 489.1,276.2 489.3,276.2 489.6,276.2 489.8,300.1 490.0,343.1 490.3,388.5 490.5,432.1 490.7,462.2 491.0,462.2 491.2,462.2 491.4,462.2 491.6,462.2 491.9,462.2 492.1,448.2 492.3,406.4 492.6,361.2 492.8,316.8 493.0,277.2 493.3,276.2 493.5,276.2 493.7,276.2 494.0,276.2 494.2,276.2 494.4,280.8 494.6,321.1 494.9,365.8 495.1,410.8 495.3,452.0 495.6,462.2 495.8,462.2 496.0,462.2 496.3,462.2 496.5,462.2 496.7,462.2 497.0,428.0 497.2,384.0 497.4,338.6 497.7,296.1 497.9,276.2 498.1,276.2 498.3,276.2 498.6,276.2 498.8,276.2 499.0,276.2 499.3,300.1 499.5,343.1 499.7,388.5 500.0,432.1 500.2,462.2 500.4,462.2 500.7,462.2 500.9,462.2 501.1,462.2 501.3,462.2 501.6,448.2 501.8,406.4 502.0,361.2 502.3,316.8 502.5,277.2 502.7,276.2 503.0,276.2 503.2,276.2 503.4,276.2 503.7,276.2 503.9,280.8 504.1,321.1 504.3,365.8 504.6,410.8 504.8,452.0 505.0,462.2 505.3,462.2 505.5,462.2 505.7,462.2 506.0,462.2 506.2,462.2 506.4,428.0 506.7,384.0 506.9,338.6 507.1,296.1 507.4,276.2 507.6,276.2 507.8,276.2 508.0,276.2 508.3,276.2 508.5,276.2 508.7,300.1 509.0,343.1 509.2,388.5 509.4,432.1 509.7,462.2 509.9,462.2 510.1,462.2 510.4,462.2 510.6,462.2 510.8,462.2 511.0,448.2 511.3,406.4 511.5,361.2 511.7,316.8 512.0,277.2 512.2,276.2 512.4,276.2 512.7,276.2 512.9,276.2 513.1,276.2 513.4,280.8 513.6,321.1 513.8,365.8 514.0,410.8 514.3,452.0 514.5,462.2 514.7,462.2 515.0,462.2 515.2,462.2 515.4,462.2 515.7,462.2 515.9,428.0 516.1,384.0 516.4,338.6 516.6,296.1 516.8,276.2 517.1,276.2 517.3,276.2 517.5,276.2 517.7,276.2 518.0,276.2 518.2,300.1 518.4,343.1 518.7,388.5 518.9,432.1 519.1,462.2 519.4,462.2 519.6,462.2 519.8,462.2 520.1,462.2 520.3,462.2 520.5,448.2 520.7,406.4 521.0,361.2 521.2,316.8 521.4,277.2 521.7,276.2 521.9,276.2 522.1,276.2 522.4,276.2 522.6,276.2 522.8,280.8 523.1,321.1 523.3,365.8 523.5,410.8 523.8,452.0 524.0,462.2 524.2,462.2 524.4,462.2 524.7,462.2 524.9,462.2 525.1,462.2 525.4,428.0 525.6,384.0 525.8,338.6 526.1,296.1 526.3,276.2 526.5,276.2 526.8,276.2 527.0,276.2 527.2,276.2 527.4,276.2 527.7,300.1 527.9,343.1 528.1,388.5 528.4,432.1 528.6,462.2 528.8,462.2 529.1,462.2 529.3,462.2 529.5,462.2 529.8,462.2 530.0,448.2 530.2,406.4 530.4,361.2 530.7,316.8 530.9,277.2 531.1,276.2 531.4,276.2 531.6,276.2 531.8,276.2 532.1,276.2 532.3,280.8 532.5,321.1 532.8,365.8 533.0,410.8 533.2,452.0 533.5,462.2 533.7,462.2 533.9,462.2 534.1,462.2 534.4,462.2 534.6,462.2 534.8,428.0 535.1,384.0 535.3,338.6 535.5,296.1 535.8,276.2 536.0,276.2 536.2,276.2 536.5,276.2 536.7,276.2 536.9,276.2 537.1,300.1 537.4,343.1 537.6,388.5 537.8,432.1 538.1,462.2 538.3,462.2 538.5,462.2 538.8,462.2 539.0,462.2 539.2,462.2" fill="none" stroke="#5f9fd4" stroke-opacity="0.45" stroke-width="0.5"/>
</g>
<path clip-path="url(#clip3)" d="M333.67 276.20V462.20M362.54 276.20V462.20M391.41 276.20V462.20M420.28 276.20V462.20M449.15 276.20V462.20M478.02 276.20V462.20M506.89 276.20V462.20M535.76 276.20V462.20M304.80 294.80H541.30M304.80 313.40H541.30M304.80 332.00H541.30M304.80 350.60H541.30M304.80 369.20H541.30M304.80 387.80H541.30M304.80 406.40H541.30M304.80 425.00H541.30M304.80 443.60H541.30" stroke="#3c78aa" stroke-opacity="0.05" stroke-width="0.6" fill="none"/>
<path d="M333.67 462.20v-2.3M333.67 276.20v2.3M362.54 462.20v-2.3M362.54 276.20v2.3M391.41 462.20v-2.3M391.41 276.20v2.3M420.28 462.20v-2.3M420.28 276.20v2.3M449.15 462.20v-2.3M449.15 276.20v2.3M478.02 462.20v-2.3M478.02 276.20v2.3M506.89 462.20v-2.3M506.89 276.20v2.3M535.76 462.20v-2.3M535.76 276.20v2.3M304.80 276.20h2.3M541.30 276.20h-2.3M304.80 294.80h2.3M541.30 294.80h-2.3M304.80 313.40h2.3M541.30 313.40h-2.3M304.80 332.00h2.3M541.30 332.00h-2.3M304.80 350.60h2.3M541.30 350.60h-2.3M304.80 369.20h2.3M541.30 369.20h-2.3M304.80 387.80h2.3M541.30 387.80h-2.3M304.80 406.40h2.3M541.30 406.40h-2.3M304.80 425.00h2.3M541.30 425.00h-2.3M304.80 443.60h2.3M541.30 443.60h-2.3M304.80 462.20h2.3M541.30 462.20h-2.3" stroke="#8c8c8c" stroke-width="0.7" fill="none"/>
<rect x="539.40" y="368.90" width="1.9" height="1.1" fill="#4a8fc8"/>
<g class="tk" text-anchor="end">
<text x="302.20" y="278.75">1.0</text>
<text x="302.20" y="297.35">0.8</text>
<text x="302.20" y="315.95">0.6</text>
<text x="302.20" y="334.55">0.4</text>
<text x="302.20" y="353.15">0.2</text>
<text x="302.20" y="371.75">0.0</text>
<text x="302.20" y="390.35"><tspan font-size="10.6px" dy="0.75">−</tspan><tspan dy="-0.75">0.2</tspan></text>
<text x="302.20" y="408.95"><tspan font-size="10.6px" dy="0.75">−</tspan><tspan dy="-0.75">0.4</tspan></text>
<text x="302.20" y="427.55"><tspan font-size="10.6px" dy="0.75">−</tspan><tspan dy="-0.75">0.6</tspan></text>
<text x="302.20" y="446.15"><tspan font-size="10.6px" dy="0.75">−</tspan><tspan dy="-0.75">0.8</tspan></text>
<text x="302.20" y="464.75"><tspan font-size="10.6px" dy="0.75">−</tspan><tspan dy="-0.75">1.0</tspan></text>
</g>
<g class="tk" text-anchor="middle">
<text x="333.87" y="472.20">500</text>
<text x="362.74" y="472.20">1,<tspan dx="1.2">000</tspan></text>
<text x="391.61" y="472.20">1,<tspan dx="1.2">500</tspan></text>
<text x="420.48" y="472.20">2,<tspan dx="1.2">000</tspan></text>
<text x="449.35" y="472.20">2,<tspan dx="1.2">500</tspan></text>
<text x="478.22" y="472.20">3,<tspan dx="1.2">000</tspan></text>
<text x="507.09" y="472.20">3,<tspan dx="1.2">500</tspan></text>
<text x="535.96" y="472.20">4,<tspan dx="1.2">000</tspan></text>
</g>
<text class="lb" text-anchor="middle" x="423.25" y="483.10">Samples</text>
<text class="lb" text-anchor="middle" transform="translate(283.30 369.40) rotate(-90)">Current [A]</text>
<text class="tt" text-anchor="middle" x="423.55" y="272.20">Current signal (Healthy)</text>
<text class="cp" text-anchor="middle" x="407.30" y="502.60">(<tspan font-weight="bold">c</tspan>)</text>
</g>
</svg>
</body></html>
